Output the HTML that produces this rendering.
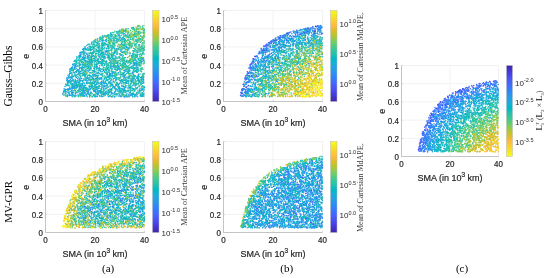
<!DOCTYPE html>
<html><head><meta charset="utf-8"><title>Figure</title>
<style>html,body{margin:0;padding:0;background:#fff;width:550px;height:278px;overflow:hidden}svg{display:block}</style>
</head><body><svg width="550" height="278" viewBox="0 0 550 278"><defs><linearGradient id="gN" x1="0" y1="0" x2="0" y2="1"><stop offset="0.0000" stop-color="#f9fb15"/><stop offset="0.0000" stop-color="#f9fb15"/><stop offset="0.0159" stop-color="#f7f51b"/><stop offset="0.0317" stop-color="#f6ef20"/><stop offset="0.0476" stop-color="#f5e924"/><stop offset="0.0635" stop-color="#f5e327"/><stop offset="0.0794" stop-color="#f7dc2a"/><stop offset="0.0952" stop-color="#fad62d"/><stop offset="0.1111" stop-color="#fccf30"/><stop offset="0.1270" stop-color="#fec934"/><stop offset="0.1429" stop-color="#fec338"/><stop offset="0.1587" stop-color="#febe3c"/><stop offset="0.1746" stop-color="#f8ba3d"/><stop offset="0.1905" stop-color="#f0ba36"/><stop offset="0.2063" stop-color="#e6bb2d"/><stop offset="0.2222" stop-color="#dcbd29"/><stop offset="0.2381" stop-color="#d1bf27"/><stop offset="0.2540" stop-color="#c5c22a"/><stop offset="0.2698" stop-color="#b9c431"/><stop offset="0.2857" stop-color="#abc739"/><stop offset="0.3016" stop-color="#9dc943"/><stop offset="0.3175" stop-color="#8fcb4e"/><stop offset="0.3333" stop-color="#81cc59"/><stop offset="0.3492" stop-color="#72cd64"/><stop offset="0.3651" stop-color="#64cd6f"/><stop offset="0.3810" stop-color="#57cc7a"/><stop offset="0.3968" stop-color="#4acb84"/><stop offset="0.4127" stop-color="#3fca8e"/><stop offset="0.4286" stop-color="#37c897"/><stop offset="0.4444" stop-color="#31c69f"/><stop offset="0.4603" stop-color="#2cc4a6"/><stop offset="0.4762" stop-color="#24c1ae"/><stop offset="0.4921" stop-color="#19bfb5"/><stop offset="0.5079" stop-color="#0bbdbc"/><stop offset="0.5238" stop-color="#02bac3"/><stop offset="0.5397" stop-color="#01b8ca"/><stop offset="0.5556" stop-color="#08b5d0"/><stop offset="0.5714" stop-color="#12b1d6"/><stop offset="0.5873" stop-color="#18addb"/><stop offset="0.6032" stop-color="#1ca9df"/><stop offset="0.6190" stop-color="#20a5e3"/><stop offset="0.6349" stop-color="#23a0e5"/><stop offset="0.6508" stop-color="#259be8"/><stop offset="0.6667" stop-color="#2797eb"/><stop offset="0.6825" stop-color="#2b91ef"/><stop offset="0.6984" stop-color="#2d8cf3"/><stop offset="0.7143" stop-color="#2e87f7"/><stop offset="0.7302" stop-color="#2f81fa"/><stop offset="0.7460" stop-color="#327cfc"/><stop offset="0.7619" stop-color="#3875fe"/><stop offset="0.7778" stop-color="#3e6fff"/><stop offset="0.7937" stop-color="#4269fe"/><stop offset="0.8095" stop-color="#4563fd"/><stop offset="0.8254" stop-color="#465efb"/><stop offset="0.8413" stop-color="#4758f8"/><stop offset="0.8571" stop-color="#4852f4"/><stop offset="0.8730" stop-color="#484df0"/><stop offset="0.8889" stop-color="#4747eb"/><stop offset="0.9048" stop-color="#4741e5"/><stop offset="0.9206" stop-color="#463cde"/><stop offset="0.9365" stop-color="#4537d5"/><stop offset="0.9524" stop-color="#4332cb"/><stop offset="0.9683" stop-color="#422ec0"/><stop offset="0.9841" stop-color="#402ab4"/><stop offset="1.0000" stop-color="#3e26a8"/></linearGradient><linearGradient id="gR" x1="0" y1="0" x2="0" y2="1"><stop offset="0.0000" stop-color="#3e26a8"/><stop offset="0.0159" stop-color="#402ab4"/><stop offset="0.0317" stop-color="#422ec0"/><stop offset="0.0476" stop-color="#4332cb"/><stop offset="0.0635" stop-color="#4537d5"/><stop offset="0.0794" stop-color="#463cde"/><stop offset="0.0952" stop-color="#4741e5"/><stop offset="0.1111" stop-color="#4747eb"/><stop offset="0.1270" stop-color="#484df0"/><stop offset="0.1429" stop-color="#4852f4"/><stop offset="0.1587" stop-color="#4758f8"/><stop offset="0.1746" stop-color="#465efb"/><stop offset="0.1905" stop-color="#4563fd"/><stop offset="0.2063" stop-color="#4269fe"/><stop offset="0.2222" stop-color="#3e6fff"/><stop offset="0.2381" stop-color="#3875fe"/><stop offset="0.2540" stop-color="#327cfc"/><stop offset="0.2698" stop-color="#2f81fa"/><stop offset="0.2857" stop-color="#2e87f7"/><stop offset="0.3016" stop-color="#2d8cf3"/><stop offset="0.3175" stop-color="#2b91ef"/><stop offset="0.3333" stop-color="#2797eb"/><stop offset="0.3492" stop-color="#259be8"/><stop offset="0.3651" stop-color="#23a0e5"/><stop offset="0.3810" stop-color="#20a5e3"/><stop offset="0.3968" stop-color="#1ca9df"/><stop offset="0.4127" stop-color="#18addb"/><stop offset="0.4286" stop-color="#12b1d6"/><stop offset="0.4444" stop-color="#08b5d0"/><stop offset="0.4603" stop-color="#01b8ca"/><stop offset="0.4762" stop-color="#02bac3"/><stop offset="0.4921" stop-color="#0bbdbc"/><stop offset="0.5079" stop-color="#19bfb5"/><stop offset="0.5238" stop-color="#24c1ae"/><stop offset="0.5397" stop-color="#2cc4a6"/><stop offset="0.5556" stop-color="#31c69f"/><stop offset="0.5714" stop-color="#37c897"/><stop offset="0.5873" stop-color="#3fca8e"/><stop offset="0.6032" stop-color="#4acb84"/><stop offset="0.6190" stop-color="#57cc7a"/><stop offset="0.6349" stop-color="#64cd6f"/><stop offset="0.6508" stop-color="#72cd64"/><stop offset="0.6667" stop-color="#81cc59"/><stop offset="0.6825" stop-color="#8fcb4e"/><stop offset="0.6984" stop-color="#9dc943"/><stop offset="0.7143" stop-color="#abc739"/><stop offset="0.7302" stop-color="#b9c431"/><stop offset="0.7460" stop-color="#c5c22a"/><stop offset="0.7619" stop-color="#d1bf27"/><stop offset="0.7778" stop-color="#dcbd29"/><stop offset="0.7937" stop-color="#e6bb2d"/><stop offset="0.8095" stop-color="#f0ba36"/><stop offset="0.8254" stop-color="#f8ba3d"/><stop offset="0.8413" stop-color="#febe3c"/><stop offset="0.8571" stop-color="#fec338"/><stop offset="0.8730" stop-color="#fec934"/><stop offset="0.8889" stop-color="#fccf30"/><stop offset="0.9048" stop-color="#fad62d"/><stop offset="0.9206" stop-color="#f7dc2a"/><stop offset="0.9365" stop-color="#f5e327"/><stop offset="0.9524" stop-color="#f5e924"/><stop offset="0.9683" stop-color="#f6ef20"/><stop offset="0.9841" stop-color="#f7f51b"/><stop offset="1.0000" stop-color="#f9fb15"/><stop offset="1.0000" stop-color="#f9fb15"/></linearGradient></defs><path d="M95.00 10.50V101.50M45.50 83.30H144.50M45.50 65.10H144.50M45.50 46.90H144.50M45.50 28.70H144.50M45.50 10.50H144.50M144.50 10.50V101.50" stroke="#f2f2f2" stroke-width="1" fill="none"/><path d="M45.50 10.50V101.50H144.50" stroke="#c4c4c4" stroke-width="1" fill="none"/><path d="M45.50 101.50h1M45.50 83.30h1M45.50 65.10h1M45.50 46.90h1M45.50 28.70h1M45.50 10.50h1M45.50 101.50v-1M95.00 101.50v-1M144.50 101.50v-1" stroke="#c4c4c4" stroke-width="1" fill="none"/><path d="M273.00 10.50V101.50M223.50 83.30H322.50M223.50 65.10H322.50M223.50 46.90H322.50M223.50 28.70H322.50M223.50 10.50H322.50M322.50 10.50V101.50" stroke="#f2f2f2" stroke-width="1" fill="none"/><path d="M223.50 10.50V101.50H322.50" stroke="#c4c4c4" stroke-width="1" fill="none"/><path d="M223.50 101.50h1M223.50 83.30h1M223.50 65.10h1M223.50 46.90h1M223.50 28.70h1M223.50 10.50h1M223.50 101.50v-1M273.00 101.50v-1M322.50 101.50v-1" stroke="#c4c4c4" stroke-width="1" fill="none"/><path d="M95.00 141.50V232.50M45.50 214.30H144.50M45.50 196.10H144.50M45.50 177.90H144.50M45.50 159.70H144.50M45.50 141.50H144.50M144.50 141.50V232.50" stroke="#f2f2f2" stroke-width="1" fill="none"/><path d="M45.50 141.50V232.50H144.50" stroke="#c4c4c4" stroke-width="1" fill="none"/><path d="M45.50 232.50h1M45.50 214.30h1M45.50 196.10h1M45.50 177.90h1M45.50 159.70h1M45.50 141.50h1M45.50 232.50v-1M95.00 232.50v-1M144.50 232.50v-1" stroke="#c4c4c4" stroke-width="1" fill="none"/><path d="M273.00 141.50V232.50M223.50 214.30H322.50M223.50 196.10H322.50M223.50 177.90H322.50M223.50 159.70H322.50M223.50 141.50H322.50M322.50 141.50V232.50" stroke="#f2f2f2" stroke-width="1" fill="none"/><path d="M223.50 141.50V232.50H322.50" stroke="#c4c4c4" stroke-width="1" fill="none"/><path d="M223.50 232.50h1M223.50 214.30h1M223.50 196.10h1M223.50 177.90h1M223.50 159.70h1M223.50 141.50h1M223.50 232.50v-1M273.00 232.50v-1M322.50 232.50v-1" stroke="#c4c4c4" stroke-width="1" fill="none"/><path d="M450.00 65.50V156.50M401.50 138.30H498.50M401.50 120.10H498.50M401.50 101.90H498.50M401.50 83.70H498.50M401.50 65.50H498.50M498.50 65.50V156.50" stroke="#f2f2f2" stroke-width="1" fill="none"/><path d="M401.50 65.50V156.50H498.50" stroke="#c4c4c4" stroke-width="1" fill="none"/><path d="M401.50 156.50h1M401.50 138.30h1M401.50 120.10h1M401.50 101.90h1M401.50 83.70h1M401.50 65.50h1M401.50 156.50v-1M450.00 156.50v-1M498.50 156.50v-1" stroke="#c4c4c4" stroke-width="1" fill="none"/><g fill="none" stroke-width="1.60" stroke-linecap="round"><path stroke="#4758f8" d="M95.3 81.3h0"/><path stroke="#465efb" d="M97.6 75.5h0"/><path stroke="#4269fe" d="M87.9 90.7h0"/><path stroke="#3e6fff" d="M85.0 90.7h0M87.9 78.0h0"/><path stroke="#3875fe" d="M114.6 92.6h0M78.7 69.7h0"/><path stroke="#327cfc" d="M87.1 83.3h0M75.7 92.9h0M92.9 89.2h0M81.9 93.4h0M131.1 94.5h0M115.9 80.2h0M95.3 91.4h0M107.1 74.9h0M79.8 88.3h0"/><path stroke="#2f81fa" d="M140.3 95.7h0M139.8 64.7h0M79.9 86.6h0M114.6 96.9h0M81.9 59.1h0M76.1 84.0h0M94.9 75.7h0M114.3 86.9h0M88.1 92.2h0M65.7 91.9h0M132.6 72.9h0M118.0 93.8h0"/><path stroke="#2e87f7" d="M133.0 93.6h0M76.5 71.5h0M93.5 88.7h0M101.4 63.3h0M63.5 92.7h0M93.4 78.9h0M113.2 81.1h0M124.5 76.0h0M143.6 80.0h0M71.2 78.3h0M65.5 89.6h0M67.7 95.8h0M102.3 59.7h0M86.5 82.0h0"/><path stroke="#2d8cf3" d="M69.3 92.0h0M111.0 94.2h0M71.6 70.5h0M102.1 46.9h0M102.2 82.5h0M78.0 82.0h0M97.3 91.9h0M92.3 60.1h0M101.9 48.8h0M112.8 85.3h0M121.7 95.0h0M100.7 82.7h0M66.7 80.2h0M69.5 77.5h0M81.2 90.3h0M84.4 64.9h0M79.1 79.4h0M134.2 63.7h0M122.3 59.9h0M124.7 87.0h0M136.5 65.6h0M106.8 44.6h0M102.5 92.0h0M120.8 82.8h0"/><path stroke="#2b91ef" d="M117.1 94.7h0M98.4 70.7h0M101.2 92.3h0M104.6 86.7h0M134.4 94.5h0M119.4 53.9h0M86.6 89.0h0M143.7 82.4h0M121.6 59.5h0M67.2 89.5h0M124.5 76.9h0M96.2 75.3h0M107.1 73.5h0M88.7 79.7h0M102.0 52.6h0M85.3 49.3h0M114.4 66.0h0M100.3 92.7h0M133.6 83.7h0M90.8 80.6h0M83.6 95.2h0M132.1 73.8h0M121.9 39.1h0M112.2 75.4h0M136.7 92.6h0M82.2 84.8h0M83.9 55.1h0M136.7 88.7h0M108.0 47.0h0M84.4 48.3h0M75.6 80.8h0M85.9 94.2h0M128.1 69.2h0M92.1 83.5h0"/><path stroke="#2797eb" d="M119.6 83.2h0M80.4 67.8h0M122.0 49.7h0M117.0 41.4h0M123.3 80.7h0M91.3 79.5h0M86.1 60.7h0M68.9 77.0h0M75.6 82.8h0M99.3 91.0h0M137.1 61.4h0M89.8 86.8h0M71.5 70.2h0M101.8 87.7h0M67.1 95.3h0M78.8 89.7h0M103.7 94.3h0M80.4 54.2h0M133.3 89.4h0M80.8 95.6h0M94.8 85.0h0M133.6 68.6h0M75.6 67.0h0M138.0 69.4h0M108.0 93.8h0M90.4 79.4h0M85.0 75.2h0M89.2 79.1h0M122.9 88.3h0M140.3 94.2h0M81.1 88.8h0M84.9 60.7h0M75.5 84.9h0M99.1 73.5h0M139.6 80.5h0M101.8 62.6h0M80.5 78.0h0M101.7 81.4h0M99.9 78.2h0M81.4 52.4h0M98.1 78.5h0M80.0 54.7h0M75.4 65.3h0M71.1 91.2h0M130.6 85.1h0"/><path stroke="#259be8" d="M84.1 92.3h0M99.9 49.8h0M97.8 80.2h0M87.9 56.6h0M105.4 43.4h0M74.7 95.3h0M91.6 60.6h0M114.0 72.5h0M107.2 57.8h0M134.0 83.4h0M138.4 74.4h0M89.8 76.1h0M141.0 94.6h0M69.3 82.0h0M95.2 74.6h0M104.5 83.5h0M106.3 41.5h0M120.8 51.3h0M74.3 88.3h0M137.4 92.3h0M125.1 92.6h0M136.0 47.8h0M139.6 82.0h0M71.9 93.8h0M137.0 88.3h0M89.7 53.4h0M88.5 91.1h0M91.6 87.3h0M72.2 80.9h0M107.4 77.3h0M83.7 86.1h0M102.5 45.3h0M77.3 70.8h0M125.4 77.9h0M121.8 46.2h0M79.1 84.5h0M136.5 96.0h0M79.3 72.4h0M125.9 82.4h0M123.1 86.1h0M96.8 53.3h0M89.4 62.5h0M91.8 64.6h0M87.1 78.8h0M112.0 84.4h0M105.0 92.6h0M115.0 73.5h0M88.4 59.2h0M86.8 45.5h0M128.9 71.9h0M86.2 69.7h0M106.6 61.0h0"/><path stroke="#23a0e5" d="M135.1 83.0h0M77.0 87.2h0M107.1 74.4h0M74.6 72.5h0M130.2 53.5h0M102.6 86.0h0M116.5 82.6h0M108.2 93.6h0M102.6 45.3h0M72.4 70.6h0M79.5 83.3h0M107.6 84.8h0M116.1 78.2h0M98.1 94.6h0M96.7 66.6h0M129.6 35.7h0M110.8 81.1h0M102.8 96.5h0M80.3 80.0h0M76.8 84.7h0M78.7 82.6h0M94.5 41.6h0M119.3 60.6h0M95.1 86.0h0M133.8 70.9h0M115.9 93.9h0M118.1 85.6h0M87.6 57.5h0M83.5 62.4h0M111.1 73.8h0M121.6 55.3h0M91.4 64.3h0M84.1 68.0h0M78.9 56.0h0M79.7 85.9h0M108.9 72.1h0M109.5 43.4h0M66.3 91.8h0M98.6 46.6h0M69.0 82.8h0M116.6 51.8h0M93.8 74.1h0M108.2 55.0h0M126.2 61.3h0M72.5 66.9h0M97.7 68.3h0M141.1 88.7h0M82.6 57.6h0M132.6 79.6h0M91.5 49.9h0M68.6 89.5h0"/><path stroke="#20a5e3" d="M111.4 92.1h0M91.4 68.0h0M68.8 81.1h0M117.3 69.2h0M141.1 84.0h0M75.6 93.2h0M119.6 89.0h0M136.5 84.3h0M142.4 83.2h0M71.3 81.6h0M108.9 70.3h0M91.2 93.0h0M81.3 62.3h0M110.8 61.7h0M101.3 63.0h0M115.3 37.1h0M101.3 88.8h0M119.9 88.1h0M136.3 64.3h0M92.3 85.9h0M142.5 79.0h0M81.3 73.2h0M121.2 91.3h0M104.9 83.2h0M107.1 50.7h0M125.2 79.6h0M72.3 77.1h0M102.3 75.3h0M117.5 68.7h0M136.1 63.2h0M101.4 40.1h0M104.2 85.2h0M95.6 85.3h0M71.2 72.7h0M119.3 91.9h0M115.2 56.0h0M125.0 71.3h0M142.0 46.3h0M79.1 90.8h0M102.6 40.7h0M120.3 55.2h0M115.8 65.8h0M93.5 81.3h0M125.9 87.1h0M73.2 88.1h0M120.6 92.7h0M129.6 86.7h0M127.0 96.9h0M89.8 89.9h0M117.5 58.4h0M67.2 82.1h0M78.7 85.2h0M110.7 60.7h0M75.1 88.0h0M67.7 83.9h0M70.9 88.5h0M115.9 66.9h0M97.4 96.2h0M89.8 95.1h0"/><path stroke="#1ca9df" d="M100.4 39.0h0M136.5 62.4h0M90.7 79.5h0M125.1 96.6h0M79.7 67.7h0M97.3 47.3h0M101.6 43.8h0M103.2 87.3h0M79.5 78.5h0M120.6 68.7h0M120.5 40.6h0M73.1 76.8h0M93.5 51.9h0M136.0 31.5h0M98.4 75.7h0M79.5 56.3h0M113.4 67.0h0M74.6 63.8h0M72.7 86.5h0M116.3 89.5h0M93.4 83.2h0M81.1 84.9h0M115.0 40.9h0M79.6 66.1h0M114.8 66.9h0M127.3 77.7h0M89.9 49.7h0M128.0 90.4h0M72.5 88.4h0M126.9 77.2h0M69.8 95.5h0M103.7 94.3h0M111.4 79.7h0M90.8 72.7h0M82.7 83.6h0M78.5 95.3h0M131.4 66.3h0M128.7 32.5h0M121.6 52.1h0M102.0 47.4h0M90.7 82.0h0M130.1 70.7h0M67.6 89.9h0M90.1 89.4h0M137.7 87.3h0M95.5 81.4h0M88.3 89.2h0M81.5 67.9h0M85.9 77.6h0M106.8 83.7h0M78.5 74.0h0M112.1 96.7h0M106.5 63.5h0M108.6 69.7h0M76.1 82.5h0M123.4 62.2h0M122.5 89.1h0M99.8 86.4h0M89.5 86.9h0M138.8 45.0h0M123.0 60.3h0M82.6 74.9h0M118.7 87.4h0M109.3 74.4h0M136.5 63.2h0M144.2 50.1h0M110.9 80.2h0M94.7 60.6h0M99.8 47.5h0M122.9 89.9h0M79.8 52.8h0M85.3 48.6h0M85.6 80.1h0M105.5 82.4h0M108.2 76.3h0M72.7 94.5h0M94.2 87.7h0M117.8 89.7h0M140.0 90.9h0M73.2 65.0h0M115.7 60.5h0M116.8 40.5h0M80.9 64.3h0"/><path stroke="#18addb" d="M102.9 57.4h0M90.1 68.4h0M131.2 61.2h0M72.1 95.5h0M75.8 82.0h0M92.7 75.1h0M128.8 90.5h0M99.7 90.9h0M104.6 43.8h0M116.1 63.2h0M141.9 76.4h0M85.8 88.6h0M111.4 51.0h0M124.3 80.2h0M108.6 49.0h0M90.8 47.8h0M115.3 61.2h0M111.0 75.4h0M106.5 61.6h0M108.8 52.7h0M118.3 67.0h0M111.7 79.1h0M126.9 71.3h0M134.8 94.9h0M94.1 81.0h0M112.0 57.9h0M107.0 91.4h0M114.3 75.9h0M94.2 46.4h0M122.6 37.7h0M137.6 26.1h0M134.0 83.1h0M80.0 86.2h0M103.2 80.8h0M106.2 68.6h0M81.2 60.5h0M76.1 60.0h0M76.0 64.2h0M124.2 90.3h0M115.4 67.2h0M106.0 92.5h0M131.2 47.6h0M111.2 84.7h0M134.6 90.9h0M108.2 45.1h0M126.5 73.6h0M80.0 55.5h0M125.4 52.5h0M140.9 94.4h0M89.4 60.4h0M135.4 54.7h0M91.4 59.9h0M134.8 65.2h0M89.3 70.1h0M89.7 64.3h0M74.2 68.0h0M127.7 66.9h0M101.2 78.4h0M120.5 91.5h0M82.4 52.4h0M134.5 90.2h0M106.4 70.8h0M106.0 54.7h0M116.7 38.4h0M68.1 75.2h0M102.0 63.8h0M76.3 68.8h0M91.6 83.3h0M116.6 74.5h0M123.8 72.8h0M131.2 46.2h0M95.0 41.5h0M87.3 56.8h0M84.2 93.5h0M95.2 88.6h0M79.3 64.4h0M74.8 96.4h0M79.1 63.8h0M140.5 95.7h0M64.2 88.7h0M103.2 58.1h0M120.0 72.0h0M81.0 80.5h0M72.9 83.7h0M111.0 45.7h0M85.0 63.7h0M108.8 57.7h0M129.7 55.8h0M132.0 55.5h0M100.2 58.8h0M135.3 64.0h0M72.9 85.6h0M94.3 68.3h0"/><path stroke="#12b1d6" d="M138.9 81.3h0M101.9 73.4h0M123.9 74.8h0M125.4 75.4h0M118.7 84.6h0M66.8 78.3h0M121.6 45.1h0M138.0 79.4h0M123.7 67.6h0M99.4 56.6h0M123.3 73.5h0M75.7 83.9h0M123.0 59.7h0M79.5 75.1h0M108.3 34.7h0M131.2 82.1h0M125.1 87.8h0M140.8 28.1h0M86.8 49.1h0M111.7 88.7h0M83.2 72.6h0M73.9 90.2h0M116.0 96.0h0M125.1 83.1h0M132.9 88.8h0M137.7 54.7h0M141.5 80.1h0M122.1 59.9h0M80.8 76.6h0M104.4 56.1h0M126.4 46.4h0M109.5 76.1h0M138.0 80.2h0M108.9 58.5h0M89.0 80.8h0M115.9 79.9h0M100.0 57.3h0M82.0 94.8h0M71.8 68.3h0M94.3 66.6h0M111.9 59.9h0M115.2 77.4h0M137.9 67.7h0M132.6 93.3h0M133.4 68.0h0M114.8 87.8h0M137.4 80.4h0M94.4 68.4h0M78.7 95.9h0M129.7 42.1h0M113.4 62.3h0M103.1 94.6h0M67.6 80.5h0M140.4 42.2h0M87.2 66.3h0M87.1 96.6h0M106.4 78.8h0M82.5 85.6h0M82.4 91.1h0M89.3 64.0h0M114.7 51.5h0M97.2 73.2h0M88.1 63.8h0M132.5 55.4h0M72.9 91.7h0M100.8 71.6h0M105.5 91.6h0M110.0 65.6h0M105.9 88.1h0M116.7 82.6h0M101.8 83.9h0M98.1 59.9h0M73.8 80.6h0M77.4 87.1h0M124.6 72.7h0M123.1 79.6h0M96.3 76.0h0M129.5 67.6h0M123.7 94.8h0M67.6 89.0h0M75.1 85.0h0M77.8 69.8h0M117.6 53.0h0"/><path stroke="#08b5d0" d="M112.5 85.0h0M101.8 69.2h0M134.9 36.2h0M107.8 46.4h0M123.4 39.2h0M83.6 49.1h0M65.0 86.5h0M82.5 70.6h0M96.1 84.5h0M89.6 94.8h0M129.3 85.7h0M116.9 79.2h0M73.5 92.7h0M134.0 51.2h0M104.4 71.6h0M72.2 75.0h0M113.8 78.5h0M85.5 70.8h0M134.4 63.6h0M142.1 96.5h0M79.0 57.9h0M137.2 71.7h0M96.9 51.1h0M121.1 88.5h0M100.4 54.0h0M140.5 38.9h0M89.5 75.2h0M110.6 45.9h0M102.3 64.7h0M81.7 93.8h0M84.2 57.5h0M71.2 68.4h0M141.1 82.1h0M107.3 73.0h0M135.4 80.9h0M106.2 67.7h0M128.3 61.6h0M103.7 92.0h0M112.9 45.4h0M117.8 78.0h0M142.2 89.8h0M71.7 85.0h0M129.5 46.0h0M84.6 73.6h0M117.8 65.8h0M106.8 38.0h0M75.5 85.2h0M141.1 62.6h0M100.9 78.8h0M77.0 60.8h0M106.2 36.6h0M73.2 80.0h0M140.1 49.9h0M71.8 95.2h0M118.5 31.5h0M98.4 48.1h0M109.3 77.2h0M76.4 85.8h0M114.5 48.1h0M128.5 61.8h0M85.2 55.9h0M80.1 60.9h0M108.4 46.7h0M76.2 86.3h0M88.1 56.0h0M82.1 52.2h0M110.6 38.8h0M103.9 48.9h0M122.3 74.1h0M114.0 64.9h0M102.9 63.0h0M69.8 73.6h0M104.3 56.8h0M85.5 78.0h0M84.1 86.0h0M105.2 53.0h0M83.3 87.9h0M102.9 91.5h0M75.2 66.1h0M121.4 43.5h0M143.7 94.4h0M98.3 88.5h0M128.1 73.5h0M96.1 73.8h0M82.9 59.6h0M113.2 66.4h0M99.2 90.5h0M108.6 46.1h0M135.6 70.9h0M142.8 51.1h0M114.4 94.1h0M95.0 59.9h0M114.6 92.2h0"/><path stroke="#01b8ca" d="M69.7 89.3h0M116.9 54.5h0M101.4 86.1h0M76.0 86.9h0M124.6 87.6h0M101.6 89.1h0M88.2 93.4h0M82.2 61.8h0M134.8 29.8h0M82.2 63.1h0M94.4 70.5h0M113.1 66.0h0M134.6 83.8h0M95.0 46.1h0M110.9 66.2h0M115.0 62.6h0M66.6 84.8h0M113.9 60.6h0M100.6 90.5h0M122.8 64.6h0M88.1 89.3h0M135.4 76.1h0M93.4 76.7h0M109.6 92.5h0M84.5 85.9h0M65.9 95.8h0M133.0 53.7h0M120.8 61.8h0M79.1 86.3h0M88.8 66.6h0M124.1 70.3h0M95.0 64.3h0M96.6 50.2h0M113.9 32.7h0M122.4 44.9h0M81.4 85.9h0M97.3 78.2h0M115.7 88.6h0M108.1 76.4h0M141.2 90.4h0M83.3 90.4h0M114.0 42.8h0M90.3 75.5h0M141.9 45.9h0M67.7 83.1h0M98.2 59.7h0M130.6 39.1h0M89.1 46.3h0M103.9 63.5h0M134.9 68.4h0M82.4 84.2h0M78.2 60.3h0M83.8 58.2h0M143.5 63.4h0M98.4 72.7h0M134.4 77.0h0M95.5 78.8h0M110.3 74.4h0M133.9 58.0h0M93.8 71.6h0M91.1 59.5h0M103.4 54.2h0M115.1 38.6h0M106.5 48.4h0M111.0 66.8h0M91.0 59.7h0M116.9 63.0h0M85.6 71.3h0M134.2 84.2h0M109.5 96.1h0M141.2 49.4h0M77.6 90.8h0M111.8 57.1h0M126.8 61.4h0M87.0 78.0h0M70.4 77.2h0M91.7 85.4h0M142.4 92.9h0M111.1 76.6h0M81.5 87.7h0M134.4 90.7h0M115.8 51.9h0M138.7 64.9h0M96.3 65.2h0M121.2 96.4h0M128.5 37.5h0M132.9 78.6h0M123.7 62.5h0M117.7 65.3h0M78.8 77.0h0M74.8 82.9h0M105.4 82.2h0M131.7 58.8h0M108.6 90.6h0M123.6 31.1h0M129.9 75.1h0M114.5 76.2h0M77.6 74.2h0M111.7 90.4h0M78.9 91.5h0"/><path stroke="#02bac3" d="M89.0 94.8h0M64.4 91.1h0M90.7 86.4h0M97.2 40.1h0M121.7 85.3h0M134.6 67.9h0M88.1 44.3h0M115.9 57.9h0M119.2 36.2h0M128.2 77.2h0M79.6 81.0h0M93.8 55.8h0M87.1 66.7h0M132.8 61.8h0M82.8 52.7h0M144.0 54.1h0M75.4 90.7h0M139.1 76.2h0M138.6 93.0h0M124.6 33.8h0M92.1 86.5h0M126.5 61.1h0M129.4 68.5h0M98.9 68.4h0M91.9 60.9h0M72.6 87.0h0M100.8 84.3h0M107.0 71.2h0M123.7 37.1h0M97.7 42.7h0M137.3 69.3h0M141.1 61.4h0M89.6 69.9h0M75.1 60.4h0M88.9 57.5h0M123.4 52.2h0M95.9 90.0h0M75.2 79.2h0M89.7 94.8h0M97.1 68.6h0M130.6 92.2h0M76.8 58.7h0M119.9 95.3h0M130.5 87.5h0M111.4 92.8h0M89.3 86.8h0M91.9 93.8h0M112.6 58.8h0M143.9 86.8h0M83.4 51.2h0M103.4 67.1h0M136.3 70.3h0M129.0 45.0h0M90.3 83.2h0M133.3 34.9h0M123.5 30.3h0M111.1 57.0h0M126.0 44.5h0M129.8 64.6h0M71.5 77.1h0M84.5 75.6h0M110.6 33.7h0M142.5 94.8h0M137.0 56.1h0M112.7 73.1h0M88.6 50.3h0M133.7 62.5h0M87.0 58.6h0M94.3 58.5h0M93.9 50.4h0M70.4 71.8h0M102.0 65.6h0M104.4 72.2h0M100.4 37.3h0M93.6 79.8h0M95.9 71.8h0M128.7 61.6h0M88.4 67.9h0M106.4 36.1h0M73.6 92.6h0M142.5 95.2h0M133.2 29.4h0M126.2 91.4h0M142.8 53.7h0M94.0 88.3h0M122.4 81.8h0M96.5 78.5h0M133.0 77.6h0M137.0 76.7h0M134.6 35.1h0M121.8 74.8h0M72.0 92.8h0M139.3 38.3h0M110.1 35.1h0M120.6 76.0h0M100.9 90.7h0M104.9 45.0h0M108.0 51.2h0"/><path stroke="#0bbdbc" d="M117.8 86.7h0M83.4 51.5h0M84.8 76.5h0M89.4 88.0h0M105.9 85.8h0M116.4 31.7h0M87.3 75.8h0M131.7 81.3h0M102.3 40.4h0M90.2 57.9h0M97.2 88.2h0M74.1 88.3h0M98.0 47.6h0M113.2 75.6h0M143.8 60.0h0M83.4 59.7h0M140.5 62.2h0M112.6 58.0h0M93.5 81.5h0M111.6 36.6h0M124.9 67.3h0M112.1 61.5h0M109.7 76.2h0M90.3 50.8h0M82.2 75.6h0M137.7 54.4h0M74.7 85.6h0M71.9 73.2h0M114.8 45.7h0M103.8 93.5h0M139.2 82.3h0M115.8 90.9h0M117.0 75.0h0M127.0 80.2h0M88.9 82.5h0M88.5 65.7h0M120.2 71.2h0M70.1 69.0h0M96.5 49.4h0M95.5 96.0h0M120.2 33.0h0M141.2 48.0h0M81.6 68.7h0M88.1 75.4h0M115.3 75.9h0M134.5 58.7h0M82.0 95.7h0M104.6 57.5h0M74.5 88.5h0M73.4 72.4h0M72.8 64.3h0M101.5 53.5h0M114.6 60.1h0M79.4 61.1h0M134.6 34.1h0M114.5 58.4h0M116.8 70.0h0M138.3 62.4h0M98.6 63.6h0M103.6 57.1h0M89.5 55.4h0M90.4 49.7h0M124.3 51.9h0M132.0 81.6h0M143.9 73.7h0M104.0 46.1h0M87.5 92.1h0M110.3 68.3h0M116.0 56.8h0M139.2 39.2h0M93.1 60.2h0M103.6 70.0h0M96.7 80.1h0M102.3 49.4h0M88.6 68.4h0M139.8 32.9h0M109.3 38.9h0M130.4 91.1h0M83.2 96.2h0M125.8 64.5h0M114.8 88.8h0M103.6 94.2h0M128.3 81.4h0M135.3 88.8h0M132.1 27.7h0M139.8 51.7h0M112.1 61.6h0M133.2 35.7h0M109.1 72.1h0M127.3 91.1h0M114.7 69.3h0M83.3 91.7h0M92.2 85.2h0M98.5 93.6h0M73.4 70.4h0M132.4 66.7h0M138.1 39.0h0M117.2 66.8h0M85.1 80.3h0"/><path stroke="#19bfb5" d="M122.6 63.9h0M87.2 61.9h0M82.7 67.9h0M120.6 91.3h0M124.5 63.8h0M90.2 56.3h0M92.8 61.5h0M104.2 42.8h0M124.4 63.9h0M119.4 35.6h0M120.8 72.9h0M137.7 48.2h0M112.8 63.6h0M144.2 31.0h0M136.1 71.6h0M111.1 84.4h0M127.3 72.0h0M132.1 45.9h0M120.7 47.4h0M93.8 43.8h0M92.9 56.5h0M82.5 91.9h0M76.5 62.1h0M99.4 51.4h0M107.6 68.3h0M102.8 61.8h0M128.6 60.8h0M72.7 84.8h0M121.4 35.2h0M143.3 36.6h0M143.0 43.2h0M125.3 74.9h0M104.3 90.1h0M143.4 58.3h0M137.6 68.0h0M139.1 66.0h0M122.5 68.1h0M125.3 63.5h0M65.4 93.6h0M104.1 67.7h0M101.8 84.5h0M116.0 58.5h0M94.7 44.5h0M139.5 38.6h0M140.9 58.0h0M132.4 76.8h0M135.0 58.2h0M69.8 87.5h0M74.1 61.4h0M130.8 81.1h0M113.1 95.2h0M104.9 93.7h0M118.7 31.5h0M108.4 47.0h0M127.8 32.0h0M125.2 95.4h0M112.8 56.5h0M125.1 39.6h0M108.9 83.6h0M81.1 52.3h0M99.9 48.6h0M134.6 45.0h0M86.7 91.8h0M124.2 67.6h0M85.8 49.3h0M140.0 58.9h0M122.1 92.2h0M140.7 95.9h0M122.9 58.4h0M68.9 76.0h0M92.3 82.3h0M78.5 71.4h0M123.8 44.0h0M123.9 62.9h0M135.7 59.8h0M103.3 69.8h0M123.4 52.7h0M133.2 69.0h0M120.5 45.0h0M120.3 65.5h0M130.0 48.0h0M65.8 84.2h0M130.5 60.3h0M96.8 82.9h0M116.8 74.6h0M107.7 53.9h0M83.9 82.5h0M139.0 63.0h0M124.5 63.7h0M100.6 91.4h0M138.0 84.2h0M88.1 53.0h0M110.3 89.6h0M104.1 79.5h0M137.0 56.0h0M143.5 76.0h0"/><path stroke="#24c1ae" d="M111.7 48.3h0M103.0 92.9h0M111.6 45.4h0M85.8 90.5h0M93.5 71.1h0M127.8 39.3h0M124.0 78.1h0M122.4 61.6h0M92.0 88.2h0M76.6 61.2h0M138.6 58.8h0M108.6 40.4h0M100.0 51.5h0M100.8 54.1h0M107.2 79.7h0M86.1 66.0h0M143.0 81.7h0M89.9 48.2h0M130.4 61.5h0M103.9 42.8h0M122.9 58.8h0M109.0 83.1h0M121.4 80.1h0M125.5 92.1h0M122.2 48.5h0M116.9 35.6h0M69.9 86.0h0M77.7 65.6h0M85.2 88.1h0M130.9 76.0h0M119.7 63.6h0M130.4 62.6h0M132.9 71.3h0M134.5 48.8h0M140.9 32.8h0M85.3 74.5h0M115.0 94.5h0M135.0 49.3h0M134.5 54.5h0M114.2 64.7h0M109.4 89.7h0M113.1 93.8h0M84.5 71.9h0M128.1 67.0h0M123.1 74.5h0M81.5 93.4h0M136.1 35.5h0M138.3 93.0h0M87.0 80.3h0M72.2 87.0h0M105.2 53.2h0M116.3 85.3h0M118.2 69.0h0M127.0 83.5h0M137.5 78.5h0M111.7 62.2h0M139.3 45.1h0M126.7 60.2h0M107.4 36.3h0M90.0 59.3h0M130.0 73.9h0M123.3 55.3h0M119.1 58.0h0M81.6 54.1h0M108.9 70.3h0M103.9 69.5h0M126.1 49.0h0M125.4 86.0h0M103.3 89.2h0M94.0 56.8h0M107.9 80.7h0M106.2 78.2h0M143.4 82.9h0M133.8 63.6h0M133.5 74.9h0M135.3 32.0h0M82.4 73.5h0M94.0 90.9h0M136.3 30.1h0M75.3 83.2h0M80.3 59.9h0M140.0 93.1h0M123.2 63.4h0M126.3 61.7h0M134.1 29.7h0"/><path stroke="#2cc4a6" d="M83.1 89.6h0M113.0 86.5h0M143.4 35.9h0M118.4 93.4h0M99.4 50.6h0M140.3 50.7h0M74.1 81.2h0M144.2 41.7h0M108.8 92.9h0M86.0 68.0h0M71.9 74.9h0M107.1 52.8h0M138.6 81.7h0M129.6 67.4h0M114.8 72.0h0M112.8 71.6h0M91.0 52.8h0M100.5 55.4h0M95.6 55.2h0M96.9 61.1h0M96.8 60.4h0M85.9 50.0h0M85.3 77.0h0M127.1 44.7h0M108.2 57.5h0M112.3 42.7h0M88.6 78.3h0M137.2 31.5h0M127.6 36.4h0M111.8 70.8h0M134.9 90.4h0M139.4 49.5h0M96.2 42.8h0M93.9 75.8h0M129.0 67.9h0M103.0 51.3h0M97.2 84.1h0M141.4 39.7h0M109.7 41.0h0M95.5 53.7h0M93.7 58.4h0M143.4 32.4h0M124.5 62.7h0M142.2 57.8h0M92.4 84.1h0M142.9 27.6h0M109.6 37.1h0M138.4 28.5h0M122.1 31.9h0M117.3 62.6h0M128.8 62.7h0M82.6 61.9h0M130.8 88.5h0M139.0 26.8h0M139.2 92.1h0M116.4 85.1h0M128.8 81.9h0M140.3 61.2h0M92.4 96.9h0M81.3 84.4h0M76.4 72.4h0M63.6 95.0h0M126.3 61.5h0M90.4 82.6h0M137.2 28.5h0M96.8 45.5h0M138.7 78.8h0M129.1 86.3h0M128.9 69.3h0M94.7 94.9h0M141.7 57.5h0M120.8 63.6h0M136.4 43.3h0M118.8 35.5h0M94.2 49.0h0M113.2 37.0h0M109.0 57.1h0M122.9 47.8h0M141.0 71.3h0M91.2 57.6h0M111.5 68.3h0M109.4 72.9h0M127.6 63.0h0M120.7 81.7h0"/><path stroke="#31c69f" d="M117.5 46.1h0M129.3 61.9h0M120.1 63.9h0M102.9 39.2h0M73.9 85.3h0M99.8 46.2h0M102.3 64.8h0M136.8 54.4h0M123.6 86.6h0M141.2 40.8h0M123.7 45.3h0M125.8 78.3h0M103.0 73.7h0M97.4 50.8h0M127.3 61.1h0M83.2 54.8h0M107.9 93.6h0M101.6 60.9h0M78.3 85.7h0M139.6 63.3h0M92.0 93.7h0M131.9 28.4h0M99.4 45.4h0M102.0 50.6h0M117.5 34.0h0M108.3 35.9h0M137.7 96.7h0M113.9 40.8h0M140.7 39.0h0M137.6 69.4h0M122.9 92.1h0M121.8 39.9h0M106.5 67.0h0M111.9 93.0h0M110.4 78.3h0M102.5 91.9h0M76.0 62.7h0M94.6 69.3h0M139.1 51.6h0M99.7 56.8h0M94.9 52.2h0M126.7 41.3h0M103.7 44.0h0M83.5 64.6h0M126.7 40.9h0M110.4 95.7h0M118.5 48.3h0M113.0 34.5h0M115.4 69.5h0M127.1 67.4h0M129.0 73.8h0M99.1 92.3h0M125.3 49.0h0M135.6 36.2h0M94.1 86.4h0M88.2 44.5h0M102.3 59.7h0M123.8 59.3h0M118.6 72.7h0M91.6 44.1h0M137.4 55.8h0M131.1 67.5h0M127.4 77.4h0M96.6 69.0h0M115.0 81.2h0M98.1 82.1h0M101.3 95.5h0M137.0 66.9h0M124.3 47.8h0M113.6 40.0h0M112.9 54.3h0M117.9 41.0h0M119.2 41.1h0M123.4 33.3h0M104.8 58.0h0M78.2 96.8h0M140.0 57.0h0M124.6 30.9h0M124.1 35.7h0M111.0 59.8h0M131.8 28.2h0M103.7 59.7h0"/><path stroke="#37c897" d="M138.7 65.0h0M95.8 54.7h0M85.4 92.8h0M125.0 66.2h0M74.2 83.8h0M111.8 50.1h0M133.2 78.8h0M102.4 73.6h0M144.0 73.7h0M125.3 46.6h0M122.9 95.6h0M98.9 50.0h0M116.0 50.2h0M98.4 92.5h0M139.7 58.6h0M141.1 83.7h0M81.0 95.7h0M79.1 74.9h0M83.5 80.5h0M85.6 88.9h0M119.0 49.2h0M110.1 41.3h0M102.6 48.0h0M141.6 59.9h0M99.0 48.3h0M128.1 47.6h0M86.0 73.2h0M115.5 86.6h0M101.9 37.0h0M117.8 91.3h0M95.5 79.4h0M126.8 61.6h0M114.8 44.0h0M105.3 44.3h0M113.5 67.7h0M111.3 69.9h0M141.2 48.9h0M95.4 60.9h0M113.0 73.4h0M105.1 77.5h0M128.8 40.2h0M138.5 33.7h0M144.5 36.3h0M141.9 44.0h0M108.2 34.9h0M81.5 90.0h0M140.4 68.2h0M93.7 42.5h0M90.6 79.6h0M74.6 90.4h0M128.5 48.6h0M106.4 68.6h0M121.5 29.4h0M118.6 79.4h0M126.6 65.8h0M93.1 86.6h0M122.4 58.8h0M105.4 62.8h0M112.4 56.4h0M77.8 95.0h0M136.1 85.0h0M139.2 48.7h0M95.0 48.4h0M106.0 73.2h0M143.4 60.1h0M127.9 40.5h0M79.5 67.6h0"/><path stroke="#3fca8e" d="M134.2 78.2h0M113.1 43.3h0M98.1 70.7h0M75.5 76.6h0M107.7 48.4h0M123.5 89.2h0M121.0 59.8h0M111.5 55.2h0M134.9 75.9h0M136.8 29.6h0M102.4 61.6h0M141.0 53.6h0M87.3 54.0h0M88.8 59.6h0M130.6 62.3h0M79.1 66.4h0M141.4 95.2h0M144.3 43.2h0M101.5 51.9h0M138.6 40.0h0M124.9 52.5h0M111.8 52.8h0M140.1 60.4h0M144.5 32.9h0M135.1 54.4h0M104.7 93.9h0M136.5 50.3h0M133.5 48.2h0M118.9 44.9h0M117.1 53.1h0M116.9 42.4h0M140.3 85.0h0M134.6 30.3h0M140.0 54.7h0M68.5 90.5h0M138.2 46.3h0M136.3 28.0h0M130.6 30.6h0M118.6 87.0h0M87.1 68.7h0M124.3 52.8h0"/><path stroke="#4acb84" d="M144.0 48.8h0M96.9 73.3h0M119.2 88.5h0M136.5 33.8h0M127.7 48.7h0M133.9 85.5h0M110.2 85.2h0M128.9 36.5h0M131.4 90.6h0M133.1 40.4h0M133.4 60.7h0M109.7 39.5h0M135.9 51.9h0M90.5 56.6h0M130.7 80.6h0M131.0 33.8h0M80.0 73.5h0M143.6 60.6h0M109.3 81.9h0M140.4 58.0h0M122.9 56.2h0M113.4 44.1h0M142.4 67.7h0M103.6 37.6h0M139.6 60.6h0M115.0 35.3h0M141.3 68.3h0M85.3 46.8h0M101.3 45.4h0M80.3 75.2h0M107.2 36.3h0M121.2 81.0h0M120.6 77.6h0M122.6 29.3h0M80.8 61.3h0M131.8 47.1h0M92.1 58.2h0M132.7 61.5h0M122.6 41.3h0M106.9 79.5h0M125.0 45.2h0M136.8 37.2h0"/><path stroke="#57cc7a" d="M118.5 40.7h0M133.2 27.6h0M114.8 31.2h0M117.7 69.5h0M142.7 40.0h0M129.1 44.7h0M142.5 43.3h0M132.1 90.3h0M124.5 42.7h0M122.1 52.3h0M120.7 64.8h0M124.8 95.6h0M133.8 37.3h0M105.9 72.7h0M119.1 37.7h0M114.4 82.6h0M84.6 71.1h0M73.7 81.8h0M126.1 40.9h0M126.0 29.7h0M133.1 29.2h0M137.5 50.4h0M120.6 31.2h0M82.3 93.0h0M111.3 40.1h0M141.9 87.7h0M125.6 51.7h0M112.9 61.0h0M109.3 53.7h0"/><path stroke="#64cd6f" d="M139.0 86.2h0M136.1 46.3h0M114.5 60.9h0M118.4 62.5h0M141.4 50.3h0M95.1 80.0h0M129.4 37.1h0M123.0 68.8h0M130.2 35.1h0M137.3 34.2h0M126.2 37.1h0M122.7 31.1h0M144.0 47.4h0M130.6 45.9h0M138.4 62.7h0M136.7 41.5h0M104.6 78.2h0M143.2 77.5h0M138.7 31.5h0M92.9 62.6h0M82.7 89.0h0M100.9 92.9h0M110.5 84.0h0"/><path stroke="#72cd64" d="M142.3 76.8h0M140.1 65.2h0M122.2 47.3h0M96.7 77.2h0M140.9 47.7h0M138.7 25.9h0M125.2 79.0h0M81.5 52.3h0M74.7 89.4h0M126.4 66.9h0M114.1 36.3h0M143.9 36.1h0M118.3 44.3h0M71.0 83.3h0M132.6 39.3h0M139.8 70.6h0M144.2 29.0h0M84.1 71.0h0M134.5 35.4h0M140.3 26.7h0M136.7 27.8h0M127.0 51.1h0M143.6 48.7h0"/><path stroke="#81cc59" d="M126.1 35.6h0M128.9 90.5h0M139.3 31.8h0M132.4 31.6h0M110.7 41.0h0M130.7 75.9h0M110.0 65.8h0M65.4 95.7h0M129.9 34.3h0M131.9 43.0h0M133.0 39.4h0M143.9 29.8h0M128.0 60.8h0M131.2 32.8h0M95.7 50.4h0M98.4 61.8h0M96.4 56.6h0"/><path stroke="#8fcb4e" d="M111.4 41.0h0M136.7 55.9h0M128.8 74.2h0M116.8 42.9h0M106.7 51.7h0M122.6 80.0h0M117.4 82.2h0M132.2 36.4h0M121.2 41.8h0M143.9 25.5h0M124.5 30.2h0M82.0 94.3h0M80.7 96.8h0M137.3 29.5h0"/><path stroke="#9dc943" d="M140.9 29.4h0M143.1 52.9h0M138.7 34.9h0M142.0 88.0h0M94.7 40.0h0M137.3 35.6h0M109.4 42.5h0M134.3 31.8h0"/><path stroke="#abc739" d="M136.8 35.3h0M127.7 32.9h0M128.2 31.4h0M120.2 53.8h0M109.4 56.1h0M129.9 43.3h0"/><path stroke="#b9c431" d="M126.2 29.3h0M127.7 60.4h0M143.5 63.8h0M125.6 42.3h0"/><path stroke="#c5c22a" d="M82.0 88.9h0"/><path stroke="#d1bf27" d="M135.3 32.0h0"/><path stroke="#e6bb2d" d="M141.9 29.6h0"/><path stroke="#f8ba3d" d="M138.9 29.9h0"/><path stroke="#fccf30" d="M139.8 28.7h0"/><path stroke="#4269fe" d="M98.0 93.4h0M90.1 93.2h0"/><path stroke="#3e6fff" d="M91.4 58.1h0M75.0 74.7h0M94.8 82.6h0M89.5 94.8h0M103.1 94.7h0"/><path stroke="#3875fe" d="M134.7 64.7h0M69.7 73.5h0M92.7 78.4h0"/><path stroke="#327cfc" d="M123.0 86.2h0M133.4 82.5h0M79.6 68.8h0M126.5 82.1h0M71.7 67.9h0M102.1 55.3h0M71.3 93.3h0"/><path stroke="#2f81fa" d="M142.5 85.9h0M126.3 83.1h0M83.8 49.1h0M118.3 68.9h0M109.1 50.7h0M130.9 95.6h0M91.9 56.4h0M67.4 79.6h0"/><path stroke="#2e87f7" d="M72.2 88.3h0M74.6 67.1h0M128.7 94.8h0M96.2 86.7h0M68.9 88.9h0M106.6 88.3h0M117.3 70.2h0M108.6 87.0h0M130.3 79.0h0M113.0 47.2h0M80.2 94.8h0M73.9 72.5h0M111.0 62.7h0M114.2 52.5h0M69.0 93.4h0M74.2 87.6h0"/><path stroke="#2d8cf3" d="M79.7 58.1h0M95.3 90.8h0M87.5 93.8h0M132.0 56.6h0M98.1 72.7h0M90.6 92.3h0M125.4 66.4h0M82.3 80.8h0M64.3 90.0h0M71.7 76.6h0M124.3 96.9h0M110.9 85.7h0M88.8 62.9h0M70.3 79.6h0M78.0 92.3h0M75.8 71.7h0M71.1 91.5h0M118.9 34.4h0M84.5 90.8h0M95.6 87.5h0M128.4 91.0h0M99.2 79.0h0M101.2 58.0h0M81.8 68.9h0M88.3 92.1h0M110.2 91.0h0M118.3 66.6h0M133.6 27.8h0M74.7 68.7h0"/><path stroke="#2b91ef" d="M101.3 63.9h0M97.1 87.1h0M118.3 96.0h0M75.5 94.0h0M92.7 49.3h0M67.1 77.8h0M94.4 88.9h0M86.6 94.6h0M100.3 61.7h0M72.3 83.6h0M142.1 61.2h0M98.9 83.7h0M104.6 64.2h0M108.6 96.7h0M70.2 88.9h0M99.0 56.7h0M84.2 53.3h0M86.2 77.9h0M72.2 92.9h0M111.5 92.6h0M143.3 79.8h0M102.7 35.9h0M135.0 64.6h0M79.6 87.0h0M135.1 89.0h0M90.9 62.2h0M113.9 55.5h0M123.9 47.9h0M110.1 74.6h0M77.5 78.8h0M92.5 77.7h0"/><path stroke="#2797eb" d="M124.7 90.8h0M136.0 84.7h0M124.1 38.8h0M123.2 94.2h0M87.3 62.1h0M90.6 61.9h0M96.5 66.6h0M136.8 52.0h0M71.7 90.4h0M83.5 74.8h0M94.3 90.5h0M136.7 93.9h0M92.7 53.6h0M69.3 74.9h0M73.3 76.0h0M135.1 85.9h0M99.7 65.8h0M109.4 60.1h0M103.3 69.5h0M96.1 64.5h0M80.5 52.5h0M69.3 95.3h0M92.4 52.7h0M132.2 88.2h0M85.1 66.8h0M104.7 93.5h0M109.3 79.0h0M91.4 60.3h0M72.3 84.5h0M78.9 73.1h0M127.0 95.7h0M98.8 50.3h0"/><path stroke="#259be8" d="M83.3 56.9h0M67.7 89.7h0M120.4 80.6h0M142.6 59.1h0M97.3 43.6h0M139.8 89.1h0M86.2 53.8h0M93.6 95.1h0M80.3 87.0h0M106.1 51.8h0M68.7 81.1h0M83.0 91.4h0M99.8 70.8h0M84.2 92.2h0M120.0 80.7h0M124.1 70.6h0M122.9 76.5h0M72.1 90.1h0M144.0 87.1h0M141.4 90.3h0M88.0 55.1h0M129.6 76.3h0M135.0 64.3h0M105.0 51.0h0M97.3 66.2h0M129.1 77.9h0M79.0 82.5h0M80.5 73.6h0M144.2 87.5h0M80.0 93.4h0M81.7 78.6h0M86.9 80.7h0M129.3 95.3h0M62.7 94.1h0M129.6 60.6h0M141.8 58.0h0M118.0 49.1h0M88.8 61.8h0M131.8 55.7h0M103.4 70.2h0M87.9 56.8h0M108.0 67.6h0M116.0 84.2h0"/><path stroke="#23a0e5" d="M96.9 83.0h0M101.4 91.8h0M83.4 74.1h0M135.2 79.5h0M121.0 39.1h0M103.7 88.8h0M116.0 89.1h0M120.9 59.7h0M96.3 89.4h0M123.1 75.6h0M77.1 82.4h0M87.1 82.1h0M84.7 52.7h0M101.2 74.9h0M139.4 81.0h0M119.0 74.4h0M86.8 82.8h0M125.6 34.9h0M130.2 53.5h0M83.7 57.6h0M132.8 60.0h0M111.6 34.4h0M115.2 68.1h0M133.3 74.6h0M83.3 94.2h0M74.3 65.6h0M89.6 83.7h0M86.0 90.4h0M141.1 96.1h0M92.3 78.9h0M83.4 89.6h0M137.2 94.6h0M94.4 82.1h0M63.5 91.2h0M72.0 87.1h0M104.1 54.5h0M117.9 49.8h0M75.4 85.6h0M143.6 91.1h0M110.1 82.3h0M81.1 56.1h0M134.5 96.6h0M91.9 55.7h0M84.9 93.2h0M111.6 55.5h0M92.3 77.5h0M133.9 81.0h0M77.4 85.3h0M112.7 93.5h0M79.1 70.9h0M141.8 69.1h0M85.3 74.9h0M109.0 89.7h0M140.9 82.1h0M103.6 52.9h0M135.6 67.5h0M67.4 96.6h0M85.6 87.5h0M125.8 54.3h0M74.8 95.8h0M80.1 55.6h0M100.1 77.9h0M104.9 83.4h0M109.3 57.4h0M93.2 70.5h0M112.4 76.9h0M113.5 86.9h0M111.2 92.6h0M66.9 89.6h0M80.8 71.5h0M126.6 82.5h0M91.5 86.6h0M120.0 68.8h0M85.7 52.2h0M136.4 40.8h0M102.5 53.8h0"/><path stroke="#20a5e3" d="M75.5 76.0h0M96.2 93.1h0M95.0 81.6h0M101.5 84.1h0M78.0 86.7h0M72.8 64.5h0M72.5 68.3h0M82.9 87.2h0M125.4 35.7h0M90.5 48.6h0M87.8 47.9h0M136.4 78.1h0M95.3 92.0h0M68.8 78.0h0M74.3 86.3h0M82.5 80.6h0M103.7 40.7h0M109.4 75.6h0M135.4 94.3h0M91.0 53.1h0M138.5 81.0h0M68.2 81.7h0M100.8 92.3h0M126.3 96.0h0M102.2 71.5h0M102.5 56.3h0M104.5 78.5h0M89.3 83.3h0M81.2 87.1h0M122.1 67.7h0M110.6 83.1h0M129.4 87.5h0M143.4 57.8h0M113.9 53.4h0M80.5 64.9h0M83.6 89.5h0M124.0 48.4h0M73.0 79.7h0M116.2 94.4h0M104.2 65.5h0M103.6 82.1h0M90.1 49.6h0M106.6 80.0h0M90.1 61.8h0M123.4 82.6h0M105.0 86.4h0M84.4 67.0h0M87.9 70.4h0M112.4 72.4h0M143.3 78.7h0M111.9 83.1h0M133.4 65.8h0M112.3 73.9h0M79.7 80.9h0M87.8 68.2h0M68.4 76.6h0M114.9 63.6h0M68.5 85.7h0M111.7 66.8h0M137.4 52.0h0M103.4 83.8h0M142.3 89.4h0M132.6 56.5h0M95.7 42.0h0M133.9 78.9h0M71.0 76.9h0M85.8 66.2h0M119.5 80.2h0M105.7 36.6h0M143.8 93.3h0M96.9 67.9h0M70.9 70.0h0M114.5 87.8h0M123.2 91.1h0M97.7 41.9h0M80.6 52.7h0"/><path stroke="#1ca9df" d="M127.8 34.3h0M134.9 96.7h0M76.0 95.8h0M80.3 80.9h0M131.5 81.1h0M115.0 59.0h0M98.0 44.9h0M100.0 41.5h0M95.2 61.2h0M128.2 96.5h0M86.4 95.5h0M97.3 42.2h0M141.6 77.2h0M110.7 64.0h0M72.0 86.6h0M99.9 79.2h0M116.0 51.2h0M125.7 80.8h0M115.9 84.8h0M110.5 66.9h0M112.0 66.4h0M94.6 72.1h0M99.1 88.2h0M81.1 95.1h0M93.6 47.1h0M119.8 88.3h0M135.6 57.5h0M90.8 64.8h0M87.0 54.7h0M104.6 94.0h0M125.5 31.5h0M84.7 87.6h0M80.3 85.1h0M128.3 81.6h0M115.3 51.9h0M106.2 50.2h0M93.6 95.5h0M129.3 47.6h0M114.5 48.9h0M119.6 44.5h0M120.7 37.5h0M96.4 84.4h0M92.4 87.1h0M98.3 75.2h0M125.0 40.4h0M105.2 95.1h0M96.6 64.4h0M75.8 75.4h0M125.9 46.2h0M94.1 74.5h0M141.5 62.4h0M76.3 64.5h0M84.4 59.8h0M75.0 69.2h0M128.1 28.7h0M135.6 63.1h0M137.9 68.2h0M128.3 88.0h0M134.0 43.7h0M116.2 49.2h0M94.4 70.6h0M133.1 81.1h0M72.2 78.8h0M121.8 65.5h0M105.2 40.4h0M79.5 63.5h0M106.3 50.9h0M126.8 69.9h0M82.9 96.0h0M71.3 91.5h0M130.3 67.6h0M106.8 85.4h0M123.9 78.0h0M99.4 67.7h0M98.9 61.1h0M113.8 60.6h0M110.8 89.2h0M118.2 72.5h0M117.2 48.6h0M138.6 50.1h0"/><path stroke="#18addb" d="M97.4 61.1h0M86.0 71.2h0M125.9 92.0h0M70.4 69.0h0M100.2 70.3h0M84.2 52.1h0M105.0 58.4h0M96.5 96.4h0M124.1 38.7h0M131.3 94.4h0M79.5 65.5h0M69.4 94.6h0M109.6 89.2h0M107.9 45.2h0M102.7 40.4h0M119.3 39.0h0M93.6 44.0h0M135.5 67.6h0M138.0 76.5h0M115.9 85.8h0M129.4 71.0h0M90.0 46.5h0M95.9 67.1h0M119.8 78.4h0M134.3 57.0h0M124.4 45.8h0M110.0 73.8h0M83.7 88.5h0M126.0 32.0h0M116.6 77.5h0M84.1 63.6h0M105.3 88.9h0M112.6 84.9h0M90.4 63.0h0M127.0 93.8h0M110.1 91.7h0M113.1 58.9h0M82.7 49.4h0M126.5 94.6h0M131.9 80.4h0M118.3 67.2h0M131.5 94.0h0M75.9 84.4h0M72.4 87.9h0M125.1 66.8h0M101.9 79.1h0M94.6 71.4h0M97.3 89.1h0M83.9 50.2h0M130.3 90.7h0M98.5 54.4h0M97.1 60.2h0M91.5 73.1h0M120.0 96.4h0M139.4 90.0h0M111.3 48.1h0M114.4 96.3h0M89.6 44.3h0M143.4 48.6h0M92.8 52.2h0M104.5 35.5h0M126.7 30.7h0M127.7 49.9h0M133.6 94.0h0M97.1 58.7h0M81.9 69.7h0M120.8 96.4h0M120.7 49.9h0M99.0 69.1h0M96.5 87.8h0M129.0 80.6h0M120.3 90.6h0M99.8 63.3h0M136.8 67.2h0M102.2 42.1h0M72.9 84.9h0M96.6 63.1h0M113.4 63.7h0M99.1 61.7h0M105.5 70.3h0"/><path stroke="#12b1d6" d="M113.9 43.7h0M92.4 61.9h0M126.6 66.0h0M141.6 76.9h0M133.5 51.2h0M111.6 55.0h0M134.4 62.8h0M142.9 76.0h0M80.2 94.8h0M90.6 53.3h0M98.0 90.6h0M97.4 77.3h0M140.5 77.5h0M92.4 79.6h0M67.8 82.3h0M93.2 83.0h0M114.1 40.2h0M139.1 91.2h0M95.7 39.5h0M99.2 90.9h0M134.5 60.6h0M106.1 62.4h0M84.4 95.2h0M95.1 58.9h0M129.3 96.8h0M141.4 71.6h0M73.7 64.2h0M137.2 72.3h0M100.7 68.8h0M131.7 80.1h0M79.8 93.5h0M133.4 54.2h0M122.4 65.1h0M110.6 85.8h0M114.3 78.3h0M75.0 65.6h0M95.4 94.5h0M108.6 76.8h0M90.7 46.4h0M133.9 94.2h0M106.2 39.4h0M85.6 58.0h0M80.2 71.6h0M101.7 53.4h0M102.5 53.0h0M135.4 40.1h0M126.2 61.9h0M117.8 63.9h0M111.9 96.8h0M114.6 53.5h0M93.1 48.7h0M76.0 87.6h0M133.5 72.8h0M115.6 72.3h0M87.1 83.8h0M95.8 91.6h0M127.9 88.0h0M94.0 91.5h0M142.7 96.1h0M98.0 44.5h0M116.9 54.0h0M124.4 89.2h0M92.7 52.7h0M84.1 79.0h0M74.1 96.7h0M128.3 78.8h0M108.4 38.3h0M88.9 59.3h0M122.2 93.6h0M98.9 46.8h0M84.8 60.1h0M127.9 36.9h0M110.7 66.4h0M98.3 62.6h0M144.2 89.3h0M111.5 50.0h0M75.8 66.0h0M109.3 91.8h0M132.0 56.7h0M113.7 46.8h0M112.3 69.1h0M87.4 76.7h0M88.2 71.6h0M96.4 93.6h0M119.4 57.3h0M113.2 38.8h0M115.8 75.0h0M103.6 82.4h0M76.9 66.6h0M126.1 85.8h0M119.8 69.9h0M84.5 83.8h0M111.7 40.2h0M87.0 65.1h0"/><path stroke="#08b5d0" d="M79.4 86.8h0M93.3 55.3h0M126.4 79.7h0M106.1 83.8h0M76.1 88.7h0M139.8 56.2h0M106.3 83.6h0M100.0 61.9h0M117.2 62.9h0M110.6 86.6h0M108.8 77.3h0M133.0 88.6h0M92.1 66.3h0M89.6 96.9h0M119.0 31.7h0M101.7 53.4h0M115.2 91.2h0M103.4 44.5h0M113.2 43.6h0M82.6 67.3h0M72.0 70.1h0M102.1 60.4h0M96.0 45.7h0M93.6 90.8h0M127.2 47.2h0M125.2 30.2h0M118.8 84.0h0M101.1 93.3h0M135.1 95.5h0M141.6 55.6h0M117.0 39.2h0M98.9 51.8h0M108.2 65.6h0M138.6 49.1h0M76.9 75.0h0M108.2 40.6h0M94.4 83.1h0M108.2 94.6h0M128.4 83.7h0M130.8 87.0h0M94.0 94.7h0M98.3 53.1h0M89.8 60.4h0M81.4 93.1h0M91.0 69.9h0M107.8 92.9h0M70.6 82.0h0M138.2 76.2h0M109.9 73.6h0M110.7 37.0h0M92.2 42.1h0M124.2 90.9h0M108.1 56.5h0M109.6 76.0h0M92.0 60.6h0M79.3 88.6h0M102.1 52.6h0M131.1 83.7h0M93.5 53.0h0M140.0 65.6h0M103.8 60.3h0M99.5 38.0h0M138.0 70.4h0M124.3 51.4h0M65.8 84.7h0M137.5 57.0h0M123.4 90.4h0M132.9 55.5h0M117.9 31.5h0M102.4 39.3h0M90.6 68.3h0M90.8 77.0h0M131.9 94.0h0M101.8 56.4h0M89.5 66.8h0M94.9 61.9h0M138.7 79.9h0M69.5 89.4h0M117.7 84.0h0M124.6 40.1h0M112.2 55.8h0M139.1 62.6h0M74.4 82.6h0M75.9 60.8h0M132.6 68.2h0M138.3 59.4h0M108.5 37.3h0M70.6 73.3h0M111.3 96.6h0M97.1 64.5h0M75.5 81.4h0M98.1 91.0h0M68.4 81.4h0M91.8 53.6h0M102.5 44.3h0M90.1 53.2h0M73.7 69.3h0M129.7 45.5h0M102.9 44.3h0M66.7 85.6h0"/><path stroke="#01b8ca" d="M78.0 85.7h0M76.9 56.9h0M123.7 65.3h0M101.8 52.9h0M103.6 61.0h0M76.7 70.7h0M144.4 87.3h0M126.3 47.6h0M123.8 45.4h0M91.1 92.3h0M142.9 89.5h0M137.9 52.5h0M100.2 37.9h0M132.4 96.1h0M122.4 52.6h0M97.4 94.7h0M137.3 63.9h0M109.2 43.2h0M116.0 79.1h0M94.9 79.2h0M128.8 48.9h0M123.2 92.8h0M124.6 41.4h0M107.6 69.1h0M70.3 95.4h0M114.1 63.1h0M136.6 57.5h0M116.1 49.3h0M69.4 80.9h0M137.4 77.2h0M140.0 74.1h0M133.7 68.3h0M84.4 58.6h0M94.7 56.7h0M97.5 51.2h0M85.0 66.1h0M107.6 87.2h0M109.1 58.8h0M73.5 85.3h0M135.2 36.7h0M108.0 55.4h0M138.2 78.3h0M126.0 69.3h0M122.9 33.1h0M133.0 94.4h0M75.4 90.7h0M104.8 47.9h0M90.7 88.6h0M129.9 35.0h0M123.3 47.2h0M111.7 89.1h0M75.0 61.5h0M104.8 77.8h0M143.8 73.5h0M105.1 56.8h0M120.7 54.2h0M123.2 34.2h0M76.4 77.6h0M83.7 74.9h0M133.1 53.3h0M99.5 40.0h0M129.8 87.2h0M108.7 79.3h0M141.3 78.2h0M136.3 69.4h0M140.3 82.3h0M97.8 77.8h0M122.1 80.1h0M78.3 84.8h0M79.1 62.9h0M135.7 57.2h0M129.2 92.7h0M109.7 62.3h0M92.7 72.5h0M111.5 89.3h0M103.8 81.2h0M132.2 94.9h0M125.6 71.0h0M88.3 68.3h0M110.3 75.2h0M109.7 89.5h0M72.7 85.2h0M86.5 49.5h0M95.6 57.3h0M137.1 65.3h0M76.9 62.7h0M119.7 57.6h0M82.5 73.4h0M143.6 50.5h0M118.5 39.5h0M98.9 43.2h0M91.5 43.0h0M111.7 54.9h0M94.0 40.9h0M113.4 54.4h0M119.6 94.1h0M110.9 32.9h0M109.0 67.7h0M124.4 58.0h0M91.8 83.4h0M133.1 65.8h0M73.3 86.6h0M119.3 87.4h0M133.4 89.1h0M99.7 55.0h0M135.1 33.9h0M80.6 56.9h0M93.1 47.5h0M98.8 83.1h0M80.9 83.3h0M142.8 81.7h0M106.4 54.7h0M101.7 77.8h0M95.3 76.8h0M79.0 56.2h0M89.2 85.9h0M141.9 80.5h0"/><path stroke="#02bac3" d="M94.3 64.0h0M117.8 48.5h0M135.8 87.9h0M93.9 47.5h0M141.7 79.3h0M139.2 25.9h0M75.9 85.2h0M133.0 50.7h0M106.3 40.0h0M102.8 61.6h0M112.8 87.9h0M108.8 82.1h0M130.8 63.4h0M89.2 75.1h0M143.0 88.6h0M90.7 50.2h0M71.0 84.3h0M117.0 36.7h0M85.5 85.4h0M121.1 49.0h0M76.8 84.1h0M113.3 82.0h0M78.6 59.5h0M94.1 96.1h0M109.0 62.9h0M96.9 45.1h0M109.2 56.3h0M103.0 45.1h0M100.4 74.4h0M101.5 78.3h0M131.4 68.2h0M105.4 77.1h0M132.3 80.5h0M143.9 96.0h0M69.8 70.1h0M116.1 68.0h0M67.7 95.1h0M95.9 87.2h0M83.8 67.4h0M116.5 73.8h0M141.3 63.4h0M118.0 65.4h0M131.9 82.2h0M82.6 81.8h0M91.4 76.4h0M86.6 89.0h0M100.8 50.4h0M118.2 90.9h0M138.6 78.0h0M76.7 92.2h0M83.9 54.3h0M120.1 90.1h0M128.7 76.3h0M91.6 63.1h0M141.1 60.2h0M139.9 91.2h0M71.1 80.5h0M67.9 92.1h0M115.4 35.8h0M101.4 81.8h0M102.5 37.4h0M142.9 96.0h0M133.3 60.6h0M111.2 90.3h0M118.3 88.2h0M125.2 42.7h0M119.6 47.7h0M107.7 68.8h0M65.2 90.7h0M111.3 54.4h0M133.0 78.2h0M142.5 48.5h0M100.1 39.7h0M135.7 44.8h0M142.9 52.6h0M117.5 61.1h0M143.7 60.8h0M113.9 60.2h0M130.0 93.2h0M128.0 71.3h0M87.4 64.5h0M85.3 64.5h0M82.5 59.3h0M121.8 59.0h0M69.9 71.8h0M108.9 82.7h0M85.0 57.7h0M108.6 76.5h0M87.8 61.1h0M142.5 93.8h0M143.6 77.1h0M117.1 84.4h0M82.6 64.6h0M122.2 57.0h0M86.9 73.0h0M95.0 96.6h0M128.6 72.7h0M119.5 89.1h0M94.4 84.1h0M90.3 66.9h0M106.8 44.2h0M119.2 86.5h0M124.3 88.7h0M121.7 80.7h0M85.6 61.6h0M84.9 47.1h0M131.9 45.0h0M84.8 96.2h0M119.9 90.5h0M134.6 75.5h0"/><path stroke="#0bbdbc" d="M82.4 93.4h0M76.8 81.0h0M114.4 52.9h0M82.6 94.1h0M133.8 89.2h0M78.9 96.1h0M106.4 93.9h0M100.9 53.2h0M129.9 61.7h0M138.9 40.4h0M97.1 81.9h0M130.2 37.6h0M93.9 68.1h0M109.3 42.4h0M102.5 47.0h0M109.8 53.6h0M136.6 55.6h0M124.1 82.5h0M108.2 50.8h0M135.8 50.1h0M109.4 70.2h0M124.6 60.4h0M122.9 60.5h0M123.0 31.2h0M109.7 96.0h0M139.8 54.3h0M111.3 40.2h0M119.9 35.9h0M102.7 61.1h0M74.8 74.0h0M105.7 81.1h0M106.1 77.1h0M68.4 82.0h0M73.3 95.3h0M128.8 61.7h0M113.0 58.1h0M71.7 93.8h0M141.0 51.2h0M101.4 63.7h0M125.5 49.8h0M85.6 64.7h0M138.3 75.7h0M106.0 69.4h0M106.3 77.4h0M68.8 85.1h0M91.9 61.6h0M90.1 48.5h0M127.8 80.8h0M122.5 73.0h0M141.4 47.0h0M143.0 69.3h0M111.2 71.8h0M91.5 47.4h0M99.0 69.7h0M116.7 33.0h0M68.3 92.7h0M125.1 80.7h0M92.4 53.0h0M134.7 71.6h0M121.4 46.1h0M115.7 90.3h0M122.2 66.7h0M102.3 43.1h0M137.0 39.2h0M95.6 89.9h0M126.2 83.3h0M103.3 85.9h0M104.7 64.3h0M131.8 75.6h0M81.2 71.1h0M77.6 80.7h0M99.2 52.6h0M93.0 53.1h0M121.7 43.3h0M125.5 57.8h0M107.0 85.9h0M107.7 51.6h0M126.4 35.7h0M141.8 40.2h0M99.6 68.9h0M136.8 72.1h0M128.4 70.5h0M102.2 63.2h0M105.5 93.5h0M76.8 71.3h0M106.3 79.9h0M97.2 42.5h0M122.4 42.5h0M106.7 66.3h0M80.8 89.2h0M92.9 74.9h0M138.5 83.6h0M121.3 45.2h0M84.7 60.7h0M111.0 64.1h0M138.4 32.4h0M74.9 75.7h0M110.4 58.3h0M119.0 68.2h0M131.8 86.8h0M125.4 90.4h0M92.9 44.9h0M135.4 55.6h0M119.3 46.9h0M70.7 83.1h0M76.9 85.2h0"/><path stroke="#19bfb5" d="M77.5 69.6h0M132.5 85.2h0M107.6 35.8h0M85.3 55.9h0M133.6 70.4h0M139.8 46.7h0M89.3 79.2h0M99.8 96.2h0M132.3 90.3h0M83.1 65.5h0M78.7 90.0h0M67.3 80.5h0M130.6 73.5h0M133.8 76.9h0M112.2 35.8h0M91.9 96.1h0M133.2 64.1h0M135.8 95.2h0M117.1 83.1h0M90.9 62.4h0M92.8 46.3h0M67.4 85.1h0M140.7 35.6h0M142.6 74.8h0M137.9 83.5h0M131.1 43.7h0M132.9 96.9h0M127.8 50.5h0M135.8 62.6h0M112.0 54.0h0M102.7 48.8h0M110.7 35.3h0M89.6 72.8h0M80.9 86.1h0M136.0 83.2h0M79.7 89.6h0M113.4 71.9h0M135.8 82.3h0M109.0 48.4h0M126.7 81.9h0M85.0 49.1h0M87.3 88.3h0M64.5 91.9h0M94.2 68.5h0M142.2 93.7h0M119.5 30.2h0M81.9 61.2h0M117.9 69.0h0M79.0 81.1h0M97.3 86.9h0M122.1 80.4h0M98.0 50.5h0M124.6 44.3h0M113.1 44.1h0M95.9 53.5h0M82.6 92.9h0M83.8 69.9h0M80.8 94.3h0M112.6 47.1h0M72.3 96.8h0M107.6 65.4h0M132.0 80.9h0M139.4 86.8h0M136.8 88.2h0M84.0 89.1h0M95.2 85.9h0M143.0 38.6h0M141.1 84.2h0M125.5 54.2h0M96.3 53.6h0M95.4 96.7h0M122.0 54.8h0M106.7 79.9h0M87.4 50.1h0M81.2 90.0h0M133.6 83.5h0M88.1 93.0h0M122.2 38.8h0M82.3 88.7h0M111.3 59.9h0M100.1 96.3h0M108.0 44.5h0M137.8 41.9h0M98.1 55.5h0M133.7 77.0h0M109.3 70.5h0M103.9 96.1h0M113.5 41.0h0M109.1 46.0h0M128.6 78.0h0M87.4 89.9h0M108.3 93.4h0M131.9 57.9h0M132.7 38.2h0M83.5 52.9h0M136.9 69.3h0M103.1 55.7h0M121.6 79.6h0M96.0 57.1h0M82.2 66.3h0M124.0 66.6h0M122.5 93.8h0"/><path stroke="#24c1ae" d="M121.8 86.2h0M65.9 93.8h0M104.7 65.1h0M115.8 42.5h0M71.7 91.6h0M111.3 66.0h0M114.9 38.1h0M142.5 85.8h0M85.8 62.5h0M88.6 49.1h0M135.8 81.2h0M135.8 44.2h0M107.1 90.1h0M91.2 63.2h0M113.9 64.8h0M125.3 69.6h0M143.0 93.6h0M91.7 43.1h0M125.1 31.4h0M124.0 67.4h0M112.0 47.5h0M128.7 43.7h0M101.5 96.6h0M98.5 58.7h0M105.3 95.3h0M136.0 40.4h0M87.7 54.6h0M117.3 32.3h0M120.0 58.2h0M99.6 95.5h0M138.2 71.3h0M128.3 67.7h0M134.3 33.0h0M121.9 32.6h0M80.4 91.5h0M87.5 77.8h0M139.0 60.2h0M89.0 68.7h0M119.6 68.9h0M130.5 89.7h0M64.3 91.2h0M112.2 38.3h0M114.9 65.3h0M122.3 74.4h0M132.9 79.1h0M79.3 73.9h0M94.9 66.7h0M94.4 51.7h0M105.3 61.5h0M101.4 94.8h0M120.7 74.4h0M110.1 47.3h0M97.4 76.1h0M114.3 75.5h0M110.0 43.8h0M102.2 93.9h0M113.7 63.8h0M117.5 39.1h0M143.1 77.9h0M132.7 57.7h0M97.3 44.7h0M83.9 71.0h0M129.8 88.7h0M112.8 48.6h0M142.6 74.1h0M118.3 57.0h0M140.9 65.9h0M100.9 89.4h0M129.9 41.6h0M86.2 79.6h0M64.9 94.7h0M133.4 50.7h0M97.1 79.5h0M80.4 76.9h0M103.0 56.8h0M108.5 91.5h0M135.0 59.3h0M89.3 63.2h0M98.6 86.3h0M94.8 65.8h0M83.9 79.1h0M124.3 60.7h0"/><path stroke="#2cc4a6" d="M89.4 77.8h0M133.1 68.1h0M102.0 74.2h0M92.3 55.1h0M92.7 75.7h0M100.7 59.2h0M141.0 59.0h0M96.0 51.5h0M114.4 40.6h0M108.3 64.4h0M144.0 37.2h0M92.2 72.4h0M99.5 83.2h0M121.6 90.2h0M140.6 54.3h0M131.4 78.4h0M118.7 60.7h0M121.1 30.6h0M115.5 89.1h0M96.3 69.7h0M136.8 56.6h0M71.3 76.5h0M135.0 50.0h0M113.4 64.3h0M136.1 84.1h0M140.5 82.8h0M81.2 89.1h0M134.1 82.7h0M139.7 31.4h0M133.8 50.9h0M97.0 73.1h0M101.0 38.4h0M102.4 56.7h0M100.9 63.2h0M125.6 31.6h0M73.6 72.4h0M106.1 69.0h0M82.5 69.4h0M126.9 52.0h0M99.0 85.5h0M108.3 64.2h0M136.0 60.4h0M75.6 84.1h0M127.8 53.0h0M123.8 41.1h0M122.1 93.1h0M112.3 48.4h0M118.9 67.7h0M76.0 64.1h0M134.9 46.0h0M131.7 63.2h0M132.1 59.7h0M119.6 37.4h0M75.1 96.3h0M98.3 41.3h0M78.9 83.9h0M119.6 66.9h0M88.9 83.2h0M139.7 44.6h0M138.7 28.8h0M115.6 72.8h0M97.3 82.5h0M119.2 31.7h0M130.5 83.6h0M127.7 72.5h0M91.2 84.9h0M99.2 85.8h0M126.4 95.3h0M130.7 59.7h0M86.5 74.2h0M103.4 90.3h0M73.4 85.5h0M97.4 42.1h0M100.9 50.3h0M111.1 63.9h0M82.6 64.9h0M104.7 72.5h0M139.8 61.0h0M106.4 66.1h0M144.4 62.1h0M98.3 47.7h0M106.0 72.4h0M129.5 85.7h0M89.5 64.2h0M142.5 26.1h0"/><path stroke="#31c69f" d="M99.3 45.4h0M103.9 61.8h0M92.9 89.2h0M129.5 43.0h0M142.6 52.9h0M123.3 96.2h0M121.4 32.9h0M111.3 79.0h0M112.4 46.7h0M110.2 86.4h0M122.5 68.6h0M86.4 87.5h0M139.1 63.8h0M116.7 66.0h0M124.8 75.1h0M98.8 87.4h0M105.1 69.3h0M133.7 51.7h0M104.2 75.6h0M105.1 36.4h0M131.6 37.0h0M133.2 92.0h0M115.5 50.2h0M75.4 64.0h0M141.0 62.0h0M101.6 44.1h0M126.6 54.0h0M137.3 68.6h0M143.4 30.8h0M102.8 76.4h0M141.1 69.7h0M125.2 39.3h0M102.1 48.8h0M119.6 56.7h0M121.9 40.7h0M144.4 29.5h0M122.1 65.0h0M103.7 61.8h0M92.3 70.8h0M137.7 33.3h0M90.4 53.2h0M121.7 44.5h0M89.2 59.0h0M97.9 80.1h0M143.2 45.0h0M124.1 60.2h0M124.9 61.7h0M85.9 72.8h0M130.1 61.2h0M142.2 47.9h0M113.5 40.0h0M125.9 28.7h0M135.5 60.6h0M102.0 38.2h0M108.6 66.1h0M132.0 27.9h0M77.2 76.5h0M122.0 83.4h0M87.0 63.4h0M68.0 78.4h0M142.3 29.4h0M91.7 65.2h0M97.5 38.6h0M114.7 43.8h0M115.0 75.6h0M134.2 69.3h0M124.8 64.4h0M92.9 60.8h0M107.4 63.7h0M125.3 67.0h0M116.6 94.1h0M106.6 64.4h0M107.3 72.6h0M104.3 77.5h0M142.0 54.2h0M135.5 67.6h0M127.6 57.5h0M91.8 63.4h0M121.6 51.4h0M125.2 84.8h0M86.0 89.9h0"/><path stroke="#37c897" d="M126.0 68.5h0M134.3 28.9h0M118.7 77.7h0M93.6 52.4h0M86.8 90.5h0M114.2 58.7h0M109.1 35.2h0M82.7 62.5h0M142.0 37.8h0M130.5 53.5h0M129.2 96.1h0M115.8 76.0h0M142.4 37.6h0M129.7 56.0h0M144.3 47.1h0M114.0 37.2h0M113.9 39.4h0M130.0 78.1h0M124.0 58.8h0M110.6 50.3h0M132.5 43.9h0M125.2 96.8h0M110.0 77.8h0M121.3 69.7h0M127.9 42.9h0M110.3 54.7h0M90.2 95.9h0M140.4 79.7h0M135.9 45.4h0M130.8 90.6h0M141.5 50.0h0M130.6 42.3h0M77.2 57.7h0M118.5 33.1h0M108.1 69.2h0M129.8 42.9h0M123.5 36.7h0M143.3 33.2h0M130.4 86.3h0M115.0 36.9h0M91.5 54.6h0M74.1 69.5h0M114.6 66.3h0M140.2 36.0h0M74.8 61.3h0M121.7 89.3h0M129.9 59.1h0M129.4 69.2h0M133.8 38.3h0M133.0 67.3h0M75.5 96.5h0M99.5 43.7h0M116.9 73.9h0M118.5 32.1h0M96.1 46.0h0M77.1 63.2h0M89.2 62.0h0M137.2 72.4h0M112.7 32.5h0M124.5 42.2h0M117.4 67.2h0M77.2 92.7h0M114.7 45.6h0M141.6 39.7h0M116.9 39.0h0M123.1 32.5h0"/><path stroke="#3fca8e" d="M112.9 96.4h0M137.7 40.6h0M141.7 93.0h0M102.1 54.4h0M136.3 36.4h0M84.8 63.5h0M126.2 30.2h0M94.6 46.2h0M104.9 82.5h0M141.8 36.8h0M135.5 39.8h0M103.2 37.0h0M142.9 42.5h0M84.6 65.3h0M104.7 61.1h0M142.7 36.9h0M119.9 33.2h0M134.5 56.9h0M114.8 74.3h0M115.6 59.9h0M133.1 56.4h0M134.6 41.8h0M78.9 85.9h0M116.6 51.3h0M107.5 87.4h0M127.6 68.6h0M72.2 69.9h0M92.6 79.5h0M111.0 39.4h0M133.9 53.1h0M99.8 83.6h0M127.0 69.8h0M105.2 77.3h0M89.9 47.5h0M137.4 42.5h0M121.6 94.5h0M128.8 84.7h0M120.2 54.3h0M144.0 30.7h0M142.9 74.9h0M89.2 68.8h0M108.2 42.8h0M111.4 49.6h0M128.1 85.8h0M97.3 63.7h0M128.5 65.7h0M109.3 55.7h0M81.5 59.7h0M140.1 47.2h0"/><path stroke="#4acb84" d="M139.4 85.6h0M140.2 65.3h0M142.9 28.6h0M85.5 77.6h0M111.7 45.8h0M76.0 91.9h0M108.8 58.9h0M78.9 90.9h0M113.9 63.2h0M109.1 63.1h0M143.8 73.9h0M86.2 90.5h0M142.6 40.3h0M139.2 34.2h0M141.6 63.9h0M129.0 44.9h0M135.4 64.5h0M128.0 33.8h0M124.0 91.9h0M85.6 69.7h0M117.5 93.9h0M142.7 50.1h0M120.9 77.0h0M125.0 67.3h0M92.7 59.6h0M115.3 34.5h0M114.8 50.4h0M124.0 36.4h0M135.8 80.8h0M108.9 38.5h0M138.8 49.4h0M120.7 47.7h0M134.7 58.6h0M123.0 57.6h0M88.4 63.7h0M123.5 47.6h0M98.1 44.7h0M128.9 39.2h0M134.8 43.6h0M96.4 62.7h0M116.8 61.4h0M85.5 67.1h0M124.0 44.2h0M102.9 68.5h0M128.1 61.3h0M115.8 71.1h0M108.7 44.7h0M114.1 60.3h0M137.9 90.3h0M125.7 67.0h0M112.7 54.8h0M131.8 39.5h0M133.7 55.5h0M130.6 44.6h0M113.1 52.2h0M141.5 86.9h0M115.7 77.0h0"/><path stroke="#57cc7a" d="M102.9 39.2h0M134.4 82.6h0M140.3 69.9h0M106.7 88.0h0M120.8 72.5h0M82.5 73.8h0M113.2 79.6h0M105.6 45.1h0M95.8 40.2h0M128.1 35.8h0M92.5 65.0h0M137.6 57.9h0M135.4 41.3h0M133.2 59.8h0M136.0 81.7h0M144.2 45.9h0M120.0 77.3h0M138.8 47.9h0M144.3 46.8h0M117.9 41.6h0M108.7 52.0h0M142.5 39.1h0M126.6 37.5h0M142.5 29.4h0M79.5 62.8h0M138.1 28.8h0M139.2 41.2h0M136.8 93.1h0M131.2 58.5h0M117.5 51.0h0M102.4 76.3h0M90.2 93.8h0M110.1 44.1h0"/><path stroke="#64cd6f" d="M84.7 63.3h0M125.7 43.8h0M66.1 96.2h0M122.2 66.5h0M113.9 62.4h0M117.3 74.6h0M122.4 45.8h0M143.5 90.4h0M135.6 35.3h0M87.0 73.3h0M141.3 93.9h0M138.7 36.8h0M123.1 29.4h0M141.4 45.9h0M132.8 59.3h0M107.9 95.6h0M141.9 32.4h0M108.6 41.4h0M141.2 41.3h0M90.0 65.4h0"/><path stroke="#72cd64" d="M75.3 74.3h0M131.5 73.3h0M111.9 41.4h0M123.0 48.7h0M99.8 37.3h0M132.1 34.1h0M94.9 88.6h0M123.3 41.0h0M93.4 49.3h0M105.1 35.9h0M129.8 47.7h0M117.6 49.0h0M144.1 63.5h0M123.4 83.9h0M128.8 31.3h0M136.1 47.7h0M90.6 65.6h0M142.0 40.3h0M144.0 40.6h0M139.4 33.5h0M136.7 34.9h0M140.2 33.2h0M130.1 61.4h0"/><path stroke="#81cc59" d="M133.5 39.4h0M111.2 61.8h0M90.5 84.2h0M110.6 42.8h0M137.1 32.2h0M142.3 36.8h0M128.9 56.8h0M110.0 90.5h0M93.3 43.2h0M129.1 41.0h0M144.1 34.4h0M122.3 69.5h0M95.1 94.3h0M135.3 88.7h0M138.2 26.2h0"/><path stroke="#8fcb4e" d="M141.7 40.6h0M139.6 42.0h0M125.7 43.4h0M130.5 36.9h0M142.5 57.2h0M131.9 34.9h0M124.8 53.2h0M130.9 43.6h0M130.9 36.3h0M122.1 59.8h0M138.3 38.2h0M140.9 81.3h0"/><path stroke="#9dc943" d="M139.7 31.8h0M142.7 29.0h0M97.6 41.3h0M93.7 81.7h0M85.5 52.9h0M111.4 60.5h0M119.2 44.8h0M86.8 72.9h0M122.4 29.7h0M130.9 58.5h0M126.3 49.9h0"/><path stroke="#abc739" d="M91.9 73.1h0M136.0 27.3h0M144.4 34.8h0M126.6 31.4h0M139.4 40.0h0"/><path stroke="#b9c431" d="M122.5 31.4h0M129.5 52.4h0M131.5 33.0h0M139.6 26.0h0"/><path stroke="#c5c22a" d="M119.4 49.7h0M106.3 37.8h0"/><path stroke="#d1bf27" d="M99.3 39.8h0M143.3 38.5h0M121.0 45.9h0M141.5 50.7h0"/><path stroke="#dcbd29" d="M135.7 51.2h0"/><path stroke="#fec338" d="M133.2 42.4h0"/></g><g fill="none" stroke-width="1.60" stroke-linecap="round"><path stroke="#3e26a8" d="M286.4 34.1h0M242.0 89.4h0M243.9 84.2h0M246.2 87.6h0M283.8 35.7h0M291.4 38.2h0M280.4 35.8h0"/><path stroke="#402ab4" d="M300.7 34.3h0"/><path stroke="#4332cb" d="M265.9 45.3h0M314.8 30.8h0M269.9 43.2h0M242.9 96.3h0M279.7 50.9h0M275.5 57.3h0"/><path stroke="#4537d5" d="M288.1 42.1h0M275.8 38.1h0M240.6 95.2h0M245.1 78.2h0M320.2 25.7h0M270.1 46.8h0"/><path stroke="#463cde" d="M253.1 66.5h0M309.4 32.6h0M254.9 56.4h0M253.0 63.3h0"/><path stroke="#4741e5" d="M252.9 62.3h0M250.9 68.8h0M248.6 75.9h0M263.6 49.4h0M275.0 42.5h0"/><path stroke="#4747eb" d="M257.3 69.9h0M298.2 40.3h0M289.6 32.6h0M314.0 31.8h0M280.9 44.0h0M266.4 47.9h0M253.4 58.7h0"/><path stroke="#484df0" d="M284.3 45.2h0M249.5 76.7h0M258.5 63.3h0M317.9 25.7h0M271.2 43.6h0M293.9 31.4h0M288.2 34.4h0M247.7 90.8h0M275.9 48.5h0M245.3 91.7h0"/><path stroke="#4852f4" d="M268.8 45.1h0M245.7 93.2h0M264.0 58.9h0M269.1 57.9h0M277.7 44.6h0M304.8 37.8h0M253.3 58.9h0M241.6 93.6h0M267.4 59.8h0M284.5 35.8h0M280.6 37.4h0M253.7 75.0h0M242.2 93.5h0"/><path stroke="#4758f8" d="M301.2 33.7h0M279.3 44.0h0M245.2 79.9h0M284.7 37.8h0M269.0 57.2h0M288.6 38.0h0M312.5 28.0h0M299.5 30.5h0"/><path stroke="#465efb" d="M271.2 41.1h0M267.9 48.2h0M265.1 94.7h0M299.9 41.7h0M273.6 40.6h0M293.6 41.6h0M241.9 95.9h0M254.3 59.6h0M294.0 36.5h0M269.2 66.8h0M261.7 49.5h0M243.2 84.4h0M298.1 48.3h0M262.5 58.1h0M295.5 34.9h0M248.8 73.4h0M308.4 31.5h0"/><path stroke="#4563fd" d="M279.2 47.5h0M247.3 75.9h0M268.4 51.0h0M290.0 49.1h0M320.2 29.9h0M276.8 45.6h0M272.8 68.1h0M246.4 82.6h0M307.1 29.3h0M259.2 52.3h0M256.7 60.5h0"/><path stroke="#4269fe" d="M251.3 63.7h0M286.7 40.7h0M294.1 40.9h0M289.2 43.1h0M246.3 86.7h0M258.0 81.7h0M305.4 39.8h0M249.7 89.6h0M261.2 48.6h0M305.6 35.4h0M281.9 46.7h0M290.7 44.2h0M255.0 80.4h0M251.3 72.9h0"/><path stroke="#3e6fff" d="M317.9 26.0h0M263.1 55.5h0M275.5 44.0h0M246.2 91.4h0M289.7 38.9h0M301.1 44.2h0M284.0 35.6h0M269.7 42.5h0M250.2 67.1h0M245.1 78.0h0M307.0 33.4h0M269.0 76.2h0M266.2 57.6h0M293.2 51.3h0M267.7 45.8h0M266.1 50.3h0M248.5 79.9h0M290.9 32.0h0M245.4 78.4h0"/><path stroke="#3875fe" d="M255.6 69.6h0M269.2 62.4h0M290.2 48.5h0M305.0 34.5h0M259.7 67.4h0M294.0 32.7h0M305.6 29.0h0M250.5 66.8h0M319.6 31.4h0M247.2 78.0h0M253.2 75.7h0M252.9 65.0h0M287.0 40.3h0M245.7 96.1h0M290.9 39.2h0"/><path stroke="#327cfc" d="M250.2 68.9h0M320.1 27.4h0M305.0 29.2h0M286.1 53.0h0M318.7 27.2h0M258.7 67.0h0M274.4 45.7h0M266.2 70.5h0M250.6 73.0h0M312.6 30.2h0M312.5 43.6h0M250.9 92.0h0M255.0 93.7h0M312.9 26.6h0M268.2 55.4h0M296.8 31.8h0M310.0 29.6h0M252.7 95.2h0M305.8 28.4h0M258.1 73.3h0M245.5 77.2h0M247.9 73.1h0"/><path stroke="#2f81fa" d="M320.8 28.7h0M261.7 60.3h0M246.9 78.1h0M275.4 39.2h0M264.0 52.0h0M298.7 44.7h0M245.5 89.9h0M274.8 46.7h0M288.4 34.6h0M246.0 83.9h0M300.5 29.5h0M278.8 38.6h0M318.1 29.8h0M284.2 42.1h0M270.8 72.5h0M283.4 47.1h0M273.4 42.8h0M301.2 35.3h0M292.2 49.0h0M282.8 37.9h0M267.4 71.2h0M296.6 56.5h0M249.1 73.0h0M277.9 39.3h0M286.4 43.1h0M254.9 67.2h0M285.6 36.4h0M287.2 46.1h0M282.4 52.2h0M267.8 77.3h0"/><path stroke="#2e87f7" d="M260.8 69.3h0M253.5 78.0h0M250.1 72.2h0M289.5 69.4h0M261.4 77.6h0M274.6 58.8h0M259.4 51.6h0M246.1 96.8h0M299.5 42.8h0M262.5 61.9h0M264.9 62.5h0M303.4 38.5h0M256.5 66.2h0M257.8 63.1h0M302.5 49.0h0M274.6 51.8h0M318.5 26.8h0M273.2 49.4h0M298.2 57.2h0M247.9 82.4h0M252.7 94.3h0M254.7 88.5h0"/><path stroke="#2d8cf3" d="M248.2 82.1h0M284.9 34.7h0M308.0 28.3h0M281.5 69.3h0M291.2 41.8h0M256.2 90.4h0M272.7 47.1h0M250.3 76.2h0M293.1 39.4h0M266.7 49.9h0M295.0 40.5h0M295.7 54.9h0M309.6 30.4h0M290.8 40.4h0M297.5 43.6h0M303.0 33.7h0M279.7 69.9h0M298.4 38.7h0M292.2 38.4h0M255.9 65.8h0M299.1 44.2h0M260.1 68.3h0M248.4 96.3h0M308.2 42.5h0M300.1 42.7h0M281.2 41.3h0M302.5 52.3h0M283.8 47.0h0M252.3 89.4h0M278.0 36.9h0M270.1 71.9h0M290.4 45.7h0M271.6 42.4h0M315.1 39.6h0M319.6 47.7h0M249.7 80.4h0"/><path stroke="#2b91ef" d="M249.7 77.2h0M284.2 46.3h0M280.4 57.7h0M303.7 40.2h0M296.6 57.9h0M279.5 49.1h0M264.6 60.2h0M279.2 41.3h0M268.8 86.5h0M249.5 81.2h0M282.0 41.7h0M254.0 59.6h0M256.0 87.2h0M285.4 67.7h0M279.1 48.6h0M246.7 78.3h0M263.3 67.2h0M290.2 35.8h0M283.6 75.2h0M245.6 90.1h0M286.8 33.4h0M276.9 51.6h0M293.8 43.8h0M293.2 41.6h0M276.6 89.5h0M273.7 46.4h0M279.6 40.0h0M294.0 38.0h0M287.8 46.2h0M257.5 95.7h0M268.9 55.0h0M322.0 27.1h0M262.8 83.1h0M304.2 29.3h0M246.5 96.4h0M310.0 31.6h0M249.9 80.9h0M305.7 29.4h0M299.0 46.9h0M265.4 54.2h0M269.0 67.9h0M269.8 54.0h0"/><path stroke="#2797eb" d="M254.1 73.7h0M287.1 60.1h0M255.8 74.9h0M288.6 38.2h0M264.7 50.5h0M258.6 71.8h0M273.2 66.5h0M247.6 77.7h0M279.3 62.3h0M301.7 36.4h0M296.8 36.6h0M293.8 31.8h0M283.7 71.6h0M276.8 55.1h0M311.4 35.2h0M252.9 70.3h0M248.0 95.0h0M276.1 64.6h0M265.5 66.2h0M295.6 36.7h0M283.5 51.3h0M241.1 95.9h0M277.3 64.4h0M273.6 49.5h0M273.0 47.0h0M312.0 36.5h0M278.7 59.3h0M288.4 53.8h0M310.8 45.4h0M310.2 37.7h0M308.3 34.3h0M320.1 37.0h0M312.4 30.2h0M284.9 62.1h0"/><path stroke="#259be8" d="M305.3 36.1h0M286.6 55.6h0M286.1 64.0h0M300.6 69.5h0M298.1 43.1h0M264.6 46.8h0M281.1 55.0h0M314.6 42.7h0M273.0 52.5h0M298.7 53.3h0M247.3 75.1h0M284.4 59.8h0M255.6 61.0h0M294.3 59.2h0M265.5 93.6h0M254.0 90.0h0M272.5 70.9h0M290.2 54.6h0M259.7 89.4h0M284.7 52.2h0M244.0 89.4h0M276.8 40.5h0M272.3 63.8h0"/><path stroke="#23a0e5" d="M305.4 30.9h0M312.6 31.0h0M255.7 72.6h0M309.0 33.0h0M283.3 46.3h0M287.0 42.5h0M321.6 43.9h0M304.0 54.3h0M289.1 43.0h0M274.0 63.0h0M252.4 75.4h0M268.1 60.1h0M261.2 81.4h0M259.8 53.6h0M300.3 41.7h0M249.5 77.7h0M262.3 90.4h0M254.4 77.6h0M249.6 71.2h0M292.9 35.7h0M313.5 39.6h0M295.0 43.8h0M317.7 37.0h0M314.1 37.6h0M315.2 35.1h0M256.3 60.0h0M307.0 42.5h0M265.3 61.4h0M264.7 84.7h0M269.1 46.7h0M287.1 51.8h0M247.7 91.7h0M295.1 33.4h0M260.3 81.2h0M288.3 41.4h0M284.3 52.2h0M294.3 56.2h0M268.4 44.7h0M251.5 75.3h0"/><path stroke="#20a5e3" d="M296.2 45.6h0M313.4 35.9h0M297.8 44.9h0M298.7 61.5h0M278.4 50.2h0M263.8 67.7h0M318.0 29.9h0M280.3 45.3h0M252.2 67.7h0M275.2 45.6h0M260.4 65.4h0M318.6 27.3h0M313.3 36.7h0M295.0 81.1h0M299.1 36.6h0M308.8 33.2h0M302.7 40.1h0M263.3 78.4h0M273.9 60.3h0M262.9 66.1h0M304.4 47.7h0M296.6 48.1h0M259.9 74.4h0M286.9 45.2h0M313.9 38.3h0M311.6 38.5h0M266.9 85.3h0M265.7 86.1h0"/><path stroke="#1ca9df" d="M273.8 60.6h0M284.8 63.5h0M247.8 90.9h0M269.4 70.1h0M306.4 65.3h0M244.6 95.4h0M319.8 32.8h0M316.7 26.6h0M288.7 46.2h0M295.9 36.3h0M307.7 30.9h0M292.9 63.1h0M308.7 47.3h0M303.6 32.8h0M302.4 29.8h0M321.5 38.0h0M251.1 96.3h0M305.1 40.8h0M253.1 67.3h0M272.6 55.2h0M320.0 28.8h0M254.1 88.1h0M272.6 45.4h0M275.7 80.0h0M251.3 68.8h0M288.2 69.1h0M317.8 29.3h0M247.1 74.9h0M280.0 53.0h0M244.3 89.1h0M280.8 53.0h0M250.2 86.2h0M258.3 89.5h0M285.5 38.5h0M260.0 79.4h0M299.1 39.2h0M252.0 77.0h0M261.1 51.1h0M265.6 89.5h0M306.7 70.0h0M261.2 65.0h0M255.5 72.2h0M297.5 36.6h0M277.1 56.5h0M299.4 39.0h0"/><path stroke="#18addb" d="M256.9 55.9h0M256.5 70.0h0M311.3 39.3h0M280.0 63.2h0M288.4 45.6h0M280.2 69.2h0M263.0 66.3h0M255.7 92.7h0M275.4 49.7h0M318.0 34.1h0M310.6 61.8h0M256.0 87.2h0M261.6 51.6h0M246.1 93.3h0M316.2 35.9h0M306.3 31.7h0M295.2 31.7h0M309.3 28.8h0M283.9 36.6h0M322.0 39.8h0M321.2 49.1h0M263.5 63.0h0M255.2 85.5h0M296.1 44.4h0M274.6 53.9h0M267.6 77.3h0M245.6 95.6h0M313.1 31.5h0M252.6 67.0h0M259.2 62.2h0M267.8 63.7h0M261.6 58.0h0M251.4 88.9h0M294.8 75.9h0M262.4 79.2h0M258.4 75.0h0M260.6 79.6h0M259.2 61.5h0M309.5 28.5h0M284.1 51.1h0M266.2 49.5h0M298.7 70.5h0M278.8 63.0h0M268.0 51.1h0M318.0 42.7h0M296.3 58.4h0M271.5 50.0h0"/><path stroke="#12b1d6" d="M248.8 82.0h0M320.3 28.6h0M287.2 46.3h0M273.4 52.3h0M291.0 63.0h0M251.8 68.8h0M255.5 88.7h0M262.9 85.2h0M316.7 39.0h0M277.9 58.4h0M308.8 41.7h0M268.8 49.0h0M278.5 56.9h0M309.5 41.1h0M259.7 85.2h0M265.9 67.7h0M257.7 89.8h0M265.1 71.2h0M255.5 69.4h0M256.9 67.3h0M296.8 47.1h0M276.6 81.3h0M270.7 78.8h0M270.6 62.5h0M264.3 58.5h0M248.9 79.4h0M315.2 44.2h0M319.1 44.7h0M248.5 89.0h0M276.0 84.6h0M279.7 46.8h0M304.9 58.6h0M283.2 64.8h0M284.4 47.7h0M318.3 41.7h0M278.1 73.0h0M297.6 54.1h0M258.9 65.9h0M276.5 45.4h0M268.9 44.7h0M298.9 49.0h0M312.9 44.3h0M258.6 59.7h0M269.9 44.0h0M308.9 33.4h0M303.0 40.6h0M299.2 39.8h0M289.2 62.2h0M275.4 74.8h0M243.3 96.0h0"/><path stroke="#08b5d0" d="M288.8 51.1h0M311.1 55.9h0M304.8 37.9h0M244.3 81.9h0M274.5 86.9h0M261.8 94.3h0M302.2 61.1h0M287.4 36.0h0M278.3 55.6h0M274.9 68.2h0M308.3 40.0h0M260.7 83.8h0M309.8 51.6h0M291.0 39.5h0M256.0 80.2h0M277.4 92.5h0M311.6 56.1h0M296.6 52.1h0M275.8 48.7h0M269.6 64.4h0M314.0 32.8h0M258.6 94.5h0M301.8 29.9h0M288.6 49.2h0M292.6 55.1h0M299.9 48.1h0M300.1 30.8h0M257.9 81.2h0M277.5 56.7h0M264.0 93.1h0M302.6 42.2h0M281.4 47.3h0M246.0 95.1h0M264.7 88.1h0M258.6 64.5h0M275.5 87.1h0M287.9 40.3h0M269.6 61.2h0M255.4 84.4h0M321.6 43.3h0M267.2 55.8h0"/><path stroke="#01b8ca" d="M291.8 61.3h0M310.0 59.8h0M281.4 44.8h0M278.8 91.1h0M300.0 37.5h0M292.0 52.6h0M251.0 89.0h0M262.1 86.0h0M306.0 32.5h0M274.3 61.0h0M265.3 80.4h0M298.1 63.5h0M297.8 32.0h0M260.4 61.7h0M284.7 58.9h0M288.8 55.1h0M269.7 60.8h0M281.8 65.8h0M253.2 82.9h0M265.9 72.7h0M258.0 79.3h0M317.8 46.3h0M304.1 31.8h0M276.1 64.1h0M296.4 61.1h0M313.3 53.5h0M304.0 53.7h0M266.3 93.7h0M319.4 45.0h0M304.9 33.6h0M285.9 52.7h0M293.3 40.1h0M264.8 84.7h0M271.2 95.7h0M322.2 45.6h0M308.7 56.8h0M273.7 49.8h0M301.8 44.7h0M282.4 76.7h0M256.1 94.2h0M299.4 36.4h0"/><path stroke="#02bac3" d="M269.4 86.6h0M294.6 64.2h0M298.2 66.9h0M301.0 38.5h0M279.9 60.0h0M259.4 62.2h0M249.6 81.7h0M298.7 40.5h0M278.2 47.3h0M295.5 62.2h0M303.6 69.9h0M282.2 59.1h0M295.2 31.5h0M316.2 56.3h0M261.7 94.2h0M289.1 57.7h0M281.7 39.9h0M253.2 60.3h0M252.7 86.3h0M269.5 51.6h0M257.1 96.4h0M312.0 43.7h0M308.9 42.7h0M280.9 41.7h0M260.9 66.6h0M313.6 41.0h0M286.2 58.1h0M252.2 75.8h0M266.2 83.9h0M320.3 67.8h0M290.3 61.2h0M304.8 49.1h0M276.0 79.0h0M249.3 96.1h0M288.2 40.5h0M305.4 44.1h0M320.8 45.8h0M282.8 51.5h0M304.8 42.9h0M269.1 87.8h0M289.2 73.0h0M287.4 64.8h0"/><path stroke="#0bbdbc" d="M255.6 80.0h0M292.9 69.1h0M291.2 59.8h0M299.8 50.7h0M295.7 46.7h0M268.7 79.7h0M297.5 57.9h0M312.2 43.2h0M290.0 65.6h0M304.5 44.2h0M273.1 76.6h0M267.0 57.0h0M269.2 67.7h0M269.1 67.7h0M304.4 73.9h0M268.0 58.7h0M263.7 87.3h0M264.1 73.1h0M308.8 57.8h0M280.6 67.4h0M283.9 44.1h0M281.3 52.2h0M282.9 62.9h0M314.7 59.3h0M272.1 87.4h0M261.3 73.0h0M308.3 53.0h0M292.9 45.9h0M268.4 73.2h0M277.2 52.0h0M257.2 56.3h0M267.9 77.0h0M260.7 78.5h0M277.2 64.9h0M287.1 69.4h0M312.2 51.2h0M270.5 85.7h0M315.0 33.5h0M270.2 56.5h0M280.2 77.9h0M315.3 44.7h0M320.9 40.9h0M290.4 74.6h0M267.9 73.7h0"/><path stroke="#19bfb5" d="M283.6 79.9h0M293.3 52.7h0M287.4 61.7h0M296.3 62.3h0M263.0 85.9h0M275.3 48.2h0M281.4 94.5h0M296.2 51.8h0M278.5 54.5h0M310.1 40.8h0M269.6 72.6h0M298.4 56.7h0M307.2 60.6h0M251.7 90.0h0M281.2 70.1h0M319.2 47.6h0M294.9 41.4h0M285.3 47.6h0M314.6 42.0h0M256.9 88.6h0M273.9 95.3h0M258.3 89.9h0M285.2 69.4h0M277.6 79.3h0M272.4 72.0h0M317.9 31.5h0M261.4 83.6h0M281.1 51.1h0M257.6 79.6h0M298.7 59.4h0M277.0 67.7h0M276.8 60.1h0M320.6 43.4h0M285.3 73.6h0M293.1 44.2h0"/><path stroke="#24c1ae" d="M282.4 92.8h0M264.5 69.2h0M273.2 71.3h0M247.6 88.9h0M279.7 72.5h0M283.8 83.7h0M310.6 44.0h0M293.9 79.3h0M303.0 84.1h0M250.4 79.8h0M307.9 53.7h0M312.4 53.5h0M276.8 74.5h0M256.0 69.9h0M288.1 82.7h0M278.1 73.1h0M299.3 55.1h0M250.6 91.8h0M269.5 84.3h0M312.8 40.8h0M300.3 56.9h0M267.2 83.7h0M262.1 80.5h0M283.7 47.2h0M272.8 60.8h0M313.4 46.3h0M316.1 37.2h0M260.6 86.3h0M274.1 90.1h0M305.3 43.4h0M260.6 84.1h0M290.2 46.4h0M281.4 79.1h0M269.3 72.8h0M298.9 49.4h0M283.6 50.3h0M256.3 89.7h0M316.4 41.1h0M319.9 42.0h0M314.1 33.0h0M297.3 44.9h0M288.0 73.5h0"/><path stroke="#2cc4a6" d="M284.8 44.6h0M316.8 62.2h0M285.9 82.5h0M313.1 34.5h0M278.4 58.0h0M297.0 51.9h0M259.4 90.3h0M277.4 51.8h0M322.1 43.1h0M289.7 66.0h0M297.6 43.9h0M265.9 82.0h0M311.5 56.5h0M251.2 82.6h0M302.2 44.2h0M306.2 86.0h0M317.8 46.2h0M291.2 60.0h0M322.5 56.6h0M306.8 50.8h0M290.4 53.1h0M275.7 77.3h0M255.1 77.1h0M262.6 85.8h0M316.8 40.7h0M309.4 65.2h0M259.7 79.5h0M319.3 51.4h0M287.1 80.3h0M278.5 63.3h0M266.5 66.7h0M261.9 53.5h0M290.9 71.1h0M279.6 57.8h0"/><path stroke="#31c69f" d="M315.1 58.0h0M272.7 75.4h0M316.9 57.1h0M296.0 40.1h0M320.1 51.7h0M307.7 47.1h0M269.9 88.0h0M271.6 96.5h0M301.9 72.5h0M262.2 82.1h0M253.9 91.8h0M266.7 80.8h0M282.4 71.2h0M304.6 60.2h0M313.5 47.9h0M293.9 52.6h0M305.5 58.2h0M259.5 92.9h0M263.9 91.4h0M282.6 49.5h0M302.0 48.3h0M269.7 96.7h0M263.1 95.4h0M321.3 39.8h0M310.4 70.9h0M281.2 48.6h0M287.6 46.3h0M287.8 65.9h0M296.7 72.3h0M264.5 88.7h0M278.3 62.8h0M262.6 61.0h0M303.7 53.0h0M295.8 64.9h0"/><path stroke="#37c897" d="M299.7 59.0h0M255.0 96.2h0M298.6 60.8h0M288.8 69.4h0M319.0 49.5h0M260.3 71.7h0M296.8 72.1h0M286.2 39.5h0M264.6 86.9h0M286.2 64.9h0M276.1 80.8h0M270.7 84.3h0M286.5 63.4h0M305.5 56.9h0M281.1 85.3h0M314.4 40.4h0M297.1 62.7h0M281.3 84.0h0M304.8 56.0h0M271.7 66.6h0M309.1 59.4h0M322.5 69.4h0M302.5 37.9h0M282.7 37.7h0M319.5 44.2h0M260.2 83.9h0M275.7 90.0h0M264.8 89.1h0M298.5 38.2h0M315.1 42.2h0M289.9 57.0h0M269.3 78.4h0"/><path stroke="#3fca8e" d="M275.4 79.0h0M303.0 59.5h0M269.0 91.1h0M278.9 67.4h0M306.1 55.0h0M284.1 62.3h0M262.5 82.1h0M275.9 67.9h0M273.2 54.6h0M269.0 75.4h0M286.7 87.3h0M272.1 57.8h0M307.1 56.2h0M307.1 51.0h0M302.1 47.8h0M265.8 75.4h0M268.3 80.3h0M276.2 70.4h0M294.1 93.5h0M266.9 70.8h0M284.4 76.7h0M275.7 62.3h0M302.5 84.2h0M309.7 53.8h0M247.0 95.6h0M293.3 72.2h0M272.7 93.6h0M290.1 71.2h0M289.5 79.8h0M309.3 45.3h0M299.6 71.1h0M317.2 49.8h0M320.0 30.7h0M268.7 85.9h0M305.5 74.2h0M256.9 88.7h0M283.8 85.2h0M294.9 57.3h0M300.1 73.2h0M313.8 38.7h0M313.6 64.6h0M311.6 70.6h0M291.2 82.0h0M259.5 70.7h0M271.7 87.6h0M278.8 63.1h0M293.5 58.8h0M282.7 57.6h0M307.2 73.3h0M321.7 64.7h0"/><path stroke="#4acb84" d="M283.9 64.4h0M265.5 78.3h0M287.5 69.2h0M265.4 82.7h0M309.4 59.0h0M283.1 43.2h0M261.7 89.2h0M294.8 65.9h0M298.6 45.1h0M284.3 50.9h0M283.0 81.3h0M274.1 90.9h0M282.2 84.1h0M312.3 52.8h0M295.1 49.6h0M270.7 89.2h0M302.4 60.0h0M271.0 87.9h0M303.2 47.8h0M303.8 59.5h0M301.1 67.7h0M259.0 88.4h0M316.1 37.1h0M319.3 39.2h0M314.9 42.4h0M275.1 84.8h0M271.5 93.4h0M247.1 82.6h0M284.2 56.6h0M312.9 39.3h0M317.1 53.5h0M282.1 65.3h0M303.4 74.0h0M288.4 80.7h0M263.1 68.7h0M312.5 38.2h0M287.1 94.0h0M295.7 55.5h0M292.1 69.3h0M303.2 89.7h0M306.4 58.8h0"/><path stroke="#57cc7a" d="M273.2 69.6h0M261.6 77.8h0M286.5 67.1h0M268.0 74.3h0M282.6 78.7h0M261.3 73.8h0M276.2 59.7h0M251.0 96.6h0M279.9 61.6h0M276.3 59.3h0M253.4 81.9h0M298.0 82.1h0M263.7 80.9h0M315.2 42.6h0M316.0 58.1h0M290.3 84.4h0M298.7 56.4h0M263.7 75.4h0M249.9 95.3h0M285.0 68.7h0M302.0 63.8h0M302.5 82.7h0M317.5 64.0h0M278.7 76.3h0M274.1 69.9h0M306.3 94.6h0M320.6 61.4h0M272.5 93.2h0M281.7 63.0h0M319.7 51.4h0M293.3 68.1h0M284.5 86.5h0M291.0 54.2h0M286.6 82.7h0M269.2 72.2h0M317.2 70.4h0M274.4 84.6h0M316.1 40.8h0M284.9 62.7h0"/><path stroke="#64cd6f" d="M306.0 62.4h0M305.8 60.5h0M319.2 59.8h0M287.6 70.9h0M305.0 79.2h0M317.6 74.1h0M300.2 61.9h0M271.7 92.8h0M306.9 47.9h0M283.8 74.4h0M287.6 67.9h0M274.7 89.7h0M274.6 77.8h0M290.3 72.0h0M290.7 79.2h0M296.2 60.8h0M266.4 58.3h0M301.4 60.9h0M312.2 50.5h0M301.1 51.7h0M271.8 95.0h0M277.9 60.4h0M279.3 87.7h0M315.9 50.0h0M278.2 75.1h0M279.1 65.7h0M320.9 75.3h0M293.2 41.4h0M312.8 86.1h0M287.6 77.9h0M283.5 87.7h0M275.5 82.2h0M288.3 74.1h0M290.7 71.0h0"/><path stroke="#72cd64" d="M305.2 72.6h0M272.7 89.9h0M278.3 73.7h0M315.4 45.6h0M305.2 50.1h0M294.5 91.4h0M319.5 54.4h0M308.8 61.4h0M285.8 84.8h0M293.0 69.4h0M315.1 56.0h0M305.7 53.9h0M268.2 93.6h0M284.2 59.5h0M289.4 86.6h0M296.2 76.2h0M296.9 51.3h0M284.9 80.7h0M301.8 69.0h0M298.1 54.9h0M298.1 55.3h0M276.2 71.9h0M295.6 65.6h0M288.4 59.3h0M275.5 85.6h0M284.2 86.2h0M306.0 53.4h0M311.7 50.2h0M311.7 56.5h0M307.8 43.6h0M270.6 71.1h0M313.2 56.4h0M281.8 77.7h0M281.6 81.9h0M284.0 75.5h0M295.7 91.9h0M314.1 63.4h0M318.4 51.5h0M289.8 60.0h0M304.5 57.1h0M301.1 73.0h0M293.3 93.6h0M307.8 63.0h0"/><path stroke="#81cc59" d="M307.8 70.1h0M286.2 93.6h0M282.4 79.8h0M303.2 55.5h0M283.7 75.5h0M282.2 76.3h0M257.5 73.3h0M262.2 77.4h0M294.3 62.4h0M264.3 90.9h0M318.8 40.0h0M273.9 77.9h0M299.2 72.5h0M322.1 53.7h0M283.9 86.6h0M320.9 64.8h0M258.1 81.9h0M304.8 59.5h0M284.2 94.2h0M270.0 86.2h0M253.5 92.4h0M258.2 84.5h0M294.4 80.9h0M293.7 71.8h0M320.7 48.3h0M284.5 80.9h0M287.4 68.2h0M312.2 81.4h0M304.3 79.3h0M293.8 75.7h0M267.9 95.8h0M317.3 73.7h0M280.3 78.7h0M283.3 96.6h0M276.0 84.4h0M266.1 86.9h0M289.0 92.3h0M301.4 70.1h0M283.8 86.9h0M295.5 89.2h0M252.3 91.9h0M294.1 88.6h0M320.1 70.7h0"/><path stroke="#8fcb4e" d="M270.2 46.4h0M288.4 85.7h0M283.0 79.6h0M310.7 43.4h0M302.3 92.3h0M293.8 71.2h0M314.5 78.8h0M289.3 68.6h0M300.7 63.3h0M271.2 76.4h0M280.4 63.3h0M285.3 88.1h0M265.6 82.6h0M287.1 78.1h0M301.6 77.6h0M272.4 83.7h0M321.2 48.4h0M309.7 89.9h0M299.6 72.8h0M308.2 84.0h0M275.8 58.6h0M288.7 73.8h0M303.2 93.2h0M282.0 93.1h0M310.9 70.2h0M315.2 58.1h0M287.0 82.7h0M302.0 75.0h0M293.2 70.2h0M288.5 91.6h0M290.7 83.4h0M298.9 94.9h0M313.0 81.6h0M320.8 66.6h0M295.3 91.7h0M313.6 57.0h0M286.0 89.8h0M300.8 49.9h0"/><path stroke="#9dc943" d="M291.1 62.9h0M281.4 80.5h0M321.7 70.0h0M270.7 62.3h0M282.0 79.0h0M305.6 48.7h0M301.3 91.2h0M313.2 73.4h0M261.3 90.3h0M317.7 59.1h0M262.5 84.4h0M300.6 76.5h0M301.5 61.2h0M293.6 52.8h0M282.4 75.1h0M275.6 86.9h0M291.7 86.0h0M271.0 77.2h0M307.1 62.1h0M311.1 68.8h0M285.8 58.7h0M300.4 80.0h0M285.6 96.6h0M301.9 83.7h0M295.3 78.4h0M302.4 53.3h0M296.8 85.8h0M299.7 68.5h0M281.6 80.1h0M304.6 35.2h0M289.0 83.9h0M283.1 96.1h0M315.7 52.3h0"/><path stroke="#abc739" d="M315.6 35.8h0M317.7 42.8h0M319.6 56.4h0M282.2 82.1h0M321.2 61.3h0M298.9 70.0h0M304.5 85.9h0M292.1 79.2h0M307.8 63.0h0M277.0 86.6h0M301.1 48.2h0M318.7 59.5h0M289.1 88.8h0M296.8 74.5h0M280.0 94.9h0M291.6 64.5h0M286.8 84.0h0M309.1 74.1h0M315.4 75.2h0M285.4 81.4h0M308.2 87.6h0M322.1 52.2h0M283.3 73.9h0M313.4 62.9h0M295.4 90.3h0M287.4 91.4h0M315.8 68.8h0"/><path stroke="#b9c431" d="M320.7 59.8h0M279.0 64.0h0M284.4 93.8h0M312.3 66.6h0M313.6 93.3h0M314.8 40.9h0M307.8 78.5h0M304.0 63.5h0M283.9 64.6h0M293.9 64.3h0M296.3 88.7h0M291.3 96.4h0M289.5 68.9h0M292.2 78.1h0M287.0 61.3h0M283.8 91.2h0M313.2 91.6h0M302.3 89.2h0M258.9 81.6h0M305.5 55.2h0M311.1 87.4h0M280.7 70.6h0M279.8 80.6h0M293.3 86.9h0M309.1 87.5h0M275.7 86.2h0M295.1 57.2h0M299.2 68.9h0M274.3 94.4h0"/><path stroke="#c5c22a" d="M316.7 82.8h0M292.0 80.1h0M322.2 53.4h0M285.9 71.1h0M315.1 57.5h0M286.6 78.9h0M304.0 84.6h0M313.8 64.2h0M290.5 96.5h0M317.6 55.6h0M312.9 43.4h0M293.7 61.4h0M289.4 80.0h0M315.1 69.1h0M321.4 79.5h0M313.9 66.6h0M299.9 86.5h0M289.7 70.1h0M276.1 78.4h0M282.2 82.6h0M322.0 64.6h0M295.5 85.2h0M314.4 42.8h0"/><path stroke="#d1bf27" d="M279.7 84.0h0M312.8 81.1h0M282.5 72.2h0M310.7 85.9h0M272.6 90.9h0M303.8 91.2h0M289.9 74.7h0M306.8 42.0h0M310.6 62.9h0M289.9 66.1h0M317.2 92.4h0M308.0 87.5h0M262.9 80.2h0M286.2 87.8h0M320.3 66.5h0M308.0 89.7h0M275.3 95.7h0M275.4 90.9h0M298.1 92.7h0M294.8 79.7h0M303.6 59.5h0M306.2 64.3h0M318.8 65.3h0M282.2 77.6h0M303.8 61.3h0M295.4 75.6h0M322.5 69.9h0M305.2 86.4h0M311.1 54.4h0M295.0 78.3h0M298.1 88.8h0M311.5 84.6h0M321.5 52.7h0"/><path stroke="#dcbd29" d="M300.9 80.6h0M315.5 93.4h0M316.8 65.2h0M306.4 50.3h0M272.6 95.3h0M300.7 84.1h0M296.4 93.9h0M300.9 82.8h0M288.4 79.4h0M320.3 75.0h0M318.5 73.1h0M308.2 76.0h0M305.6 95.6h0M294.6 84.1h0M316.5 79.2h0M285.9 85.6h0M307.6 60.9h0M319.3 67.9h0M297.5 92.2h0M299.3 85.1h0M316.1 64.7h0M314.1 79.9h0M303.6 66.6h0"/><path stroke="#e6bb2d" d="M288.8 78.8h0M302.9 84.7h0M311.8 66.5h0M280.0 80.1h0M317.2 87.1h0M321.6 75.1h0M316.1 78.5h0M280.0 85.4h0M308.9 59.3h0M287.6 94.0h0M309.4 87.3h0M307.9 63.1h0M305.7 96.6h0M302.0 84.1h0M297.2 69.2h0M280.2 84.4h0M304.2 68.7h0M284.3 84.3h0M322.5 60.3h0M272.9 88.6h0M279.1 96.2h0M282.7 89.3h0M316.8 76.3h0M322.0 73.1h0M313.9 82.8h0M274.1 76.2h0M278.5 92.3h0M301.5 63.7h0M318.7 85.1h0M290.3 89.4h0M292.6 82.1h0M316.3 77.8h0M308.6 73.2h0"/><path stroke="#f0ba36" d="M309.0 94.1h0M300.2 80.2h0M298.8 93.2h0M315.8 89.5h0M293.5 81.4h0M273.6 84.7h0M302.3 92.0h0M322.0 93.6h0M299.2 57.2h0M299.3 87.3h0M297.9 52.7h0M276.7 80.2h0M305.1 92.6h0M311.3 51.5h0M311.9 63.4h0M309.2 94.0h0M308.0 67.2h0M308.0 79.3h0M304.7 83.1h0M289.1 96.5h0M302.9 80.2h0M298.9 85.4h0M304.9 82.8h0M295.4 94.0h0M289.5 85.9h0M285.5 89.2h0M321.9 54.7h0M264.4 94.6h0M310.6 61.5h0M296.3 89.9h0M318.3 51.7h0M316.9 96.1h0M310.8 61.9h0M317.0 94.3h0M317.0 80.6h0M320.8 65.2h0"/><path stroke="#f8ba3d" d="M304.0 78.7h0M304.1 62.9h0M321.3 95.3h0M318.4 82.7h0M305.5 92.0h0M302.3 65.2h0M293.6 79.6h0M287.6 89.7h0M289.4 75.3h0M307.1 87.5h0M315.3 78.3h0M318.4 94.3h0M314.7 93.4h0M320.1 86.8h0M315.5 62.8h0M294.0 74.0h0M307.0 86.9h0M296.7 80.6h0M309.4 61.3h0M316.1 59.4h0M305.7 96.5h0M302.6 90.8h0M290.9 74.8h0M290.4 84.3h0M307.2 93.2h0"/><path stroke="#febe3c" d="M304.2 96.7h0M312.2 56.6h0M294.4 82.3h0M305.7 84.2h0M317.6 66.1h0M313.4 85.3h0M321.5 67.9h0M301.3 94.2h0M280.9 95.3h0M292.3 84.9h0M292.8 78.3h0M297.4 66.7h0M287.7 85.9h0M322.4 74.7h0M317.8 52.6h0M306.7 80.0h0M313.9 92.7h0M302.2 84.0h0M320.3 88.3h0M296.8 69.4h0"/><path stroke="#fec338" d="M300.2 86.6h0M321.7 62.9h0M316.6 74.6h0M312.6 72.6h0M309.4 76.5h0M304.0 78.6h0M304.9 92.1h0M298.1 85.4h0M296.6 90.4h0M295.3 83.7h0M313.5 64.7h0M306.5 59.5h0M312.0 64.1h0M317.4 95.0h0M302.4 71.9h0M311.9 84.2h0"/><path stroke="#fec934" d="M291.4 95.1h0M308.4 84.1h0M320.5 84.7h0M307.3 73.5h0M304.8 86.4h0M294.7 87.5h0M294.7 89.3h0M298.5 92.7h0M319.5 61.8h0M321.6 70.1h0M314.4 72.3h0M294.7 93.1h0M317.1 88.2h0M319.9 80.6h0M309.8 60.0h0M315.6 91.5h0M317.4 91.4h0M317.2 73.8h0M317.8 91.7h0"/><path stroke="#fccf30" d="M312.0 73.0h0M296.6 82.6h0M311.2 81.4h0M302.0 81.4h0M303.3 96.1h0M312.2 87.4h0M314.4 80.6h0M314.3 81.6h0M320.5 67.3h0M297.5 92.5h0M321.5 85.2h0M302.5 91.4h0M301.6 90.9h0M267.0 86.8h0M280.2 89.3h0"/><path stroke="#fad62d" d="M297.1 82.0h0M291.5 96.4h0M316.8 85.8h0M308.2 96.2h0M281.4 78.1h0M315.9 63.6h0M307.4 88.2h0M289.4 94.3h0M307.9 92.6h0M313.2 70.7h0M317.6 80.9h0M312.4 93.4h0M285.2 94.9h0M309.5 82.5h0M319.9 81.9h0"/><path stroke="#f7dc2a" d="M320.4 80.1h0M302.4 96.7h0M309.8 77.6h0M300.3 90.9h0M305.6 90.6h0M291.0 89.7h0M303.7 92.8h0M302.9 92.0h0M283.7 77.1h0M321.7 86.3h0M305.2 94.0h0"/><path stroke="#f5e327" d="M277.1 92.9h0M281.8 89.6h0M307.1 70.2h0M316.2 95.5h0M309.7 68.9h0M307.2 79.2h0M312.9 87.9h0"/><path stroke="#f5e924" d="M309.4 93.8h0M303.0 65.9h0M309.0 92.9h0M302.6 96.7h0M309.4 91.3h0M312.6 95.0h0"/><path stroke="#f6ef20" d="M319.4 93.4h0M298.7 91.5h0M300.9 85.2h0M311.0 83.9h0M282.9 96.3h0M316.7 89.7h0M311.7 79.6h0M315.1 84.0h0"/><path stroke="#f7f51b" d="M322.0 72.5h0M311.9 95.5h0M319.9 78.1h0M306.9 91.0h0M316.1 70.3h0M320.7 68.8h0M320.4 96.2h0M293.0 87.4h0M307.7 96.3h0M311.3 72.5h0M314.1 84.7h0M322.2 94.6h0M282.7 96.6h0M321.6 82.1h0M311.0 79.5h0"/><path stroke="#f9fb15" d="M319.1 87.3h0M299.3 92.1h0M316.4 87.3h0M318.1 89.8h0M311.2 76.4h0M298.1 88.7h0M320.2 95.6h0M297.8 96.0h0M321.6 96.3h0M305.6 95.9h0M304.0 73.3h0M316.8 81.6h0M319.4 83.2h0M315.4 89.1h0M316.3 79.8h0M303.2 95.3h0M320.9 86.4h0M305.3 92.7h0M313.7 82.3h0M318.3 91.7h0M309.4 91.1h0M304.6 94.2h0M313.9 88.0h0M315.8 95.7h0M302.9 95.6h0M319.4 95.4h0M321.6 94.0h0M322.4 69.1h0"/><path stroke="#3e26a8" d="M253.0 61.6h0M287.4 33.3h0"/><path stroke="#402ab4" d="M262.9 50.8h0"/><path stroke="#422ec0" d="M315.6 26.4h0"/><path stroke="#4332cb" d="M252.0 76.3h0M315.2 31.2h0M255.9 56.6h0M275.6 40.1h0M314.6 33.4h0M264.6 50.1h0"/><path stroke="#4537d5" d="M252.0 79.8h0M250.3 64.7h0"/><path stroke="#463cde" d="M274.2 40.4h0M304.5 32.7h0"/><path stroke="#4741e5" d="M245.9 75.9h0M248.4 85.6h0"/><path stroke="#4747eb" d="M256.1 76.7h0M241.5 93.0h0M296.8 32.6h0M242.2 90.2h0M250.0 68.1h0M273.1 39.9h0M278.5 47.5h0M262.9 69.6h0M309.4 30.6h0"/><path stroke="#484df0" d="M279.8 38.3h0M268.4 57.2h0M249.0 89.8h0M245.9 92.8h0M266.5 50.0h0M265.5 68.9h0M276.4 40.6h0"/><path stroke="#4852f4" d="M279.4 37.3h0M246.3 82.6h0M256.8 75.7h0M307.8 28.4h0M270.6 41.8h0M248.3 73.4h0M296.8 30.2h0M283.3 35.3h0M266.7 45.9h0M271.4 53.4h0"/><path stroke="#4758f8" d="M262.4 56.1h0M270.3 46.1h0M251.3 70.8h0M307.6 31.3h0M286.5 39.4h0M267.3 50.2h0M251.2 64.1h0M246.4 79.4h0M283.4 44.6h0M243.8 88.6h0M267.4 56.5h0M241.1 92.8h0M293.5 31.7h0M313.6 34.1h0M293.3 31.4h0M247.4 71.7h0M257.7 70.7h0M294.0 36.6h0M242.4 90.5h0M262.2 52.4h0M283.6 42.1h0M266.6 44.4h0"/><path stroke="#465efb" d="M275.5 58.8h0M283.5 36.9h0M303.2 31.8h0M316.7 26.7h0M306.3 32.2h0M269.7 54.7h0M264.0 46.1h0M321.5 27.2h0M269.0 42.8h0M285.4 35.1h0M253.2 68.4h0M255.7 69.0h0"/><path stroke="#4563fd" d="M273.7 43.6h0M264.0 46.0h0M307.5 38.8h0M263.1 50.6h0M253.9 70.0h0M260.6 80.5h0M261.7 64.9h0M282.4 36.7h0M244.6 85.9h0M256.1 67.1h0M263.4 50.1h0M263.5 52.8h0M241.1 92.4h0M247.3 73.8h0M310.8 29.2h0"/><path stroke="#4269fe" d="M268.4 42.8h0M303.3 32.6h0M280.8 47.5h0M253.6 59.9h0M268.2 65.0h0M258.5 74.3h0M269.9 50.0h0M285.5 60.9h0M280.0 39.8h0M273.0 41.3h0M255.6 64.2h0M243.7 86.3h0M303.9 29.0h0M297.6 32.4h0M303.8 33.0h0M265.1 52.6h0M322.5 33.5h0"/><path stroke="#3e6fff" d="M313.5 28.3h0M280.5 39.3h0M278.4 37.2h0M265.1 58.2h0M262.9 52.6h0M263.7 61.2h0M289.6 39.7h0M315.0 29.8h0M263.5 53.3h0M251.6 63.0h0M318.2 29.1h0M261.4 52.6h0M317.3 29.0h0M248.9 68.0h0M242.5 88.8h0M255.6 64.4h0"/><path stroke="#3875fe" d="M259.1 53.5h0M289.3 32.6h0M288.2 33.1h0M306.1 29.9h0M266.4 60.5h0M275.1 41.5h0M286.9 40.6h0M321.0 32.2h0M262.8 58.3h0M264.7 57.7h0M256.9 56.3h0M271.1 62.0h0M247.6 81.7h0M275.1 56.9h0M282.1 35.8h0M285.3 46.0h0M263.7 59.5h0"/><path stroke="#327cfc" d="M280.3 35.9h0M261.5 49.5h0M310.1 29.1h0M251.3 79.3h0M248.0 93.6h0M308.7 63.8h0M268.0 72.7h0M288.5 49.2h0M263.2 51.6h0M279.0 43.4h0M287.3 35.8h0M247.5 93.5h0M252.8 72.9h0M299.6 34.3h0M249.3 91.1h0M288.4 58.5h0M247.5 92.5h0M243.1 94.0h0M263.3 61.3h0M279.5 71.1h0M285.5 45.4h0M250.2 90.0h0M260.1 53.1h0M321.0 31.0h0M319.8 29.4h0M293.2 44.7h0M256.4 66.2h0M285.4 35.7h0"/><path stroke="#2f81fa" d="M251.8 75.8h0M277.4 68.1h0M305.2 29.4h0M255.3 59.0h0M290.2 35.6h0M270.5 57.1h0M248.1 79.1h0M291.6 36.8h0M277.9 58.4h0M255.2 66.1h0M298.9 32.8h0M249.9 81.8h0M281.0 37.6h0M259.9 52.6h0M249.0 88.4h0M251.4 67.9h0M268.2 93.7h0M249.3 75.5h0M252.7 69.0h0M248.5 81.7h0M265.3 48.9h0M263.5 48.4h0M265.4 46.2h0M266.2 57.0h0M250.7 73.2h0M243.4 89.8h0M317.9 28.2h0M247.0 89.3h0M258.4 53.7h0M295.9 45.4h0M258.4 60.3h0"/><path stroke="#2e87f7" d="M244.4 92.6h0M267.1 48.2h0M270.9 47.6h0M244.0 88.8h0M255.4 64.4h0M309.9 29.9h0M246.0 93.9h0M279.2 49.9h0M250.1 65.4h0M321.7 33.2h0M304.2 52.9h0M273.3 42.1h0M257.7 61.9h0M308.0 27.7h0M320.2 26.4h0M268.7 56.1h0M280.6 65.7h0M254.7 76.4h0M303.2 35.3h0M284.8 40.5h0M267.4 59.1h0M273.0 62.0h0M257.0 66.7h0M273.6 46.1h0M271.4 66.6h0M311.2 42.9h0"/><path stroke="#2d8cf3" d="M282.5 44.6h0M265.8 52.1h0M291.9 33.8h0M305.0 43.0h0M269.1 82.4h0M301.5 33.1h0M321.2 34.2h0M318.4 30.5h0M279.5 42.8h0M252.8 84.7h0M278.9 42.9h0M315.2 28.7h0M273.0 59.8h0M275.7 39.7h0M304.8 30.7h0M311.2 27.9h0M244.1 94.8h0M261.4 49.9h0M317.8 36.3h0M304.8 39.8h0M306.1 45.6h0M281.6 46.8h0M281.3 50.5h0M296.9 50.8h0M311.4 32.6h0M267.9 71.1h0M252.8 76.0h0M271.8 40.7h0M248.0 92.9h0M248.3 91.8h0M276.9 50.5h0"/><path stroke="#2b91ef" d="M309.5 31.1h0M245.9 82.9h0M301.7 42.5h0M284.2 47.6h0M262.9 76.5h0M296.7 42.8h0M269.0 70.2h0M272.5 45.2h0M283.2 35.9h0M308.9 41.6h0M300.3 33.1h0M313.9 37.7h0M250.6 73.7h0M254.7 75.8h0M302.2 44.5h0M254.5 95.6h0M265.9 74.6h0M246.1 84.1h0M320.9 25.5h0M264.8 65.1h0M260.4 84.5h0M294.9 40.6h0M276.2 81.1h0M284.3 40.8h0M278.6 41.8h0M259.0 79.3h0M276.3 50.0h0M273.3 40.3h0M255.5 63.9h0M288.7 49.8h0"/><path stroke="#2797eb" d="M278.6 83.9h0M315.4 33.5h0M260.8 80.2h0M291.7 53.5h0M254.4 70.4h0M250.3 72.9h0M284.1 37.3h0M282.2 41.0h0M247.8 72.9h0M244.1 84.7h0M293.7 41.7h0M320.9 28.6h0M254.0 93.6h0M304.8 37.5h0M289.4 46.0h0M263.5 61.2h0M319.5 27.4h0M281.1 47.8h0M251.8 68.8h0M263.3 65.0h0M265.0 70.5h0M254.3 89.4h0M257.5 68.7h0M262.0 74.2h0M272.3 59.0h0M267.8 50.7h0M263.0 53.9h0M265.3 78.0h0M317.9 36.3h0M320.4 27.9h0M298.9 36.1h0M310.6 40.9h0M298.0 34.7h0M289.4 74.1h0M312.9 35.1h0M274.4 50.9h0M273.1 65.5h0"/><path stroke="#259be8" d="M297.5 61.6h0M258.2 76.3h0M274.9 74.3h0M258.6 80.9h0M270.8 59.8h0M293.0 44.3h0M312.1 43.9h0M255.2 79.2h0M262.8 88.0h0M307.6 37.0h0M319.9 40.3h0M268.3 82.5h0M270.5 57.2h0M272.2 57.4h0M302.9 33.5h0M313.5 31.1h0M265.4 63.7h0M274.3 42.6h0M315.5 33.0h0M293.4 45.4h0M290.2 39.5h0M268.6 57.2h0M317.4 32.0h0M297.0 31.7h0M261.4 61.1h0M252.4 61.3h0M268.0 61.7h0M292.2 41.2h0M298.1 42.4h0M255.6 82.9h0M273.3 47.1h0M265.1 56.3h0M284.1 55.5h0M273.9 46.2h0M276.2 39.8h0M272.4 49.6h0M317.0 33.5h0M306.6 30.4h0M310.8 28.3h0"/><path stroke="#23a0e5" d="M268.9 61.2h0M304.5 30.3h0M272.9 54.7h0M251.8 86.8h0M264.3 66.6h0M263.2 52.8h0M247.7 91.8h0M303.6 33.6h0M254.9 84.4h0M260.0 78.2h0M308.9 29.9h0M284.1 38.5h0M276.5 61.9h0M278.9 51.8h0M287.1 45.8h0M289.7 36.7h0M308.8 43.5h0M295.9 36.2h0M297.5 35.2h0M272.7 40.7h0M258.3 57.9h0M307.1 43.4h0M278.2 57.1h0M258.6 89.1h0M242.1 92.1h0M282.8 40.6h0M271.0 58.9h0M297.4 33.7h0M293.8 62.3h0M309.0 31.2h0M284.5 63.8h0"/><path stroke="#20a5e3" d="M254.3 79.5h0M264.5 49.3h0M320.3 44.7h0M265.7 51.5h0M320.9 45.2h0M278.3 62.6h0M251.9 96.4h0M287.1 37.9h0M296.0 32.7h0M315.2 35.8h0M268.8 85.9h0M255.0 68.8h0M252.6 77.3h0M261.2 60.8h0M299.6 42.8h0M273.9 51.2h0M247.6 90.4h0M303.2 32.0h0M317.0 49.4h0M285.5 53.4h0M268.2 44.4h0M288.7 41.8h0M319.9 41.9h0M276.4 48.4h0M266.9 52.3h0M309.8 29.1h0M262.5 62.3h0M313.9 34.9h0M320.0 40.2h0M277.2 51.8h0M253.8 68.3h0M262.5 90.1h0M252.8 68.0h0M267.7 57.3h0M255.1 70.6h0M275.8 55.0h0M277.6 81.3h0M288.6 69.3h0M274.3 47.7h0M260.4 91.1h0"/><path stroke="#1ca9df" d="M279.3 65.0h0M265.1 76.0h0M284.2 50.7h0M319.6 40.0h0M262.1 58.7h0M296.0 54.7h0M314.0 36.9h0M265.3 96.6h0M276.0 42.3h0M261.9 62.6h0M298.4 40.1h0M311.3 44.1h0M314.4 50.6h0M317.3 37.0h0M265.6 86.5h0M271.7 56.1h0M282.1 67.4h0M260.9 89.1h0M282.4 44.8h0M278.1 53.3h0M276.0 55.1h0M265.1 56.6h0M273.7 45.5h0M282.4 49.5h0M301.4 32.0h0M313.1 49.7h0M243.3 96.1h0M313.5 44.6h0M285.5 60.9h0M261.2 69.9h0M252.5 90.5h0M270.0 75.5h0M295.7 55.9h0M313.9 28.4h0M262.9 72.3h0M262.2 80.2h0"/><path stroke="#18addb" d="M276.7 45.0h0M293.2 68.4h0M321.2 41.4h0M280.6 40.1h0M273.1 79.9h0M295.5 36.7h0M257.2 58.0h0M312.6 47.9h0M277.8 57.4h0M265.7 80.6h0M268.2 78.8h0M308.3 40.4h0M286.4 49.1h0M264.7 64.8h0M320.3 56.5h0M298.4 46.3h0M274.4 49.7h0M291.8 60.0h0M297.3 43.7h0M307.3 32.9h0M268.9 77.8h0M264.1 73.0h0M296.8 64.0h0M320.1 43.4h0M250.7 85.9h0M266.3 67.1h0M269.0 62.4h0M257.0 82.1h0M278.2 79.3h0M286.2 61.3h0M291.9 50.3h0M277.0 49.4h0M288.0 37.6h0M279.3 47.2h0M261.4 83.6h0M260.4 63.3h0M316.5 41.5h0M259.5 95.1h0M254.9 64.5h0M277.5 50.3h0M313.5 34.9h0M316.4 43.3h0M254.5 62.1h0M262.2 88.7h0M265.0 51.0h0M264.5 76.7h0M252.3 66.1h0M319.9 38.4h0M305.1 59.0h0M307.6 33.0h0M293.7 72.9h0M252.2 68.5h0M296.6 41.9h0"/><path stroke="#12b1d6" d="M273.9 88.0h0M284.2 46.4h0M272.2 59.4h0M308.2 38.9h0M260.6 59.6h0M286.6 59.3h0M248.6 93.6h0M267.7 44.5h0M296.2 57.1h0M290.7 50.8h0M272.2 50.1h0M316.4 43.0h0M299.1 58.2h0M301.5 48.8h0M300.4 37.4h0M315.4 38.6h0M246.6 95.8h0M289.0 56.5h0M265.3 49.2h0M311.6 32.9h0M304.3 35.3h0M268.3 57.6h0M279.6 41.4h0M322.4 54.3h0M251.6 92.4h0M315.3 57.3h0M282.0 62.4h0M263.0 70.9h0M273.0 62.3h0M283.2 46.3h0M263.0 84.6h0M264.8 57.4h0M306.0 44.2h0M297.2 57.7h0M272.4 86.8h0M271.2 56.6h0M276.4 43.6h0M294.8 83.2h0M256.9 80.4h0M293.4 62.7h0M308.7 41.6h0M292.2 58.9h0"/><path stroke="#08b5d0" d="M290.4 65.8h0M284.4 40.0h0M287.9 49.0h0M289.4 39.9h0M272.5 77.3h0M246.8 94.2h0M260.4 65.0h0M264.2 88.0h0M320.6 46.6h0M290.4 38.8h0M289.5 58.8h0M282.6 58.4h0M266.3 76.6h0M272.4 58.8h0M273.0 82.4h0M277.8 53.5h0M270.0 77.6h0M302.5 35.6h0M272.9 73.1h0M280.5 44.3h0M298.5 62.7h0M280.1 75.2h0M259.7 67.7h0M279.2 65.3h0M283.1 46.7h0M300.1 44.1h0M301.8 35.0h0M296.8 62.7h0M296.1 45.5h0M258.5 96.5h0M263.4 75.7h0M248.3 78.5h0M282.3 74.4h0M308.7 35.0h0M253.1 73.7h0M281.5 41.5h0M305.6 66.2h0"/><path stroke="#01b8ca" d="M262.5 90.4h0M281.3 80.7h0M272.7 70.6h0M313.8 46.2h0M285.5 50.5h0M275.0 46.5h0M290.5 71.5h0M271.2 73.7h0M278.8 83.5h0M297.8 79.8h0M297.9 30.9h0M298.1 48.4h0M297.5 51.5h0M292.2 41.9h0M267.2 71.4h0M257.1 65.4h0M262.2 80.0h0M246.2 96.2h0M273.5 58.9h0M312.1 40.7h0M283.2 55.2h0M289.8 55.7h0M282.5 80.7h0M273.6 70.6h0M264.9 76.6h0M284.7 84.6h0M256.4 88.0h0M261.9 52.4h0M263.4 88.1h0M269.4 81.4h0M292.5 63.7h0M248.4 90.0h0M304.8 65.5h0M272.0 87.5h0M279.2 70.8h0M278.7 48.3h0M300.6 40.8h0M247.3 92.3h0M283.9 57.3h0M277.9 73.6h0M263.3 52.0h0M292.7 40.1h0M266.6 75.3h0M282.6 63.5h0M267.0 82.5h0M247.3 78.1h0M256.5 87.2h0M307.5 37.7h0M296.5 39.1h0"/><path stroke="#02bac3" d="M287.1 65.3h0M266.2 61.9h0M275.8 52.5h0M283.6 70.9h0M275.2 38.8h0M260.3 74.3h0M266.3 84.9h0M297.2 53.1h0M264.9 65.3h0M263.9 78.4h0M251.1 96.6h0M309.2 29.8h0M265.9 80.6h0M279.0 46.3h0M265.2 72.5h0M260.5 69.8h0M290.4 56.3h0M267.7 67.4h0M292.5 49.5h0M299.6 73.2h0M268.8 89.6h0M285.5 37.0h0M298.5 38.0h0M265.1 73.7h0M314.7 37.1h0M293.2 49.0h0M283.6 52.4h0M257.6 76.8h0M254.9 86.6h0M278.3 68.9h0M296.2 37.0h0M265.9 71.8h0M254.6 94.9h0M271.9 70.4h0M301.7 38.7h0M319.6 50.5h0M304.5 47.5h0M297.3 64.1h0M305.9 45.6h0M253.9 83.3h0"/><path stroke="#0bbdbc" d="M300.4 58.4h0M311.7 38.3h0M272.7 66.3h0M301.7 43.6h0M274.9 79.8h0M312.1 48.3h0M322.0 48.0h0M249.4 91.4h0M274.6 85.6h0M264.9 80.8h0M314.8 64.1h0M244.9 84.7h0M267.8 79.7h0M262.6 96.6h0M318.5 51.2h0M312.4 46.1h0M251.2 96.7h0M296.7 54.1h0M301.6 35.8h0M299.0 78.6h0M268.3 64.9h0M299.1 58.9h0M257.7 92.8h0M289.9 64.9h0M265.4 65.8h0M285.9 58.8h0M273.2 60.5h0M279.3 60.0h0M274.9 64.6h0M317.7 40.7h0M265.2 64.4h0M279.4 51.7h0M271.4 64.3h0M303.0 42.3h0M250.1 90.3h0M261.7 82.1h0M272.1 79.7h0M274.2 75.7h0M260.3 69.1h0M265.8 81.2h0"/><path stroke="#19bfb5" d="M255.6 96.5h0M263.1 54.9h0M255.0 94.2h0M283.3 78.8h0M301.6 46.5h0M263.1 69.0h0M308.0 49.7h0M310.0 59.5h0M284.1 66.3h0M259.1 89.1h0M269.2 92.9h0M275.5 60.2h0M276.1 61.1h0M308.5 39.2h0M273.2 64.8h0M281.2 84.0h0M312.6 46.2h0M277.4 51.7h0M249.4 94.9h0M286.6 84.4h0M281.4 44.7h0M261.6 64.3h0M297.0 56.1h0M292.7 43.8h0M301.9 72.1h0M309.9 46.6h0M274.3 46.3h0M273.1 76.4h0M259.1 79.3h0M266.9 87.7h0M258.9 84.4h0M270.4 88.6h0M269.1 63.6h0M282.4 42.8h0M309.1 45.5h0M262.4 55.1h0M270.7 62.8h0M299.0 91.7h0M302.3 64.5h0M285.7 70.5h0"/><path stroke="#24c1ae" d="M277.6 92.3h0M255.9 74.6h0M265.6 83.9h0M267.8 87.0h0M301.8 50.5h0M291.1 93.0h0M310.0 59.2h0M297.8 75.9h0M288.3 64.3h0M301.7 46.4h0M316.1 49.5h0M302.9 63.1h0M282.9 58.5h0M319.9 46.9h0M274.7 57.2h0M280.4 51.2h0M296.9 50.2h0M312.8 52.9h0M250.9 73.5h0M321.0 44.2h0M269.9 71.0h0M292.1 82.3h0M318.1 43.8h0M286.3 55.3h0M290.7 88.8h0M281.1 71.1h0M282.9 52.5h0M258.6 70.4h0M264.3 70.3h0M288.1 46.3h0M312.9 44.7h0M307.2 51.2h0M257.9 84.7h0M253.5 83.4h0M258.5 96.8h0M310.6 53.3h0M291.5 49.3h0M303.7 42.5h0M258.4 80.4h0M294.9 57.7h0M315.4 67.5h0M302.5 45.9h0M292.1 53.0h0M258.5 91.4h0M258.8 69.2h0M291.9 62.2h0M268.0 67.1h0M283.0 90.0h0M270.9 86.8h0M310.0 50.0h0M317.8 39.9h0M302.4 42.9h0M276.7 42.9h0M288.1 75.0h0M309.6 43.0h0M266.5 77.9h0"/><path stroke="#2cc4a6" d="M271.9 80.4h0M299.4 49.7h0M296.9 45.4h0M305.6 50.8h0M291.6 60.4h0M268.7 84.2h0M318.1 47.7h0M317.9 44.1h0M248.6 76.5h0M301.0 51.6h0M301.5 54.7h0M264.3 94.9h0M280.9 68.3h0M299.9 62.9h0M281.1 67.4h0M277.7 52.3h0M305.5 33.2h0M280.1 53.0h0M284.9 76.7h0M304.7 58.1h0M270.5 85.4h0M287.0 59.8h0M278.6 75.8h0M286.4 64.1h0M316.0 44.8h0M275.8 76.3h0M286.7 52.1h0M318.4 82.4h0M275.4 87.6h0M274.5 70.2h0M319.6 68.3h0M277.2 79.9h0M290.2 67.1h0M322.0 43.5h0M271.6 78.9h0M308.1 50.8h0M299.7 64.8h0M260.7 70.0h0M259.1 74.4h0M269.8 90.3h0M281.7 69.2h0M276.8 88.7h0M290.6 63.5h0M291.0 75.5h0"/><path stroke="#31c69f" d="M308.2 67.7h0M261.5 78.0h0M317.9 53.7h0M309.2 49.8h0M322.4 37.9h0M282.6 73.8h0M286.6 78.3h0M289.1 43.2h0M256.6 69.5h0M284.7 69.7h0M257.6 89.6h0M296.2 58.4h0M253.1 96.0h0M309.8 55.6h0M290.9 75.2h0M260.5 80.8h0M319.4 73.7h0M306.1 73.2h0M262.8 92.5h0M281.9 73.7h0M319.8 43.6h0M285.6 50.6h0M258.0 87.7h0M280.2 73.3h0M305.1 61.7h0M319.9 31.6h0M256.3 93.0h0M304.6 30.2h0M271.8 87.9h0M282.0 51.7h0M278.2 82.5h0M273.5 90.1h0M306.2 47.5h0M313.8 48.3h0M282.2 92.2h0M305.2 45.8h0M297.5 42.2h0M298.0 48.8h0M280.6 70.1h0M303.2 46.4h0"/><path stroke="#37c897" d="M321.2 40.2h0M279.6 70.3h0M287.0 66.0h0M292.3 66.6h0M272.4 94.6h0M272.5 88.9h0M303.0 71.9h0M262.4 91.7h0M286.0 63.9h0M291.8 84.8h0M260.8 93.1h0M274.3 70.7h0M298.3 44.4h0M316.2 46.3h0M306.1 68.1h0M289.3 47.8h0M263.8 78.1h0M278.9 59.9h0M284.8 64.7h0M307.0 52.1h0M256.9 94.6h0M306.3 73.6h0M281.4 62.9h0M277.5 87.4h0M262.0 85.6h0M251.2 94.8h0M296.3 86.0h0M320.4 37.3h0M295.3 62.6h0M315.3 69.5h0M285.4 90.0h0M292.5 60.9h0M275.7 64.5h0"/><path stroke="#3fca8e" d="M318.7 55.5h0M282.9 95.2h0M292.0 59.5h0M265.1 92.2h0M285.3 74.9h0M257.0 79.6h0M295.5 95.9h0M266.6 82.4h0M309.6 74.9h0M322.5 67.0h0M317.2 64.6h0M293.0 48.4h0M292.6 66.4h0M284.0 47.0h0M309.0 65.7h0M263.6 88.5h0M253.8 94.4h0M260.9 78.4h0M306.9 65.0h0M321.2 51.6h0M316.9 68.7h0M305.2 83.0h0M298.2 87.2h0M269.5 96.6h0M284.1 64.7h0M272.0 95.9h0M286.2 35.0h0M316.2 56.7h0M300.6 90.4h0M305.2 58.6h0M284.4 75.7h0M256.7 72.5h0M302.2 67.2h0M293.6 68.5h0M302.5 74.4h0M268.7 87.3h0M269.0 63.8h0M264.3 84.7h0M293.8 31.4h0M288.1 65.5h0"/><path stroke="#4acb84" d="M288.9 65.9h0M268.3 73.7h0M282.7 75.0h0M276.5 84.5h0M289.5 80.6h0M272.5 45.5h0M290.1 57.3h0M264.2 91.3h0M287.3 46.4h0M258.5 67.5h0M272.6 73.3h0M288.9 77.1h0M299.0 67.5h0M317.1 59.3h0M297.1 55.9h0M306.2 55.9h0M304.3 76.4h0M300.7 63.2h0M318.4 62.3h0M289.1 61.6h0M303.4 61.4h0M317.4 60.0h0M274.0 83.8h0M275.9 77.9h0M265.3 95.2h0M312.2 71.5h0M276.8 70.3h0M316.3 61.1h0M284.4 84.9h0M278.6 89.4h0M316.8 49.4h0M319.6 49.2h0M267.3 59.2h0M301.3 71.6h0M274.3 57.9h0M300.3 77.0h0M284.0 75.5h0"/><path stroke="#57cc7a" d="M270.0 57.2h0M272.8 88.0h0M312.0 46.2h0M277.0 84.3h0M271.1 81.1h0M309.4 40.0h0M321.5 39.7h0M282.7 58.1h0M271.6 72.9h0M300.6 86.6h0M320.0 75.5h0M309.0 45.1h0M257.6 95.6h0M298.6 77.5h0M295.3 60.9h0M256.9 96.3h0M289.6 57.8h0M303.5 62.7h0M275.6 71.8h0M309.8 86.5h0M269.9 86.5h0M318.8 54.6h0M271.7 85.7h0M283.9 68.3h0M287.1 74.6h0M295.8 56.1h0M284.3 59.0h0M317.1 45.1h0M286.6 58.8h0M296.7 68.3h0M311.2 79.0h0M281.3 92.8h0M299.4 68.7h0M275.4 75.4h0M283.8 92.6h0M287.9 61.6h0M247.4 86.5h0M286.8 76.7h0M296.2 73.6h0M287.2 66.4h0M281.1 54.8h0M257.9 91.4h0M266.0 83.1h0"/><path stroke="#64cd6f" d="M295.4 95.5h0M292.9 61.5h0M297.6 82.7h0M294.7 61.8h0M298.0 47.4h0M317.4 80.1h0M291.5 62.0h0M278.8 94.7h0M316.6 53.6h0M266.4 88.9h0M257.3 95.4h0M309.1 82.0h0M285.2 71.2h0M281.4 89.9h0M318.2 75.5h0M254.2 75.2h0M294.2 52.8h0M274.5 86.2h0M304.2 51.0h0M294.1 81.2h0M281.7 69.0h0M305.0 47.9h0M303.2 59.2h0M278.5 86.6h0M253.9 91.4h0M316.7 48.3h0M287.1 56.7h0M271.9 62.3h0M279.8 95.4h0M311.8 84.4h0M315.3 59.1h0M294.7 72.5h0M278.0 80.3h0M311.8 70.6h0M291.1 61.1h0M310.6 52.7h0M284.8 93.9h0M259.2 74.9h0M301.6 36.2h0"/><path stroke="#72cd64" d="M289.1 49.1h0M290.4 88.2h0M295.3 59.2h0M319.4 58.7h0M282.6 95.3h0M320.7 68.2h0M264.6 80.8h0M295.1 83.1h0M304.6 60.6h0M278.4 94.5h0M304.7 56.3h0M273.5 78.5h0M277.8 96.4h0M305.7 61.4h0M287.9 57.7h0M308.1 71.4h0M320.6 47.4h0M299.1 80.6h0M310.3 63.4h0M303.4 69.9h0M305.9 53.4h0M299.9 59.7h0M302.6 88.8h0M289.9 81.6h0M293.4 55.6h0M320.3 44.2h0M262.0 79.8h0M263.2 73.8h0M306.2 56.3h0M320.4 46.5h0M275.8 78.5h0M295.2 84.3h0"/><path stroke="#81cc59" d="M264.5 72.1h0M246.1 94.5h0M317.2 50.9h0M310.2 52.5h0M307.9 82.8h0M268.2 87.7h0M304.5 84.5h0M295.2 68.5h0M299.7 53.4h0M315.4 45.5h0M305.1 60.4h0M310.2 51.9h0M297.9 96.5h0M278.7 87.9h0M308.4 59.1h0M318.5 76.3h0M299.5 53.0h0M321.3 67.5h0M271.9 63.0h0M267.2 77.5h0M313.5 42.3h0M291.0 77.2h0M321.0 65.6h0M285.4 94.7h0M285.7 56.6h0M315.7 81.0h0M309.9 66.2h0M304.3 36.9h0M294.8 88.0h0M280.7 74.0h0M301.3 67.2h0"/><path stroke="#8fcb4e" d="M319.0 90.1h0M318.1 50.3h0M309.4 67.0h0M292.5 86.9h0M260.7 86.4h0M254.5 76.3h0M297.6 72.9h0M295.4 86.9h0M319.5 34.4h0M316.0 74.0h0M280.4 78.6h0M291.4 75.9h0M297.5 91.7h0M284.9 92.0h0M316.1 48.3h0M313.0 73.7h0M279.4 66.9h0M309.4 48.0h0M296.6 90.8h0M293.5 85.8h0M309.5 59.6h0M287.6 72.4h0M319.7 64.4h0M272.3 62.2h0M310.4 51.0h0M295.5 76.6h0M273.0 90.3h0M281.7 54.8h0M287.3 88.7h0M316.1 54.6h0M291.0 89.4h0M295.5 54.7h0M296.0 80.4h0"/><path stroke="#9dc943" d="M311.9 73.0h0M274.2 79.9h0M309.8 96.9h0M299.9 59.6h0M298.5 84.7h0M272.8 73.1h0M271.5 83.7h0M288.4 86.5h0M294.8 65.6h0M298.1 56.8h0M294.8 81.8h0M282.1 94.7h0M308.7 69.6h0M291.6 82.6h0M314.1 64.5h0M320.8 54.3h0M281.7 80.9h0M271.5 76.1h0M288.1 50.1h0M288.7 90.9h0M277.2 73.4h0M271.1 92.4h0M305.5 67.2h0M297.9 83.2h0M272.2 96.5h0M300.8 79.7h0M311.3 74.7h0M286.0 78.6h0M265.1 82.2h0M317.0 47.4h0M308.8 57.3h0M303.0 37.6h0M316.4 62.7h0"/><path stroke="#abc739" d="M306.7 73.0h0M312.7 80.2h0M296.1 85.6h0M286.1 73.5h0M272.5 94.4h0M297.1 95.0h0M305.6 83.9h0M303.7 68.2h0M259.9 91.2h0M307.0 89.1h0M315.0 84.6h0M319.1 52.4h0M314.1 79.6h0M298.1 84.1h0M319.3 79.0h0M316.2 78.1h0M319.3 57.7h0M291.4 95.0h0M308.7 77.7h0M293.4 63.5h0M314.2 57.9h0M300.7 66.1h0M274.6 88.8h0M315.6 48.9h0M280.6 92.6h0M316.4 68.1h0M275.0 86.0h0M301.1 56.2h0M292.6 65.7h0M313.0 73.2h0M321.9 62.7h0M280.3 82.9h0M307.9 78.2h0M278.3 75.0h0"/><path stroke="#b9c431" d="M308.6 75.7h0M296.3 57.9h0M286.8 59.9h0M282.5 80.6h0M317.2 48.7h0M278.1 92.4h0M296.9 94.1h0M316.3 69.3h0M316.2 67.0h0M301.0 76.4h0M289.3 77.8h0M282.5 81.4h0M305.2 63.7h0M264.2 96.2h0M310.0 83.4h0M309.9 80.6h0M321.4 46.4h0M297.6 66.2h0M292.5 96.3h0M308.3 76.1h0M277.5 91.4h0M269.8 81.4h0M300.2 81.5h0M321.6 49.5h0M300.4 64.0h0M283.1 77.4h0M309.4 73.7h0M261.7 96.5h0M296.3 94.2h0M287.8 77.8h0M274.4 72.0h0M275.3 80.3h0M285.5 79.2h0M294.9 69.0h0M297.8 88.4h0M288.0 75.9h0M285.8 82.8h0M321.9 69.2h0"/><path stroke="#c5c22a" d="M278.9 93.3h0M289.3 87.7h0M302.0 88.3h0M285.1 90.2h0M271.2 77.8h0M310.4 48.4h0M304.1 89.2h0M291.5 74.1h0M295.2 77.6h0M280.4 96.2h0M294.7 60.4h0M320.6 57.7h0M315.2 40.6h0M289.7 90.3h0M300.8 87.1h0M284.6 88.0h0M282.7 78.4h0M308.1 94.4h0M308.0 73.0h0M278.2 60.4h0M303.2 88.1h0M298.8 74.1h0M294.9 84.8h0M301.3 83.2h0M321.2 56.7h0M259.9 88.4h0M266.0 85.4h0M314.7 67.7h0M303.4 68.4h0M300.3 65.1h0M300.7 92.8h0M303.4 69.1h0M283.9 85.2h0M297.0 55.3h0"/><path stroke="#d1bf27" d="M315.8 77.2h0M307.0 85.8h0M311.9 60.8h0M315.5 82.0h0M281.5 88.7h0M309.4 65.6h0M300.3 74.1h0M310.9 92.3h0M283.9 93.6h0M303.8 68.6h0M321.2 46.3h0M283.1 96.2h0M306.5 81.7h0M320.4 91.8h0M313.5 81.9h0M316.5 65.3h0M308.7 68.1h0M302.3 67.1h0M286.8 76.7h0M320.0 83.1h0M314.9 76.9h0M318.7 82.5h0M312.5 65.0h0M309.5 63.3h0M289.8 77.6h0M310.6 71.7h0M315.6 70.5h0"/><path stroke="#dcbd29" d="M276.6 88.8h0M321.6 73.8h0M289.6 86.3h0M282.5 96.2h0M304.1 54.3h0M296.8 62.0h0M302.1 84.1h0M307.0 88.1h0M302.3 89.3h0M275.9 88.9h0M289.0 83.0h0M300.7 93.4h0M318.8 62.4h0M298.9 84.1h0M299.8 95.3h0M309.8 77.8h0M292.4 65.3h0M301.3 83.3h0M314.9 58.5h0M305.5 92.1h0M301.0 72.7h0M281.1 79.2h0M307.0 68.8h0M319.3 58.2h0M303.9 52.6h0M295.5 81.1h0M258.9 86.9h0M317.6 57.8h0M297.6 92.8h0"/><path stroke="#e6bb2d" d="M279.1 77.6h0M317.3 64.3h0M307.8 88.2h0M306.2 89.6h0M293.8 75.3h0M294.5 74.6h0M313.2 75.8h0M291.7 87.7h0M311.7 95.2h0M311.8 83.1h0M312.8 81.0h0M296.9 89.4h0M311.4 64.7h0M294.8 82.6h0M309.4 51.6h0M271.0 94.8h0M301.9 77.3h0M298.2 89.9h0M301.6 83.6h0M277.0 66.7h0M287.4 89.5h0M320.3 69.1h0M294.4 81.1h0M314.8 48.4h0"/><path stroke="#f0ba36" d="M309.7 64.2h0M270.2 95.3h0M285.9 92.2h0M290.9 86.1h0M321.4 82.8h0M303.9 91.8h0M320.5 83.0h0M308.6 75.2h0M317.0 76.7h0M298.9 74.5h0M304.3 91.5h0M313.7 75.2h0M303.5 71.8h0M282.4 88.5h0M287.9 75.2h0M309.7 91.0h0M319.8 68.4h0M289.7 78.8h0M321.6 73.0h0"/><path stroke="#f8ba3d" d="M285.4 87.7h0M305.6 65.8h0M320.9 67.9h0M263.3 92.6h0M308.1 61.7h0M311.5 90.3h0M315.2 80.3h0M310.5 77.0h0M307.4 73.8h0M320.3 47.1h0M288.6 82.2h0M300.1 96.4h0M310.3 89.0h0M319.3 80.1h0M296.6 68.6h0M303.0 86.8h0M292.4 89.7h0M317.5 66.3h0M284.9 81.0h0"/><path stroke="#febe3c" d="M288.6 91.0h0M296.1 70.6h0M321.5 64.1h0M312.5 88.8h0M301.9 93.7h0M303.1 73.5h0M314.1 95.2h0M266.3 80.8h0M288.4 80.3h0M297.7 81.3h0"/><path stroke="#fec338" d="M318.5 57.6h0M281.5 79.0h0M299.0 85.9h0M295.2 91.5h0M299.6 96.0h0M294.3 94.1h0M300.5 91.9h0M279.4 78.2h0M290.0 96.6h0M301.0 71.5h0M309.5 95.1h0M322.4 83.8h0M295.9 66.3h0M311.9 76.7h0"/><path stroke="#fec934" d="M315.2 79.7h0M310.3 78.8h0M308.7 81.1h0M312.5 92.9h0M310.9 79.2h0M297.0 89.0h0M301.6 93.5h0M312.3 82.3h0M293.1 81.1h0M303.3 88.2h0M305.9 73.7h0M297.9 89.1h0M320.5 93.4h0M306.9 77.7h0M306.0 83.2h0M280.5 90.7h0M305.4 78.6h0M320.9 67.2h0M287.4 95.3h0M307.0 84.1h0M311.5 74.9h0M322.4 94.6h0"/><path stroke="#fccf30" d="M306.1 79.3h0M310.4 96.3h0M311.7 66.6h0M322.0 81.7h0M312.9 66.8h0M304.3 84.3h0M287.4 96.5h0M315.2 85.4h0M289.2 69.6h0M311.7 95.7h0M306.5 86.2h0M307.0 68.2h0M315.1 90.1h0M312.7 70.8h0M278.4 82.8h0M283.9 81.4h0M301.7 76.4h0M309.8 79.0h0"/><path stroke="#fad62d" d="M278.0 93.9h0M302.7 80.5h0M298.3 96.3h0M320.5 74.8h0M307.9 84.1h0M294.2 86.2h0M283.4 90.5h0M314.6 83.4h0M304.5 91.4h0M308.7 90.9h0M303.6 71.7h0M301.6 93.2h0M313.9 60.6h0M311.6 91.5h0M308.5 87.9h0M302.2 91.5h0M275.5 77.8h0M315.8 61.0h0M309.3 83.8h0M321.5 90.4h0"/><path stroke="#f7dc2a" d="M322.5 83.8h0M312.4 96.4h0M316.5 85.0h0M284.6 77.2h0M321.2 65.8h0M301.1 78.3h0M307.9 69.5h0M313.7 79.3h0M314.2 87.0h0M322.3 87.9h0"/><path stroke="#f5e327" d="M311.8 89.8h0M298.0 88.5h0M311.0 75.6h0M320.4 88.3h0M299.3 80.5h0M314.0 83.4h0M298.0 94.1h0M320.4 59.1h0M309.5 95.8h0M287.2 82.9h0M290.1 88.0h0M309.2 82.8h0M319.8 67.0h0"/><path stroke="#f5e924" d="M305.1 69.6h0M318.6 70.9h0M315.6 96.6h0M305.3 80.5h0M302.3 86.4h0M301.7 78.2h0M317.5 72.2h0M284.7 88.3h0M312.7 66.2h0M320.6 80.4h0M321.7 80.7h0M317.6 76.2h0M313.1 71.9h0"/><path stroke="#f6ef20" d="M317.4 74.6h0M307.8 58.0h0M310.8 88.7h0M311.0 85.5h0M317.5 80.7h0M314.8 83.7h0M306.8 95.7h0M316.8 64.8h0M302.3 94.0h0M319.2 90.1h0M306.5 88.1h0"/><path stroke="#f7f51b" d="M318.7 89.2h0M313.4 85.9h0M293.9 80.1h0M315.2 82.5h0M319.6 93.3h0M319.6 76.7h0M304.5 93.9h0M321.6 78.4h0"/><path stroke="#f9fb15" d="M312.8 83.2h0M296.7 93.1h0M300.1 93.6h0M321.4 71.1h0M320.2 87.2h0M317.7 85.2h0M319.0 83.9h0M308.4 95.6h0M319.7 91.2h0M317.1 94.8h0M313.4 89.9h0M316.9 94.3h0M322.3 72.6h0M304.7 64.8h0M305.7 96.9h0M296.9 82.1h0M308.6 77.8h0M320.5 68.6h0M308.9 86.0h0M293.9 94.6h0M320.2 81.2h0M320.6 82.8h0M301.7 96.2h0M315.4 87.0h0M318.9 88.7h0M310.2 79.5h0M310.4 85.6h0M321.9 81.6h0M311.1 96.0h0M315.3 93.4h0M321.7 88.3h0M318.1 95.2h0M316.4 80.0h0M318.9 74.2h0M312.2 90.2h0M320.6 93.1h0M304.7 96.9h0M316.6 83.5h0M317.6 72.1h0"/></g><g fill="none" stroke-width="1.60" stroke-linecap="round"><path stroke="#3e26a8" d="M135.4 205.7h0"/><path stroke="#4747eb" d="M121.1 215.6h0"/><path stroke="#4852f4" d="M124.8 185.8h0"/><path stroke="#4758f8" d="M143.0 206.2h0M104.6 204.2h0M137.1 212.5h0M124.3 199.7h0"/><path stroke="#465efb" d="M128.3 210.6h0"/><path stroke="#4563fd" d="M136.9 207.8h0M140.5 178.3h0M135.2 198.3h0M137.0 186.9h0M144.3 219.4h0M107.8 202.1h0"/><path stroke="#4269fe" d="M124.5 187.6h0M120.5 199.3h0M98.8 204.6h0M138.5 201.8h0M133.5 195.1h0M108.6 191.9h0M122.3 219.1h0M126.8 203.6h0M89.3 207.0h0"/><path stroke="#3e6fff" d="M125.8 204.5h0M128.8 206.0h0M122.1 214.0h0M135.8 174.6h0M123.9 175.2h0M134.1 215.3h0"/><path stroke="#3875fe" d="M88.6 206.5h0M129.4 211.6h0M90.3 210.9h0M108.8 217.9h0M111.6 185.6h0M126.8 169.9h0M132.8 218.3h0M121.7 178.8h0M130.1 219.8h0M127.2 198.2h0M94.9 212.4h0M141.2 203.2h0M140.6 179.9h0"/><path stroke="#327cfc" d="M141.1 217.3h0M133.2 195.2h0M118.0 205.3h0M136.8 170.8h0M102.4 208.9h0M132.3 189.2h0M132.6 202.1h0M133.2 201.2h0M140.5 182.0h0M122.0 179.7h0M108.4 199.5h0"/><path stroke="#2f81fa" d="M100.0 209.0h0M115.1 225.8h0M111.1 212.8h0M140.8 202.4h0M124.4 196.3h0M86.0 203.2h0M120.6 195.5h0M115.3 217.1h0M126.2 218.1h0M107.4 211.7h0M143.2 202.9h0M119.9 181.2h0M115.9 209.1h0M142.3 166.0h0M120.0 195.9h0M123.0 181.6h0"/><path stroke="#2e87f7" d="M136.9 216.9h0M107.2 216.9h0M142.7 199.1h0M141.7 171.8h0M143.0 191.0h0M95.3 223.8h0M90.3 209.6h0M113.6 201.8h0M136.2 162.8h0M132.1 174.2h0M106.0 181.6h0M90.9 207.5h0M126.1 172.9h0M109.6 203.3h0M106.0 220.0h0M104.9 197.1h0M141.0 191.6h0M103.3 204.2h0M136.3 188.1h0M118.3 210.4h0M110.6 196.1h0M122.8 190.0h0M130.2 179.5h0"/><path stroke="#2d8cf3" d="M140.2 186.3h0M128.7 212.1h0M114.9 180.3h0M109.4 194.2h0M134.6 218.7h0M135.0 177.6h0M142.9 179.7h0M92.0 197.0h0M91.8 202.8h0M144.3 166.0h0M106.8 181.2h0M101.7 201.9h0M110.2 201.4h0M123.5 184.2h0M115.7 203.8h0M124.8 196.2h0M96.4 203.7h0M94.7 199.3h0M94.5 211.9h0M102.4 198.0h0M140.9 204.9h0M97.6 197.7h0M130.0 177.8h0M131.3 208.2h0M114.7 215.9h0M116.0 191.9h0"/><path stroke="#2b91ef" d="M87.1 198.7h0M94.4 188.1h0M117.6 190.3h0M99.7 182.9h0M92.1 217.9h0M134.0 219.6h0M125.0 173.2h0M107.3 215.8h0M109.2 210.4h0M143.3 179.9h0M92.1 207.1h0M122.8 198.4h0M130.1 176.0h0M125.0 182.5h0M104.5 203.0h0M135.6 182.5h0M98.7 205.6h0M122.2 199.3h0M117.8 183.0h0M100.9 218.5h0M141.2 216.3h0M87.2 206.8h0M130.2 208.6h0M106.0 203.6h0M103.9 204.7h0"/><path stroke="#2797eb" d="M107.2 217.6h0M87.3 207.9h0M139.6 212.3h0M97.8 223.7h0M115.1 201.9h0M144.1 212.6h0M129.7 194.9h0M113.9 197.0h0M132.4 208.5h0M117.6 207.3h0M107.6 183.5h0M85.0 220.9h0M143.3 168.5h0M142.7 197.3h0M106.3 197.2h0M101.0 183.5h0M126.4 176.3h0M138.2 220.5h0"/><path stroke="#259be8" d="M136.1 200.8h0M79.2 208.5h0M117.8 183.9h0M83.7 210.7h0M110.7 193.9h0M143.0 185.3h0M103.1 178.5h0M121.6 212.1h0M116.4 191.0h0M136.2 203.0h0M140.3 191.8h0M139.9 208.7h0M131.3 186.7h0M98.9 215.0h0M110.4 194.3h0M92.9 212.8h0M80.6 203.7h0M125.1 212.8h0M143.3 191.5h0M102.5 204.6h0M126.7 181.4h0M133.1 173.6h0M103.9 212.5h0M109.0 179.1h0"/><path stroke="#23a0e5" d="M144.3 218.1h0M144.4 213.6h0M143.6 220.5h0M77.4 200.6h0M138.7 203.4h0M78.8 212.4h0M120.5 175.3h0M138.4 179.2h0M106.8 184.0h0M116.5 184.0h0M123.6 202.1h0M110.8 193.4h0M132.0 208.8h0M103.8 203.4h0M107.9 199.3h0M78.8 203.8h0M133.4 173.4h0M85.5 211.8h0M142.6 211.4h0M125.4 219.2h0M91.5 211.8h0M85.3 206.8h0M84.0 203.1h0M133.5 210.1h0M114.4 211.8h0M88.3 211.3h0M106.0 209.8h0M94.8 195.7h0M91.9 211.9h0M93.1 187.6h0M93.8 205.6h0M94.9 206.5h0M142.6 187.5h0M105.7 215.1h0M138.9 195.0h0M96.9 216.6h0M96.3 204.5h0M114.3 225.8h0M135.6 208.4h0M133.0 214.7h0"/><path stroke="#20a5e3" d="M110.8 210.5h0M99.0 221.8h0M132.1 187.0h0M128.9 207.9h0M125.6 196.1h0M104.3 214.3h0M100.5 200.8h0M128.8 209.3h0M114.7 212.8h0M94.8 222.2h0M108.6 185.8h0M99.2 181.4h0M138.5 207.7h0M91.8 202.8h0M139.8 194.7h0M106.7 190.9h0M104.2 210.5h0M138.7 171.4h0M86.6 212.5h0M125.2 208.4h0M114.1 184.2h0M141.9 175.7h0M97.3 195.6h0M84.6 211.1h0M126.2 175.1h0M120.4 176.3h0M131.3 196.2h0M132.8 224.6h0M128.0 199.4h0M116.8 184.9h0M143.7 161.6h0M136.7 190.2h0M108.5 207.4h0M83.6 218.4h0M142.6 201.8h0M104.3 205.1h0M139.4 176.4h0"/><path stroke="#1ca9df" d="M77.4 217.1h0M119.9 208.3h0M95.6 189.4h0M118.9 203.6h0M124.6 199.9h0M125.5 222.9h0M95.2 208.6h0M92.2 198.2h0M110.9 213.8h0M93.8 214.8h0M136.0 193.0h0M137.5 197.0h0M142.7 201.6h0M119.8 204.8h0M89.5 215.3h0M113.6 179.4h0M124.6 183.5h0M101.3 210.1h0M139.5 193.8h0M126.9 213.2h0M137.5 201.6h0M114.9 211.7h0M110.7 212.8h0M122.9 188.8h0M133.4 202.1h0M141.8 190.6h0M140.4 182.4h0M93.9 195.3h0M126.7 171.0h0M85.8 218.3h0M92.1 185.6h0M136.4 206.7h0M124.2 187.8h0M110.5 216.6h0M85.0 210.8h0M134.7 198.0h0M124.8 180.7h0M87.9 221.7h0M139.3 211.8h0M119.7 198.4h0M124.7 218.6h0M117.9 190.0h0M133.1 221.0h0M94.8 212.4h0M116.0 191.9h0M135.7 214.1h0M140.5 170.7h0M122.5 203.4h0M114.3 193.4h0M139.9 178.2h0M116.8 197.6h0M107.6 180.0h0M134.1 214.4h0M115.2 187.4h0"/><path stroke="#18addb" d="M137.6 179.6h0M117.7 208.6h0M110.4 215.2h0M100.2 212.7h0M115.1 211.5h0M141.0 168.8h0M133.8 173.9h0M135.6 216.4h0M119.6 179.7h0M137.2 225.6h0M118.8 198.6h0M136.1 185.9h0M137.0 174.5h0M129.9 181.8h0M140.2 210.0h0M134.1 179.5h0M140.1 189.9h0M100.5 210.6h0M100.7 196.4h0M68.8 213.7h0M133.3 200.0h0M107.0 184.2h0M133.9 204.6h0M100.0 206.4h0M119.6 197.8h0M129.1 221.3h0M131.2 210.6h0M122.3 216.8h0M113.6 206.0h0M101.9 220.2h0M126.6 175.0h0M98.2 206.8h0M100.8 220.2h0M98.3 195.0h0M113.3 224.2h0M85.6 203.5h0M75.1 207.9h0M132.5 200.1h0M141.7 215.9h0M85.6 186.5h0M97.5 216.5h0M144.1 172.4h0M138.4 193.7h0M133.2 170.4h0M134.0 212.8h0M136.9 203.4h0M136.5 172.2h0M116.3 191.9h0M94.2 213.8h0"/><path stroke="#12b1d6" d="M123.4 219.5h0M142.7 211.4h0M96.7 189.5h0M117.0 192.4h0M142.3 222.7h0M105.8 183.4h0M120.9 198.2h0M137.7 217.2h0M102.6 205.3h0M102.7 218.8h0M120.9 223.1h0M89.1 202.1h0M97.3 207.6h0M121.5 195.8h0M140.5 202.2h0M92.6 183.7h0M80.9 208.6h0M129.0 208.0h0M114.1 205.1h0M142.0 215.5h0M104.8 177.4h0M120.4 200.5h0M115.3 202.6h0M76.0 221.6h0M116.2 217.0h0M131.1 215.0h0M108.1 208.3h0M127.3 221.8h0M88.0 196.4h0M143.9 191.5h0M138.3 181.5h0M128.1 190.1h0M99.2 218.1h0M134.8 209.2h0M140.0 225.6h0M133.5 175.2h0M94.3 207.0h0M114.4 196.3h0M110.7 198.0h0M104.2 213.6h0M87.0 200.4h0M105.7 222.4h0M132.5 183.4h0M122.7 213.3h0M139.6 216.4h0M136.5 176.4h0"/><path stroke="#08b5d0" d="M109.9 219.6h0M123.5 218.0h0M101.3 202.4h0M96.6 215.8h0M138.7 173.7h0M140.0 208.0h0M138.9 211.1h0M140.5 218.7h0M130.2 201.4h0M140.0 216.0h0M129.6 201.3h0M135.0 189.1h0M100.4 185.1h0M118.5 186.1h0M110.8 217.1h0M120.2 171.6h0M129.8 166.1h0M90.3 205.0h0M129.0 183.5h0M140.7 168.2h0M138.0 188.7h0M110.7 227.6h0M144.1 166.4h0M139.1 199.4h0M132.4 190.5h0M84.8 206.0h0M117.2 194.0h0M127.0 179.4h0M124.1 175.6h0M99.5 217.6h0M138.5 204.9h0M138.3 203.6h0M115.6 199.4h0M127.6 219.6h0M103.3 176.6h0M93.7 197.6h0M106.0 222.9h0M82.3 225.0h0M131.0 202.4h0M130.4 192.7h0M89.9 225.2h0M119.2 166.6h0M107.6 184.7h0M101.4 202.4h0M117.3 172.6h0M120.0 173.7h0M123.4 220.0h0M140.0 174.2h0M98.1 220.1h0M142.5 178.0h0M95.7 220.1h0M110.7 185.6h0M102.1 206.9h0M83.2 207.6h0M84.1 199.6h0M108.5 209.8h0M141.9 208.3h0"/><path stroke="#01b8ca" d="M83.6 217.7h0M115.3 179.3h0M138.5 181.3h0M116.2 214.8h0M106.9 190.7h0M121.4 200.2h0M97.5 218.7h0M78.2 216.9h0M109.6 191.6h0M119.7 213.8h0M139.8 224.3h0M129.0 187.1h0M141.9 166.0h0M134.0 173.0h0M83.2 222.1h0M121.4 177.2h0M86.8 208.2h0M109.1 195.2h0M93.2 217.5h0M114.4 219.2h0M116.6 218.6h0M109.6 183.1h0M125.0 202.3h0M141.2 187.4h0M112.8 216.5h0M126.5 192.4h0M117.6 171.8h0M120.6 209.8h0M142.2 203.6h0M115.8 178.0h0M107.0 214.0h0M141.2 202.5h0M116.7 200.2h0M120.8 173.2h0M138.9 220.9h0M139.5 209.3h0M97.2 205.8h0M137.8 181.3h0M111.9 201.6h0M98.2 189.4h0M100.2 199.2h0M128.6 220.2h0M85.2 216.7h0M99.1 188.5h0M114.0 177.2h0M112.4 212.1h0M124.5 184.7h0M85.9 216.9h0M85.6 220.5h0"/><path stroke="#02bac3" d="M85.1 203.3h0M107.2 181.5h0M138.9 182.0h0M75.8 224.3h0M112.2 195.5h0M84.0 217.4h0M139.5 169.4h0M118.4 198.6h0M111.7 180.9h0M128.2 223.2h0M125.0 217.8h0M117.8 192.1h0M136.7 212.6h0M108.1 207.0h0M77.1 206.2h0M118.9 224.4h0M144.4 208.1h0M123.4 223.9h0M136.2 194.6h0M99.9 205.1h0M139.2 224.6h0M115.6 199.6h0M83.5 198.7h0M130.9 194.1h0M136.9 167.6h0M126.3 201.5h0M129.9 184.6h0M120.6 201.9h0M128.8 172.5h0M109.7 172.6h0M143.0 207.6h0M123.3 198.1h0M135.0 182.3h0M126.1 185.3h0M98.8 197.6h0M85.3 191.3h0M125.4 180.0h0M99.4 223.2h0M118.4 195.6h0M141.6 219.8h0M97.2 185.7h0M125.3 213.7h0M86.5 198.6h0M128.6 209.9h0M113.5 210.9h0M119.5 171.9h0M136.3 177.5h0M118.4 207.8h0M104.8 184.9h0M112.9 174.9h0M94.9 222.6h0M105.3 212.6h0M133.2 178.7h0M101.9 212.0h0M132.9 205.5h0M104.2 186.6h0"/><path stroke="#0bbdbc" d="M126.8 211.0h0M141.6 188.2h0M113.0 172.6h0M141.2 187.2h0M109.4 201.5h0M126.2 206.9h0M121.1 221.6h0M81.6 208.5h0M141.0 194.1h0M130.8 175.5h0M112.2 186.5h0M105.9 187.5h0M102.2 218.5h0M125.1 217.9h0M105.0 205.2h0M89.1 222.6h0M104.9 214.4h0M131.8 219.4h0M138.6 192.7h0M84.5 209.8h0M133.4 211.0h0M136.1 193.6h0M84.7 213.9h0M141.9 167.3h0M91.1 191.1h0M114.6 180.9h0M109.6 212.7h0M112.7 217.5h0M94.7 189.6h0M121.6 204.2h0M100.5 223.4h0M110.5 213.6h0M111.2 221.6h0M122.9 181.2h0M113.2 207.6h0M135.9 206.6h0M96.9 202.4h0M131.4 178.6h0M109.9 188.6h0M126.1 215.0h0M133.5 176.8h0M112.5 203.7h0M108.1 183.7h0M127.0 209.8h0M78.1 209.1h0M135.8 214.2h0M121.2 167.3h0M124.2 203.0h0M108.8 186.6h0M114.1 219.3h0M128.6 206.3h0M94.6 180.4h0M138.4 172.2h0M88.5 194.1h0M119.6 208.8h0M134.2 224.3h0M79.8 219.1h0M119.3 181.8h0M97.3 196.6h0"/><path stroke="#19bfb5" d="M124.0 207.7h0M136.9 216.2h0M137.7 172.2h0M127.6 211.5h0M143.2 184.6h0M131.5 165.5h0M116.9 195.3h0M126.9 182.9h0M141.8 217.5h0M127.0 216.6h0M136.6 213.7h0M96.3 183.1h0M104.8 178.9h0M84.6 186.3h0M106.2 185.0h0M136.6 207.5h0M137.7 182.4h0M107.4 167.6h0M97.0 195.1h0M137.2 178.3h0M93.3 208.3h0M80.0 210.4h0M120.8 220.6h0M80.5 214.8h0M142.6 219.2h0M110.5 213.0h0M103.2 190.6h0M81.4 218.2h0M87.5 205.7h0M73.5 219.7h0M91.4 213.2h0M124.0 203.4h0M85.1 204.2h0M97.7 183.7h0M141.0 168.1h0M132.9 163.8h0M132.4 212.9h0M75.6 223.6h0M81.2 195.6h0M93.4 196.2h0M140.4 165.2h0M116.9 209.4h0M143.2 179.4h0M74.5 219.0h0M129.7 208.0h0M108.0 195.0h0M75.6 199.5h0M79.4 214.5h0M143.0 211.1h0M124.4 192.2h0M137.6 171.6h0M98.7 204.3h0M104.0 168.8h0M124.3 185.3h0M137.3 191.4h0M111.9 187.7h0M89.9 191.1h0M102.2 202.0h0M74.9 209.9h0"/><path stroke="#24c1ae" d="M67.5 225.7h0M129.4 162.8h0M110.0 176.8h0M121.5 213.7h0M102.9 183.2h0M76.4 220.3h0M109.9 169.3h0M109.0 180.5h0M104.8 219.9h0M107.8 199.2h0M84.9 214.8h0M142.1 195.3h0M113.6 217.8h0M73.2 217.9h0M100.3 225.0h0M107.5 177.8h0M95.7 225.7h0M119.5 224.6h0M123.9 205.2h0M94.9 183.2h0M124.1 219.2h0M104.6 203.0h0M95.3 222.2h0M142.1 210.1h0M109.7 215.3h0M105.8 211.8h0M125.3 195.7h0M82.3 205.9h0M110.6 204.4h0M101.5 174.9h0M138.5 168.0h0M90.8 202.6h0M97.9 194.3h0M102.2 187.8h0M112.9 197.1h0M104.3 222.6h0M118.8 168.7h0M138.7 199.4h0M112.5 212.3h0M119.0 192.1h0M137.7 210.5h0M96.9 216.8h0M85.4 202.3h0M130.2 206.6h0M118.5 204.9h0M114.1 192.4h0M141.8 181.1h0M141.4 227.4h0M126.1 180.8h0M139.3 174.9h0M109.7 207.2h0M135.4 219.7h0M86.3 202.6h0M122.5 186.0h0M118.6 191.4h0M99.3 194.8h0M111.9 201.9h0M133.4 168.6h0M129.9 225.9h0M96.1 212.1h0M112.3 194.5h0M140.2 218.1h0M129.3 184.8h0M82.9 212.2h0M130.7 174.1h0M101.8 221.3h0"/><path stroke="#2cc4a6" d="M140.2 218.1h0M96.9 186.5h0M95.0 208.8h0M115.3 203.9h0M109.0 208.1h0M103.2 207.8h0M117.4 197.8h0M111.4 177.9h0M96.4 206.4h0M119.5 220.3h0M106.1 184.8h0M85.8 227.4h0M124.8 189.9h0M110.9 222.8h0M115.9 218.7h0M137.8 179.0h0M85.1 187.4h0M74.9 221.8h0M135.0 180.5h0M117.3 189.3h0M100.0 195.9h0M79.8 222.9h0M79.1 214.2h0M128.3 212.1h0M102.0 183.6h0M113.0 221.5h0M83.1 203.8h0M118.0 171.5h0M75.1 206.7h0M132.8 195.3h0M74.8 213.9h0M101.7 178.4h0M97.1 188.0h0M115.0 204.4h0M108.1 181.6h0M127.3 227.2h0M129.8 182.8h0M139.8 223.3h0M99.7 194.3h0M142.4 226.0h0M111.3 184.1h0M127.2 200.7h0M127.0 182.0h0M119.7 223.4h0M106.4 216.6h0M85.7 217.9h0M90.9 201.9h0M81.0 203.1h0M116.1 218.7h0M105.9 213.5h0M97.1 176.3h0M126.4 181.4h0M75.2 222.2h0M87.5 213.8h0M103.8 219.7h0M86.5 188.8h0M99.9 207.8h0M117.7 168.2h0M96.9 216.2h0M142.4 179.3h0M93.9 207.4h0M92.7 185.3h0M114.2 186.2h0M95.2 196.5h0M95.2 182.8h0M142.2 220.2h0M122.7 195.3h0M110.6 191.8h0M104.9 185.1h0M131.8 178.7h0M73.9 210.0h0M93.0 208.2h0M116.5 166.8h0M138.5 214.8h0M140.6 219.4h0M142.4 170.1h0M121.3 163.9h0M108.0 220.6h0"/><path stroke="#31c69f" d="M103.5 196.8h0M136.8 197.5h0M129.6 163.9h0M101.3 218.0h0M101.3 223.9h0M119.7 171.0h0M94.8 214.4h0M141.2 221.1h0M143.8 178.4h0M128.0 182.1h0M82.1 221.5h0M136.9 181.3h0M114.2 176.6h0M130.7 172.2h0M135.3 212.4h0M115.2 223.8h0M74.0 215.5h0M135.5 166.8h0M111.9 202.3h0M119.7 211.0h0M142.2 183.3h0M104.7 202.4h0M133.6 171.7h0M103.6 213.1h0M98.7 213.2h0M102.7 219.6h0M121.1 183.1h0M126.9 183.7h0M143.6 160.3h0M89.6 179.2h0M127.5 180.7h0M98.2 226.1h0M91.6 214.9h0M97.7 195.3h0M78.7 209.9h0M141.4 181.0h0M87.0 222.2h0M95.6 204.3h0M96.5 218.6h0M93.7 224.2h0M131.4 207.4h0M127.6 168.5h0M76.8 199.4h0M95.0 182.9h0M104.7 221.4h0M130.2 177.2h0M110.1 180.0h0M116.4 197.6h0M137.0 207.0h0M95.6 183.9h0M123.4 205.3h0M121.0 188.0h0M127.9 219.1h0M137.3 169.0h0M94.6 181.8h0M128.6 211.3h0M103.9 182.8h0M89.6 220.3h0M102.8 196.2h0M94.9 196.0h0"/><path stroke="#37c897" d="M130.4 211.2h0M81.9 224.5h0M78.6 221.9h0M141.0 186.8h0M101.4 210.9h0M102.9 202.6h0M137.9 170.9h0M89.9 222.4h0M98.3 185.3h0M87.4 186.3h0M120.5 221.4h0M98.2 216.2h0M137.5 224.4h0M139.4 208.2h0M91.6 204.5h0M77.5 205.7h0M130.4 177.2h0M96.4 207.3h0M104.1 175.2h0M68.6 221.4h0M137.9 178.9h0M131.5 176.9h0M117.3 221.3h0M143.7 163.9h0M119.6 172.2h0M106.0 195.9h0M130.1 203.7h0M68.4 221.5h0M79.1 197.2h0M95.9 195.0h0M138.5 165.7h0M110.4 215.0h0M120.7 223.0h0M90.6 202.6h0M121.8 223.7h0M112.5 191.8h0M118.5 190.1h0M105.8 227.6h0M129.1 197.3h0M118.0 191.8h0M120.2 176.4h0M122.9 216.2h0M143.8 209.2h0M119.3 175.7h0M113.5 196.6h0M93.9 213.9h0M137.9 173.5h0M125.7 176.0h0M94.8 204.5h0M111.7 182.6h0M112.9 183.4h0M107.3 220.5h0M86.6 223.7h0M137.4 186.2h0"/><path stroke="#3fca8e" d="M79.1 208.2h0M120.2 175.4h0M122.6 170.7h0M95.7 227.4h0M124.4 226.5h0M126.1 189.6h0M81.5 192.6h0M99.5 225.8h0M82.1 201.8h0M120.3 169.4h0M69.5 209.2h0M144.2 201.3h0M122.4 161.6h0M138.0 159.2h0M141.6 190.3h0M102.8 191.0h0M142.2 159.7h0M128.2 175.1h0M111.5 211.4h0M117.5 170.5h0M116.0 213.4h0M103.9 211.8h0M141.7 193.4h0M111.6 186.3h0M125.3 190.5h0M120.7 190.8h0M101.2 173.3h0M127.9 219.0h0M76.7 204.7h0M133.8 176.3h0M104.4 227.3h0M123.3 172.1h0M101.2 181.8h0M109.3 185.9h0M101.5 221.0h0M123.8 209.7h0M116.1 180.9h0M124.1 226.0h0M122.3 222.9h0M141.8 166.5h0M137.5 181.4h0M69.4 212.7h0M100.8 190.4h0M112.0 223.2h0M117.2 173.2h0M137.7 202.4h0M94.2 189.6h0M123.1 190.7h0M136.4 225.3h0M137.8 220.4h0M102.0 200.9h0M126.4 224.0h0M77.9 206.9h0M142.3 207.3h0M81.1 205.4h0M113.4 191.7h0M102.8 218.1h0M134.5 213.5h0M131.2 225.8h0M94.2 174.9h0M118.9 171.3h0M113.7 184.7h0M84.2 227.4h0M131.3 210.9h0"/><path stroke="#4acb84" d="M127.3 166.2h0M120.3 164.2h0M114.3 170.3h0M117.9 223.3h0M110.7 182.6h0M83.3 189.7h0M72.9 217.0h0M87.9 207.6h0M95.9 223.8h0M139.0 160.5h0M122.0 218.7h0M107.0 194.0h0M83.8 204.8h0M139.0 209.6h0M78.0 215.9h0M71.8 215.7h0M91.1 189.9h0M114.2 181.6h0M140.2 166.9h0M90.9 226.1h0M79.0 193.8h0M92.2 187.8h0M88.9 208.1h0M144.1 171.7h0M72.2 226.4h0M84.1 204.9h0M88.9 194.5h0M141.1 179.6h0M87.9 194.3h0M130.0 167.3h0M108.4 222.6h0M103.2 204.4h0M85.6 203.6h0M110.6 169.1h0M143.4 200.2h0M97.8 213.8h0M78.5 200.1h0M75.6 223.0h0M116.6 199.9h0M142.3 217.1h0M90.5 204.2h0M93.4 187.2h0M128.6 226.8h0M81.4 212.1h0M119.8 192.6h0M111.5 213.8h0M131.8 172.7h0M138.0 167.9h0M102.0 205.5h0M104.9 174.1h0M87.9 182.6h0M135.0 180.8h0M118.9 206.5h0"/><path stroke="#57cc7a" d="M82.1 193.1h0M121.1 221.2h0M103.6 176.7h0M110.7 224.9h0M83.6 224.5h0M107.9 214.4h0M129.7 199.8h0M92.6 186.5h0M68.5 223.1h0M87.1 212.6h0M140.5 207.9h0M82.0 194.4h0M104.4 178.0h0M144.1 221.5h0M119.5 193.6h0M103.1 186.6h0M130.4 165.4h0M90.9 220.7h0M102.5 192.1h0M132.8 222.0h0M123.7 190.0h0M99.0 181.9h0M113.3 178.1h0M126.0 211.7h0M128.1 164.1h0M113.6 175.0h0M115.6 215.1h0M138.5 208.4h0M133.4 225.7h0M91.8 191.9h0M126.4 172.6h0M117.5 177.5h0M135.0 222.0h0M141.9 159.1h0M125.7 199.0h0M141.5 202.1h0M125.2 186.2h0M142.7 194.0h0M134.6 219.4h0M121.0 220.2h0M69.0 215.8h0M110.6 176.3h0M71.0 220.2h0M94.5 189.6h0M89.0 199.9h0M87.1 203.1h0M76.6 201.4h0M111.0 169.0h0M139.5 226.7h0M92.8 186.2h0M97.1 182.1h0M99.8 174.3h0"/><path stroke="#64cd6f" d="M114.7 164.3h0M106.3 183.2h0M79.2 206.8h0M126.3 196.5h0M136.5 225.2h0M106.4 193.3h0M84.2 210.0h0M76.8 200.4h0M76.9 215.1h0M140.6 179.8h0M78.6 197.4h0M82.9 188.5h0M103.5 226.2h0M110.2 186.7h0M125.6 170.8h0M103.2 210.4h0M102.7 182.5h0M99.3 196.5h0M128.9 165.9h0M98.2 194.6h0M122.8 200.1h0M110.6 213.5h0M121.7 166.3h0M131.4 183.6h0M117.3 182.1h0M140.3 215.7h0M126.5 187.4h0M95.4 223.8h0M71.3 222.4h0M101.0 191.5h0M89.1 192.1h0M86.5 214.3h0M77.5 217.4h0M84.9 222.1h0M128.3 220.9h0M85.8 208.3h0M141.6 226.2h0M98.7 190.7h0M95.4 188.1h0M87.6 206.3h0M124.2 178.9h0M130.1 166.3h0M120.5 223.4h0M87.4 189.4h0M118.8 175.2h0"/><path stroke="#72cd64" d="M92.4 181.3h0M129.5 206.2h0M106.7 182.1h0M97.3 206.6h0M109.0 168.3h0M113.8 170.2h0M131.9 189.7h0M83.8 219.5h0M72.2 221.7h0M71.4 209.0h0M137.3 164.7h0M88.6 210.4h0M91.2 220.3h0M108.5 224.3h0M102.4 217.2h0M128.3 192.7h0M116.5 180.0h0M85.4 210.9h0M142.1 224.9h0M71.9 224.3h0M141.3 160.3h0M122.0 227.2h0M109.2 221.3h0M132.4 221.3h0M126.3 167.6h0M119.1 227.3h0M142.7 224.1h0M76.0 210.8h0M87.5 191.0h0M86.8 222.2h0M106.5 170.4h0M94.3 177.3h0M137.7 182.4h0M92.1 205.5h0M114.3 179.5h0M107.7 196.2h0M86.7 201.7h0M103.7 169.9h0M97.9 222.4h0M116.0 199.0h0M99.7 190.1h0M133.7 212.5h0M88.9 191.5h0M129.8 206.2h0M75.3 221.2h0"/><path stroke="#81cc59" d="M143.0 157.8h0M118.7 174.2h0M104.0 204.4h0M143.0 197.9h0M80.0 225.3h0M109.9 223.2h0M138.8 226.5h0M132.9 162.0h0M85.6 223.3h0M115.7 224.3h0M79.4 214.0h0M138.4 164.1h0M90.2 212.1h0M85.3 217.8h0M86.7 211.0h0M77.8 194.4h0M138.0 158.6h0M123.9 165.5h0M90.8 183.4h0M133.9 225.1h0M88.2 225.8h0M94.4 178.5h0M105.0 191.0h0M74.4 214.4h0M116.2 169.3h0M104.9 170.7h0M122.8 164.3h0M104.0 201.7h0M120.9 215.8h0M124.4 217.3h0M83.7 184.2h0M124.8 170.3h0M103.2 187.8h0M121.6 167.1h0M143.0 206.1h0M119.3 164.0h0M90.8 188.4h0M89.9 181.4h0"/><path stroke="#8fcb4e" d="M111.6 166.9h0M137.6 170.5h0M121.0 168.7h0M139.1 194.3h0M127.4 173.6h0M140.4 174.6h0M88.5 213.9h0M144.3 225.4h0M105.4 176.8h0M143.2 209.2h0M119.3 201.4h0M105.3 218.8h0M89.2 194.4h0M125.0 199.5h0M92.4 196.2h0M137.1 164.7h0M140.9 167.3h0M89.5 185.1h0M110.9 165.2h0M130.2 218.6h0M118.8 202.6h0M109.2 178.0h0M116.6 217.4h0M70.3 227.8h0M100.3 178.3h0M87.6 203.3h0M82.2 203.6h0M114.9 173.0h0M127.4 167.5h0M82.8 220.0h0M103.3 174.9h0M82.1 192.1h0M89.3 189.6h0M135.5 160.4h0M122.0 216.1h0"/><path stroke="#9dc943" d="M112.2 172.4h0M75.7 201.3h0M112.5 166.3h0M95.6 172.4h0M102.2 174.9h0M141.6 224.3h0M71.1 218.7h0M113.7 173.9h0M131.6 213.3h0M134.6 171.7h0M114.7 166.1h0M83.2 202.2h0M83.5 190.2h0M108.1 181.2h0M70.8 223.8h0M108.4 224.8h0M95.8 174.2h0M109.8 170.2h0M71.5 216.7h0M109.2 169.2h0M68.0 217.9h0M115.1 223.1h0M73.1 214.9h0M107.9 202.1h0M114.6 189.6h0M142.1 165.4h0M115.1 184.3h0M129.3 223.4h0M99.3 175.0h0M78.5 202.9h0M135.1 227.5h0M110.2 166.3h0M140.4 159.1h0M76.7 226.2h0M97.3 175.7h0"/><path stroke="#abc739" d="M130.6 159.9h0M73.2 202.3h0M79.4 227.3h0M84.7 213.5h0M102.2 168.7h0M83.6 202.2h0M84.5 187.5h0M67.4 208.3h0M86.9 195.2h0M103.5 225.9h0M127.3 167.3h0M91.5 193.1h0M87.4 188.3h0M139.6 171.7h0M111.5 169.2h0M128.5 162.3h0M123.2 227.8h0M82.5 227.1h0M83.1 206.0h0M138.3 221.2h0M84.1 186.3h0M80.4 190.0h0M96.4 174.4h0M91.5 183.3h0M140.4 227.1h0M135.9 189.0h0M138.4 217.3h0M89.4 183.0h0M88.5 180.3h0M116.6 167.7h0M100.5 183.0h0M99.9 212.4h0M133.9 196.7h0M137.3 158.7h0M87.4 224.7h0M77.5 199.8h0M70.1 201.0h0"/><path stroke="#b9c431" d="M102.6 180.1h0M72.4 218.7h0M139.9 223.0h0M138.6 159.2h0M97.8 180.3h0M125.3 226.6h0M124.7 192.8h0M105.9 216.1h0M75.9 214.1h0M101.3 179.2h0M69.0 226.1h0M138.6 160.9h0M137.8 160.6h0M77.5 193.3h0M111.4 165.0h0M143.7 225.7h0M87.1 223.1h0M85.3 218.2h0M75.4 217.3h0M131.9 165.2h0M78.8 220.1h0M102.4 172.1h0M77.8 200.2h0M90.9 187.2h0M130.6 164.5h0M90.6 204.6h0M125.2 169.1h0M117.3 169.5h0M90.4 179.0h0M67.3 224.2h0"/><path stroke="#c5c22a" d="M124.1 164.0h0M141.6 226.4h0M93.2 175.7h0M121.1 175.8h0M82.6 199.0h0M66.4 224.4h0M73.2 203.2h0M122.3 179.9h0M90.8 189.2h0M70.4 226.0h0M106.8 194.7h0M128.1 226.4h0M72.5 210.3h0M83.6 222.0h0M124.1 223.0h0M87.0 182.6h0M74.7 211.1h0M70.8 207.9h0M127.1 165.1h0M66.2 213.6h0M116.9 225.9h0"/><path stroke="#d1bf27" d="M133.6 164.0h0M138.0 227.1h0M105.0 172.1h0M131.0 174.4h0M129.6 225.8h0M98.4 191.7h0M85.5 215.8h0M135.6 227.7h0M81.3 183.3h0M88.9 181.1h0M89.4 227.3h0M126.4 159.9h0M76.0 190.4h0M80.7 187.6h0M85.9 182.2h0M112.7 170.0h0M68.9 207.6h0M82.1 186.8h0M85.0 182.1h0M88.3 175.4h0M105.7 168.2h0"/><path stroke="#dcbd29" d="M136.3 194.9h0M139.4 162.6h0M80.1 185.1h0M77.3 210.4h0M71.1 225.1h0M122.6 164.9h0M65.3 217.6h0M90.6 181.8h0M85.0 186.0h0M66.6 210.0h0M91.5 174.4h0M78.6 187.9h0M139.0 187.2h0M104.7 170.7h0M78.8 227.2h0M113.3 227.8h0M138.8 221.8h0M143.6 214.7h0M68.5 219.7h0M120.5 211.3h0M73.9 210.6h0M112.0 170.8h0M67.7 221.4h0"/><path stroke="#e6bb2d" d="M127.3 159.6h0M109.3 216.0h0M114.3 172.6h0M121.1 174.4h0M113.8 166.8h0M74.8 191.1h0M140.7 202.5h0M79.5 198.6h0M122.0 162.9h0M93.9 187.9h0M106.8 224.4h0M71.3 221.1h0M100.2 186.4h0M76.1 213.9h0M76.1 220.9h0M121.7 163.6h0"/><path stroke="#f0ba36" d="M74.0 198.6h0M71.2 208.9h0M131.1 227.5h0M118.6 227.3h0M136.1 158.9h0M104.2 208.2h0M91.1 182.6h0M80.3 190.3h0M68.5 216.8h0M115.4 169.2h0M90.6 182.9h0M67.4 213.2h0M95.1 177.2h0M80.8 205.2h0M138.0 221.5h0M74.8 224.8h0M108.5 169.7h0M70.9 215.5h0M79.2 214.8h0"/><path stroke="#f8ba3d" d="M113.6 221.7h0M73.0 204.9h0M94.8 227.4h0M84.2 227.4h0M76.6 199.7h0M94.6 191.3h0M103.6 225.0h0M103.0 172.8h0M74.1 214.3h0M69.0 210.7h0M83.2 182.3h0M70.7 224.0h0M122.7 206.8h0M115.8 164.9h0"/><path stroke="#febe3c" d="M93.3 183.9h0M103.1 224.7h0M122.8 163.1h0M121.4 165.6h0M110.5 165.1h0M67.0 218.9h0M71.8 222.7h0M85.4 178.3h0M99.4 169.7h0M108.1 176.9h0M83.4 184.4h0M84.9 195.9h0M134.6 227.1h0M76.4 193.2h0M108.1 167.5h0M122.0 164.2h0M83.0 180.9h0M139.7 164.1h0M139.4 158.3h0M77.6 186.5h0M84.4 187.9h0"/><path stroke="#fec338" d="M142.8 168.9h0M76.1 192.4h0M133.6 159.1h0M85.5 196.1h0M81.2 182.7h0M96.2 177.8h0M131.5 162.4h0M119.3 225.1h0M94.0 172.7h0M73.9 201.0h0M64.6 217.8h0M87.2 194.0h0M84.7 189.0h0M99.9 168.7h0M74.2 205.7h0"/><path stroke="#fec934" d="M126.7 162.7h0M79.1 196.2h0M109.9 163.9h0M127.6 163.5h0M115.2 162.7h0M72.3 196.7h0M69.9 212.2h0M79.7 184.7h0M73.8 195.2h0M69.6 213.1h0M143.8 158.0h0M74.8 220.6h0M100.2 170.7h0M113.9 163.8h0"/><path stroke="#fccf30" d="M69.9 206.3h0M124.0 225.9h0M108.8 165.7h0M89.6 175.7h0M89.8 183.3h0M75.4 193.8h0M79.6 187.1h0M111.5 164.2h0M68.5 206.0h0M136.3 158.8h0"/><path stroke="#fad62d" d="M94.6 172.0h0M89.1 176.1h0M85.5 182.2h0M100.9 170.9h0M132.5 159.5h0M68.2 213.1h0M113.5 163.6h0M68.1 206.2h0M72.1 199.0h0"/><path stroke="#f7dc2a" d="M93.1 172.4h0M99.3 170.8h0M144.3 159.6h0M86.6 179.2h0M80.5 187.5h0M118.9 161.2h0M109.7 167.4h0M67.0 209.6h0"/><path stroke="#f5e327" d="M65.1 215.9h0M79.5 191.7h0M92.2 172.2h0M103.3 168.0h0M71.3 224.2h0M71.6 223.6h0M79.3 186.9h0M114.1 169.7h0"/><path stroke="#f5e924" d="M103.4 166.4h0M66.3 218.7h0M102.2 170.6h0M75.5 192.6h0M113.1 164.2h0M67.9 218.6h0M65.1 223.1h0M135.0 158.5h0M68.2 227.4h0"/><path stroke="#f6ef20" d="M80.7 190.6h0M80.6 189.9h0M74.6 198.0h0M72.1 196.1h0M83.6 181.1h0M92.9 174.5h0M105.8 165.6h0M105.8 165.7h0"/><path stroke="#f7f51b" d="M97.7 173.5h0M79.0 184.5h0"/><path stroke="#f9fb15" d="M76.5 196.7h0M142.1 156.9h0M72.2 196.5h0M69.7 206.9h0M65.0 225.8h0M68.1 226.0h0M66.9 212.0h0M123.7 160.5h0M93.2 172.4h0M80.3 185.8h0M72.2 199.6h0M79.6 187.6h0M93.8 227.8h0M63.7 221.3h0M65.7 227.0h0M63.4 226.3h0M67.2 219.7h0M74.5 191.9h0M126.4 159.9h0M68.5 209.5h0M102.3 167.2h0M69.1 205.1h0M72.0 197.8h0M75.8 195.9h0M62.5 226.2h0M121.2 166.0h0M103.4 171.8h0M64.1 221.0h0M80.6 185.8h0M102.2 171.6h0"/><path stroke="#3e26a8" d="M127.7 189.3h0"/><path stroke="#4537d5" d="M114.5 199.4h0M137.3 185.2h0"/><path stroke="#4741e5" d="M109.3 204.4h0"/><path stroke="#484df0" d="M115.7 210.4h0M101.8 218.7h0"/><path stroke="#4852f4" d="M136.0 182.8h0M93.2 204.3h0"/><path stroke="#4758f8" d="M118.0 218.0h0M115.8 224.9h0"/><path stroke="#465efb" d="M120.2 201.1h0M125.1 204.5h0M121.8 180.8h0M133.1 216.0h0M94.1 216.0h0M140.4 178.8h0"/><path stroke="#4563fd" d="M120.6 201.0h0M128.9 186.9h0M141.2 214.4h0M98.1 204.6h0M135.6 195.5h0M139.3 218.9h0M112.3 206.9h0M101.4 193.3h0M121.3 191.7h0"/><path stroke="#4269fe" d="M93.3 201.0h0M89.2 200.6h0M135.7 223.9h0M92.2 209.6h0M108.7 190.9h0M142.8 187.6h0M134.6 180.1h0"/><path stroke="#3e6fff" d="M97.8 222.0h0M120.4 190.5h0M130.6 215.3h0M110.8 184.6h0M126.0 183.9h0M136.2 202.8h0M129.2 196.2h0M86.2 208.2h0M135.5 195.8h0"/><path stroke="#3875fe" d="M137.8 182.9h0M122.8 190.9h0M110.8 216.8h0M107.6 202.3h0M99.6 215.9h0M134.4 197.4h0M117.3 176.2h0M99.4 183.4h0M142.1 208.4h0M130.7 188.5h0M96.0 204.1h0M90.6 221.6h0"/><path stroke="#327cfc" d="M122.1 200.9h0M128.6 211.8h0M126.7 190.1h0M135.3 176.7h0M124.3 189.5h0M130.2 196.4h0M90.4 221.7h0M140.6 211.9h0M134.0 209.7h0M105.5 206.2h0M97.2 197.4h0M114.8 186.8h0M133.0 175.3h0M111.0 193.9h0M84.1 219.7h0M97.4 194.7h0M133.1 189.8h0M85.0 207.8h0M136.2 176.7h0M101.5 215.7h0M115.2 218.5h0M107.3 201.3h0M129.1 205.4h0"/><path stroke="#2f81fa" d="M140.3 197.4h0M142.2 198.2h0M84.6 206.5h0M129.1 217.9h0M98.3 205.6h0M131.4 176.3h0M134.3 177.8h0M128.4 207.9h0M100.1 176.6h0M137.9 189.7h0M112.4 203.1h0M122.3 211.9h0M112.9 205.7h0M139.0 180.1h0M123.8 176.2h0M142.2 209.8h0M87.3 208.7h0"/><path stroke="#2e87f7" d="M127.6 180.4h0M131.2 216.0h0M100.5 211.2h0M116.8 204.9h0M132.4 220.2h0M131.1 213.2h0M116.5 192.4h0M84.9 217.5h0M140.3 173.9h0M78.3 212.7h0M144.1 190.7h0M82.3 215.0h0M118.0 192.5h0M102.2 194.7h0M132.1 205.5h0M122.6 184.6h0M118.0 198.3h0M121.0 216.9h0M118.0 191.7h0M140.4 195.1h0M92.3 202.6h0M140.3 193.3h0M129.6 200.2h0M101.9 212.6h0M122.4 198.8h0"/><path stroke="#2d8cf3" d="M127.0 219.6h0M121.6 190.6h0M144.3 171.4h0M97.9 212.0h0M140.2 173.5h0M139.9 177.7h0M114.3 197.5h0M126.4 184.6h0M93.7 195.1h0M96.6 211.7h0M117.6 192.6h0M137.0 180.3h0M121.3 217.9h0M106.4 218.9h0M112.1 213.6h0M133.1 187.5h0M143.0 202.8h0M133.1 189.9h0M85.7 217.8h0M116.6 210.8h0M133.5 177.7h0"/><path stroke="#2b91ef" d="M139.8 186.6h0M110.4 192.1h0M88.9 185.6h0M108.5 196.9h0M131.0 220.7h0M117.0 210.5h0M126.9 200.0h0M116.5 179.2h0M111.1 195.8h0M124.1 223.9h0M104.5 190.7h0M131.5 195.1h0M81.8 222.9h0M125.7 219.4h0M94.9 211.7h0M117.2 196.1h0M83.7 223.3h0M108.3 198.4h0M142.7 226.2h0M144.4 220.2h0M125.5 191.0h0M107.8 189.5h0M85.3 215.9h0M131.3 199.8h0M126.1 210.2h0M123.4 187.3h0"/><path stroke="#2797eb" d="M100.7 214.8h0M140.3 208.2h0M86.2 222.1h0M131.1 182.9h0M89.6 212.5h0M89.3 196.6h0M136.1 174.1h0M133.2 205.6h0M99.2 203.6h0M98.0 207.6h0M118.3 214.7h0M107.5 185.3h0M115.0 213.5h0M113.3 191.2h0M121.6 201.3h0M116.0 211.4h0M103.5 217.8h0M135.1 168.9h0M123.9 172.7h0M123.3 221.2h0M140.1 173.4h0M142.1 209.7h0M134.0 183.4h0M135.8 216.3h0M107.7 196.5h0M100.2 193.4h0M123.7 176.7h0M98.0 211.4h0M132.6 196.1h0M125.7 209.0h0M126.0 193.2h0M116.5 188.3h0M100.1 184.5h0"/><path stroke="#259be8" d="M129.2 204.0h0M89.4 210.6h0M119.2 210.5h0M137.7 223.6h0M138.6 201.1h0M101.6 204.2h0M79.9 213.0h0M109.8 216.0h0M104.6 192.5h0M92.5 199.4h0M133.3 186.8h0M138.1 201.1h0M141.1 216.0h0M116.2 200.7h0M113.9 198.6h0M92.4 207.6h0M118.1 180.8h0M104.1 216.1h0M137.6 219.8h0M132.0 184.0h0M143.3 177.9h0M106.0 209.6h0M137.8 168.6h0M132.1 208.4h0M143.7 184.8h0M120.2 186.9h0M128.0 220.2h0M117.1 204.1h0M105.7 191.8h0M139.5 186.3h0M90.9 208.3h0M144.1 206.6h0M88.2 209.1h0"/><path stroke="#23a0e5" d="M104.6 207.2h0M111.1 212.9h0M134.9 215.2h0M118.3 188.0h0M126.1 204.2h0M121.9 202.5h0M108.2 208.9h0M104.6 181.9h0M110.5 209.2h0M114.0 208.7h0M124.7 173.5h0M136.8 197.0h0M138.8 201.0h0M71.1 209.0h0M130.2 203.2h0M115.6 191.2h0M133.6 175.6h0M85.5 208.0h0M134.0 198.7h0M105.0 189.2h0M87.8 211.0h0M115.2 178.6h0M73.3 215.8h0M118.5 211.1h0M131.8 213.9h0M109.3 196.1h0M98.2 200.5h0M104.8 198.7h0M97.2 201.6h0M88.9 214.7h0M102.3 192.4h0M134.8 219.5h0M113.0 220.9h0"/><path stroke="#20a5e3" d="M106.7 202.2h0M139.7 185.7h0M122.3 216.2h0M138.0 172.3h0M143.5 181.6h0M129.3 222.3h0M117.1 185.0h0M82.1 217.9h0M105.1 195.3h0M116.1 195.3h0M118.2 219.7h0M104.5 178.9h0M96.2 206.8h0M101.0 199.9h0M125.4 212.0h0M116.1 188.4h0M113.4 177.1h0M123.5 210.6h0M115.5 222.3h0M88.4 227.1h0M115.7 200.5h0M143.8 214.7h0M106.9 200.8h0M135.3 201.1h0M119.9 193.9h0M96.2 218.3h0M118.9 216.2h0M127.7 221.2h0M90.7 216.5h0M86.7 191.8h0M135.0 169.6h0M78.8 217.7h0M137.0 185.5h0M95.5 224.0h0M125.2 199.2h0M130.8 210.3h0M144.4 185.1h0M97.8 211.5h0M130.9 196.1h0M89.5 216.2h0"/><path stroke="#1ca9df" d="M102.7 185.9h0M114.9 198.7h0M110.5 206.6h0M93.7 214.2h0M112.4 219.8h0M141.6 208.0h0M111.1 182.1h0M131.3 179.6h0M119.3 190.3h0M79.3 200.7h0M142.6 180.3h0M85.6 222.4h0M120.9 180.3h0M132.3 204.6h0M105.6 224.0h0M141.2 216.0h0M138.6 177.5h0M135.7 174.6h0M143.6 200.5h0M115.2 195.2h0M136.3 185.9h0M141.8 203.0h0M141.3 173.8h0M126.4 184.3h0M141.6 208.7h0M140.6 201.9h0M143.8 207.8h0M77.5 212.9h0M113.3 206.7h0M106.6 191.2h0M129.3 181.9h0M142.2 204.5h0M137.3 196.3h0M125.8 185.4h0M82.0 201.3h0M110.8 176.7h0M126.1 195.0h0M144.2 187.0h0"/><path stroke="#18addb" d="M113.0 184.1h0M72.9 206.1h0M130.2 192.1h0M140.0 215.1h0M109.7 181.1h0M110.3 173.2h0M129.0 190.0h0M97.4 193.3h0M133.3 211.7h0M125.5 190.1h0M134.5 176.9h0M82.3 211.4h0M95.5 217.9h0M142.7 215.3h0M139.9 206.9h0M143.5 217.7h0M118.2 204.2h0M118.9 197.0h0M127.1 212.1h0M143.5 195.9h0M123.1 171.8h0M116.7 184.6h0M129.6 206.3h0M109.8 213.3h0M128.3 194.1h0M94.8 199.6h0M120.5 170.8h0M102.0 210.4h0M125.6 171.2h0M81.9 211.5h0M103.3 205.1h0M139.1 197.2h0M99.3 201.6h0M136.9 202.7h0M94.9 193.0h0M94.0 199.7h0M139.1 196.9h0M131.0 215.0h0M128.4 174.6h0M106.6 186.7h0M142.7 191.3h0M141.0 222.9h0M93.2 204.2h0M112.5 220.0h0M110.9 220.5h0M94.7 221.5h0M101.2 193.1h0M141.5 167.3h0M143.8 185.4h0M139.9 166.3h0M118.0 202.1h0M133.4 216.3h0M142.6 199.0h0M107.6 209.1h0M116.3 204.6h0M140.3 194.6h0M117.3 199.7h0M107.5 196.9h0M126.4 218.4h0"/><path stroke="#12b1d6" d="M135.4 223.7h0M133.1 182.8h0M127.2 175.2h0M101.5 220.7h0M84.8 197.1h0M140.3 207.5h0M116.3 186.0h0M102.9 185.5h0M87.2 215.9h0M105.4 212.2h0M139.8 200.4h0M92.0 219.7h0M141.8 187.3h0M128.2 208.5h0M113.6 197.8h0M91.3 218.3h0M86.0 216.3h0M115.7 190.4h0M79.5 218.1h0M128.2 218.1h0M108.3 194.0h0M137.7 196.1h0M123.2 221.1h0M98.7 214.2h0M98.0 221.3h0M117.5 186.9h0M136.9 168.0h0M93.1 212.6h0M120.6 217.9h0M121.0 209.5h0M84.7 190.4h0M126.1 171.7h0M111.2 195.6h0M100.4 194.5h0M96.1 191.4h0M82.1 216.4h0M124.0 209.7h0M102.7 191.6h0M116.5 187.5h0M131.6 207.3h0M82.4 214.0h0M143.2 185.2h0M102.2 199.7h0M135.7 189.4h0M126.0 210.2h0M118.6 213.7h0M140.6 172.6h0M86.3 193.6h0"/><path stroke="#08b5d0" d="M144.0 204.9h0M114.7 176.0h0M114.0 200.8h0M133.2 173.5h0M127.8 213.1h0M144.4 218.1h0M116.0 182.4h0M138.4 206.5h0M84.5 213.2h0M119.0 198.3h0M131.9 210.5h0M143.7 188.1h0M131.6 206.2h0M134.6 181.3h0M102.8 208.4h0M108.9 198.6h0M115.0 209.2h0M95.5 180.6h0M118.1 171.4h0M125.0 182.2h0M140.5 185.8h0M89.8 195.9h0M138.8 165.5h0M125.7 193.0h0M93.2 204.5h0M103.4 206.8h0M97.2 218.7h0M118.1 206.7h0M129.5 214.1h0M144.0 203.2h0M73.5 202.7h0M90.8 203.0h0M74.6 218.7h0M144.1 171.3h0M135.3 172.7h0M127.4 200.6h0M130.9 206.0h0M124.9 217.3h0M143.6 192.0h0M98.8 186.7h0M133.0 173.0h0M125.3 198.8h0M107.0 204.1h0M128.0 211.8h0M102.0 216.1h0M118.1 176.6h0M125.5 198.4h0M106.6 206.5h0M84.8 209.1h0M116.5 207.6h0M137.3 198.3h0M128.8 172.9h0M135.6 191.9h0M139.0 211.5h0M136.4 212.7h0M98.0 214.6h0M143.2 192.2h0"/><path stroke="#01b8ca" d="M89.0 208.5h0M111.9 178.2h0M92.5 226.6h0M89.9 189.8h0M135.9 205.6h0M124.6 214.4h0M104.8 195.7h0M100.3 220.8h0M128.2 210.7h0M113.9 207.2h0M121.7 193.7h0M98.7 223.6h0M106.6 209.6h0M85.1 212.9h0M120.5 180.2h0M87.2 187.9h0M143.9 176.7h0M115.1 171.3h0M130.8 167.1h0M132.2 176.2h0M135.8 222.3h0M91.2 218.0h0M131.4 173.3h0M79.8 224.8h0M113.2 169.8h0M94.4 201.7h0M129.5 167.4h0M125.3 185.9h0M127.4 194.7h0M125.9 222.5h0M84.5 226.1h0M95.9 201.5h0M96.6 216.5h0M142.7 165.3h0M134.7 178.0h0M116.7 213.1h0M115.2 223.3h0M123.8 186.3h0M120.9 204.9h0M143.8 180.1h0M74.7 219.9h0M100.7 196.4h0M108.5 177.7h0M142.9 208.4h0M124.8 189.1h0M117.1 205.4h0M141.6 198.5h0M140.9 197.8h0M110.4 192.9h0M96.6 200.1h0M127.6 187.4h0M102.0 194.7h0M97.8 211.0h0M98.2 208.8h0M122.8 177.9h0M77.6 213.1h0M100.5 218.1h0M95.2 221.9h0M103.3 200.5h0M105.2 199.9h0M132.7 223.9h0M126.0 221.3h0M120.4 211.2h0M103.6 200.1h0M99.8 209.8h0M143.4 224.7h0M129.9 185.4h0M115.3 211.7h0M105.6 176.9h0"/><path stroke="#02bac3" d="M136.8 207.8h0M100.0 227.0h0M101.9 223.8h0M123.1 167.0h0M96.5 215.8h0M112.1 176.9h0M139.3 199.7h0M139.1 195.9h0M129.4 169.5h0M134.5 216.5h0M125.6 192.5h0M111.6 190.4h0M102.4 218.9h0M81.4 202.6h0M118.9 221.3h0M114.3 199.0h0M87.1 207.8h0M113.4 177.7h0M123.5 217.9h0M118.9 179.7h0M94.2 221.8h0M132.5 211.5h0M135.7 169.6h0M131.4 190.1h0M111.7 210.7h0M114.5 192.8h0M109.9 183.5h0M93.6 201.6h0M112.1 202.3h0M132.0 220.1h0M101.0 222.9h0M126.7 217.7h0M80.7 218.0h0M91.5 213.4h0M107.0 183.5h0M144.3 168.0h0M99.5 224.6h0M80.9 206.6h0M128.8 207.6h0M135.3 219.8h0M140.1 186.5h0M94.9 219.2h0M132.2 217.3h0M128.7 217.1h0M123.4 191.1h0M128.4 224.3h0M102.1 191.7h0M140.1 204.9h0M136.7 197.7h0M123.2 191.0h0M143.5 192.5h0M82.8 211.6h0M83.2 210.5h0"/><path stroke="#0bbdbc" d="M116.8 182.7h0M133.1 193.0h0M94.5 199.9h0M124.3 211.9h0M131.1 206.2h0M101.7 201.7h0M133.6 178.9h0M131.0 211.8h0M115.0 218.4h0M124.6 166.1h0M126.9 165.8h0M130.9 184.6h0M127.3 176.3h0M89.9 224.2h0M112.8 171.7h0M134.3 213.6h0M143.7 160.9h0M70.0 224.3h0M116.3 192.3h0M110.0 185.8h0M136.6 204.0h0M94.9 177.9h0M117.5 190.9h0M140.5 169.3h0M136.2 212.3h0M102.2 227.7h0M142.8 161.1h0M85.6 218.8h0M129.5 219.4h0M142.8 213.4h0M83.6 219.9h0M113.9 210.7h0M100.6 202.2h0M140.9 198.0h0M118.4 173.7h0M94.5 192.4h0M132.1 188.2h0M129.2 179.7h0M104.6 185.6h0M94.2 216.3h0M130.3 214.4h0M116.1 227.0h0M107.1 190.7h0M141.7 215.8h0M107.1 222.9h0M119.4 191.2h0M99.2 188.6h0M125.5 190.2h0M123.9 178.4h0M132.6 201.7h0M88.0 210.4h0M122.8 215.4h0M83.5 184.8h0M107.8 192.2h0M143.9 221.2h0M107.4 205.8h0"/><path stroke="#19bfb5" d="M110.4 193.7h0M112.7 219.2h0M111.3 225.9h0M121.9 189.8h0M129.8 171.5h0M104.1 222.5h0M126.6 192.0h0M86.2 195.4h0M109.1 179.2h0M107.9 182.2h0M132.7 206.5h0M127.2 186.0h0M126.2 169.6h0M126.1 204.6h0M95.2 216.0h0M125.4 173.9h0M132.5 168.6h0M141.4 179.5h0M98.2 185.9h0M97.0 201.1h0M128.9 182.1h0M144.4 177.8h0M120.1 193.4h0M139.1 197.9h0M130.4 223.4h0M117.7 175.1h0M132.9 178.3h0M83.5 215.7h0M135.6 222.9h0M77.2 212.8h0M100.0 195.6h0M122.5 221.8h0M108.9 210.0h0M136.3 210.8h0M81.9 211.1h0M113.6 218.1h0M97.4 187.6h0M106.4 193.1h0M108.0 201.6h0M103.6 214.0h0M127.5 172.2h0M74.4 208.5h0M138.3 171.3h0M130.6 211.4h0M134.9 222.7h0M130.2 216.6h0M112.2 193.7h0M96.0 221.5h0M136.3 165.8h0M82.3 207.0h0M99.2 213.6h0M90.2 201.1h0M92.5 188.8h0M135.4 178.5h0M143.5 188.9h0M139.5 197.1h0M95.4 177.3h0M125.7 204.9h0M106.8 182.1h0M91.6 184.6h0"/><path stroke="#24c1ae" d="M120.6 201.7h0M143.6 221.8h0M131.6 172.7h0M118.5 190.7h0M120.8 212.4h0M116.2 183.3h0M106.5 195.5h0M89.0 207.9h0M116.5 220.7h0M117.8 187.0h0M98.5 203.8h0M85.8 216.7h0M121.2 168.8h0M134.6 162.6h0M80.1 206.7h0M117.5 221.9h0M126.3 189.6h0M131.4 201.3h0M124.9 216.7h0M122.3 172.4h0M132.5 223.8h0M97.9 216.0h0M132.3 172.6h0M133.0 219.7h0M100.6 181.9h0M83.2 206.3h0M89.5 191.2h0M130.8 192.3h0M136.8 216.8h0M124.4 174.2h0M78.6 220.5h0M128.6 195.1h0M80.6 214.2h0M139.3 163.0h0M138.5 171.3h0M115.0 179.8h0M102.5 193.8h0M103.5 223.4h0M90.3 197.4h0M138.3 165.4h0M72.9 225.0h0M92.1 184.3h0M109.2 180.6h0M114.3 215.8h0M138.8 188.5h0M88.3 187.8h0M127.6 196.8h0M102.8 206.3h0M126.6 179.3h0M103.9 202.2h0M100.4 187.7h0M125.3 212.5h0M97.2 184.3h0M136.0 164.6h0M135.2 219.4h0"/><path stroke="#2cc4a6" d="M100.8 202.9h0M105.7 190.4h0M81.0 213.6h0M80.6 209.3h0M131.5 176.6h0M139.6 193.6h0M94.7 188.8h0M77.2 212.9h0M122.8 210.6h0M142.8 180.3h0M79.5 196.1h0M80.2 198.6h0M103.6 222.0h0M76.1 221.6h0M100.8 180.8h0M81.8 199.4h0M134.9 176.8h0M127.5 176.9h0M96.2 211.0h0M98.4 193.1h0M95.8 182.3h0M120.1 185.5h0M132.2 216.9h0M139.2 217.3h0M92.7 220.8h0M119.5 193.0h0M82.4 210.5h0M88.0 199.8h0M88.6 219.2h0M91.8 186.0h0M115.6 225.0h0M91.6 217.5h0M128.9 220.1h0M76.3 224.5h0M136.1 178.1h0M104.6 190.7h0M74.8 218.9h0M86.8 212.2h0M97.3 183.4h0M101.9 180.3h0M84.8 197.2h0M113.2 176.1h0M136.3 211.5h0M140.6 221.6h0M116.1 180.1h0M73.4 225.1h0M113.2 204.2h0M115.2 173.0h0M126.1 173.9h0M118.0 193.4h0"/><path stroke="#31c69f" d="M96.9 188.2h0M85.5 199.2h0M137.6 202.2h0M137.9 170.1h0M131.8 194.6h0M99.3 181.3h0M122.2 174.4h0M99.5 177.1h0M95.1 195.5h0M113.6 191.2h0M103.1 225.0h0M107.2 174.9h0M92.8 181.4h0M142.9 218.4h0M117.8 214.9h0M105.3 222.9h0M79.0 189.7h0M124.5 204.5h0M136.6 166.9h0M144.1 191.9h0M96.7 211.5h0M119.4 185.8h0M103.0 170.9h0M123.6 207.4h0M82.6 227.1h0M112.1 220.1h0M130.7 182.8h0M116.8 167.2h0M136.5 227.6h0M134.1 222.2h0M123.3 172.1h0M135.5 176.9h0M91.5 191.2h0M104.4 193.5h0M95.4 198.6h0M81.5 210.1h0M95.1 205.1h0M98.9 220.5h0M132.4 178.0h0M77.7 203.0h0M126.3 197.6h0M95.8 208.8h0M123.6 178.6h0M135.7 178.0h0M126.8 188.8h0M121.6 182.7h0M112.2 221.1h0M130.2 164.4h0M100.6 184.8h0M109.8 194.5h0M127.1 185.7h0M81.3 201.6h0M142.9 174.2h0"/><path stroke="#37c897" d="M88.7 193.3h0M124.2 195.3h0M130.9 178.3h0M141.3 205.7h0M130.3 169.4h0M103.3 219.2h0M99.8 177.2h0M83.8 213.5h0M86.3 197.8h0M119.7 182.6h0M104.4 178.1h0M94.5 221.8h0M101.1 225.9h0M125.8 212.1h0M134.1 212.5h0M135.3 173.8h0M121.0 216.9h0M143.0 168.6h0M80.9 207.0h0M73.4 209.3h0M125.9 183.2h0M131.7 198.1h0M108.4 215.8h0M120.2 184.9h0M111.1 197.7h0M106.9 219.7h0M117.3 168.8h0M88.1 201.7h0M95.0 227.1h0M129.5 181.0h0M137.8 190.1h0M138.2 178.1h0M112.1 171.2h0M96.0 191.3h0M79.9 212.3h0M107.9 224.5h0M126.9 219.6h0M136.4 172.4h0M114.7 199.1h0M106.8 198.2h0M81.7 198.4h0M118.3 180.4h0M137.9 172.9h0M120.8 219.7h0M114.2 187.1h0M89.1 203.7h0M128.0 218.2h0M133.5 162.6h0M80.3 221.2h0"/><path stroke="#3fca8e" d="M116.4 177.8h0M87.8 219.9h0M131.3 198.5h0M104.9 212.9h0M98.6 196.6h0M132.5 174.5h0M144.4 216.2h0M118.7 167.1h0M114.0 218.7h0M143.1 176.9h0M112.6 215.8h0M110.8 192.0h0M77.4 207.5h0M120.4 171.9h0M120.1 207.8h0M70.7 217.7h0M142.8 161.4h0M108.4 208.3h0M72.1 223.4h0M113.7 204.0h0M121.0 192.2h0M104.6 188.6h0M98.8 191.2h0M131.7 183.6h0M130.6 208.6h0M112.9 190.1h0M126.5 198.8h0M125.8 170.7h0M113.4 205.0h0M112.2 209.3h0M118.2 175.0h0M101.7 193.4h0M80.2 213.8h0M105.0 189.9h0M144.1 220.4h0M131.7 196.1h0M86.5 185.3h0M81.4 221.0h0M112.4 198.9h0M138.8 209.9h0M101.8 217.6h0M116.9 175.4h0M106.9 212.7h0M137.9 172.3h0M112.4 225.8h0M102.9 199.2h0M141.5 184.3h0M106.9 177.0h0M126.4 194.9h0M116.1 180.8h0M69.7 210.5h0M106.9 210.4h0M98.1 183.3h0"/><path stroke="#4acb84" d="M106.4 171.8h0M143.5 159.7h0M122.1 183.8h0M99.0 189.3h0M95.8 184.9h0M119.8 204.8h0M142.6 184.2h0M73.5 214.8h0M88.1 206.5h0M94.3 178.1h0M107.6 191.7h0M116.8 212.9h0M82.9 203.0h0M74.0 215.5h0M132.5 211.3h0M73.5 202.0h0M80.8 221.5h0M134.6 176.3h0M137.2 226.2h0M126.7 170.4h0M131.5 226.5h0M103.2 222.1h0M129.5 162.7h0M134.5 175.0h0M98.0 183.0h0M139.9 223.2h0M114.1 220.3h0M83.2 221.9h0M130.4 162.0h0M84.8 218.6h0M133.1 175.0h0M120.6 173.1h0M100.2 179.6h0M122.2 172.2h0M121.8 225.0h0M85.3 201.4h0M95.1 220.8h0M101.6 215.9h0M103.8 204.2h0M135.5 158.9h0M118.5 200.1h0M78.7 185.0h0M124.4 211.0h0M110.5 186.5h0M143.2 161.3h0M96.1 185.2h0M137.1 180.1h0M111.2 200.9h0M123.1 212.4h0M78.9 221.6h0M116.6 177.5h0M112.3 175.8h0M125.1 178.8h0M127.9 225.1h0M139.2 180.9h0M107.5 175.7h0M93.5 212.7h0"/><path stroke="#57cc7a" d="M75.4 220.4h0M111.1 218.7h0M70.7 199.9h0M122.9 222.4h0M118.6 200.7h0M99.1 172.8h0M110.6 170.7h0M92.7 199.0h0M84.4 224.1h0M142.6 172.5h0M71.9 222.0h0M121.7 177.1h0M120.4 171.7h0M136.0 172.2h0M142.8 205.7h0M67.4 216.8h0M72.2 206.6h0M129.8 198.2h0M86.0 208.1h0M132.7 226.2h0M128.8 210.5h0M117.3 226.5h0M137.0 206.2h0M130.6 166.8h0M91.0 223.3h0M122.5 180.5h0M116.5 227.9h0M143.8 159.5h0M116.7 197.8h0M115.3 183.8h0M141.4 193.1h0M88.0 207.2h0M81.2 221.0h0M117.0 175.6h0M129.0 176.0h0M143.2 174.3h0M95.0 183.1h0M80.2 196.7h0M119.1 213.4h0M97.6 183.5h0M126.0 173.4h0M77.6 208.6h0M134.4 208.6h0"/><path stroke="#64cd6f" d="M128.8 186.9h0M124.2 179.2h0M94.3 203.7h0M93.2 219.2h0M119.3 166.2h0M111.9 218.0h0M111.5 226.8h0M87.2 191.9h0M79.1 224.4h0M121.4 226.4h0M142.5 184.8h0M93.6 226.6h0M91.8 189.3h0M137.7 169.2h0M108.4 181.3h0M102.9 187.1h0M89.3 178.2h0M88.7 186.6h0M74.5 216.6h0M81.0 205.3h0M113.4 167.7h0M70.3 203.6h0M142.2 206.3h0M131.5 222.8h0M143.5 196.4h0M86.9 225.8h0M122.3 168.2h0M84.7 182.7h0M122.4 165.6h0M139.8 176.6h0M105.8 203.7h0"/><path stroke="#72cd64" d="M90.8 188.6h0M92.0 191.5h0M75.5 207.6h0M112.1 216.2h0M114.9 171.0h0M117.3 226.2h0M130.6 178.0h0M92.2 220.2h0M68.0 219.9h0M142.0 219.0h0M106.1 224.9h0M92.4 196.2h0M140.6 226.3h0M96.0 182.3h0M82.3 212.3h0M92.7 192.0h0M135.0 160.1h0M142.9 191.3h0M116.0 211.2h0M96.6 203.4h0M90.2 192.4h0M102.5 203.9h0M91.0 202.1h0M93.4 226.5h0M129.8 166.4h0M144.3 177.6h0M88.4 201.3h0M114.2 182.3h0M69.1 226.1h0M125.8 221.2h0M107.1 205.4h0M87.1 216.9h0M92.6 222.8h0M100.4 185.3h0M115.0 221.1h0M142.7 175.7h0M128.9 197.6h0M90.6 226.7h0M111.3 173.5h0M132.4 180.8h0M90.7 197.0h0M97.9 174.4h0M67.7 211.0h0M85.9 224.2h0M100.9 172.5h0"/><path stroke="#81cc59" d="M118.6 204.1h0M102.5 171.7h0M126.5 197.3h0M69.5 207.0h0M135.9 211.8h0M108.3 179.3h0M84.8 211.7h0M87.0 182.1h0M109.4 226.4h0M121.1 172.8h0M76.7 204.8h0M141.9 161.7h0M79.5 202.4h0M102.3 223.2h0M80.0 197.0h0M80.9 216.5h0M123.5 195.1h0M82.7 204.3h0M137.5 170.0h0M92.9 226.0h0M84.3 203.9h0M99.7 203.1h0M77.4 212.5h0M135.9 183.2h0M104.8 188.6h0M70.3 204.1h0M72.4 224.9h0M95.9 217.1h0M140.4 196.3h0M91.8 200.9h0M70.9 204.2h0M68.1 225.2h0M91.8 201.1h0M89.0 223.4h0M78.0 202.1h0M134.6 224.6h0M124.2 176.6h0M139.6 227.7h0M115.6 216.8h0M132.9 220.8h0M121.4 164.5h0M124.8 165.1h0M78.9 195.2h0M122.4 163.4h0M75.0 197.6h0M140.6 158.5h0M126.4 222.0h0"/><path stroke="#8fcb4e" d="M101.6 194.1h0M73.8 212.3h0M90.9 227.7h0M129.8 221.6h0M96.2 201.5h0M126.9 221.2h0M98.5 191.0h0M128.6 181.8h0M97.9 185.8h0M96.4 189.0h0M84.3 189.7h0M112.8 176.9h0M114.5 209.3h0M94.0 180.1h0M127.5 188.0h0M97.1 193.8h0M70.6 212.6h0M76.9 212.8h0M136.2 197.2h0M81.5 214.8h0M86.1 221.9h0M83.3 207.8h0M97.6 172.2h0M110.3 181.5h0M120.5 165.4h0M78.6 223.1h0M131.4 183.0h0M72.2 227.8h0M100.2 176.3h0M119.8 184.3h0M139.3 168.5h0M105.4 171.2h0M76.0 199.4h0M79.4 191.9h0M87.1 221.0h0M72.3 221.3h0M98.4 182.4h0"/><path stroke="#9dc943" d="M98.0 173.4h0M102.2 216.6h0M106.2 218.3h0M94.3 223.8h0M86.7 218.3h0M121.4 203.0h0M113.0 220.4h0M107.3 218.9h0M75.6 213.5h0M141.8 191.1h0M113.1 227.1h0M77.0 215.6h0M94.8 186.5h0M71.0 218.5h0M92.0 223.4h0M92.0 180.5h0M104.2 222.7h0M107.3 168.5h0M80.7 224.5h0M141.6 158.7h0M76.1 218.5h0M84.9 222.0h0M91.3 190.7h0M92.8 184.9h0M100.2 181.2h0M116.8 224.5h0M130.9 226.5h0M101.5 189.3h0M103.3 182.9h0M125.7 164.4h0M99.8 226.2h0M100.1 223.1h0M74.1 198.4h0M83.1 200.7h0M102.3 198.6h0M89.4 220.4h0M109.2 200.7h0"/><path stroke="#abc739" d="M82.5 190.7h0M82.0 210.7h0M113.8 227.1h0M131.0 209.0h0M102.7 167.9h0M92.4 181.4h0M88.3 193.7h0M83.1 227.8h0M76.9 215.3h0M84.5 178.9h0M80.0 196.5h0M71.7 207.1h0M142.9 167.9h0M118.9 186.5h0M68.8 205.0h0M67.4 221.5h0M102.9 175.0h0M132.5 226.7h0M88.4 220.2h0M101.8 224.3h0M133.6 168.6h0M70.0 206.4h0M83.2 212.5h0M110.3 173.7h0M71.7 215.3h0M114.0 176.4h0M72.6 218.6h0M130.9 165.5h0M144.4 225.5h0M109.2 223.9h0M137.8 195.0h0M85.0 199.4h0M78.6 191.0h0M75.5 214.7h0M101.2 226.2h0"/><path stroke="#b9c431" d="M117.7 209.5h0M83.4 198.7h0M85.6 183.1h0M81.5 205.0h0M100.6 172.0h0M71.5 210.8h0M86.0 183.2h0M142.9 193.2h0M90.3 175.0h0M79.8 188.4h0M134.4 188.7h0M74.5 201.9h0M100.6 189.4h0M113.7 198.5h0M99.7 226.1h0M74.7 200.7h0M88.9 216.7h0M112.1 166.5h0M102.8 166.6h0M67.8 210.6h0M108.5 227.6h0M100.7 227.9h0M120.1 165.9h0M68.7 220.8h0M103.5 169.5h0"/><path stroke="#c5c22a" d="M100.7 190.2h0M121.0 169.6h0M76.8 226.1h0M143.8 181.7h0M91.0 187.1h0M134.2 157.9h0M101.3 182.4h0M124.8 163.9h0M91.6 193.6h0M69.1 221.0h0M74.4 203.8h0M74.2 211.0h0M106.0 169.5h0M136.5 159.1h0M143.7 158.0h0M84.9 225.5h0M124.2 164.1h0M88.8 223.9h0M75.2 197.6h0M75.1 227.9h0M138.1 195.1h0M107.7 170.3h0"/><path stroke="#d1bf27" d="M132.4 163.2h0M113.5 170.8h0M89.9 194.1h0M76.2 197.8h0M98.4 185.8h0M144.3 159.2h0M140.2 221.5h0M70.9 220.8h0M130.0 162.7h0M72.1 210.0h0M128.2 220.8h0M71.2 217.5h0M93.2 186.6h0M94.6 178.2h0M112.9 214.1h0M75.3 192.2h0M137.8 164.2h0M74.1 197.5h0M117.8 168.1h0M68.1 219.8h0M103.5 174.4h0M141.0 226.6h0M73.9 199.0h0M75.8 225.1h0M126.8 222.7h0M91.1 175.2h0M93.5 187.2h0M100.3 180.5h0M141.7 168.0h0M121.3 178.2h0"/><path stroke="#dcbd29" d="M131.8 160.8h0M81.2 216.8h0M137.6 159.9h0M68.0 213.1h0M97.6 220.5h0M108.7 166.8h0M65.6 223.7h0M108.0 168.0h0M123.0 164.0h0M82.4 198.4h0M107.9 205.9h0M93.7 180.0h0M115.1 225.5h0M85.7 190.6h0M87.8 180.5h0M111.2 164.4h0M123.5 211.9h0M73.1 209.5h0M112.4 225.2h0M94.8 174.0h0M107.7 199.5h0M112.5 227.8h0M119.5 167.2h0M102.2 222.5h0M72.6 199.4h0M78.8 226.8h0"/><path stroke="#e6bb2d" d="M137.3 223.5h0M133.1 188.0h0M81.2 201.3h0M105.4 169.4h0M113.5 227.3h0M94.7 172.1h0M70.3 225.5h0M68.9 219.8h0M87.9 176.9h0M95.1 183.8h0M92.2 227.6h0M73.8 194.6h0M75.1 198.4h0M77.7 224.2h0M107.1 225.9h0M98.0 181.8h0M74.7 206.3h0M67.0 227.2h0"/><path stroke="#f0ba36" d="M139.6 161.2h0M79.5 191.8h0M89.1 199.2h0M124.4 226.2h0M67.6 225.5h0M126.9 161.0h0M91.9 225.8h0M68.8 223.6h0M64.7 219.7h0M113.1 189.1h0M73.8 222.7h0M82.8 227.6h0M101.6 215.6h0M77.9 187.0h0M73.6 201.7h0M85.0 187.5h0M81.4 197.6h0M121.7 168.3h0M101.3 174.0h0"/><path stroke="#f8ba3d" d="M128.1 159.5h0M83.6 181.8h0M123.3 160.4h0M65.2 216.0h0M127.1 204.6h0M136.2 158.9h0M88.3 218.0h0M64.3 218.7h0M98.9 172.1h0M98.7 192.8h0M137.2 206.0h0M92.8 180.0h0M88.3 175.1h0M87.5 186.1h0M78.9 225.5h0M132.4 161.9h0M85.8 179.9h0M91.7 173.6h0M87.7 227.5h0"/><path stroke="#febe3c" d="M90.6 203.8h0M86.6 181.5h0M79.9 193.6h0M63.9 221.0h0M93.9 174.4h0M105.4 166.9h0M70.6 206.0h0M74.7 199.9h0M93.8 172.7h0M80.0 191.1h0M117.7 227.7h0M88.7 187.6h0M132.5 226.9h0M103.4 223.5h0M114.6 162.6h0M83.5 193.3h0M135.2 160.0h0M139.6 227.0h0"/><path stroke="#fec338" d="M81.1 186.4h0M83.7 184.3h0M143.5 227.0h0M94.3 178.8h0M140.7 162.2h0M143.9 225.5h0M118.4 161.7h0M113.4 172.5h0M73.7 202.1h0M65.6 218.9h0M70.8 202.9h0M141.3 160.1h0M124.7 162.2h0"/><path stroke="#fec934" d="M136.9 157.2h0M73.2 197.5h0M87.1 191.4h0M65.3 217.5h0M87.4 180.4h0M85.7 183.9h0M88.6 177.9h0M81.7 186.0h0M132.2 167.2h0M77.9 202.2h0"/><path stroke="#fccf30" d="M71.5 204.0h0M77.5 186.6h0M74.4 208.0h0M136.0 227.9h0M76.9 191.5h0M116.1 162.7h0M115.7 163.1h0M136.3 158.4h0M67.0 208.5h0M76.6 211.7h0M109.1 168.5h0"/><path stroke="#fad62d" d="M67.7 207.6h0M65.9 226.2h0M66.2 211.1h0M76.1 192.3h0M79.9 185.9h0M80.3 183.1h0M73.3 204.0h0M68.3 209.7h0M71.4 204.3h0"/><path stroke="#f7dc2a" d="M67.1 210.5h0M108.3 165.3h0M123.9 227.4h0M65.5 215.4h0M124.3 160.2h0M132.5 161.1h0M137.9 157.5h0M69.9 205.3h0M86.0 182.6h0M137.2 160.7h0M116.9 164.4h0"/><path stroke="#f5e327" d="M65.3 216.0h0M65.1 216.6h0M94.9 172.0h0M71.1 207.4h0M117.4 162.9h0M86.1 187.9h0M126.4 161.0h0M139.9 156.9h0"/><path stroke="#f5e924" d="M88.7 177.1h0M82.0 183.8h0M118.4 163.1h0M132.2 159.7h0M91.6 178.8h0M138.4 157.4h0M67.1 225.8h0M141.3 226.0h0"/><path stroke="#f6ef20" d="M72.7 194.3h0M88.5 179.4h0M67.4 218.1h0"/><path stroke="#f7f51b" d="M82.6 226.6h0M112.1 170.3h0M104.9 170.8h0M92.7 227.5h0M65.8 215.7h0M100.9 227.8h0"/><path stroke="#f9fb15" d="M129.7 162.3h0M139.4 157.1h0M63.8 227.4h0M69.1 225.9h0M69.7 204.7h0M78.7 184.8h0M68.0 223.3h0M115.4 227.6h0M90.9 173.9h0M64.9 226.4h0M127.9 159.7h0M64.6 219.8h0M98.2 171.0h0M63.6 225.2h0M106.2 167.1h0M68.2 219.9h0M88.0 178.2h0M63.5 226.4h0M108.8 165.1h0M75.3 190.2h0M65.0 216.3h0M69.5 202.3h0M75.3 195.5h0M118.0 162.1h0M80.7 197.3h0M100.2 168.8h0M74.9 201.2h0"/></g><g fill="none" stroke-width="1.60" stroke-linecap="round"><path stroke="#463cde" d="M311.2 170.6h0M320.2 218.4h0M272.0 195.0h0M312.0 201.9h0"/><path stroke="#4741e5" d="M273.6 186.3h0M291.5 211.3h0M320.0 215.7h0"/><path stroke="#4747eb" d="M285.6 209.9h0M313.8 178.0h0M279.6 226.6h0M319.4 186.6h0M294.9 200.0h0"/><path stroke="#484df0" d="M301.0 177.4h0"/><path stroke="#4852f4" d="M259.9 216.9h0M268.2 201.1h0"/><path stroke="#4758f8" d="M290.0 219.0h0M288.1 197.1h0M300.3 186.2h0M249.0 213.4h0M296.9 168.8h0M315.1 191.0h0M322.2 217.8h0M300.8 214.3h0"/><path stroke="#465efb" d="M320.2 188.3h0M266.9 220.2h0M307.6 211.3h0M305.4 205.0h0M272.5 202.8h0M288.8 213.5h0M288.5 215.5h0M314.5 208.9h0M270.8 203.9h0M281.9 215.9h0M278.5 175.1h0M298.5 202.1h0M259.7 221.5h0M286.4 221.0h0"/><path stroke="#4563fd" d="M308.9 216.9h0M319.1 220.3h0M246.3 222.7h0M293.0 212.0h0M270.0 214.7h0M308.0 208.0h0M312.9 204.8h0M316.8 217.4h0M289.2 200.8h0M262.7 209.4h0M287.8 197.8h0M295.3 195.4h0M297.7 189.3h0M320.5 165.6h0M310.7 201.1h0M314.5 219.5h0M306.6 223.4h0M298.1 224.0h0M320.7 214.1h0M274.4 174.6h0M296.7 216.2h0M316.8 190.4h0M278.0 182.0h0M312.9 202.1h0M319.4 225.4h0M317.4 172.8h0"/><path stroke="#4269fe" d="M299.1 211.9h0M260.9 224.2h0M262.9 219.1h0M283.8 184.8h0M308.2 182.6h0M269.6 202.0h0M293.1 172.4h0M281.3 175.6h0M282.1 181.0h0M317.4 162.4h0M264.7 185.8h0M288.7 174.3h0M301.5 166.7h0M301.5 195.8h0M286.0 210.5h0M266.7 212.1h0M286.8 206.2h0M315.9 191.2h0M299.0 175.9h0M279.7 198.1h0M262.3 201.7h0M255.3 202.5h0M305.2 187.0h0"/><path stroke="#3e6fff" d="M289.1 175.1h0M312.1 168.9h0M282.6 219.0h0M312.0 224.3h0M283.9 198.2h0M298.9 188.6h0M319.2 168.7h0M269.0 216.8h0M264.6 226.0h0M282.6 225.7h0M307.3 218.2h0M272.0 204.8h0M291.4 188.1h0M280.3 179.2h0M285.2 181.5h0M263.5 203.6h0M313.5 189.8h0M269.7 216.9h0M310.9 225.9h0M286.3 217.7h0M318.8 188.6h0M317.5 170.5h0M286.0 192.8h0M299.3 178.3h0M288.9 207.1h0M306.8 203.4h0M257.0 207.8h0"/><path stroke="#3875fe" d="M313.9 170.7h0M270.6 184.9h0M313.7 177.8h0M272.5 200.6h0M289.0 187.9h0M306.8 221.1h0M300.6 165.0h0M315.7 180.1h0M318.1 174.3h0M253.5 217.1h0M291.6 214.7h0M268.6 226.4h0M266.8 194.2h0M307.8 185.6h0M284.5 185.2h0M309.3 182.1h0M253.7 224.1h0M286.3 191.7h0M317.7 184.4h0M266.9 188.2h0M282.0 207.5h0M267.3 220.8h0M285.9 196.2h0M314.5 189.3h0M315.2 163.6h0M319.9 225.0h0M263.2 193.0h0M276.4 197.6h0M300.1 175.0h0M318.0 212.0h0M294.3 198.0h0M317.2 198.0h0M312.3 193.1h0M302.6 209.8h0M285.1 213.1h0M321.7 223.9h0M260.2 198.6h0M282.5 184.7h0M288.0 218.8h0M268.7 180.0h0M309.1 194.3h0"/><path stroke="#327cfc" d="M312.1 172.0h0M302.3 191.7h0M299.4 199.9h0M295.3 226.3h0M254.3 200.5h0M321.4 203.1h0M303.7 191.9h0M262.8 215.9h0M294.1 219.5h0M281.0 222.4h0M299.9 186.6h0M299.2 200.5h0M261.6 205.6h0M252.0 205.4h0M292.1 198.8h0M288.9 185.1h0M313.5 188.0h0M250.4 212.7h0M284.5 191.0h0M302.9 219.4h0M289.8 218.7h0M315.8 169.9h0M286.7 197.9h0M279.9 210.4h0M281.6 221.5h0M257.4 226.7h0M288.1 170.9h0M265.3 227.9h0M293.8 208.9h0M258.4 191.8h0M277.0 199.1h0M294.8 223.1h0M312.5 195.3h0M319.5 184.6h0M314.3 177.7h0M306.0 221.7h0M294.7 189.0h0M288.5 178.2h0M314.5 226.4h0M293.8 218.7h0M305.3 222.5h0M278.4 192.4h0M277.2 194.6h0M289.5 188.7h0M318.9 211.1h0"/><path stroke="#2f81fa" d="M300.3 204.0h0M260.9 195.2h0M316.1 209.5h0M269.0 225.9h0M319.7 219.8h0M311.9 171.3h0M293.1 211.1h0M278.6 179.7h0M282.5 224.9h0M274.1 226.5h0M301.1 227.0h0M289.0 185.4h0M283.5 214.7h0M317.9 178.3h0M306.3 204.9h0M320.2 194.6h0M321.0 161.6h0M310.3 184.8h0M271.2 177.3h0M280.0 198.4h0M288.0 188.3h0M290.9 201.8h0M309.3 205.2h0M296.1 227.1h0M272.1 225.4h0M318.6 210.8h0M322.4 188.5h0M279.4 198.8h0M301.9 217.5h0M285.5 170.2h0M313.4 194.1h0M259.0 192.9h0M287.7 196.8h0M288.7 178.6h0M307.0 218.8h0M308.3 175.9h0M295.7 224.6h0M276.2 222.1h0M269.0 200.0h0M281.1 192.8h0M265.3 195.4h0M300.8 198.8h0M301.8 220.5h0M318.1 222.9h0M283.0 191.1h0M273.2 207.8h0M285.0 227.7h0M290.2 188.2h0M258.7 221.0h0M292.0 193.8h0M253.3 221.4h0M286.9 226.3h0M268.5 193.2h0M282.2 223.4h0M268.0 180.6h0M294.8 187.4h0M266.8 218.5h0M309.1 169.4h0M293.4 198.3h0M314.7 197.5h0M253.4 225.5h0M271.0 199.8h0M291.8 211.2h0M320.2 168.9h0M270.3 212.3h0M317.1 172.7h0M302.2 195.8h0M266.9 222.5h0M253.1 218.1h0"/><path stroke="#2e87f7" d="M289.0 173.5h0M284.1 183.4h0M306.5 201.1h0M306.2 222.1h0M309.0 215.1h0M270.5 176.2h0M290.9 182.5h0M272.9 207.1h0M284.7 204.9h0M297.7 219.4h0M296.1 195.8h0M293.8 197.9h0M312.6 203.9h0M276.4 222.4h0M245.8 219.9h0M286.7 204.3h0M267.6 199.7h0M322.0 189.1h0M317.6 200.5h0M309.4 208.6h0M265.2 191.1h0M274.1 204.9h0M273.1 226.4h0M282.0 213.9h0M265.5 215.6h0M322.3 198.7h0M248.6 224.1h0M293.6 211.5h0M285.2 167.8h0M287.6 194.7h0M300.4 187.6h0M316.2 191.0h0M304.9 227.1h0M264.1 217.9h0M260.8 192.2h0M283.2 179.5h0M290.3 184.7h0M265.7 187.2h0M267.9 194.2h0M291.2 178.8h0M311.5 160.0h0M260.1 211.4h0M271.4 214.7h0M314.8 178.9h0M322.3 167.6h0M303.3 216.9h0M302.7 181.4h0M315.4 185.5h0M259.3 196.4h0M258.8 201.2h0M316.5 192.7h0M280.7 196.1h0M258.4 201.5h0M256.8 206.8h0M305.3 168.3h0M316.0 179.5h0M284.6 211.3h0M287.4 213.1h0M295.3 193.0h0M279.6 206.4h0M287.8 186.7h0M278.3 184.2h0M300.1 213.9h0M317.2 173.2h0M248.7 223.8h0M254.3 207.9h0M256.1 200.5h0"/><path stroke="#2d8cf3" d="M305.8 223.4h0M311.8 227.9h0M318.9 217.7h0M278.0 173.8h0M322.2 177.2h0M255.4 227.3h0M259.4 207.4h0M316.8 168.5h0M287.9 169.6h0M259.2 227.9h0M321.2 162.7h0M294.1 173.3h0M311.9 183.8h0M319.1 205.9h0M286.4 208.5h0M270.6 198.5h0M289.7 218.4h0M286.1 208.8h0M306.6 227.9h0M309.1 206.1h0M297.0 202.2h0M302.6 201.9h0M300.0 206.3h0M285.6 177.8h0M292.0 168.4h0M288.8 227.4h0M262.6 215.0h0M313.0 195.7h0M287.5 177.0h0M279.7 207.6h0M271.6 217.5h0M292.7 190.8h0M316.6 208.3h0M319.3 181.2h0M284.6 221.8h0M281.9 178.7h0M261.2 212.6h0M313.4 169.5h0M283.2 197.4h0M288.5 172.9h0M278.0 213.4h0M321.9 225.6h0M268.7 181.6h0M301.5 190.6h0M278.6 173.6h0M276.3 179.4h0M319.7 174.3h0M268.2 223.4h0M260.7 197.9h0M260.6 210.9h0M321.8 188.5h0M249.2 206.1h0M249.1 214.9h0M279.0 187.2h0M321.6 222.9h0M299.1 223.2h0M269.5 210.2h0M278.1 193.1h0M309.2 186.9h0M284.8 172.3h0M276.4 205.3h0M284.7 178.3h0M244.4 216.5h0M265.6 189.6h0M304.2 222.8h0M284.8 195.8h0M304.5 183.6h0M292.4 192.9h0M284.0 209.8h0M315.0 226.6h0M313.7 176.6h0M271.7 191.3h0M298.5 203.3h0M261.8 204.4h0M322.0 164.8h0M296.8 225.2h0M278.6 196.4h0M321.0 216.7h0"/><path stroke="#2b91ef" d="M298.0 211.9h0M284.3 199.3h0M284.5 179.2h0M272.1 187.2h0M281.2 186.8h0M297.6 186.2h0M315.1 202.6h0M298.2 227.9h0M292.4 190.2h0M275.7 223.9h0M308.8 185.6h0M255.8 207.6h0M279.1 190.5h0M322.3 221.4h0M304.5 171.5h0M258.8 222.0h0M321.1 177.4h0M288.3 172.3h0M287.7 193.1h0M317.5 166.1h0M247.7 221.6h0M288.2 225.1h0M309.2 207.8h0M296.6 175.1h0M288.0 218.3h0M309.5 173.6h0M268.3 210.7h0M299.0 209.1h0M269.4 201.1h0M308.5 186.9h0M273.8 190.5h0M307.2 215.3h0M288.2 175.4h0M263.1 194.9h0M320.1 180.2h0M280.3 172.0h0M287.3 168.0h0M266.3 207.4h0M308.2 186.0h0M305.8 170.3h0M293.8 211.5h0M259.5 218.6h0M291.7 182.1h0M315.9 227.4h0M296.7 164.8h0M321.0 208.0h0M309.9 227.7h0M279.4 176.4h0M262.2 219.2h0M311.7 163.7h0M315.7 209.8h0M271.8 226.3h0M244.2 226.1h0M305.4 217.7h0M295.7 173.6h0M302.8 175.3h0M292.9 185.1h0M318.9 219.9h0M304.6 172.7h0M291.2 175.8h0M249.1 218.4h0M321.3 180.2h0M264.9 225.3h0M308.4 201.0h0M294.9 223.8h0M309.7 203.4h0M296.7 197.2h0M314.5 218.7h0M281.5 203.0h0M264.9 181.6h0M310.2 179.4h0M294.7 206.9h0M245.8 227.0h0M282.4 197.8h0M287.8 182.3h0M294.6 202.4h0M283.2 221.3h0M318.8 185.9h0M265.0 185.0h0M268.4 180.6h0M273.1 196.8h0M321.6 164.5h0M299.3 164.8h0M291.1 188.2h0M322.4 218.1h0M306.1 179.2h0M260.2 212.2h0M307.0 226.8h0M266.5 190.1h0M311.5 177.1h0M290.6 191.9h0M314.4 202.4h0M308.9 198.0h0M270.8 181.3h0M253.1 219.0h0M261.8 222.2h0M301.9 172.6h0"/><path stroke="#2797eb" d="M298.6 173.6h0M302.1 200.1h0M318.2 166.4h0M296.8 198.7h0M279.9 201.1h0M272.5 202.3h0M263.4 213.5h0M244.5 226.5h0M301.6 226.3h0M319.1 163.1h0M289.9 171.6h0M289.3 202.8h0M303.6 185.5h0M274.8 219.8h0M297.0 165.1h0M320.2 219.2h0M278.4 220.3h0M291.5 171.8h0M281.4 182.4h0M302.5 217.9h0M273.4 195.1h0M274.7 179.7h0M300.2 185.4h0M281.2 226.6h0M282.3 218.7h0M288.3 200.3h0M305.0 163.0h0M307.6 197.3h0M281.5 220.5h0M307.9 183.7h0M300.3 176.4h0M261.5 213.7h0M285.4 226.8h0M263.2 214.1h0M296.2 216.0h0M256.9 201.5h0M308.9 191.1h0M258.3 199.9h0M297.0 188.5h0M259.4 225.2h0M269.9 211.9h0M290.9 189.2h0M321.3 166.6h0M302.2 208.8h0M303.8 221.2h0M298.4 222.1h0M292.7 199.5h0M286.3 168.1h0M265.7 224.8h0M305.3 161.0h0M318.5 212.0h0M298.0 176.3h0M301.9 205.3h0M289.9 191.3h0M258.6 209.2h0M262.7 195.3h0M250.0 212.0h0M302.5 203.6h0M314.2 162.8h0M303.3 224.5h0M318.5 206.9h0M276.7 198.1h0M292.0 219.8h0M320.2 167.9h0M285.0 188.0h0M284.8 179.7h0M321.9 188.8h0M272.9 224.9h0M318.5 201.8h0M294.1 189.1h0M318.2 223.8h0"/><path stroke="#259be8" d="M255.9 210.2h0M280.1 184.6h0M264.2 193.0h0M265.6 193.6h0M262.0 225.5h0M295.4 178.8h0M264.7 194.7h0M258.5 218.2h0M306.9 201.9h0M296.4 167.6h0M264.3 186.3h0M301.3 181.5h0M272.7 193.6h0M310.4 200.0h0M293.9 181.8h0M281.6 194.2h0M283.0 194.9h0M317.8 225.8h0M287.4 174.3h0M314.9 202.5h0M258.1 210.6h0M281.9 181.8h0M271.0 214.5h0M262.1 223.1h0M312.0 165.2h0M274.3 215.8h0M264.5 181.3h0M278.7 171.2h0M312.9 164.8h0M285.6 197.9h0M258.1 211.1h0M263.9 224.2h0M317.5 221.2h0M264.0 198.9h0M277.5 190.9h0M250.3 218.7h0M312.5 162.7h0M281.1 196.5h0M295.0 217.7h0M269.0 209.4h0M314.8 205.3h0M316.5 168.7h0M259.6 212.1h0M263.6 216.5h0M283.1 190.6h0M291.7 226.6h0M303.5 214.1h0M286.6 220.9h0M270.8 201.6h0M252.6 224.4h0M288.5 176.4h0M283.8 185.4h0M288.9 223.6h0M256.7 218.8h0M300.4 211.0h0M268.9 204.1h0M319.8 185.4h0M291.4 227.1h0M315.9 197.1h0M310.9 198.7h0M284.1 212.5h0M308.1 210.4h0M285.7 179.4h0M316.2 209.6h0M311.7 200.4h0M254.8 222.2h0M305.0 211.5h0M271.9 192.0h0M321.1 170.0h0M261.9 211.8h0M258.6 225.3h0M273.5 177.3h0M309.2 173.7h0M297.6 227.6h0M316.6 204.3h0M315.9 168.5h0M316.0 215.9h0M314.9 220.4h0M266.3 220.5h0M296.9 226.4h0M290.1 215.0h0M304.4 204.6h0M303.3 202.6h0M294.4 227.9h0M294.4 226.9h0M300.1 205.8h0M295.4 215.0h0M271.8 220.9h0M288.8 179.5h0M306.2 209.2h0M319.1 193.3h0M274.0 212.4h0M313.0 171.2h0M283.7 207.9h0M287.5 206.8h0M310.5 161.7h0M305.6 208.2h0M288.3 186.1h0M293.0 202.2h0M287.6 183.9h0M310.7 205.0h0M312.4 171.7h0M322.0 225.4h0M268.3 196.9h0M300.0 222.5h0M264.9 216.4h0M321.8 164.6h0"/><path stroke="#23a0e5" d="M249.7 211.7h0M307.0 219.4h0M321.8 216.2h0M288.9 173.2h0M311.1 181.7h0M272.4 205.3h0M315.1 187.4h0M274.7 205.2h0M284.5 221.9h0M275.6 176.6h0M308.2 225.2h0M311.9 181.4h0M276.6 175.8h0M252.9 218.7h0M286.4 212.7h0M308.5 208.0h0M274.5 223.0h0M311.2 160.2h0M290.4 178.3h0M259.9 202.0h0M307.4 207.6h0M311.1 191.9h0M317.7 174.8h0M285.3 182.9h0M254.0 202.5h0M269.9 217.1h0M306.4 172.8h0M260.5 226.3h0M289.0 200.1h0M314.0 169.4h0M270.0 205.5h0M305.4 214.5h0M305.9 163.5h0M251.0 200.5h0M308.6 181.3h0M308.8 193.0h0M278.1 176.5h0M260.5 202.7h0M302.2 205.8h0M282.6 221.6h0M300.5 201.4h0M283.2 227.9h0M254.9 196.2h0M298.5 193.7h0M321.2 225.6h0M278.5 192.3h0M303.2 192.6h0M318.1 211.7h0M293.1 195.2h0M293.1 221.8h0M282.7 170.1h0M281.0 188.8h0M313.8 227.7h0M300.6 188.6h0M305.7 180.1h0M321.9 181.3h0M282.5 213.6h0M312.0 164.2h0M253.8 218.1h0M295.4 215.8h0M320.0 223.6h0M293.7 222.7h0M252.8 211.2h0M265.6 219.6h0M297.5 193.4h0M315.3 214.3h0M270.4 183.2h0M264.3 223.3h0M310.0 191.4h0M315.2 223.8h0M319.0 175.9h0M266.5 213.7h0M245.8 219.8h0M256.7 213.3h0M316.3 212.6h0M285.8 203.4h0M317.1 167.2h0M306.4 176.9h0M318.9 209.2h0M269.4 201.9h0M298.2 170.6h0M259.5 200.3h0M315.1 219.3h0M284.2 180.8h0M275.3 196.7h0M259.9 215.2h0M254.8 200.5h0M312.0 216.0h0M267.7 210.6h0M319.8 196.8h0M284.8 201.1h0M280.6 172.2h0M300.5 179.7h0M312.0 185.0h0M299.0 198.2h0M290.5 216.8h0M314.5 204.2h0M304.8 216.1h0M295.7 219.3h0M271.1 206.7h0M300.8 203.8h0M272.3 194.5h0M243.3 226.1h0M290.1 196.1h0M313.2 226.4h0M308.2 164.0h0"/><path stroke="#20a5e3" d="M317.6 178.8h0M317.1 185.1h0M292.9 189.4h0M293.6 214.5h0M264.0 191.8h0M310.8 163.2h0M279.0 197.0h0M311.4 222.4h0M306.8 201.4h0M276.0 224.0h0M315.7 186.0h0M277.9 185.6h0M319.4 191.3h0M313.9 210.9h0M305.4 191.5h0M296.3 189.4h0M320.2 172.3h0M292.5 204.5h0M295.0 187.9h0M288.6 221.1h0M267.2 185.8h0M288.6 187.1h0M272.4 206.4h0M266.5 223.7h0M287.4 204.4h0M295.5 200.6h0M307.5 219.8h0M310.0 190.9h0M284.1 174.3h0M294.0 208.1h0M253.5 211.3h0M263.5 197.4h0M313.2 224.2h0M312.7 183.9h0M303.3 165.2h0M262.8 224.3h0M311.7 194.1h0M272.8 206.3h0M316.8 160.9h0M279.7 216.8h0M318.3 172.9h0M280.2 223.5h0M319.5 176.2h0M316.8 214.0h0M319.6 199.5h0M307.3 195.5h0M290.6 194.9h0M321.6 163.8h0M286.1 181.0h0M282.3 183.8h0M281.6 192.3h0M301.0 190.0h0M312.6 213.8h0M298.3 177.4h0M287.4 189.0h0M272.8 182.1h0M315.5 186.7h0M293.0 189.4h0M263.4 215.7h0M312.6 164.4h0M304.5 196.6h0M281.0 201.6h0M305.6 185.6h0M264.7 193.4h0M273.6 175.6h0M313.8 225.3h0M315.6 190.5h0M306.9 223.1h0M308.9 182.8h0M309.7 219.2h0M319.4 205.1h0M264.0 182.6h0M250.0 216.9h0M305.5 167.1h0M268.3 204.6h0M263.5 210.9h0M301.7 184.1h0M287.9 174.5h0M266.2 205.2h0M251.6 204.5h0M281.5 172.9h0M302.9 177.9h0M277.0 187.2h0M311.4 173.8h0M280.1 174.8h0M309.6 161.2h0M286.9 199.5h0M301.8 184.6h0M266.9 211.9h0M280.3 187.7h0M321.2 197.7h0M270.3 212.1h0M321.2 193.6h0M321.4 194.6h0M280.3 185.4h0M297.2 221.4h0"/><path stroke="#1ca9df" d="M317.0 217.7h0M287.7 217.5h0M302.2 164.4h0M257.4 208.9h0M274.9 176.4h0M283.1 222.1h0M284.3 195.8h0M262.7 184.1h0M293.0 214.5h0M255.7 209.5h0M256.9 215.0h0M310.1 196.8h0M300.1 221.3h0M321.7 199.5h0M295.3 179.5h0M301.9 164.3h0M262.3 213.4h0M301.1 169.4h0M311.2 217.4h0M265.5 184.1h0M247.9 216.8h0M303.0 223.0h0M281.7 221.5h0M290.4 175.0h0M270.6 196.8h0M265.5 189.0h0M292.3 178.8h0M297.6 187.1h0M267.6 205.0h0M302.6 190.1h0M261.3 205.8h0M305.8 219.0h0M309.5 173.8h0M282.4 218.7h0M279.1 179.5h0M309.9 165.9h0M280.5 223.7h0M280.7 169.9h0M314.2 166.4h0M275.0 219.7h0M255.2 201.4h0M265.4 209.9h0M271.3 225.5h0M258.1 196.2h0M276.5 200.5h0M320.2 183.9h0M280.9 185.2h0M288.2 190.3h0M292.2 201.3h0M308.8 216.7h0M284.4 183.4h0M321.5 170.9h0M297.9 185.3h0M317.5 194.1h0M321.9 208.1h0M269.2 180.8h0M252.0 226.4h0M302.2 210.9h0M286.3 226.6h0M272.1 205.1h0M312.6 196.2h0M293.2 180.5h0M310.3 219.8h0M258.8 207.3h0M289.9 225.9h0M321.6 181.5h0M273.6 222.2h0M293.4 201.4h0M315.8 161.4h0M261.3 192.7h0M281.1 184.5h0M285.6 172.2h0M317.5 225.1h0M247.6 212.8h0M322.2 186.6h0M296.0 173.9h0M266.7 184.4h0M308.1 213.1h0M277.2 207.7h0M312.4 224.5h0M275.3 211.0h0M284.0 179.9h0M291.8 171.0h0M280.0 192.7h0M310.2 184.7h0M284.3 206.7h0M299.5 206.0h0M286.4 198.9h0M282.5 209.5h0"/><path stroke="#18addb" d="M312.3 214.5h0M257.7 202.8h0M272.7 175.9h0M268.1 222.9h0M280.7 175.4h0M311.4 223.5h0M290.0 168.7h0M260.1 224.9h0M294.9 177.4h0M266.4 222.8h0M300.9 182.7h0M299.2 179.0h0M294.7 171.1h0M321.3 161.3h0M280.7 225.5h0M312.4 210.5h0M302.1 174.0h0M261.8 193.8h0M319.9 176.2h0M299.2 174.4h0M271.5 187.3h0M277.5 224.9h0M272.3 210.3h0M247.2 212.6h0M277.4 212.7h0M304.2 165.0h0M302.9 217.0h0M283.4 226.1h0M310.5 184.5h0M279.7 213.3h0M271.8 215.7h0M317.6 197.3h0M300.9 215.3h0M316.7 218.0h0M308.1 183.6h0M318.2 199.6h0M312.3 196.0h0M262.1 204.7h0M318.8 162.1h0M319.3 197.5h0M312.1 219.3h0M261.4 218.9h0M293.9 171.9h0M255.3 222.2h0M306.5 188.5h0M298.3 221.3h0M304.0 163.7h0M308.0 164.9h0M296.2 200.2h0M316.7 176.3h0M268.3 201.9h0M282.1 226.3h0M308.8 184.0h0M271.9 180.2h0M319.7 215.0h0M290.9 184.7h0M266.8 212.8h0M303.6 205.4h0M285.8 172.3h0M316.0 166.5h0M322.0 158.9h0M277.2 226.9h0M315.0 180.0h0M292.9 205.2h0M314.7 205.2h0M276.7 204.4h0M289.7 213.9h0M269.8 221.0h0M298.4 177.4h0M260.7 202.9h0M313.1 173.3h0M306.5 178.9h0M293.4 207.3h0M307.9 210.9h0M302.5 166.3h0M281.1 179.1h0M288.9 173.2h0M269.8 213.9h0M251.0 227.6h0M320.8 179.4h0M242.6 227.6h0M293.7 213.2h0M293.0 188.7h0M299.6 226.6h0M256.0 206.8h0M322.5 200.5h0M304.9 205.2h0M287.0 210.5h0M278.1 183.3h0M306.8 162.4h0M317.5 164.6h0M244.3 224.3h0M302.9 181.0h0M261.2 192.8h0M305.1 169.8h0M305.9 178.3h0M302.2 196.8h0"/><path stroke="#12b1d6" d="M287.9 182.9h0M255.0 215.4h0M278.5 174.7h0M249.9 211.0h0M290.1 174.6h0M322.4 159.8h0M261.1 224.5h0M272.7 180.0h0M303.5 163.6h0M315.9 222.0h0M279.7 178.7h0M298.6 165.8h0M293.9 168.9h0M276.9 187.8h0M267.9 189.9h0M297.4 184.6h0M268.1 212.2h0M253.0 222.1h0M271.1 217.3h0M262.4 186.7h0M301.6 219.8h0M306.1 169.0h0M289.2 210.7h0M301.4 204.5h0M319.1 223.5h0M306.7 219.7h0M300.3 182.4h0M316.8 168.2h0M305.2 179.2h0M309.1 190.7h0M266.9 191.2h0M298.7 187.4h0M309.0 189.7h0M246.6 216.2h0M249.1 215.5h0M301.7 198.1h0M257.2 189.8h0M281.6 220.1h0M269.0 197.5h0M251.2 198.4h0M310.8 222.8h0M255.8 216.5h0M267.0 221.8h0M314.5 176.4h0M281.7 183.6h0M254.3 202.2h0M296.1 171.7h0M313.3 172.1h0M272.1 172.7h0M274.9 190.1h0M310.9 158.8h0M275.9 184.8h0M312.2 226.2h0M270.8 193.3h0M294.9 197.4h0M283.2 180.1h0M322.4 162.3h0M296.3 175.4h0M251.4 196.1h0M256.2 214.2h0M320.9 168.6h0M265.8 194.1h0M308.7 167.8h0M303.8 215.1h0M266.2 223.2h0M276.5 225.5h0M274.1 203.3h0M262.8 227.6h0M273.4 181.6h0M321.5 182.3h0M264.4 182.6h0M277.3 184.6h0M267.1 184.6h0M288.9 174.7h0M315.9 204.0h0M265.6 180.6h0M247.8 212.9h0M289.9 220.0h0M280.6 188.2h0M248.0 217.0h0M274.6 184.4h0M243.6 227.3h0"/><path stroke="#08b5d0" d="M309.1 227.1h0M314.8 218.0h0M300.0 205.2h0M288.8 187.5h0M296.2 168.6h0M266.4 219.2h0M316.3 198.6h0M302.0 221.9h0M248.7 219.1h0M275.2 222.7h0M319.1 217.4h0M269.7 178.8h0M297.6 201.3h0M283.0 205.3h0M254.5 209.0h0M295.9 163.7h0M284.4 220.5h0M285.4 195.0h0M305.3 218.8h0M262.5 193.4h0M292.9 219.9h0M317.7 181.2h0M298.0 218.9h0M281.2 186.0h0M297.7 163.7h0M266.1 208.6h0M284.0 218.2h0M258.7 200.5h0M276.8 174.5h0M307.3 180.4h0M305.2 203.8h0M252.1 221.1h0M258.9 215.9h0M266.1 212.0h0M259.8 225.2h0M315.1 215.2h0M290.6 220.3h0M307.6 176.4h0M311.3 184.9h0M297.8 174.9h0M278.2 212.1h0M303.2 178.4h0M263.6 195.6h0M278.2 205.6h0M289.6 193.9h0M317.0 181.4h0M247.8 216.5h0M271.1 177.6h0M313.7 199.8h0M316.9 202.3h0M322.2 180.9h0M253.6 205.3h0M302.3 192.3h0M251.5 196.7h0M290.7 200.8h0M314.5 207.6h0M283.5 203.3h0M253.8 204.7h0M314.3 199.8h0M271.2 227.2h0M318.5 167.6h0M246.3 210.3h0M242.9 227.0h0M270.1 204.2h0M261.6 195.4h0M282.4 184.0h0M277.7 217.6h0M291.1 191.5h0M312.9 226.8h0M308.8 175.3h0M284.8 211.6h0"/><path stroke="#01b8ca" d="M294.3 184.9h0M321.4 159.8h0M310.5 184.2h0M309.2 208.7h0M289.0 225.3h0M313.9 171.5h0M313.9 226.4h0M298.5 191.1h0M255.4 201.8h0M291.9 184.5h0M272.7 177.2h0M251.5 207.1h0M288.8 181.9h0M291.7 196.3h0M288.0 211.5h0M317.7 194.0h0M320.4 209.8h0M291.4 177.4h0M271.8 217.5h0M312.4 160.3h0M294.9 187.3h0M276.8 183.9h0M315.7 158.3h0M249.9 202.0h0M300.9 167.9h0M252.2 196.2h0M304.1 183.1h0M315.6 214.1h0M282.8 201.0h0M258.5 215.1h0M273.8 177.6h0M306.7 206.6h0M306.7 221.1h0M297.4 177.9h0M251.7 211.0h0M291.8 227.4h0M316.2 200.1h0M250.6 209.3h0M288.2 193.4h0M286.6 169.3h0M259.6 224.9h0M276.7 187.5h0M249.3 203.2h0M261.9 192.4h0M247.8 209.5h0M295.0 201.1h0M317.7 189.6h0M297.2 208.2h0M305.1 226.2h0M284.2 184.3h0M308.9 218.5h0M285.8 204.1h0M274.5 177.1h0M310.6 174.9h0M258.4 214.4h0M278.1 215.1h0M275.4 182.5h0M302.3 178.5h0M296.6 194.0h0M252.3 195.2h0M316.7 206.6h0M313.8 216.9h0M245.5 226.1h0M307.0 212.1h0M250.5 224.7h0M264.2 192.7h0M310.0 168.5h0M287.5 166.5h0M278.1 216.6h0M287.5 188.0h0M317.0 205.7h0M306.2 202.6h0M303.0 191.7h0M291.9 184.7h0M257.4 211.1h0M257.4 222.9h0M319.1 190.1h0M300.2 216.6h0M318.7 173.7h0M320.2 173.4h0M305.5 181.8h0M249.0 213.5h0M289.2 213.1h0"/><path stroke="#02bac3" d="M254.5 213.0h0M243.3 223.2h0M299.2 194.5h0M280.5 205.3h0M269.6 201.8h0M304.4 211.0h0M320.8 172.3h0M292.8 163.0h0M304.6 217.9h0M302.7 195.0h0M294.3 209.3h0M318.7 177.3h0M315.2 209.7h0M272.6 222.7h0M292.2 190.5h0M296.3 200.6h0M264.4 180.9h0M322.2 156.7h0M300.0 216.7h0M295.3 174.9h0M273.9 184.8h0M291.3 217.0h0M277.7 225.3h0M293.5 217.7h0M321.0 172.0h0M296.4 201.7h0M284.5 225.9h0M314.0 197.1h0M249.2 205.4h0M264.1 195.3h0M256.6 219.5h0M268.9 203.7h0M298.2 172.9h0M274.2 210.2h0M274.0 190.9h0M313.3 221.6h0M277.9 222.0h0M259.1 221.4h0M321.1 198.4h0M311.3 223.6h0M251.4 201.6h0M265.4 192.3h0M280.5 210.3h0M279.3 193.4h0M295.1 209.6h0M272.3 174.8h0M284.7 187.0h0M249.0 215.6h0M280.0 205.6h0M287.6 178.9h0M306.2 163.2h0M305.0 203.8h0M296.3 201.9h0M257.2 226.1h0M271.9 191.7h0M305.0 224.6h0M315.7 226.7h0"/><path stroke="#0bbdbc" d="M251.7 213.9h0M254.5 193.6h0M254.2 219.0h0M250.8 227.6h0M312.6 164.3h0M254.6 226.1h0M289.8 194.4h0M303.4 190.0h0M261.9 181.8h0M281.7 170.2h0M241.6 225.7h0M282.4 195.6h0M250.1 208.3h0M292.7 192.6h0M280.3 172.2h0M288.3 201.5h0M296.9 168.1h0M290.3 164.7h0M268.5 214.6h0M312.1 180.3h0M293.6 165.8h0M282.1 189.0h0M287.6 204.5h0M264.6 182.1h0M311.6 173.9h0M246.5 215.1h0M298.1 210.4h0M298.7 192.4h0M263.8 192.6h0M313.2 184.6h0M296.6 191.4h0M259.2 221.8h0M310.8 211.7h0M274.7 198.6h0M321.7 203.0h0M295.1 216.3h0M265.2 182.5h0M302.7 171.5h0M321.1 165.7h0M290.3 214.9h0M257.7 214.3h0M284.0 167.7h0M288.9 208.8h0M242.8 223.0h0M278.5 191.9h0M291.7 178.3h0M270.2 179.5h0M322.3 226.7h0M318.3 187.3h0"/><path stroke="#19bfb5" d="M312.4 209.2h0M291.8 211.5h0M255.7 202.7h0M274.5 182.5h0M273.0 193.9h0M255.9 190.0h0M262.0 211.7h0M293.1 227.5h0M297.7 177.5h0M294.8 185.1h0M275.1 215.2h0M303.0 164.1h0M242.6 226.9h0M293.9 221.9h0M299.2 227.2h0M303.0 175.1h0M316.5 162.1h0M313.4 182.8h0M310.6 188.7h0M262.5 181.7h0M293.3 184.7h0M274.3 179.6h0M322.4 188.6h0M249.5 201.0h0M321.4 180.1h0M291.6 210.9h0M266.9 175.2h0M253.6 196.9h0M241.9 226.4h0M283.8 175.9h0M249.6 205.2h0M289.8 199.6h0M243.5 222.8h0M245.2 212.2h0M243.5 219.6h0M309.5 183.6h0M321.2 197.1h0M252.8 220.9h0M320.6 170.9h0M283.0 167.7h0M292.6 187.6h0M308.3 206.7h0M294.6 183.6h0M291.5 179.5h0M243.5 224.6h0M318.2 213.3h0M311.9 161.7h0M309.5 163.3h0M312.8 212.5h0"/><path stroke="#24c1ae" d="M256.9 194.0h0M275.2 174.0h0M318.0 167.8h0M260.4 198.5h0M305.4 162.3h0M250.6 214.6h0M303.3 190.9h0M308.3 216.9h0M265.6 178.6h0M266.0 214.1h0M259.4 194.5h0M255.2 194.3h0M303.0 164.4h0M320.7 202.3h0M322.1 164.3h0M282.4 168.0h0M250.0 205.8h0M268.2 187.4h0M281.1 168.4h0M298.5 187.7h0M292.7 200.2h0M257.3 197.3h0M248.1 202.4h0M273.9 225.8h0M293.6 164.9h0M254.6 202.3h0M296.6 222.9h0M320.2 176.0h0M270.1 178.6h0M288.3 202.9h0M318.7 170.5h0M314.9 192.7h0M282.1 219.9h0M285.2 195.4h0M267.4 204.2h0"/><path stroke="#2cc4a6" d="M294.2 164.0h0M299.8 191.4h0M296.0 186.1h0M277.0 181.9h0M259.4 194.7h0M308.7 177.7h0M256.9 191.0h0M297.2 175.3h0M263.3 182.0h0M264.9 209.7h0M318.8 190.5h0M250.1 226.6h0M254.7 227.3h0M312.2 206.6h0M276.7 181.6h0M295.5 180.2h0M265.3 219.0h0M297.0 162.2h0M303.1 165.0h0M295.1 166.8h0M251.9 196.0h0M287.9 212.2h0M298.6 162.2h0M289.3 163.4h0M256.6 187.8h0M307.4 208.7h0M253.8 198.8h0"/><path stroke="#31c69f" d="M256.6 190.0h0M265.7 200.6h0M299.1 172.2h0M285.0 172.3h0M273.3 216.2h0M244.7 224.4h0M249.0 198.5h0M276.5 215.4h0M262.2 201.1h0M262.4 199.1h0M258.7 186.5h0M284.1 177.5h0M283.9 169.4h0M309.8 223.7h0M314.2 211.6h0M293.7 183.1h0"/><path stroke="#37c897" d="M302.3 198.2h0M257.5 223.3h0M268.7 182.4h0M283.8 186.2h0M247.4 213.6h0M261.6 180.5h0M244.9 217.5h0M278.7 202.5h0M286.6 169.3h0M281.1 210.3h0M280.9 221.5h0M248.3 210.9h0M247.6 227.8h0M316.3 174.1h0M301.1 161.3h0M268.8 179.8h0M319.0 221.8h0M250.4 199.0h0M298.5 189.3h0M318.9 160.2h0"/><path stroke="#3fca8e" d="M291.9 164.5h0M244.6 217.0h0M280.1 170.2h0M260.1 185.9h0M278.3 197.0h0M271.2 177.5h0M253.1 191.7h0M243.8 219.2h0M246.3 210.9h0M251.0 220.9h0M312.4 158.2h0M294.2 187.8h0M246.9 223.9h0M319.2 224.9h0M253.6 195.5h0M264.3 184.8h0M265.4 207.3h0M260.8 183.9h0M305.8 218.0h0M312.8 159.0h0M268.3 175.7h0M290.1 206.4h0M320.9 207.8h0M256.4 224.5h0"/><path stroke="#4acb84" d="M247.7 202.9h0M321.0 156.3h0M241.9 224.7h0M258.8 187.0h0M286.0 184.2h0M285.1 168.4h0M321.7 185.6h0M249.7 201.5h0M264.5 226.5h0M317.6 170.7h0M321.7 178.4h0M246.9 206.5h0M250.5 195.7h0M253.8 193.3h0"/><path stroke="#57cc7a" d="M243.2 220.4h0M288.4 165.1h0M255.8 192.2h0M275.0 172.2h0M291.5 165.1h0M286.9 212.1h0M295.4 205.2h0M290.3 163.5h0M284.0 226.3h0"/><path stroke="#64cd6f" d="M295.0 215.7h0M248.1 222.4h0M283.4 196.8h0M296.1 162.4h0M264.7 180.8h0"/><path stroke="#72cd64" d="M256.4 188.5h0M242.3 221.8h0M242.6 220.3h0M287.4 164.6h0M245.2 209.2h0M277.8 170.8h0M318.2 158.2h0M246.1 208.4h0M269.7 190.7h0M280.8 167.1h0M265.1 176.9h0"/><path stroke="#81cc59" d="M246.0 206.6h0"/><path stroke="#8fcb4e" d="M243.4 217.1h0M268.2 185.0h0M252.4 191.9h0M269.5 173.0h0M297.3 161.6h0M257.1 186.5h0M254.9 190.5h0M240.6 226.1h0M288.6 163.7h0"/><path stroke="#9dc943" d="M263.8 177.3h0M280.5 167.1h0M263.6 177.6h0"/><path stroke="#abc739" d="M259.4 183.6h0M267.8 176.1h0M268.8 174.7h0M295.9 163.6h0"/><path stroke="#b9c431" d="M294.3 162.6h0M293.9 162.6h0M306.4 158.9h0"/><path stroke="#c5c22a" d="M255.8 187.0h0M294.2 161.9h0M248.9 203.4h0M243.5 223.3h0"/><path stroke="#d1bf27" d="M289.7 163.5h0M299.5 163.7h0M248.7 199.7h0"/><path stroke="#dcbd29" d="M251.0 200.5h0M269.1 173.5h0"/><path stroke="#e6bb2d" d="M274.9 169.7h0M253.7 189.1h0"/><path stroke="#f8ba3d" d="M248.3 202.1h0"/><path stroke="#4537d5" d="M311.3 190.6h0"/><path stroke="#463cde" d="M313.2 175.8h0"/><path stroke="#4741e5" d="M269.6 205.9h0M310.6 222.1h0M282.0 195.4h0M302.1 208.0h0M317.3 182.9h0M309.4 214.7h0"/><path stroke="#4747eb" d="M320.1 191.2h0M313.3 223.9h0M256.9 208.5h0"/><path stroke="#484df0" d="M306.2 218.5h0M302.6 177.3h0M298.8 184.6h0M260.8 210.7h0M290.7 217.3h0M269.5 187.1h0M262.1 205.0h0"/><path stroke="#4852f4" d="M255.3 206.2h0M293.0 182.6h0M283.3 214.3h0M306.5 167.1h0M269.3 222.8h0M291.2 204.1h0M305.2 165.8h0M316.3 185.2h0M255.1 219.0h0"/><path stroke="#4758f8" d="M277.3 196.5h0M274.5 179.1h0M312.4 161.7h0M255.9 224.4h0M293.6 204.1h0M299.3 207.5h0M293.5 212.6h0M306.0 216.7h0M313.8 169.0h0M265.4 206.4h0M290.2 183.8h0M284.1 206.9h0M285.1 177.8h0M288.4 183.1h0M286.5 215.8h0M310.1 215.9h0M276.5 188.5h0M266.3 214.4h0M285.8 212.0h0"/><path stroke="#465efb" d="M285.6 182.4h0M298.6 200.8h0M303.1 190.0h0M279.0 192.3h0M315.9 215.7h0M297.4 218.1h0M301.0 205.5h0M274.8 196.5h0M319.2 217.0h0M316.2 198.3h0M259.2 206.6h0M301.8 168.2h0"/><path stroke="#4563fd" d="M269.9 220.5h0M306.2 193.2h0M281.2 209.4h0M293.4 208.5h0M259.6 202.7h0M259.0 196.5h0M274.1 199.6h0M289.2 201.3h0M293.1 198.8h0M305.5 169.1h0M317.3 191.7h0M250.1 222.8h0M286.8 174.7h0M270.0 225.0h0M295.8 213.2h0M315.1 191.8h0M261.9 212.7h0M315.9 201.9h0M304.8 190.3h0M319.2 219.9h0M312.2 180.8h0M248.6 213.0h0M299.7 181.2h0M295.1 181.6h0M289.9 211.4h0M307.1 198.6h0"/><path stroke="#4269fe" d="M307.8 208.6h0M322.3 167.5h0M320.4 192.2h0M297.5 223.5h0M262.9 214.4h0M320.7 180.0h0M312.4 185.0h0M294.8 171.8h0M294.8 211.4h0M261.6 209.9h0M301.0 188.3h0M322.5 165.6h0M272.1 208.5h0M300.6 185.0h0M321.8 202.6h0M279.2 183.2h0M254.7 227.0h0M287.6 180.3h0M284.0 177.2h0M296.7 214.4h0M301.3 222.7h0M308.2 168.6h0M306.7 212.3h0M269.3 194.7h0M273.1 213.0h0M256.7 210.3h0M251.8 225.7h0"/><path stroke="#3e6fff" d="M309.4 178.3h0M316.3 188.7h0M297.3 208.2h0M309.4 198.7h0M278.6 204.7h0M269.3 223.5h0M294.4 177.2h0M293.0 189.7h0M304.3 177.3h0M295.5 190.7h0M315.3 218.2h0M277.1 201.4h0M296.6 201.8h0M284.1 192.6h0M319.8 182.8h0M306.8 166.1h0M269.0 215.3h0M265.2 188.2h0M301.4 218.3h0M279.0 206.9h0M250.4 211.3h0M291.3 209.6h0M318.9 196.2h0M314.1 224.2h0M303.5 209.4h0M281.6 181.6h0M303.7 212.6h0M289.6 210.3h0M316.8 215.2h0M308.3 212.0h0M271.8 221.1h0M299.2 209.2h0M315.5 197.8h0M291.4 198.3h0"/><path stroke="#3875fe" d="M298.4 186.9h0M279.9 175.1h0M299.6 167.3h0M297.3 168.5h0M295.7 213.7h0M307.6 175.5h0M310.6 201.9h0M302.1 196.6h0M281.1 179.4h0M303.9 166.1h0M300.7 183.0h0M289.5 200.3h0M258.0 204.9h0M321.2 208.2h0M311.1 192.5h0M301.4 227.4h0M288.6 224.3h0M269.9 227.9h0M289.9 219.9h0M319.6 191.1h0M313.6 206.4h0M262.7 190.8h0M313.8 212.6h0M299.7 204.2h0M321.0 175.4h0M282.6 220.4h0M259.3 196.2h0M299.5 217.2h0M287.1 169.6h0M258.3 201.3h0M318.3 176.5h0M300.3 167.8h0M317.4 168.9h0M312.0 177.9h0M288.0 171.4h0M319.1 186.3h0M264.7 201.3h0"/><path stroke="#327cfc" d="M292.0 215.8h0M291.6 176.2h0M310.7 198.0h0M309.4 169.8h0M287.4 184.3h0M275.5 211.6h0M268.3 184.5h0M262.0 201.2h0M281.3 203.2h0M304.3 188.0h0M312.9 195.5h0M276.3 193.8h0M300.3 198.7h0M279.6 227.7h0M318.2 203.8h0M312.8 220.4h0M295.9 170.2h0M266.9 222.0h0M307.0 220.7h0M308.3 166.8h0M319.1 187.0h0M322.5 168.0h0M283.9 169.6h0M314.4 215.3h0M289.1 195.3h0M265.8 193.4h0M306.5 202.8h0M302.0 221.7h0M268.8 197.7h0M254.2 206.5h0M295.0 188.4h0M277.0 195.5h0M283.1 184.0h0M310.6 195.0h0M276.9 224.1h0M292.4 186.7h0M273.7 209.8h0M303.4 204.4h0M296.2 206.2h0M297.9 225.1h0M285.7 204.5h0M310.3 207.5h0M319.5 167.9h0M257.9 192.8h0M295.3 210.0h0M279.4 179.6h0M278.2 208.5h0"/><path stroke="#2f81fa" d="M306.3 205.1h0M299.6 206.1h0M308.5 210.3h0M288.8 177.9h0M297.8 168.6h0M257.0 211.8h0M295.7 179.6h0M266.2 201.5h0M314.5 227.9h0M295.1 205.4h0M321.8 167.5h0M275.3 204.9h0M281.1 219.2h0M288.3 172.8h0M284.1 176.6h0M295.5 196.5h0M264.7 200.0h0M273.3 206.7h0M312.9 199.1h0M272.4 201.0h0M277.2 197.5h0M301.2 204.3h0M283.1 209.0h0M278.1 174.9h0M310.6 226.3h0M314.2 191.4h0M297.4 226.4h0M303.2 195.6h0M282.0 201.1h0M303.1 211.2h0M282.8 174.9h0M261.3 225.2h0M309.8 178.9h0M273.7 210.3h0M288.7 174.4h0M281.1 180.3h0M318.7 211.1h0M305.9 190.1h0M298.1 208.2h0M301.5 180.3h0M305.6 171.0h0M306.8 190.1h0M256.1 203.6h0M315.3 194.6h0M277.6 225.6h0M300.2 191.2h0M285.6 211.2h0M263.3 206.3h0M269.0 227.2h0M244.3 220.1h0M284.7 175.3h0M316.7 185.8h0M256.8 213.6h0M298.7 196.8h0M297.9 173.3h0M310.1 184.9h0M296.2 184.4h0M265.4 208.0h0M267.9 205.3h0M303.0 199.3h0M296.4 227.1h0M267.6 221.7h0M249.5 225.3h0"/><path stroke="#2e87f7" d="M295.9 218.5h0M251.5 219.0h0M274.5 193.1h0M289.0 190.0h0M290.9 178.4h0M306.9 209.3h0M300.9 176.6h0M300.1 204.9h0M258.5 224.2h0M264.2 212.2h0M317.5 183.5h0M290.2 212.2h0M280.4 201.9h0M288.9 200.8h0M288.3 220.7h0M300.1 198.5h0M289.9 197.7h0M273.3 194.4h0M317.8 199.0h0M285.6 201.8h0M289.7 195.7h0M310.7 192.9h0M315.9 169.0h0M277.5 202.2h0M306.7 209.4h0M271.6 217.9h0M260.3 191.1h0M317.7 227.0h0M302.9 220.4h0M306.9 202.2h0M276.2 206.0h0M308.7 204.6h0M288.8 192.9h0M256.2 218.0h0M310.6 170.1h0M316.7 197.8h0M290.5 190.2h0M278.7 190.4h0M257.0 218.5h0M302.5 186.9h0M305.5 193.6h0M271.7 202.4h0M320.6 215.5h0M298.4 165.2h0M268.1 191.4h0M276.5 196.0h0M278.4 188.6h0M258.0 214.4h0M262.0 188.6h0M260.5 193.6h0M322.4 182.8h0M321.9 213.9h0M316.0 199.3h0M303.3 182.4h0M309.7 162.9h0M287.7 203.5h0M261.6 210.2h0M286.8 171.6h0M291.3 193.6h0M286.0 193.7h0M303.1 173.3h0M274.8 191.2h0M300.7 187.6h0M287.0 172.6h0M279.0 188.3h0M279.6 221.6h0M278.4 215.1h0M282.9 174.1h0M316.9 201.9h0M312.8 179.4h0M312.4 199.2h0M266.8 195.8h0M254.0 201.4h0M278.5 180.7h0M312.4 227.7h0M297.7 184.2h0M294.8 185.5h0M317.4 167.9h0M312.0 215.3h0M282.2 190.7h0M266.6 226.7h0"/><path stroke="#2d8cf3" d="M318.4 172.2h0M318.9 195.8h0M296.4 187.9h0M291.0 213.8h0M274.6 224.9h0M247.4 208.1h0M268.9 194.7h0M287.8 197.8h0M297.6 226.0h0M273.0 179.7h0M317.6 194.2h0M313.6 175.3h0M273.9 218.8h0M319.8 160.3h0M304.2 173.3h0M276.1 218.1h0M306.3 191.3h0M283.8 204.0h0M314.6 227.4h0M280.7 182.7h0M271.7 195.4h0M282.1 181.7h0M318.0 168.4h0M292.3 192.3h0M312.2 212.0h0M290.7 224.4h0M292.1 194.8h0M316.1 191.8h0M283.6 191.7h0M320.5 173.2h0M249.2 213.6h0M308.2 184.6h0M287.9 218.2h0M289.3 212.5h0M281.3 216.5h0M286.0 184.4h0M264.9 208.9h0M317.9 190.2h0M259.8 224.0h0M257.0 196.3h0M253.1 212.0h0M265.0 185.7h0M295.2 225.2h0M248.5 211.9h0M270.0 208.3h0M312.7 173.8h0M274.5 198.1h0M256.3 214.2h0M284.5 223.4h0M306.0 195.8h0M306.3 227.2h0M251.9 225.3h0M294.6 212.5h0M270.3 184.6h0M306.0 168.9h0M267.4 224.4h0M318.2 214.6h0M295.2 176.2h0M270.1 226.8h0M297.1 170.5h0M275.9 218.2h0M285.7 174.9h0M322.4 214.0h0M291.6 221.7h0M318.3 175.7h0M312.7 217.3h0M289.0 221.6h0"/><path stroke="#2b91ef" d="M304.3 201.6h0M301.2 181.2h0M260.2 204.8h0M280.7 193.1h0M317.0 207.8h0M319.2 213.7h0M278.8 219.3h0M307.6 194.8h0M254.1 216.9h0M282.3 188.4h0M303.6 167.1h0M289.2 205.3h0M258.6 188.6h0M284.6 215.8h0M319.8 165.8h0M283.3 186.9h0M301.7 218.1h0M307.0 197.6h0M311.3 199.1h0M318.2 177.9h0M321.2 177.4h0M321.4 187.0h0M317.6 223.4h0M303.4 171.1h0M320.2 216.8h0M275.2 224.7h0M291.4 193.8h0M319.8 195.7h0M263.5 212.1h0M274.8 217.8h0M273.0 224.9h0M283.9 204.4h0M312.1 183.0h0M307.7 196.1h0M276.8 209.9h0M252.4 208.1h0M312.1 186.1h0M308.0 188.2h0M312.1 192.6h0M278.6 222.1h0M306.4 186.3h0M277.0 175.7h0M321.1 207.1h0M271.9 205.8h0M273.5 199.3h0M293.4 216.2h0M309.1 183.2h0M306.2 185.9h0M301.2 227.3h0M271.4 200.2h0M316.7 190.2h0M261.2 220.6h0M284.6 192.1h0M296.1 207.8h0M303.2 175.4h0M276.2 198.5h0M320.8 226.5h0M246.8 222.1h0M302.0 197.2h0M315.8 201.1h0M262.7 223.6h0M301.8 226.2h0M283.8 205.3h0M281.3 224.3h0M306.5 182.8h0M294.0 185.8h0M317.5 216.8h0M293.9 221.4h0M294.8 195.0h0M317.3 220.3h0M248.6 225.2h0M315.1 219.9h0M321.5 176.5h0M294.6 170.6h0M284.4 188.7h0M294.2 206.8h0M297.0 197.2h0M274.7 178.6h0M308.1 218.9h0M286.9 199.3h0M273.2 202.3h0M262.0 200.7h0M309.6 169.6h0M310.0 213.9h0M285.7 184.0h0M287.7 207.8h0M278.3 204.0h0M309.8 210.0h0M249.0 213.7h0M279.5 182.1h0M289.3 177.5h0M284.5 184.4h0"/><path stroke="#2797eb" d="M262.1 194.4h0M284.1 197.1h0M273.2 179.1h0M279.3 182.3h0M262.7 221.6h0M303.3 209.9h0M321.8 211.0h0M274.5 200.5h0M303.9 207.9h0M298.2 201.7h0M309.3 199.2h0M258.9 224.6h0M265.9 196.9h0M288.5 219.4h0M292.8 227.1h0M301.5 225.2h0M285.4 210.1h0M272.5 192.9h0M291.1 214.6h0M252.5 204.8h0M290.2 227.3h0M279.2 223.8h0M288.4 198.5h0M281.2 181.6h0M306.6 173.1h0M274.5 196.0h0M274.6 225.1h0M266.1 223.0h0M312.9 192.3h0M253.3 206.8h0M273.0 218.8h0M282.4 223.1h0M272.2 193.0h0M298.6 223.3h0M273.1 220.6h0M266.0 207.4h0M257.8 227.8h0M319.7 226.4h0M272.1 222.5h0M267.8 190.0h0M297.3 193.9h0M309.6 214.9h0M289.2 191.3h0M270.5 194.1h0M301.9 187.8h0M281.7 179.3h0M264.5 212.7h0M248.8 206.3h0M308.6 190.7h0M282.3 220.9h0M316.6 196.5h0M307.5 192.1h0M300.7 206.2h0M297.9 191.0h0M304.2 224.9h0M260.5 207.9h0M305.2 198.2h0M278.6 207.3h0M299.8 188.6h0M257.1 205.7h0M256.1 203.7h0M288.4 205.7h0M305.0 182.5h0M271.4 215.8h0M295.4 190.2h0M291.0 196.2h0M312.7 206.8h0M282.8 184.4h0M300.7 177.7h0M295.0 175.3h0M256.0 200.2h0M317.9 201.4h0M258.5 201.5h0M313.2 207.8h0M275.8 217.1h0M317.5 216.1h0M279.6 207.1h0M297.7 192.3h0M278.7 197.8h0M273.2 223.5h0M316.0 218.6h0M288.1 209.1h0"/><path stroke="#259be8" d="M255.1 205.5h0M299.7 188.3h0M262.4 186.9h0M290.0 206.2h0M312.5 183.5h0M258.8 203.4h0M311.9 160.5h0M297.0 219.2h0M265.1 195.8h0M298.4 166.2h0M292.6 191.7h0M268.5 201.3h0M293.4 176.2h0M320.7 178.0h0M316.5 226.7h0M297.2 197.2h0M262.1 207.6h0M310.3 191.4h0M272.7 179.8h0M273.6 194.1h0M295.0 202.5h0M258.6 212.4h0M321.5 191.5h0M295.2 182.0h0M315.1 193.8h0M310.4 215.5h0M283.2 196.6h0M253.6 198.4h0M315.8 175.4h0M302.6 209.7h0M295.4 208.1h0M318.9 207.6h0M257.8 223.3h0M319.4 180.5h0M318.9 214.6h0M307.7 217.8h0M288.3 196.0h0M285.5 190.0h0M285.8 194.8h0M284.4 191.3h0M315.2 217.2h0M292.2 223.2h0M310.0 209.5h0M249.1 226.9h0M278.8 177.9h0M302.3 225.0h0M318.9 217.1h0M251.5 214.0h0M271.6 191.9h0M316.8 193.7h0M286.0 188.6h0M317.6 205.5h0M300.5 227.7h0M285.0 193.2h0M309.7 183.1h0M302.1 190.8h0M296.2 223.4h0M284.0 192.4h0M258.8 204.2h0M268.4 218.3h0M299.0 195.3h0M278.1 201.5h0M288.7 198.9h0M307.9 193.2h0M278.9 171.0h0M262.7 202.1h0M267.6 197.0h0M275.1 214.2h0M252.1 217.1h0M313.1 180.6h0M310.1 167.9h0M320.1 169.0h0M260.3 223.7h0M283.2 199.5h0M291.0 189.9h0M321.4 193.8h0M319.1 175.2h0M262.7 223.9h0M296.7 207.7h0M275.9 204.6h0M256.6 212.4h0M313.3 209.9h0M295.7 184.3h0M316.9 227.5h0M320.0 192.1h0M316.5 160.5h0M284.8 226.0h0M313.6 168.9h0M321.0 217.8h0M306.5 188.2h0M279.7 220.5h0M281.3 171.7h0M294.1 207.3h0M284.4 175.6h0M315.1 177.6h0M280.4 218.6h0M321.0 177.0h0"/><path stroke="#23a0e5" d="M320.2 207.7h0M305.9 219.4h0M303.4 226.7h0M275.4 189.4h0M286.9 178.1h0M268.4 219.8h0M286.1 203.5h0M302.7 225.1h0M256.8 222.6h0M281.5 190.1h0M297.8 173.8h0M282.9 180.8h0M299.3 167.0h0M316.4 204.3h0M249.8 212.9h0M305.8 198.4h0M260.5 197.1h0M299.8 180.5h0M243.3 223.5h0M293.0 204.7h0M311.0 207.0h0M301.2 226.1h0M310.3 188.1h0M294.6 169.0h0M308.5 220.9h0M283.6 220.0h0M293.1 203.3h0M249.5 205.5h0M313.3 200.7h0M291.9 197.7h0M281.5 219.7h0M293.2 180.9h0M308.7 177.4h0M311.0 220.7h0M264.0 225.8h0M297.1 210.2h0M321.5 195.1h0M306.7 206.1h0M302.7 227.5h0M290.7 184.5h0M310.3 188.3h0M262.8 213.6h0M285.5 181.9h0M277.7 197.9h0M264.9 207.1h0M285.9 212.3h0M261.2 209.3h0M283.2 217.6h0M305.8 165.5h0M260.3 220.8h0M319.4 167.2h0M252.6 223.9h0M299.8 176.9h0M316.5 219.7h0M298.5 171.9h0M292.1 225.8h0M286.8 207.2h0M306.9 224.3h0M300.2 219.0h0M287.5 170.6h0M312.0 178.2h0M310.6 170.8h0M313.9 169.5h0M274.2 198.2h0M311.1 165.0h0M281.2 205.8h0M303.4 169.3h0M280.4 226.3h0M246.3 219.8h0M299.2 174.1h0M296.1 176.3h0M302.8 208.0h0M302.3 218.4h0M308.6 212.4h0M294.8 215.8h0M304.4 202.3h0M313.3 184.2h0M288.5 184.0h0M295.9 179.7h0M279.7 213.2h0M264.5 190.0h0M254.5 211.1h0M299.9 180.4h0M295.9 212.2h0M276.5 219.5h0M301.9 184.1h0M313.4 182.1h0M308.8 168.7h0M299.9 210.1h0M318.4 187.7h0M288.2 180.6h0M315.5 223.9h0M256.2 204.2h0"/><path stroke="#20a5e3" d="M278.9 204.1h0M274.0 218.7h0M285.8 209.7h0M252.4 227.9h0M250.3 209.7h0M252.8 210.9h0M306.2 162.3h0M262.6 227.6h0M291.1 204.7h0M315.7 226.6h0M250.8 213.8h0M283.9 222.7h0M265.2 203.4h0M292.5 194.5h0M313.0 210.3h0M299.8 211.4h0M322.0 197.9h0M300.0 225.4h0M306.8 203.3h0M252.0 202.4h0M263.0 208.9h0M259.7 220.3h0M299.8 191.0h0M261.9 190.5h0M268.7 209.2h0M298.5 170.0h0M287.2 219.3h0M297.4 219.8h0M273.6 178.2h0M290.1 213.0h0M307.4 221.7h0M254.6 227.8h0M284.1 175.7h0M259.0 197.0h0M254.3 216.9h0M292.2 182.9h0M275.7 180.4h0M277.6 172.9h0M265.2 222.5h0M303.1 172.1h0M297.7 222.9h0M284.3 219.8h0M245.6 223.3h0M302.9 189.3h0M273.0 196.3h0M319.7 158.3h0M290.6 212.8h0M311.3 174.1h0M305.0 163.9h0M312.4 178.8h0M302.4 173.3h0M290.1 221.9h0M315.5 222.1h0M317.7 189.6h0M254.4 213.8h0M266.6 216.5h0M281.6 190.9h0M311.9 211.1h0M295.5 170.7h0M273.9 198.5h0M320.2 162.6h0M269.6 211.2h0M296.2 221.7h0M315.2 215.9h0M269.5 213.2h0M287.3 216.0h0M275.2 223.5h0M259.3 218.8h0M266.6 185.6h0M312.4 162.5h0M305.6 181.9h0M253.8 195.9h0M250.5 221.2h0M316.9 206.9h0M284.8 215.2h0M316.9 188.9h0M263.1 192.4h0M318.1 193.1h0M317.6 203.4h0M310.0 194.5h0M308.1 200.5h0M257.4 215.7h0"/><path stroke="#1ca9df" d="M286.5 169.0h0M257.0 188.3h0M291.0 226.6h0M278.6 202.6h0M252.3 203.0h0M263.0 214.3h0M285.5 190.6h0M261.0 224.1h0M313.6 175.5h0M321.9 183.2h0M247.7 222.9h0M320.8 227.8h0M260.2 200.7h0M305.0 212.3h0M280.1 216.6h0M288.5 188.9h0M251.5 203.3h0M282.1 210.3h0M310.2 216.0h0M269.4 205.9h0M312.8 163.6h0M258.3 207.3h0M245.0 222.7h0M309.3 201.2h0M303.2 161.7h0M257.5 222.8h0M275.5 198.3h0M296.1 164.0h0M306.5 213.5h0M305.8 179.2h0M299.1 199.0h0M274.7 215.0h0M303.4 209.8h0M316.6 225.3h0M294.1 185.6h0M274.4 222.6h0M269.1 215.4h0M286.4 185.7h0M259.9 204.1h0M274.9 186.0h0M313.1 187.9h0M263.8 196.7h0M294.2 206.4h0M308.5 171.0h0M318.7 204.6h0M293.9 167.6h0M295.5 189.9h0M254.6 211.3h0M272.7 179.3h0M307.9 215.3h0M258.5 187.0h0M301.4 176.9h0M276.0 203.6h0M259.7 225.0h0M276.1 206.3h0M310.9 207.1h0M254.9 209.7h0M283.0 191.3h0M245.1 222.5h0M315.7 219.6h0M276.0 198.1h0M259.7 190.1h0M321.6 203.0h0M313.1 182.6h0M295.9 198.2h0M305.7 180.1h0M291.2 208.8h0M263.8 217.8h0M322.5 222.2h0M303.6 196.8h0M303.5 186.6h0M278.6 190.8h0M276.1 226.1h0"/><path stroke="#18addb" d="M304.1 168.6h0M289.8 209.2h0M263.8 191.1h0M272.6 201.3h0M265.3 197.7h0M311.3 189.5h0M267.9 225.8h0M289.0 174.3h0M273.1 201.0h0M312.0 166.1h0M294.4 192.0h0M260.1 205.8h0M321.3 225.9h0M294.3 205.6h0M259.8 213.3h0M311.3 189.2h0M316.3 159.6h0M316.9 165.9h0M250.5 199.3h0M285.5 190.8h0M296.1 195.8h0M312.3 223.2h0M308.4 220.0h0M297.6 205.7h0M284.6 185.9h0M290.1 196.1h0M266.5 217.2h0M265.3 204.6h0M322.0 194.3h0M271.6 216.2h0M283.3 185.9h0M313.6 171.9h0M297.6 223.3h0M255.2 223.2h0M259.7 186.1h0M321.2 227.1h0M253.4 216.7h0M259.1 200.0h0M285.1 190.3h0M282.6 224.6h0M252.1 221.0h0M293.8 223.1h0M290.4 193.6h0M276.0 225.5h0M298.0 210.9h0M319.8 220.5h0M261.6 222.0h0M265.2 206.3h0M317.2 214.3h0M250.9 203.4h0M308.7 207.1h0M251.4 206.3h0M270.4 199.3h0M297.2 182.4h0M259.4 188.4h0M300.0 186.2h0M283.7 216.2h0M261.1 185.4h0M290.5 225.9h0M297.9 192.2h0M276.3 222.1h0M245.6 223.3h0M313.6 215.5h0M298.0 171.7h0M318.5 166.5h0M321.6 211.1h0M299.8 192.5h0M302.8 170.9h0M286.7 179.0h0M253.1 214.5h0M312.4 177.4h0M255.4 218.1h0M321.8 161.6h0M283.8 174.1h0M274.4 215.6h0M252.9 218.4h0M315.6 182.1h0M314.0 183.9h0M321.1 180.8h0M308.6 183.1h0M259.2 204.1h0M273.0 190.3h0M321.7 209.3h0M281.2 199.6h0M259.0 201.9h0M308.9 225.0h0M299.4 172.1h0M297.6 200.5h0"/><path stroke="#12b1d6" d="M264.4 222.5h0M283.6 170.6h0M290.5 207.7h0M263.9 226.0h0M290.6 203.3h0M314.8 198.9h0M295.2 226.8h0M249.1 221.3h0M250.5 210.5h0M283.5 182.4h0M262.2 189.2h0M282.2 180.7h0M260.2 189.6h0M251.5 198.5h0M293.2 190.5h0M304.5 197.4h0M300.4 205.1h0M304.4 209.0h0M293.6 195.7h0M300.5 175.9h0M287.7 166.3h0M304.4 215.8h0M272.0 203.9h0M265.3 191.7h0M280.6 179.9h0M255.0 205.9h0M266.2 209.6h0M315.4 225.6h0M286.8 192.8h0M284.8 224.3h0M310.7 220.5h0M288.5 222.6h0M300.8 216.0h0M275.0 176.4h0M270.4 181.3h0M267.4 177.4h0M293.5 197.8h0M260.9 207.8h0M267.0 201.0h0M269.7 209.0h0M274.4 189.4h0M299.7 221.9h0M302.4 171.4h0M305.3 177.4h0M294.6 216.7h0M258.3 203.7h0M293.2 196.2h0M288.2 227.0h0M298.6 197.8h0M283.3 183.9h0M288.4 188.1h0M310.2 199.5h0M313.3 190.2h0M247.8 211.6h0M255.2 212.7h0M249.5 214.7h0M301.8 184.9h0M293.7 219.0h0M313.5 195.1h0M286.7 217.6h0M307.3 173.0h0M291.5 205.2h0M304.4 189.6h0M310.2 225.1h0M291.5 187.0h0M255.3 191.9h0M278.1 181.3h0M300.7 160.5h0M262.0 206.0h0M261.1 192.6h0M299.2 175.1h0M260.7 197.5h0M271.4 175.8h0M242.0 224.8h0M247.3 221.4h0M313.9 185.8h0M290.5 170.2h0M305.9 200.9h0M300.3 163.5h0"/><path stroke="#08b5d0" d="M319.0 197.0h0M275.5 198.7h0M248.4 227.2h0M308.2 183.8h0M311.3 159.8h0M273.6 204.3h0M297.5 176.6h0M312.4 184.9h0M311.1 227.7h0M306.6 182.9h0M283.6 212.9h0M296.5 194.5h0M306.7 185.9h0M266.7 222.7h0M286.5 193.0h0M319.5 201.2h0M304.7 160.9h0M315.9 221.3h0M268.3 181.3h0M291.4 205.6h0M281.0 196.0h0M307.7 227.9h0M264.4 215.6h0M274.8 209.8h0M267.1 190.2h0M311.5 171.9h0M297.8 225.4h0M287.2 167.7h0M292.6 208.1h0M321.5 174.2h0M268.2 210.5h0M311.4 209.6h0M274.7 182.2h0M284.6 207.2h0M322.0 183.5h0M284.3 208.1h0M279.2 182.9h0M273.6 207.9h0M306.5 211.6h0M271.2 184.1h0M309.8 189.3h0M285.8 195.8h0M316.2 184.0h0M303.6 166.9h0M257.6 201.8h0M248.6 204.4h0M305.2 179.8h0M297.0 216.7h0M263.6 206.9h0M269.2 203.0h0M320.5 207.0h0M284.3 208.9h0M267.5 202.8h0M265.6 221.2h0M322.0 164.5h0M253.4 199.9h0M283.9 179.2h0M283.5 191.2h0M248.0 202.9h0M299.8 193.8h0M265.2 180.5h0M295.8 195.5h0M291.7 176.4h0M290.6 166.9h0M304.9 163.3h0M314.9 178.1h0M296.4 216.3h0M315.4 227.2h0M276.9 174.7h0M268.0 210.2h0M266.4 204.1h0M285.2 173.2h0"/><path stroke="#01b8ca" d="M264.7 217.1h0M284.2 168.1h0M264.8 186.4h0M257.5 224.9h0M301.8 206.4h0M263.4 213.0h0M279.5 208.5h0M248.1 225.0h0M287.1 181.2h0M267.7 203.3h0M305.9 199.2h0M288.5 179.1h0M313.1 171.1h0M264.5 211.0h0M278.6 194.6h0M289.8 225.0h0M289.9 176.6h0M294.0 213.4h0M320.2 214.2h0M309.9 218.4h0M263.8 187.3h0M268.1 205.8h0M308.9 196.0h0M272.7 179.5h0M276.7 200.6h0M321.3 188.3h0M248.4 207.4h0M270.7 222.3h0M318.1 164.9h0M262.6 218.2h0M317.8 221.1h0M281.7 192.2h0M317.4 192.5h0M252.6 226.1h0M272.2 178.6h0M315.4 221.2h0M314.2 190.3h0M313.8 174.7h0M278.4 223.1h0M321.4 168.0h0M312.3 194.8h0M310.0 218.8h0M287.2 225.5h0M293.1 226.1h0M301.1 166.8h0M271.3 225.5h0M253.9 200.9h0M303.3 202.5h0M275.0 188.6h0M298.6 174.3h0M266.8 214.4h0M296.2 173.7h0M304.5 161.8h0M285.4 196.3h0M314.7 165.8h0M283.9 175.3h0M307.6 163.8h0M313.5 173.3h0M282.0 195.9h0M302.5 216.7h0"/><path stroke="#02bac3" d="M289.0 219.1h0M288.0 176.4h0M310.6 225.0h0M296.3 168.1h0M281.2 184.1h0M318.9 158.8h0M249.1 212.3h0M282.1 173.7h0M247.0 213.9h0M275.9 204.1h0M303.0 163.6h0M290.6 194.6h0M318.9 159.2h0M288.6 169.4h0M319.9 169.8h0M287.5 181.9h0M297.1 165.9h0M293.3 211.2h0M248.7 214.9h0M274.3 183.9h0M271.4 175.1h0M258.8 189.3h0M284.3 184.4h0M315.8 223.9h0M320.1 204.9h0M294.7 222.5h0M305.1 198.4h0M262.7 221.6h0M282.1 197.3h0M258.4 210.5h0M263.7 181.2h0M295.5 191.9h0M304.8 167.2h0M256.6 196.1h0M299.1 175.3h0M308.1 178.6h0M254.8 198.9h0M278.3 180.4h0M249.5 203.6h0M301.4 169.9h0M321.6 183.7h0M306.4 174.9h0M302.1 162.0h0M304.7 165.2h0M280.0 211.9h0M272.6 208.1h0M306.8 217.2h0"/><path stroke="#0bbdbc" d="M311.3 227.1h0M303.3 218.3h0M259.4 188.3h0M262.0 188.3h0M311.6 193.1h0M269.3 214.1h0M259.4 188.2h0M267.0 195.0h0M309.4 159.2h0M247.0 211.6h0M317.0 191.1h0M255.0 212.3h0M255.5 190.3h0M296.6 166.2h0M307.7 188.4h0M308.2 211.8h0M294.0 194.7h0M260.1 213.9h0M286.2 168.9h0M305.5 159.7h0M320.8 167.3h0M274.2 180.8h0M319.5 169.2h0M265.5 197.7h0M303.3 163.4h0M293.3 211.3h0M309.3 186.0h0M322.3 196.9h0M261.0 211.2h0M284.6 219.8h0M247.5 220.4h0M260.4 202.6h0M313.9 223.1h0M312.2 164.4h0M270.3 197.4h0M319.7 197.5h0M260.8 199.9h0M263.7 183.3h0M312.2 182.1h0M306.7 184.7h0M301.0 182.0h0M314.3 181.1h0M314.9 157.8h0M301.4 226.2h0M243.6 220.7h0M277.6 216.6h0M289.3 183.9h0M294.5 190.3h0M282.6 221.8h0M266.4 185.0h0M312.7 171.6h0M298.5 177.7h0"/><path stroke="#19bfb5" d="M296.4 225.7h0M274.0 198.0h0M257.0 195.7h0M302.4 160.4h0M304.2 216.8h0M296.0 175.1h0M309.7 159.7h0M306.6 162.7h0M300.6 197.8h0M317.0 217.6h0M255.8 213.5h0M297.6 216.6h0M275.3 172.3h0M316.8 227.5h0M318.4 187.2h0M249.9 201.7h0M263.0 215.0h0M295.0 163.1h0M282.7 184.8h0M255.5 201.0h0M258.6 188.7h0M291.8 184.5h0M283.3 207.9h0M272.3 216.2h0M295.1 194.6h0M244.0 216.4h0M271.8 173.7h0M258.3 185.9h0M247.8 224.1h0M290.9 168.9h0M296.0 164.5h0M250.7 227.1h0M306.0 163.0h0M295.5 179.4h0M315.5 191.8h0M290.0 166.3h0M313.7 200.6h0"/><path stroke="#24c1ae" d="M244.1 222.6h0M309.5 219.4h0M305.0 183.8h0M277.9 175.2h0M261.5 209.9h0M315.4 221.8h0M289.7 167.2h0M273.9 179.0h0M262.8 217.6h0M311.3 200.9h0M318.7 202.1h0M241.4 227.3h0M290.9 198.6h0M288.6 192.2h0M307.7 189.9h0M273.3 227.2h0M303.2 172.3h0M291.8 188.9h0M279.3 196.3h0M242.2 225.9h0M316.2 190.0h0M280.1 217.4h0M318.5 206.0h0M298.6 196.8h0M251.0 226.4h0M316.1 202.7h0M255.1 204.5h0M277.3 173.7h0M253.9 192.6h0M301.6 194.4h0M282.1 206.5h0M295.7 173.9h0M286.1 203.3h0M293.6 178.7h0M286.3 218.4h0"/><path stroke="#2cc4a6" d="M245.7 211.0h0M293.5 185.1h0M253.8 197.5h0M297.8 224.1h0M282.7 174.2h0M255.5 192.6h0M268.2 222.5h0M270.7 201.5h0M251.6 195.8h0M285.5 217.6h0M286.9 182.0h0M278.8 175.5h0M285.8 224.9h0M264.1 184.5h0M302.1 187.2h0M296.4 194.5h0M322.1 179.1h0M315.4 205.1h0M291.3 177.4h0M261.2 208.2h0M307.5 159.9h0M274.9 179.4h0M261.2 181.7h0M291.8 191.3h0M262.8 181.0h0M244.5 225.2h0"/><path stroke="#31c69f" d="M294.8 216.5h0M267.4 213.5h0M317.4 205.8h0M261.2 181.6h0M320.9 159.2h0M295.4 218.9h0M316.0 158.8h0M301.9 183.1h0M260.6 191.5h0M302.2 209.9h0M270.9 185.6h0M281.4 193.1h0M254.8 199.1h0M284.3 180.0h0M253.3 195.5h0M296.7 163.1h0M256.4 227.8h0M263.0 180.6h0M275.3 188.8h0M276.3 174.3h0M258.3 189.2h0M311.9 198.4h0M319.8 170.0h0M247.7 219.9h0M302.6 201.3h0"/><path stroke="#37c897" d="M245.8 207.9h0M280.1 211.5h0M242.8 220.9h0M276.7 169.1h0M250.6 201.4h0M316.8 210.2h0M249.1 205.0h0M260.4 180.9h0M316.1 163.4h0M250.5 220.8h0M250.4 208.9h0M277.9 196.3h0M321.8 185.8h0M296.0 167.7h0M299.8 204.9h0M288.1 221.9h0M247.9 206.0h0"/><path stroke="#3fca8e" d="M255.1 200.1h0M247.1 211.2h0M246.9 207.9h0M281.3 170.4h0M241.9 225.0h0M289.0 216.1h0M322.4 197.8h0M317.0 186.0h0M286.8 210.2h0M276.2 171.1h0M272.1 184.1h0M265.3 186.6h0M307.5 220.1h0M311.2 161.8h0"/><path stroke="#4acb84" d="M260.1 185.3h0M277.4 197.5h0M247.4 210.1h0M319.5 157.1h0M248.9 199.6h0M246.4 211.3h0M274.3 170.0h0M250.7 225.8h0M289.3 165.6h0M282.7 169.4h0M257.1 188.0h0M252.3 201.1h0M316.6 157.8h0M256.3 187.1h0M317.8 169.1h0M295.5 164.0h0"/><path stroke="#57cc7a" d="M307.2 215.6h0M313.5 159.3h0M248.5 225.8h0M314.5 158.0h0M245.5 215.2h0M248.7 200.4h0M319.2 184.5h0"/><path stroke="#64cd6f" d="M253.9 191.4h0M302.5 226.3h0M262.4 180.1h0M264.7 177.7h0M245.3 211.0h0M273.9 180.7h0M317.1 174.1h0M320.2 220.2h0M273.9 170.5h0M260.5 181.1h0M300.4 161.8h0M295.9 164.6h0M268.3 174.4h0"/><path stroke="#72cd64" d="M262.3 182.9h0M281.4 227.5h0M259.0 183.6h0M297.7 161.3h0M241.8 226.9h0M313.4 157.7h0M244.1 214.9h0M246.1 210.1h0"/><path stroke="#81cc59" d="M247.8 210.9h0M314.5 159.3h0M248.1 213.1h0M312.7 159.2h0M253.2 191.3h0M243.5 221.9h0"/><path stroke="#8fcb4e" d="M305.3 159.7h0M271.4 171.6h0M252.6 199.0h0M254.4 193.5h0"/><path stroke="#9dc943" d="M245.8 211.8h0M304.7 161.3h0M242.0 223.2h0M253.6 192.6h0M306.1 160.8h0"/><path stroke="#abc739" d="M278.6 170.1h0M252.6 192.5h0M263.4 178.2h0M278.0 169.3h0"/><path stroke="#b9c431" d="M315.1 157.8h0M274.1 173.0h0M305.0 159.8h0M255.5 190.6h0"/><path stroke="#c5c22a" d="M250.6 196.2h0"/><path stroke="#d1bf27" d="M260.4 196.1h0M250.3 195.6h0"/><path stroke="#dcbd29" d="M286.5 164.8h0"/><path stroke="#e6bb2d" d="M279.3 182.1h0"/><path stroke="#f0ba36" d="M242.8 218.2h0"/><path stroke="#f8ba3d" d="M286.1 164.8h0M259.1 181.9h0M257.9 185.1h0"/><path stroke="#fec338" d="M252.2 191.6h0"/><path stroke="#fad62d" d="M244.1 213.0h0M247.9 203.1h0"/></g><g fill="none" stroke-width="1.60" stroke-linecap="round"><path stroke="#4537d5" d="M455.7 91.9h0"/><path stroke="#463cde" d="M491.2 83.7h0M431.1 113.4h0M458.8 91.4h0M438.2 104.6h0M446.0 104.3h0"/><path stroke="#4741e5" d="M429.2 122.8h0M437.9 108.6h0M425.9 125.3h0M486.4 82.3h0M423.0 133.4h0"/><path stroke="#4747eb" d="M420.1 145.3h0M430.6 121.5h0M438.6 104.7h0M452.7 96.2h0M437.9 105.0h0"/><path stroke="#484df0" d="M486.1 82.3h0M468.8 90.3h0M445.2 100.7h0M479.4 85.5h0M477.1 87.1h0M438.4 106.9h0M431.7 121.1h0M475.9 89.8h0M440.5 114.6h0"/><path stroke="#4852f4" d="M427.0 130.2h0M423.4 139.4h0M419.4 146.5h0M446.0 101.1h0M430.3 120.9h0M419.3 151.3h0M432.3 114.2h0M471.7 85.8h0M462.6 88.9h0M447.6 96.9h0M433.7 116.5h0"/><path stroke="#4758f8" d="M479.3 83.8h0M422.3 133.8h0M489.7 86.1h0M440.7 105.0h0M426.1 142.8h0M430.6 118.7h0M430.4 116.0h0M440.6 101.8h0M438.7 104.7h0M465.4 92.9h0M451.8 95.1h0M439.0 105.2h0M433.6 115.8h0M421.7 142.2h0M458.1 97.6h0M426.8 138.0h0M449.2 100.6h0M446.3 102.8h0M418.6 149.3h0"/><path stroke="#465efb" d="M418.4 150.1h0M447.8 96.3h0M420.4 142.9h0M445.3 104.6h0M477.0 85.6h0M423.1 133.8h0M421.3 139.1h0M429.1 119.1h0M424.6 127.1h0M484.4 84.3h0M438.6 112.2h0M438.4 105.5h0M418.8 148.0h0M468.2 91.1h0M466.5 89.8h0M477.1 88.5h0M423.4 144.4h0M446.9 100.1h0M442.4 105.1h0"/><path stroke="#4563fd" d="M458.2 95.1h0M444.3 100.8h0M423.3 135.1h0M483.1 91.4h0M426.8 142.7h0M482.8 83.6h0M420.4 139.9h0M430.8 117.1h0M470.3 88.7h0M428.1 120.8h0M450.1 101.1h0M436.3 108.5h0M437.8 128.8h0M495.3 85.5h0M423.2 131.6h0M440.0 116.1h0M445.2 99.2h0M426.8 125.4h0"/><path stroke="#4269fe" d="M431.1 125.7h0M423.5 146.9h0M437.0 108.0h0M438.2 109.8h0M429.8 115.2h0M442.4 107.0h0M459.2 91.0h0M456.8 92.6h0M475.7 89.5h0M424.9 138.7h0M425.6 130.4h0M422.5 147.2h0M441.6 118.4h0M438.7 111.6h0M440.3 125.2h0M443.4 109.6h0M431.9 127.6h0M456.3 97.8h0M433.2 111.2h0M440.0 107.8h0M445.0 105.4h0M435.0 107.6h0M473.7 92.4h0M440.5 107.7h0M442.1 108.7h0M446.4 106.6h0M486.7 82.4h0M430.7 123.6h0M434.4 111.5h0M427.5 129.3h0M452.5 93.2h0M463.9 89.3h0M427.3 134.2h0M446.6 105.5h0M438.0 109.5h0M473.6 88.6h0"/><path stroke="#3e6fff" d="M447.7 104.1h0M456.1 99.3h0M436.2 112.1h0M431.5 119.5h0M442.1 103.0h0M453.9 97.5h0M426.0 139.9h0M483.2 90.6h0M443.7 113.4h0M483.9 92.4h0M435.4 121.3h0M425.1 130.2h0M454.5 101.3h0M473.0 91.1h0M447.2 102.8h0M431.8 124.5h0M423.1 140.1h0M467.7 89.1h0M483.0 86.0h0M466.2 96.2h0M424.4 145.9h0M451.5 98.0h0M423.2 142.2h0M468.1 89.5h0M480.6 86.5h0M423.3 135.2h0M419.7 143.0h0M444.4 98.8h0M439.2 108.2h0M436.7 118.9h0M430.4 117.7h0M420.0 147.6h0M422.3 145.8h0M493.2 84.3h0M488.2 82.6h0M424.6 149.7h0M460.2 93.9h0M442.9 105.3h0M486.9 89.1h0M439.3 107.8h0M439.2 130.8h0M461.8 92.6h0M431.3 124.6h0M428.0 134.8h0"/><path stroke="#3875fe" d="M425.1 136.9h0M429.7 138.6h0M474.0 94.4h0M464.6 92.2h0M426.8 138.3h0M433.7 130.0h0M442.4 108.4h0M433.5 113.2h0M426.2 133.0h0M442.7 101.7h0M476.8 94.2h0M439.8 132.4h0M426.7 137.1h0M487.6 84.9h0M467.5 91.1h0M430.4 130.8h0M444.7 102.3h0M477.6 94.2h0M434.5 118.9h0M442.3 118.5h0M428.9 117.6h0M447.8 103.8h0M444.3 107.1h0M489.5 97.2h0M446.0 107.6h0M491.4 87.7h0M458.2 97.3h0M447.6 101.0h0M481.4 85.0h0M441.4 113.0h0M446.9 107.2h0M436.9 121.6h0M495.9 83.3h0"/><path stroke="#327cfc" d="M430.1 128.1h0M465.5 91.7h0M466.6 98.4h0M447.7 107.1h0M428.8 127.2h0M427.5 122.5h0M467.7 91.3h0M440.7 109.1h0M434.2 135.7h0M430.6 141.2h0M423.9 143.5h0M478.0 88.0h0M497.1 82.0h0M433.1 126.8h0M425.3 134.9h0M463.0 100.6h0M425.6 142.0h0M444.9 115.9h0M458.4 95.5h0M464.3 94.3h0M421.9 141.6h0M490.7 83.3h0M456.4 100.3h0M479.6 86.1h0M485.7 84.2h0M464.5 91.1h0M446.7 102.2h0M427.9 130.1h0M493.1 84.9h0M466.5 94.7h0M481.5 90.2h0M478.1 92.8h0M429.4 125.6h0M479.0 94.0h0M425.7 148.5h0M494.6 82.2h0M458.8 97.0h0M470.1 92.3h0M463.0 89.3h0M453.3 104.4h0M445.2 114.0h0M466.6 98.2h0M427.5 123.8h0M444.2 100.2h0M480.9 88.7h0"/><path stroke="#2f81fa" d="M490.2 82.3h0M449.8 105.4h0M423.4 144.2h0M490.7 89.2h0M492.8 85.1h0M444.2 109.3h0M444.4 100.2h0M466.2 93.0h0M468.0 97.5h0M430.3 120.6h0M428.4 131.4h0M486.2 93.0h0M444.1 111.1h0M477.0 93.4h0M434.1 142.6h0M486.3 91.9h0M485.5 85.5h0M453.3 99.0h0M428.7 148.5h0M442.0 114.1h0M446.0 103.2h0M425.5 136.1h0M449.8 103.2h0M431.0 127.6h0M437.1 118.1h0M423.9 138.1h0M420.3 146.3h0M430.4 120.8h0M434.3 114.2h0M433.7 119.7h0M469.1 97.8h0M432.8 127.5h0M463.2 89.5h0M444.2 104.3h0M495.1 93.2h0M478.3 88.4h0M435.1 126.4h0M438.8 104.9h0M464.0 92.9h0M436.6 133.4h0M436.8 144.3h0M477.9 95.7h0M462.1 91.3h0M451.2 107.7h0"/><path stroke="#2e87f7" d="M452.3 113.2h0M446.0 106.0h0M431.4 139.9h0M477.7 91.2h0M492.0 84.4h0M498.2 84.5h0M424.0 140.3h0M446.1 116.2h0M452.2 95.5h0M452.6 121.5h0M434.4 111.9h0M451.0 102.5h0M495.6 89.8h0M432.5 141.8h0M471.8 92.3h0M452.7 106.4h0M434.4 128.4h0M448.4 111.4h0M433.0 119.4h0M478.7 85.7h0M454.6 109.3h0M488.4 85.9h0M480.9 98.7h0M455.5 101.8h0M448.1 117.1h0M485.2 89.7h0M442.3 121.8h0M441.2 113.3h0M445.7 108.9h0M458.2 101.2h0M435.7 114.1h0M429.8 145.3h0M461.0 97.3h0M476.1 94.9h0M470.7 96.1h0M440.1 111.3h0M458.8 101.1h0M452.3 104.1h0M448.3 110.5h0M466.7 98.6h0M454.4 112.6h0M422.1 145.0h0M427.0 140.8h0M428.8 125.5h0M459.9 108.5h0M438.3 121.5h0M432.6 120.3h0M485.2 84.4h0M451.4 103.1h0M433.4 113.5h0M427.7 137.3h0M469.3 102.6h0M451.0 95.7h0M448.6 103.9h0M437.9 118.2h0M455.7 112.0h0"/><path stroke="#2d8cf3" d="M482.1 99.8h0M427.9 121.5h0M447.2 102.4h0M471.6 98.5h0M449.1 110.3h0M471.6 95.3h0M447.9 128.2h0M440.3 114.6h0M494.2 85.1h0M437.0 141.8h0M443.8 100.5h0M423.5 147.6h0M434.0 123.7h0M433.2 134.0h0M430.1 131.4h0M461.3 107.8h0M497.6 95.4h0M435.9 117.8h0M468.9 99.2h0M428.7 134.5h0M492.4 88.7h0M486.0 94.3h0M432.8 146.8h0M450.3 118.6h0M483.1 94.9h0M443.6 112.5h0M468.1 96.9h0M455.4 99.8h0M454.6 105.7h0M439.2 115.1h0M458.1 118.8h0M427.2 124.6h0M445.7 106.7h0M428.5 126.8h0M498.1 89.5h0M491.2 93.6h0M443.0 118.4h0M455.7 102.9h0M439.6 123.6h0M497.3 88.5h0M425.1 139.1h0M469.1 95.6h0M426.4 139.0h0M433.8 141.0h0M428.9 133.1h0M477.7 94.7h0M458.7 92.3h0M438.9 114.9h0M455.4 115.5h0M498.1 94.3h0"/><path stroke="#2b91ef" d="M454.8 107.0h0M469.3 98.6h0M452.5 101.7h0M429.9 130.9h0M427.7 135.4h0M432.3 137.1h0M478.5 86.7h0M455.0 97.9h0M473.4 109.0h0M433.1 135.2h0M425.6 148.0h0M486.6 91.2h0M438.4 116.2h0M456.6 116.9h0M441.0 115.4h0M449.2 119.9h0M433.5 114.1h0M493.4 84.0h0M457.9 102.7h0M442.2 111.3h0M435.8 124.9h0M429.0 132.8h0M477.8 88.8h0M426.8 140.6h0M444.5 124.6h0M458.6 109.5h0M443.8 113.0h0M439.4 131.0h0M440.1 126.9h0M434.8 148.3h0M451.8 110.2h0M447.4 110.0h0M462.7 104.4h0M436.5 116.8h0M439.5 106.4h0M453.3 99.4h0M436.5 151.1h0M477.1 95.3h0M425.6 144.1h0M455.4 102.0h0M473.2 102.8h0M429.1 131.5h0M467.8 95.5h0M456.5 119.7h0"/><path stroke="#2797eb" d="M436.4 125.6h0M479.4 90.3h0M444.6 125.3h0M443.8 115.8h0M430.4 141.9h0M445.0 134.3h0M443.0 115.8h0M467.2 90.4h0M455.4 102.7h0M426.9 138.3h0M431.9 126.4h0M449.4 123.3h0M430.4 131.4h0M469.3 95.0h0M433.9 131.5h0M488.4 103.6h0M451.1 128.8h0M448.6 115.4h0M475.2 95.4h0M449.3 111.1h0M420.8 148.8h0M486.3 88.6h0M486.4 96.7h0M439.6 123.8h0M451.1 116.1h0M453.8 110.5h0M448.6 111.4h0M433.4 121.4h0M438.2 121.9h0M479.8 97.2h0M452.6 113.3h0M473.7 99.1h0M428.9 146.6h0M479.9 93.6h0M423.8 141.2h0M437.9 122.1h0M453.1 109.0h0M440.4 132.5h0M465.6 104.3h0M436.6 117.3h0M432.4 130.4h0M432.4 151.8h0M452.6 108.6h0M428.3 137.0h0M426.4 145.2h0M433.5 121.5h0M481.5 96.6h0"/><path stroke="#259be8" d="M487.6 96.4h0M449.2 119.3h0M440.9 137.5h0M496.0 85.4h0M459.6 110.5h0M441.2 135.6h0M453.9 114.2h0M464.0 101.5h0M431.6 150.1h0M498.0 89.9h0M470.4 106.0h0M443.7 137.1h0M444.0 148.6h0M463.1 107.7h0M458.9 107.8h0M485.0 93.0h0M423.7 146.7h0M433.1 117.4h0M461.9 101.4h0M466.9 97.6h0M434.4 142.3h0M488.5 92.6h0M454.7 112.7h0M451.8 114.6h0M487.2 96.1h0M474.0 100.6h0M493.7 88.4h0M436.4 142.0h0M438.8 141.3h0M470.4 107.0h0M497.4 89.8h0M450.7 101.9h0M439.2 124.8h0M473.4 94.8h0M436.6 124.5h0M449.9 124.6h0M479.3 100.4h0M465.2 102.7h0M479.6 103.1h0M439.8 113.5h0M430.8 134.2h0M460.3 105.8h0M482.0 99.6h0M435.3 149.2h0M434.0 136.2h0"/><path stroke="#23a0e5" d="M454.9 122.2h0M448.0 119.3h0M446.6 111.2h0M453.3 136.5h0M432.6 147.3h0M447.7 114.8h0M461.6 99.5h0M428.9 149.4h0M481.4 98.8h0M467.4 94.0h0M430.7 149.2h0M441.4 137.3h0M440.8 121.8h0M490.0 90.9h0M430.0 143.2h0M446.0 126.3h0M438.8 140.5h0M444.0 121.9h0M455.8 100.2h0M430.0 145.3h0M436.8 119.4h0M466.3 90.0h0M462.5 97.3h0M467.5 110.5h0M429.6 147.8h0M446.7 102.2h0M477.9 101.0h0M457.0 99.4h0M442.1 121.9h0M441.8 125.0h0M475.5 99.6h0M450.2 104.7h0M462.3 106.2h0M441.7 135.9h0M475.8 91.8h0M462.1 108.7h0M493.3 94.7h0M435.3 131.4h0M476.4 97.7h0M460.3 127.5h0M436.8 132.8h0M442.4 113.4h0M450.7 116.5h0M493.7 94.4h0M475.9 98.5h0M488.6 101.4h0M472.5 97.8h0M471.8 92.7h0M431.1 137.3h0M491.1 97.7h0M428.8 146.3h0M476.2 100.4h0M494.6 92.5h0M430.2 134.2h0M469.6 102.8h0M466.9 110.3h0M450.7 115.5h0"/><path stroke="#20a5e3" d="M433.3 142.0h0M488.5 96.5h0M474.0 98.4h0M453.2 116.6h0M433.0 145.1h0M460.9 118.9h0M457.4 128.6h0M447.2 140.5h0M477.6 96.0h0M460.4 103.6h0M442.8 118.0h0M432.2 150.2h0M427.7 147.7h0M448.1 121.1h0M481.2 100.4h0M452.1 116.9h0M479.6 89.6h0M476.5 89.1h0M438.9 149.2h0M461.8 117.4h0M432.2 144.6h0M488.3 98.5h0M457.8 112.2h0M456.2 104.8h0M442.2 132.0h0M460.2 105.7h0M478.4 97.2h0M428.1 146.0h0M453.5 136.5h0M467.5 116.0h0M436.6 126.3h0M446.8 123.6h0M474.8 95.2h0M446.6 128.4h0M465.3 132.3h0M439.1 134.7h0M447.3 122.1h0M485.1 92.5h0M443.4 116.5h0M430.0 143.6h0M446.6 125.8h0M426.0 148.6h0M490.7 98.2h0M431.7 146.8h0M441.3 126.8h0M448.3 119.4h0M496.3 96.3h0M496.3 90.0h0M457.5 104.0h0M440.4 132.1h0M465.9 111.2h0M478.9 99.0h0M471.1 96.1h0M469.3 101.9h0M477.0 90.3h0M447.3 115.6h0M445.8 117.2h0M476.5 113.0h0M442.6 117.2h0"/><path stroke="#1ca9df" d="M463.0 113.0h0M442.0 139.5h0M495.1 90.0h0M451.4 108.9h0M466.3 114.0h0M476.0 105.4h0M465.1 123.0h0M451.5 127.9h0M431.9 132.6h0M438.7 144.0h0M465.1 114.3h0M440.0 129.9h0M471.7 94.6h0M457.4 105.1h0M438.5 146.1h0M431.3 136.5h0M448.3 140.7h0M462.3 117.1h0M442.4 114.4h0M441.8 141.7h0M474.7 102.4h0M434.7 150.3h0M446.6 127.6h0M433.8 143.4h0M439.5 118.5h0M447.8 135.3h0M450.7 116.1h0M424.1 150.9h0M442.9 137.4h0M467.2 106.0h0M462.3 99.1h0M427.3 141.0h0M466.2 106.6h0M458.8 111.3h0M461.3 116.0h0M444.4 127.9h0M497.4 99.3h0M467.7 115.3h0M439.8 119.4h0M484.0 90.1h0M453.4 108.1h0M462.7 98.4h0M497.5 96.1h0M436.3 139.8h0M430.0 143.4h0M473.9 103.4h0"/><path stroke="#18addb" d="M443.6 122.0h0M431.6 139.6h0M478.0 105.7h0M490.0 105.4h0M476.1 93.1h0M446.7 143.9h0M445.2 118.1h0M460.5 118.7h0M434.7 145.2h0M449.8 113.4h0M460.0 118.7h0M440.9 139.1h0M495.0 97.8h0M469.0 111.7h0M442.5 144.7h0M461.8 112.2h0M463.0 110.3h0M475.0 106.8h0M450.6 135.2h0M479.6 94.5h0M449.2 123.1h0M470.8 104.6h0M467.6 112.8h0M434.4 148.8h0M466.0 106.6h0M469.4 109.9h0M477.8 112.7h0M443.2 129.0h0M438.5 134.9h0M495.0 86.0h0M464.8 121.5h0M459.9 109.4h0M452.6 127.9h0M446.2 136.3h0M443.9 137.4h0M440.2 149.9h0M455.1 127.8h0M432.2 147.9h0M486.7 97.8h0M477.7 101.5h0M439.2 139.6h0M492.7 91.6h0M466.0 97.6h0M438.1 138.7h0M462.8 109.9h0M463.1 123.6h0M478.0 109.6h0M463.5 121.3h0M454.4 138.2h0M423.4 151.8h0M457.0 126.5h0"/><path stroke="#12b1d6" d="M483.7 104.0h0M453.1 113.5h0M488.8 100.5h0M466.4 113.7h0M495.1 88.5h0M453.1 120.3h0M446.5 118.3h0M456.0 125.0h0M456.8 116.9h0M467.6 111.5h0M452.5 123.9h0M482.5 107.4h0M434.0 144.0h0M479.6 106.6h0M452.2 126.6h0M498.1 99.9h0M440.3 149.4h0M497.7 94.9h0M488.5 103.3h0M489.1 101.4h0M473.9 118.2h0M497.5 98.9h0M445.0 121.6h0M468.8 105.0h0M450.6 133.9h0M429.3 148.2h0M463.2 102.9h0M487.7 92.2h0M442.1 140.5h0M458.9 115.4h0M473.3 120.9h0M455.3 124.8h0M437.4 150.4h0M443.4 151.8h0M455.9 106.7h0M481.9 105.1h0M440.0 147.8h0M491.0 105.9h0M462.5 101.7h0M443.8 119.1h0M451.5 134.3h0M439.8 149.5h0M493.9 95.9h0M432.6 144.9h0M482.1 98.5h0M452.7 145.9h0M442.8 142.9h0M432.8 147.4h0M465.9 125.5h0M439.0 145.4h0M483.7 109.2h0M477.8 97.8h0M491.2 103.3h0M476.7 102.5h0M428.6 140.0h0M461.2 130.5h0M465.8 116.8h0"/><path stroke="#08b5d0" d="M476.0 106.3h0M451.0 137.3h0M462.3 109.1h0M496.4 95.6h0M472.1 113.5h0M439.0 146.5h0M449.5 135.4h0M457.0 122.5h0M475.9 100.7h0M465.3 117.9h0M464.4 116.2h0M471.4 116.2h0M462.5 107.9h0M482.1 95.8h0M486.8 111.2h0M489.9 93.4h0M469.0 117.9h0M466.2 125.0h0M494.1 90.3h0M492.7 95.7h0M486.7 96.1h0M461.3 110.6h0M482.0 113.1h0M450.2 146.1h0M456.3 127.8h0M469.1 109.3h0M490.0 101.0h0M471.0 102.2h0M483.8 103.0h0M453.6 124.2h0M439.3 134.7h0M439.2 134.7h0M476.0 113.9h0M447.3 128.1h0M467.6 108.3h0M486.3 92.2h0M449.8 128.1h0M454.5 131.1h0M452.3 129.4h0M492.6 106.8h0M441.4 136.2h0M477.5 112.2h0M490.0 95.4h0M430.5 149.2h0M438.1 128.3h0M445.6 131.4h0M467.9 115.3h0"/><path stroke="#01b8ca" d="M440.9 147.5h0M441.0 134.4h0M481.9 104.5h0M441.2 137.0h0M471.3 103.6h0M484.7 107.8h0M465.5 113.6h0M484.8 100.5h0M432.8 142.1h0M471.5 96.5h0M450.3 121.6h0M470.6 112.8h0M490.4 104.1h0M443.2 130.2h0M481.7 110.3h0M446.4 132.8h0M452.8 129.7h0M473.5 114.1h0M496.9 96.4h0M478.9 100.4h0M440.9 150.4h0M443.5 126.8h0M447.3 133.4h0M486.0 101.6h0M456.8 112.4h0M440.9 149.6h0M448.3 132.8h0M451.6 134.2h0M457.7 134.6h0M453.6 134.0h0M477.4 108.5h0M462.4 126.7h0M436.3 147.1h0M439.8 145.7h0M459.1 118.0h0M490.2 107.6h0M458.3 146.7h0M457.7 117.2h0M486.2 109.3h0M442.9 132.9h0M446.8 147.1h0M469.6 101.1h0M454.0 132.4h0M493.5 101.9h0M441.0 151.8h0M464.8 119.3h0M486.7 103.7h0M481.2 108.6h0M442.6 139.4h0M452.7 134.0h0M468.8 113.4h0M497.3 107.9h0M441.3 142.6h0M436.8 136.8h0M437.6 142.3h0M489.5 104.2h0M455.5 141.6h0M456.9 135.1h0M435.8 139.0h0M461.9 136.0h0M438.2 142.3h0M474.0 110.5h0M446.1 149.4h0M498.0 97.3h0M484.0 109.5h0M498.3 94.7h0M448.8 138.6h0"/><path stroke="#02bac3" d="M492.0 94.8h0M456.0 128.5h0M451.6 132.1h0M496.0 114.9h0M487.1 100.1h0M483.1 111.6h0M435.0 134.6h0M453.8 140.2h0M467.6 111.0h0M466.4 119.1h0M468.3 120.0h0M436.2 150.4h0M454.7 131.4h0M481.2 104.2h0M437.9 145.3h0M469.8 126.8h0M478.0 114.3h0M487.6 100.6h0M497.0 97.7h0M439.0 145.0h0M474.0 105.6h0M493.1 96.4h0M447.7 145.6h0M460.8 121.9h0M485.3 111.7h0M451.8 119.6h0M481.3 112.4h0M459.6 140.2h0M471.5 128.1h0M456.3 138.0h0M484.9 110.0h0M463.4 115.5h0M463.6 121.9h0M448.9 142.1h0M488.2 104.0h0M469.3 112.4h0M447.1 131.4h0M469.3 126.5h0M454.6 132.3h0M475.0 119.3h0M475.2 112.0h0"/><path stroke="#0bbdbc" d="M453.6 147.6h0M477.5 95.4h0M451.4 143.6h0M444.3 150.4h0M485.1 107.6h0M462.1 128.2h0M472.9 128.1h0M460.6 132.5h0M464.9 114.8h0M446.8 142.0h0M456.8 138.9h0M474.8 108.4h0M472.0 116.2h0M437.8 149.1h0M475.9 114.5h0M447.9 125.1h0M489.0 117.8h0M464.6 120.6h0M462.7 117.6h0M474.2 121.3h0M441.1 132.9h0M469.7 108.9h0M440.1 144.6h0M479.8 113.4h0M484.5 110.1h0M440.8 137.2h0M496.3 107.1h0M473.2 118.9h0M438.3 147.0h0M483.3 101.0h0M493.5 105.3h0M483.1 98.8h0M485.9 106.5h0M491.5 109.5h0M451.1 124.5h0M498.2 97.8h0M484.5 109.5h0M496.3 104.2h0M491.1 102.9h0M434.6 151.2h0M444.6 145.0h0M496.0 105.5h0M457.8 132.7h0M439.6 126.6h0"/><path stroke="#19bfb5" d="M446.1 140.0h0M479.0 116.1h0M465.2 119.2h0M441.3 143.9h0M468.2 132.5h0M448.9 151.8h0M449.1 129.4h0M465.8 116.3h0M479.7 103.3h0M444.1 140.4h0M462.5 122.7h0M482.0 110.4h0M495.1 99.8h0M484.2 112.6h0M461.0 120.2h0M463.6 132.4h0M491.6 107.1h0M478.8 121.3h0M458.9 118.4h0M467.9 114.2h0M489.7 97.8h0M471.2 116.3h0M490.9 111.5h0M470.9 110.6h0M465.4 125.3h0M449.4 129.9h0M452.4 148.9h0M443.5 142.6h0M463.3 115.2h0M475.4 119.3h0M458.2 120.7h0M449.6 150.5h0M483.1 101.8h0M466.5 126.7h0M483.6 110.7h0M490.9 110.0h0M462.0 141.7h0M448.8 148.4h0M493.5 99.2h0M438.7 142.0h0M488.8 106.9h0M460.8 131.3h0M488.9 111.4h0M478.2 130.3h0M447.1 148.2h0"/><path stroke="#24c1ae" d="M472.1 124.8h0M482.0 110.1h0M491.2 109.3h0M491.3 112.5h0M461.2 135.8h0M493.6 112.5h0M466.9 137.6h0M489.0 104.6h0M456.1 149.9h0M472.6 114.6h0M485.1 113.1h0M491.2 100.5h0M481.0 113.3h0M462.8 124.0h0M448.3 147.9h0M498.1 108.8h0M471.7 126.4h0M473.0 117.9h0M433.1 135.1h0M481.7 114.6h0M473.8 124.2h0M462.3 130.5h0M475.5 112.5h0M496.7 105.4h0M427.5 151.2h0M469.9 129.4h0M463.6 116.3h0M497.8 101.5h0M468.6 110.5h0M458.4 125.7h0M474.4 111.1h0M484.3 121.2h0M495.4 119.5h0M450.9 136.6h0M476.0 120.9h0M488.0 121.4h0M449.9 141.0h0M478.9 108.9h0M449.6 142.7h0M494.3 110.4h0M447.6 149.9h0M490.6 115.2h0M487.6 108.0h0M433.2 149.3h0M459.9 117.2h0M473.2 118.5h0M456.8 139.2h0"/><path stroke="#2cc4a6" d="M458.8 151.5h0M450.2 139.9h0M447.6 131.9h0M477.4 123.7h0M489.7 105.9h0M474.1 125.0h0M462.8 138.9h0M470.8 120.6h0M493.0 111.1h0M481.2 114.3h0M453.3 132.9h0M497.2 111.2h0M486.3 114.6h0M461.5 115.7h0M489.9 95.6h0M452.5 142.2h0M474.8 121.6h0M452.8 134.6h0M473.3 133.6h0M436.7 149.3h0M455.9 138.0h0M468.8 115.4h0M449.4 140.5h0M449.9 133.6h0M453.0 125.4h0M497.1 114.5h0M474.4 131.5h0M474.8 113.0h0M483.8 112.7h0M466.1 130.0h0M483.3 123.2h0"/><path stroke="#31c69f" d="M481.8 118.3h0M454.5 145.6h0M487.1 120.9h0M457.9 137.5h0M493.0 100.3h0M469.2 127.1h0M475.8 116.5h0M464.5 130.9h0M466.8 139.6h0M485.2 109.2h0M468.1 118.3h0M496.1 111.8h0M494.2 104.3h0M477.4 126.9h0M480.7 126.1h0M460.1 131.3h0M480.1 119.2h0M452.1 145.8h0M478.0 113.1h0M474.8 126.1h0M468.9 130.9h0M464.0 133.8h0M481.5 115.3h0M467.2 136.5h0M465.6 130.2h0M460.2 131.8h0M484.1 109.2h0M496.4 107.3h0M485.6 118.4h0M453.0 148.4h0M473.1 107.7h0M472.4 124.5h0M467.6 133.5h0M464.1 132.4h0M465.0 127.8h0"/><path stroke="#37c897" d="M497.9 110.4h0M461.7 146.9h0M462.9 112.8h0M476.2 121.2h0M483.1 122.8h0M479.6 119.1h0M462.6 128.6h0M466.0 120.7h0M459.0 145.6h0M461.4 133.5h0M480.1 119.1h0M488.3 114.6h0M496.7 118.5h0M489.9 124.0h0M488.8 109.5h0M488.2 102.1h0M477.3 123.5h0M464.8 132.6h0M462.8 131.0h0M480.1 132.8h0M472.2 117.3h0M481.2 113.3h0M467.3 134.3h0M497.9 117.5h0M472.7 120.7h0M466.4 144.9h0M482.4 122.3h0M484.1 117.9h0M456.1 140.8h0M492.3 133.0h0M492.9 106.6h0M485.5 109.1h0M459.5 122.5h0M477.8 118.2h0M494.4 127.4h0M466.5 137.2h0M465.5 129.4h0M472.7 137.7h0M457.3 141.0h0M474.3 118.5h0"/><path stroke="#3fca8e" d="M468.0 129.0h0M483.7 119.5h0M455.1 147.6h0M495.4 113.5h0M444.7 150.6h0M456.9 146.8h0M458.6 147.0h0M457.2 135.7h0M479.4 132.9h0M454.9 147.5h0M473.3 132.2h0M448.4 139.4h0M478.3 135.5h0M463.6 123.2h0M447.5 133.8h0M482.5 130.5h0M465.7 147.7h0M454.7 142.5h0M448.4 141.2h0M448.5 150.7h0M471.2 146.2h0M469.7 131.7h0M467.4 133.6h0M482.5 136.5h0M458.1 145.1h0M459.6 126.3h0M494.4 117.1h0M468.3 139.0h0M453.2 146.7h0M459.9 141.6h0M479.2 125.4h0M458.9 143.4h0M465.0 132.6h0M462.3 140.4h0M456.9 144.6h0M459.1 140.6h0M469.4 115.5h0M461.2 142.6h0M455.5 133.5h0M487.2 113.3h0M490.7 121.4h0M452.0 142.1h0M475.6 114.9h0M450.4 140.0h0"/><path stroke="#4acb84" d="M472.3 128.2h0M489.1 121.7h0M489.0 125.3h0M484.5 140.2h0M484.4 117.2h0M482.7 133.2h0M479.6 130.8h0M469.2 141.1h0M487.1 132.4h0M465.3 143.2h0M487.4 119.4h0M470.0 118.6h0M483.7 121.8h0M448.3 133.6h0M461.4 144.8h0M456.0 136.2h0M488.8 115.1h0M482.0 122.8h0M488.6 114.4h0M481.0 142.7h0M459.8 137.7h0M493.4 129.4h0M475.1 123.9h0M485.5 123.7h0M485.1 116.6h0M492.1 115.0h0M472.6 128.2h0M476.1 133.4h0M487.6 115.7h0M483.7 133.8h0M459.2 151.8h0M465.1 131.7h0M485.2 133.5h0M475.6 134.9h0M452.2 146.9h0M497.8 120.1h0M473.6 136.5h0"/><path stroke="#57cc7a" d="M453.3 151.1h0M496.4 106.9h0M471.4 150.0h0M455.4 150.8h0M460.5 150.2h0M458.0 151.1h0M478.4 122.2h0M473.6 130.4h0M457.8 150.9h0M497.1 123.0h0M466.4 126.4h0M464.6 143.6h0M479.0 121.3h0M479.0 126.1h0M480.2 125.6h0M496.2 115.9h0M479.7 120.5h0M455.5 141.7h0M461.7 135.3h0M482.8 124.9h0M480.7 126.3h0M482.0 130.5h0M478.0 120.8h0M463.4 136.7h0M481.8 112.6h0M478.8 109.7h0M496.0 124.8h0M485.9 120.5h0M476.7 109.5h0M470.2 138.3h0M486.6 116.5h0M482.6 122.3h0M473.2 132.6h0M452.8 146.6h0M467.1 138.9h0M468.4 125.7h0M467.5 146.5h0"/><path stroke="#64cd6f" d="M472.5 148.9h0M494.4 123.5h0M461.7 145.2h0M477.4 131.8h0M480.9 127.7h0M486.0 126.8h0M497.2 118.2h0M491.9 134.1h0M460.9 143.1h0M471.7 122.6h0M460.4 138.1h0M476.8 130.8h0M488.7 121.0h0M481.1 132.4h0M477.5 126.6h0M497.9 114.4h0M480.8 121.7h0M482.3 139.7h0M492.3 124.8h0M469.8 145.7h0M480.8 137.3h0M490.9 127.1h0M457.6 130.5h0M483.1 132.0h0M460.3 146.5h0M483.5 126.4h0M478.1 128.5h0M496.7 120.9h0"/><path stroke="#72cd64" d="M475.6 137.8h0M474.1 139.6h0M492.6 115.3h0M493.5 119.5h0M465.9 134.2h0M457.0 148.0h0M480.0 122.5h0M454.2 149.9h0M480.5 125.6h0M491.5 126.0h0M484.8 136.8h0M486.9 111.3h0M483.4 126.5h0M497.7 125.7h0M483.3 124.3h0M483.5 134.2h0M487.4 130.4h0M490.4 139.6h0M483.1 129.2h0M475.5 119.3h0M478.7 137.7h0M459.0 151.4h0M484.0 131.6h0M462.1 145.4h0M487.0 143.3h0M481.4 120.8h0M482.4 131.7h0M498.3 110.8h0M461.9 150.2h0"/><path stroke="#81cc59" d="M483.2 128.0h0M475.7 145.9h0M482.0 125.5h0M489.2 128.1h0M469.2 144.2h0M479.4 151.6h0M458.5 141.5h0M461.9 150.9h0M480.1 134.9h0M492.6 126.0h0M494.4 129.0h0M491.5 124.3h0M460.9 143.7h0M497.1 123.5h0M494.2 117.2h0M494.3 116.8h0M470.9 141.4h0M492.9 125.0h0M472.5 139.0h0M490.9 130.5h0"/><path stroke="#8fcb4e" d="M496.0 130.8h0M466.1 139.8h0M483.2 144.3h0M476.9 132.9h0M480.2 146.8h0M477.5 137.9h0M497.7 134.5h0M468.2 142.7h0M498.2 118.2h0M491.4 137.5h0M464.8 139.6h0M482.2 149.9h0M460.5 141.7h0M476.9 130.6h0M493.0 119.4h0M482.9 136.1h0M472.1 128.6h0M473.9 129.9h0M471.4 147.0h0M462.8 144.7h0M474.4 140.6h0M493.3 120.8h0M473.6 135.5h0M471.4 145.3h0M481.0 132.2h0M469.1 147.9h0M477.2 136.0h0M487.1 129.2h0M474.7 146.0h0M489.4 139.8h0M492.7 127.8h0M476.0 144.5h0"/><path stroke="#9dc943" d="M467.7 151.4h0M486.1 127.2h0M485.4 130.9h0M473.8 141.7h0M494.9 133.2h0M477.1 151.9h0M485.3 126.3h0M470.3 151.4h0M481.2 138.6h0M485.1 137.8h0M479.9 128.8h0M461.2 151.8h0M493.6 131.2h0M473.6 147.0h0M486.8 125.3h0M486.8 130.2h0M493.5 139.7h0M473.8 148.3h0M476.7 129.9h0M475.7 126.4h0M473.2 149.4h0M449.8 151.2h0M493.7 120.6h0"/><path stroke="#abc739" d="M491.7 141.7h0M493.0 146.1h0M497.4 116.6h0M481.5 149.6h0M482.7 123.9h0M488.0 133.0h0M489.3 148.9h0M475.4 130.7h0M482.8 140.6h0M469.7 142.2h0M495.5 146.0h0M467.4 149.7h0M482.1 145.2h0M480.3 142.8h0M491.6 122.8h0M477.1 136.8h0M486.0 143.7h0M460.5 148.9h0M491.8 128.4h0"/><path stroke="#b9c431" d="M471.1 146.6h0M490.5 136.8h0M492.0 136.1h0M467.2 145.7h0M473.9 141.9h0M473.2 144.9h0M494.8 133.9h0M494.8 126.8h0M484.6 142.4h0M492.4 144.3h0M490.6 131.8h0M487.0 118.7h0M489.5 130.7h0M480.1 141.7h0M496.9 114.9h0M489.9 136.3h0M468.7 147.8h0M494.1 123.5h0M478.2 138.8h0M493.3 129.8h0M485.1 130.1h0M479.7 142.5h0M491.0 135.1h0M476.8 145.8h0M470.9 149.4h0M491.3 150.6h0M481.3 120.1h0M478.3 139.1h0M497.3 140.2h0M472.5 143.5h0M484.6 141.9h0M470.2 140.5h0M461.1 150.7h0M491.4 144.9h0M483.7 124.0h0M486.8 134.5h0M483.4 131.4h0"/><path stroke="#c5c22a" d="M490.8 129.1h0M494.5 129.2h0M497.5 116.8h0M484.8 142.3h0M468.6 145.9h0M491.1 142.5h0M489.6 133.2h0M493.4 137.6h0M468.9 142.5h0M481.4 130.1h0M490.9 144.5h0M488.1 138.7h0M495.6 138.2h0M476.1 144.8h0M468.1 151.7h0M492.8 143.4h0M464.1 138.6h0M473.7 133.0h0M481.0 134.5h0M470.1 145.8h0M467.3 144.7h0M489.8 138.9h0"/><path stroke="#d1bf27" d="M476.1 147.1h0M496.5 132.7h0M475.1 137.5h0M474.6 148.0h0M494.9 151.9h0M492.2 135.9h0M486.7 138.3h0M483.2 122.5h0M480.6 141.1h0M497.6 144.9h0M476.1 142.3h0M492.0 140.7h0M475.1 148.9h0M486.9 144.8h0M488.2 144.0h0"/><path stroke="#dcbd29" d="M496.6 137.2h0M491.4 133.4h0M498.1 132.3h0M490.7 143.1h0M496.1 147.4h0M492.4 133.4h0M490.2 146.5h0M497.6 133.1h0M481.0 149.2h0M494.5 120.1h0M486.7 149.0h0M497.7 131.3h0M487.0 150.4h0M495.7 133.4h0M490.7 135.9h0M484.6 147.4h0M485.5 148.1h0"/><path stroke="#e6bb2d" d="M488.5 141.7h0M494.7 139.5h0M479.1 146.4h0M477.7 139.6h0M490.8 135.4h0M496.0 149.9h0M486.8 145.8h0M469.1 148.3h0M474.7 150.5h0M495.1 146.7h0"/><path stroke="#f0ba36" d="M487.5 145.9h0M491.5 149.5h0M485.7 145.6h0M473.2 142.0h0M485.7 151.8h0M485.1 145.7h0M491.3 136.6h0M487.5 147.1h0M470.9 145.1h0M488.1 141.8h0M479.3 151.5h0"/><path stroke="#f8ba3d" d="M498.2 151.8h0M497.9 146.6h0M488.4 142.8h0M487.3 150.2h0M494.4 130.3h0M489.0 148.9h0M483.1 150.1h0M487.1 151.4h0M488.0 142.7h0"/><path stroke="#febe3c" d="M497.8 128.6h0M495.4 142.5h0M493.8 138.9h0M469.4 149.0h0M493.9 125.6h0M488.0 125.5h0M488.2 145.2h0M477.7 142.7h0M476.1 148.4h0"/><path stroke="#fec338" d="M493.2 151.8h0M495.5 146.9h0M490.2 148.9h0M486.9 151.1h0M492.1 151.3h0M485.6 149.5h0M492.4 144.1h0M488.2 148.8h0"/><path stroke="#fec934" d="M496.0 144.1h0M494.4 141.5h0M498.4 127.3h0M490.2 150.1h0"/><path stroke="#fccf30" d="M481.1 148.7h0M482.3 141.6h0M496.3 147.6h0M480.4 145.6h0M497.8 146.7h0"/><path stroke="#fad62d" d="M475.2 151.3h0M497.1 150.2h0M496.0 143.8h0M494.0 140.4h0M491.2 149.0h0M497.1 143.5h0"/><path stroke="#f5e327" d="M497.8 136.6h0M490.9 151.2h0M498.3 143.1h0M486.1 148.5h0"/><path stroke="#4537d5" d="M459.4 90.3h0"/><path stroke="#463cde" d="M472.5 87.0h0M426.0 128.0h0M421.0 149.7h0"/><path stroke="#4741e5" d="M458.8 91.3h0M425.9 143.1h0M431.6 114.4h0"/><path stroke="#4747eb" d="M495.9 80.8h0M494.4 81.0h0"/><path stroke="#484df0" d="M420.5 141.8h0M485.9 87.3h0M422.6 132.6h0M460.3 89.9h0M442.1 105.4h0M461.3 91.6h0M466.0 91.0h0"/><path stroke="#4852f4" d="M463.9 89.7h0M430.2 121.0h0M489.8 81.5h0M463.1 88.9h0M440.2 102.3h0M436.2 108.7h0"/><path stroke="#4758f8" d="M448.4 97.3h0M468.8 90.7h0M461.3 92.1h0M442.4 102.1h0M423.8 132.6h0M442.2 105.3h0M485.0 84.5h0M494.8 84.3h0M458.0 99.5h0M490.8 84.0h0M424.8 129.9h0M480.0 83.8h0M419.7 148.8h0M483.5 82.7h0M456.3 102.3h0M455.6 93.9h0M464.6 90.1h0M430.5 123.1h0M437.8 114.7h0"/><path stroke="#465efb" d="M451.5 96.8h0M475.8 88.4h0M460.9 92.6h0M433.6 128.5h0M471.5 91.5h0M420.7 142.8h0M456.0 106.5h0M461.9 90.7h0M437.9 111.7h0M488.6 85.3h0M494.9 85.1h0M483.7 85.6h0M457.8 97.6h0M426.0 126.2h0M479.5 87.3h0M422.0 148.9h0M433.2 111.3h0M438.3 104.4h0M473.7 85.5h0M425.3 135.1h0M422.8 138.0h0"/><path stroke="#4563fd" d="M460.6 101.1h0M465.5 88.4h0M446.3 104.0h0M429.2 144.1h0M486.3 83.4h0M430.0 150.0h0M433.7 115.3h0M468.8 87.7h0M496.8 82.4h0M422.1 148.1h0M429.3 123.1h0M424.2 134.0h0M484.2 90.9h0M476.0 88.1h0M436.5 117.8h0M424.8 151.6h0M461.2 93.6h0M420.9 151.2h0M463.5 89.7h0M430.1 126.9h0M435.0 109.8h0M425.5 139.4h0M459.8 92.1h0"/><path stroke="#4269fe" d="M478.5 85.6h0M463.6 95.3h0M446.9 99.9h0M448.8 100.0h0M475.5 92.0h0M496.3 86.7h0M461.1 90.6h0M493.5 81.4h0M428.9 137.8h0M439.2 111.2h0M420.2 149.6h0M427.5 123.3h0M440.9 103.1h0M460.3 99.0h0M457.5 91.5h0M423.2 142.7h0M453.2 103.9h0M442.5 118.5h0M448.1 101.2h0M435.7 120.7h0M425.2 135.3h0M441.8 109.9h0M454.8 101.5h0M424.9 137.2h0M424.7 149.9h0M425.3 137.2h0M435.6 113.7h0M464.5 96.6h0M436.5 119.2h0"/><path stroke="#3e6fff" d="M439.1 109.1h0M498.0 89.1h0M422.5 134.9h0M480.7 85.8h0M430.7 127.6h0M422.8 134.0h0M447.2 104.3h0M466.3 87.6h0M462.7 91.7h0M469.1 86.6h0M421.0 148.5h0M496.2 82.5h0M477.7 88.3h0M419.5 144.0h0M436.1 117.7h0M450.5 107.1h0M445.1 109.9h0M426.9 121.1h0M429.2 126.6h0M489.3 89.3h0M479.3 83.6h0M455.5 95.3h0M432.1 120.3h0M452.1 101.8h0M442.0 116.3h0M488.4 84.6h0M495.3 86.3h0M431.7 117.8h0M465.5 93.6h0M480.5 94.4h0M427.9 141.4h0M461.3 101.0h0M428.1 138.8h0"/><path stroke="#3875fe" d="M425.0 142.2h0M473.7 92.0h0M424.0 142.8h0M452.9 109.8h0M422.9 146.5h0M439.0 111.5h0M443.7 103.1h0M422.6 133.2h0M435.1 111.0h0M439.5 103.9h0M458.4 97.1h0M426.3 134.5h0M426.4 149.0h0M458.0 100.7h0M468.3 98.5h0M445.5 98.2h0M434.4 110.2h0M440.4 106.3h0M429.9 132.5h0M478.8 91.5h0M453.5 100.1h0M422.8 132.4h0M432.3 120.8h0M457.9 102.0h0M432.9 116.7h0M425.3 134.7h0M425.4 139.6h0M449.5 95.2h0M457.5 92.3h0"/><path stroke="#327cfc" d="M467.6 87.9h0M461.7 94.4h0M460.6 91.7h0M430.1 125.7h0M438.7 129.3h0M427.0 125.2h0M451.1 103.5h0M450.3 105.0h0M460.4 104.2h0M424.8 140.5h0M433.9 129.1h0M477.1 94.0h0M450.1 99.4h0M439.0 126.5h0M438.3 110.4h0M421.3 140.6h0M472.8 99.0h0M434.3 138.3h0M429.1 136.4h0M467.8 98.5h0M450.7 97.8h0M467.5 97.2h0M441.8 108.8h0M432.6 115.5h0M441.1 121.4h0M444.4 112.8h0M470.6 97.6h0M472.4 93.2h0M423.6 132.6h0M487.3 86.6h0M460.3 96.6h0M424.5 136.3h0M425.2 146.5h0M475.9 90.2h0M438.1 120.4h0M427.5 145.7h0M453.7 101.6h0M434.9 110.7h0M434.5 127.1h0M453.2 93.0h0M476.7 96.9h0M473.0 93.4h0M430.1 140.1h0M467.8 90.1h0"/><path stroke="#2f81fa" d="M476.7 93.4h0M448.9 102.4h0M476.6 84.6h0M448.2 98.9h0M430.4 134.8h0M450.7 120.7h0M453.9 96.0h0M487.5 88.6h0M432.0 124.6h0M431.1 134.0h0M486.0 84.3h0M432.9 129.6h0M421.5 150.7h0M457.3 97.2h0M435.0 116.2h0M445.8 114.8h0M433.5 125.7h0M430.6 126.8h0M481.8 88.7h0M467.8 96.6h0M428.7 122.5h0M434.2 135.7h0M419.6 146.0h0M457.7 96.5h0M474.0 92.2h0M438.9 106.9h0M497.4 87.3h0M457.7 101.3h0M445.9 109.9h0M430.4 148.3h0M462.7 99.9h0M439.6 108.2h0M495.2 82.4h0M436.5 123.3h0M473.7 87.9h0M426.9 133.5h0M435.5 121.1h0M423.3 151.1h0M439.6 111.2h0M498.2 91.0h0M494.5 82.8h0M445.5 113.7h0M461.3 103.3h0M439.2 119.0h0M421.7 149.8h0"/><path stroke="#2e87f7" d="M427.1 134.6h0M425.5 144.3h0M484.3 83.8h0M430.3 128.5h0M434.7 116.3h0M476.5 88.7h0M452.9 97.7h0M427.4 132.8h0M428.5 140.2h0M454.6 113.7h0M432.0 121.1h0M438.5 115.9h0M474.1 98.5h0M422.9 148.6h0M433.1 120.7h0M463.4 108.0h0M427.2 132.1h0M449.8 106.9h0M473.3 88.9h0M451.4 110.5h0M490.2 85.2h0M440.0 139.5h0M445.9 106.9h0M443.6 110.5h0M435.4 117.7h0M456.8 120.4h0M419.8 149.8h0M429.8 130.0h0M426.3 141.7h0M465.9 101.3h0M455.0 98.7h0M456.4 96.7h0M428.8 150.0h0M426.7 143.2h0M432.2 136.2h0M479.8 94.9h0M448.3 113.2h0M425.1 130.7h0M433.8 127.7h0M428.2 136.6h0M452.9 106.4h0M444.1 110.0h0M434.1 126.3h0M492.1 91.9h0M457.9 101.4h0M431.7 115.7h0M421.2 150.0h0M479.9 96.8h0M454.2 99.7h0M465.9 101.4h0M448.4 104.4h0M452.0 97.6h0M436.9 110.1h0"/><path stroke="#2d8cf3" d="M449.0 110.8h0M440.2 114.6h0M450.4 115.1h0M445.8 118.1h0M495.7 90.7h0M431.4 135.6h0M445.4 105.6h0M436.4 125.0h0M496.1 85.4h0M425.8 135.0h0M435.8 118.7h0M478.8 95.1h0M427.7 146.1h0M436.0 120.0h0M441.6 125.8h0M461.5 97.8h0M448.0 101.6h0M462.4 97.9h0M494.3 86.8h0M464.1 93.8h0M437.8 123.1h0M434.7 133.0h0M465.3 96.2h0M455.4 104.2h0M426.1 140.3h0M462.6 99.2h0M453.9 102.7h0M429.1 142.5h0M495.8 86.1h0M432.2 127.1h0M438.0 122.4h0M456.6 103.3h0M458.1 109.7h0M441.3 122.9h0M461.2 101.9h0M441.0 104.8h0M442.9 112.6h0M467.2 94.0h0M470.3 96.7h0M443.4 122.0h0M450.1 107.6h0M459.1 109.6h0M432.7 130.3h0M483.8 95.1h0M454.7 112.0h0M421.9 138.1h0M462.1 96.0h0M424.8 138.3h0M428.4 138.3h0M463.9 93.7h0"/><path stroke="#2b91ef" d="M436.4 126.3h0M431.2 139.1h0M423.7 150.8h0M460.0 96.8h0M445.9 112.5h0M458.7 96.9h0M440.6 127.4h0M464.0 103.4h0M471.7 93.0h0M450.6 100.4h0M443.2 117.8h0M475.5 97.2h0M439.3 134.4h0M432.6 139.2h0M435.6 129.3h0M429.7 141.9h0M446.1 116.1h0M445.1 117.9h0M496.5 95.1h0M462.6 104.1h0M473.7 92.1h0M438.6 131.8h0M449.6 95.4h0M443.5 113.7h0M471.3 96.2h0M444.3 116.5h0M486.6 83.4h0M439.8 134.6h0M462.6 96.0h0M432.6 133.3h0M454.1 102.5h0M427.5 139.4h0M423.5 147.5h0M453.3 116.4h0M454.5 100.3h0M442.0 132.9h0M443.2 119.3h0M441.6 116.9h0M449.6 114.2h0M429.3 143.0h0M450.8 105.7h0M495.9 90.7h0M460.2 106.9h0M458.1 93.7h0"/><path stroke="#2797eb" d="M434.7 132.8h0M449.0 116.6h0M435.1 136.9h0M488.8 88.4h0M468.4 105.6h0M465.5 104.3h0M431.6 149.5h0M463.9 109.0h0M426.1 140.5h0M430.2 146.6h0M459.5 105.3h0M450.0 124.6h0M458.7 115.7h0M495.1 95.7h0M434.0 139.0h0M440.1 117.0h0M476.1 94.0h0M456.2 114.2h0M477.8 98.4h0M460.4 115.5h0M430.0 133.6h0M427.8 143.9h0M488.6 84.4h0M493.3 87.7h0M475.1 101.6h0M483.2 97.6h0M489.7 86.2h0M462.2 110.6h0M454.1 96.8h0M480.5 94.1h0M489.0 98.7h0M453.6 114.8h0M496.0 81.5h0M474.5 104.5h0M432.3 140.4h0M460.9 112.4h0M485.0 98.1h0M461.6 112.4h0M476.4 97.8h0M489.2 95.2h0M438.5 126.7h0M466.9 114.9h0M461.7 98.9h0M429.2 146.2h0M456.8 99.8h0M441.1 121.2h0M431.9 125.0h0M432.2 132.2h0M463.8 98.0h0M440.1 136.0h0M489.7 87.6h0"/><path stroke="#259be8" d="M440.2 141.0h0M435.3 129.8h0M477.2 95.4h0M450.8 141.2h0M460.9 104.6h0M436.9 139.2h0M448.4 112.0h0M450.4 111.8h0M463.1 101.7h0M484.6 89.8h0M453.5 119.2h0M463.2 123.3h0M462.3 106.5h0M453.1 121.7h0M437.8 130.3h0M452.7 103.2h0M444.1 121.2h0M451.5 103.8h0M450.3 113.7h0M495.8 91.7h0M434.1 141.8h0M445.2 123.3h0M476.9 98.5h0M438.2 115.4h0M439.9 128.7h0M458.1 106.5h0M439.5 139.5h0M447.2 132.0h0M438.1 124.2h0M431.8 149.6h0M430.7 148.0h0M489.8 86.3h0M448.8 108.2h0M426.9 143.7h0M437.3 147.4h0M443.9 115.8h0M438.1 131.9h0M435.0 129.3h0M448.6 117.5h0M459.7 98.8h0M455.3 106.9h0M433.0 146.1h0M427.3 136.0h0M456.9 105.8h0M490.3 97.4h0M444.4 118.7h0M461.6 96.9h0M442.0 139.0h0M427.0 141.5h0M429.9 138.9h0"/><path stroke="#23a0e5" d="M439.6 146.7h0M447.9 126.9h0M479.2 100.9h0M455.2 100.4h0M482.0 96.1h0M452.2 125.9h0M436.1 128.8h0M470.5 98.0h0M435.5 116.3h0M433.9 146.9h0M457.4 122.6h0M478.6 101.4h0M455.2 109.7h0M437.7 137.1h0M478.5 107.2h0M436.6 114.9h0M458.8 111.0h0M452.6 106.1h0M441.0 147.4h0M495.8 97.7h0M484.6 89.8h0M434.7 117.3h0M445.6 125.8h0M428.8 148.7h0M429.6 137.9h0M469.0 101.6h0M434.3 149.6h0M489.9 93.7h0M438.5 128.8h0M450.9 105.0h0M477.5 91.4h0M435.1 139.7h0M459.8 106.7h0M433.7 136.3h0M465.2 101.3h0M428.1 149.1h0M463.5 101.0h0M478.7 94.7h0M493.9 93.0h0M451.3 137.3h0M465.2 113.8h0M437.9 130.8h0M472.3 115.4h0M471.7 101.7h0M459.9 127.7h0M469.4 106.6h0M480.7 108.2h0M458.2 105.7h0M441.1 133.9h0M440.5 134.7h0M426.5 148.5h0M465.0 108.0h0M455.7 119.6h0M424.4 147.9h0"/><path stroke="#20a5e3" d="M484.8 94.5h0M481.0 97.3h0M491.7 99.4h0M442.4 129.1h0M459.4 127.7h0M451.0 118.9h0M447.0 118.2h0M440.5 130.6h0M475.8 99.0h0M470.3 96.6h0M449.7 114.8h0M442.6 129.2h0M433.2 141.6h0M439.6 118.6h0M454.7 113.6h0M456.8 113.8h0M485.1 100.9h0M471.0 121.6h0M438.5 134.8h0M478.8 94.5h0M475.5 104.1h0M438.2 121.7h0M465.7 104.7h0M429.3 127.6h0M460.1 104.3h0M486.3 88.5h0M488.4 101.1h0M444.2 132.0h0M496.7 86.5h0M473.1 96.8h0M495.3 92.6h0M468.0 105.8h0M453.3 109.4h0M427.4 150.0h0M443.4 123.0h0M486.3 95.6h0M471.2 92.7h0M465.9 113.7h0M458.2 103.1h0M442.7 145.6h0M451.6 106.3h0M461.7 104.6h0M445.7 150.0h0M432.0 141.1h0M430.1 145.5h0M492.1 98.6h0M437.7 141.0h0M455.5 122.7h0M481.1 102.9h0M451.4 122.1h0M436.0 136.2h0M454.9 113.3h0M458.3 104.4h0M474.8 97.6h0M486.8 101.6h0M493.6 92.5h0M454.2 127.1h0M475.4 99.6h0M456.0 122.6h0M498.0 93.6h0M433.0 140.7h0M482.4 100.2h0M444.4 107.7h0"/><path stroke="#1ca9df" d="M443.8 150.8h0M494.1 106.6h0M486.9 96.4h0M438.7 139.4h0M463.1 98.3h0M445.4 129.8h0M472.1 89.8h0M436.6 130.5h0M494.8 98.5h0M483.6 113.3h0M454.0 121.0h0M441.1 134.1h0M460.3 126.3h0M461.1 103.7h0M487.9 96.6h0M458.0 114.7h0M445.3 124.8h0M440.9 132.8h0M481.9 92.3h0M451.2 119.1h0M446.4 145.6h0M449.0 108.6h0M458.2 106.2h0M450.6 116.8h0M438.2 116.8h0M427.6 151.9h0M451.9 114.6h0M479.8 105.2h0M447.6 129.3h0M477.8 107.2h0M447.7 125.6h0M450.4 120.1h0M438.2 150.8h0M433.0 129.7h0M466.5 119.0h0M437.8 139.0h0M454.7 110.1h0M477.6 107.7h0M462.6 113.4h0M460.2 106.1h0M439.0 132.4h0M480.6 99.7h0M437.5 141.2h0M439.9 144.9h0M435.5 124.8h0M451.3 124.5h0M463.5 103.6h0M429.1 147.4h0M491.0 97.2h0M471.9 99.1h0M441.5 125.2h0M488.8 101.7h0M454.8 114.2h0M488.5 97.2h0M451.6 110.5h0"/><path stroke="#18addb" d="M436.7 139.6h0M479.7 97.3h0M469.7 105.1h0M443.0 122.2h0M453.7 110.5h0M450.3 100.4h0M453.2 117.8h0M459.7 110.3h0M439.0 147.5h0M453.4 131.9h0M471.9 112.4h0M470.3 121.4h0M459.5 110.2h0M486.6 99.0h0M440.1 149.5h0M471.5 102.5h0M436.1 143.0h0M477.4 96.2h0M481.6 95.6h0M467.2 114.9h0M435.3 145.8h0M447.0 134.0h0M474.5 88.5h0M478.5 103.8h0M457.0 112.5h0M479.2 115.6h0M463.0 103.2h0M482.1 96.6h0M473.6 101.8h0M437.1 137.3h0M493.2 98.9h0M495.2 99.0h0M443.8 127.0h0M496.7 92.9h0M459.4 129.3h0M452.4 128.2h0M452.3 133.7h0M493.7 96.4h0"/><path stroke="#12b1d6" d="M471.3 96.4h0M443.3 134.9h0M438.2 148.6h0M459.2 128.6h0M483.3 108.0h0M437.8 151.8h0M428.7 145.5h0M468.8 109.9h0M486.2 99.6h0M451.1 117.0h0M452.7 130.6h0M481.6 93.7h0M439.5 135.3h0M460.7 128.4h0M439.0 144.5h0M495.7 88.5h0M489.0 95.9h0M467.6 103.4h0M490.8 91.2h0M449.5 130.3h0M451.7 128.7h0M485.7 102.9h0M446.9 142.2h0M460.3 112.3h0M467.0 116.4h0M476.5 103.5h0M439.8 130.2h0M496.5 99.6h0M472.9 119.2h0M486.6 94.8h0M481.5 97.8h0M489.3 108.9h0M462.4 104.3h0M446.0 124.7h0M476.3 97.9h0M450.6 124.1h0M445.9 139.1h0M452.1 132.3h0M477.1 98.5h0M439.6 130.0h0M455.9 124.5h0M444.6 148.8h0M446.7 140.1h0M488.2 91.8h0M441.9 139.8h0M492.7 99.5h0M435.4 135.3h0M472.8 99.9h0M468.9 109.5h0M492.6 91.6h0M434.1 146.9h0M455.4 123.0h0M482.6 106.3h0M492.1 112.7h0M458.1 102.5h0M433.1 141.0h0M464.2 120.3h0M452.1 116.5h0M459.9 116.3h0"/><path stroke="#08b5d0" d="M480.4 112.8h0M443.4 132.1h0M444.7 146.0h0M450.3 124.1h0M445.9 138.2h0M473.8 112.7h0M446.1 123.8h0M489.4 115.5h0M468.6 116.6h0M436.9 144.1h0M477.9 95.3h0M446.3 148.6h0M455.6 132.5h0M473.6 114.2h0M483.5 100.6h0M450.2 136.4h0M449.9 121.0h0M492.9 89.2h0M447.0 140.8h0M477.5 112.2h0M498.2 92.0h0M445.6 116.7h0M446.1 141.7h0M448.1 137.1h0M451.7 140.4h0M481.1 114.8h0M459.4 130.6h0M485.4 104.1h0M479.3 115.1h0M493.3 93.9h0M429.4 144.6h0M436.4 140.6h0M461.7 118.6h0M444.2 146.8h0M480.4 116.0h0M440.6 140.4h0M435.1 149.9h0M467.2 111.7h0M469.0 102.4h0M434.9 147.2h0M446.3 141.5h0M482.1 102.5h0M450.0 128.8h0M474.7 114.8h0M430.8 143.6h0M464.4 121.9h0M458.5 121.3h0M455.3 132.5h0M436.9 149.0h0M450.7 133.1h0"/><path stroke="#01b8ca" d="M447.5 147.6h0M469.5 116.9h0M437.9 140.1h0M476.7 110.1h0M446.3 144.0h0M495.9 103.2h0M445.7 120.3h0M445.1 151.4h0M452.0 100.1h0M468.5 117.4h0M446.9 137.6h0M458.1 126.4h0M448.3 142.3h0M461.4 115.3h0M486.2 102.2h0M474.7 109.1h0M456.4 125.9h0M427.9 144.4h0M481.1 105.6h0M438.4 148.2h0M482.7 94.7h0M454.2 117.7h0M431.6 140.0h0M459.8 108.8h0M447.9 147.4h0M449.9 129.2h0M449.7 139.7h0M437.8 144.6h0M446.7 150.8h0M442.5 151.5h0M477.6 97.4h0M451.7 126.9h0M493.7 101.1h0M495.6 100.5h0M457.2 119.5h0M435.3 137.3h0M488.7 110.4h0M475.6 120.0h0M491.5 111.3h0M442.0 134.9h0M453.2 135.4h0M470.9 112.0h0M447.1 144.9h0M448.0 127.2h0M452.5 114.2h0"/><path stroke="#02bac3" d="M481.6 118.7h0M485.3 109.1h0M464.3 117.3h0M490.8 117.3h0M457.5 118.8h0M474.4 103.3h0M490.8 104.7h0M477.0 110.8h0M478.3 110.2h0M443.4 126.8h0M458.0 116.0h0M464.4 137.7h0M454.8 136.9h0M469.5 114.2h0M464.5 117.5h0M446.5 112.2h0M479.4 121.9h0M473.4 113.4h0M454.8 126.3h0M476.6 119.0h0M435.9 141.8h0M445.5 135.8h0M438.2 145.1h0M463.7 120.0h0M449.3 148.8h0M476.2 97.0h0M449.0 147.2h0M455.5 116.4h0M456.4 128.4h0M482.5 103.2h0M463.7 126.0h0M459.9 128.6h0M439.0 149.6h0M482.9 102.1h0M468.9 100.5h0M476.8 119.4h0M495.8 99.4h0M441.0 138.1h0M449.0 144.1h0M480.2 99.9h0M444.1 122.3h0M461.1 123.6h0M473.6 100.5h0M474.0 101.6h0M442.4 151.8h0M472.9 119.9h0M442.3 150.8h0M449.2 129.2h0M478.5 113.7h0M458.4 122.8h0M454.6 139.6h0M492.0 98.1h0"/><path stroke="#0bbdbc" d="M457.6 134.0h0M453.7 150.3h0M463.9 125.2h0M497.1 102.0h0M492.6 103.1h0M474.0 126.9h0M487.3 104.8h0M454.6 136.5h0M439.9 149.5h0M496.1 103.6h0M465.2 111.0h0M471.5 114.4h0M445.2 133.0h0M453.8 137.7h0M490.6 108.4h0M492.0 97.8h0M442.7 145.1h0M458.0 130.6h0M467.7 125.3h0M496.3 107.8h0M435.8 140.2h0M475.6 112.5h0M445.9 144.2h0M482.7 124.4h0M492.1 98.8h0M440.9 146.1h0M469.5 105.8h0M475.5 121.6h0M456.7 146.6h0M461.4 122.4h0M473.1 121.7h0M463.7 118.4h0M450.3 129.8h0M436.1 151.3h0M473.4 102.7h0M472.1 115.2h0M483.7 112.9h0M477.9 105.5h0M489.6 103.4h0M487.1 120.1h0M453.8 138.5h0M456.1 115.4h0M456.1 129.3h0M454.9 134.9h0M478.2 108.4h0"/><path stroke="#19bfb5" d="M479.2 106.7h0M456.6 129.5h0M469.0 116.0h0M443.9 140.5h0M474.2 118.0h0M493.3 105.9h0M459.3 144.5h0M476.6 131.0h0M454.3 148.8h0M445.3 144.3h0M463.5 133.2h0M474.3 120.1h0M449.2 150.7h0M455.0 126.8h0M464.1 118.3h0M485.6 109.0h0M457.3 143.8h0M459.2 146.3h0M495.6 107.2h0M462.7 127.0h0M446.7 142.8h0M464.2 120.7h0M460.0 132.3h0M482.5 109.6h0M495.0 102.6h0M436.4 149.7h0M454.0 133.4h0M446.0 149.4h0M466.3 117.6h0M482.2 122.7h0M438.8 148.2h0M446.6 139.5h0M484.9 120.4h0M479.6 120.4h0M480.6 113.2h0M443.6 139.7h0M473.0 133.5h0M456.5 122.9h0M451.5 149.9h0M497.2 108.0h0M448.3 146.4h0M495.0 96.5h0M473.0 119.6h0M454.0 126.0h0M479.6 109.8h0M473.6 127.4h0M439.8 150.3h0M468.6 132.7h0M455.0 127.8h0M436.8 136.5h0M466.6 115.5h0M463.3 129.0h0M451.7 128.2h0M458.7 118.4h0M467.0 112.1h0M485.5 112.8h0"/><path stroke="#24c1ae" d="M497.1 112.1h0M448.7 142.7h0M454.0 140.5h0M470.8 123.3h0M487.1 101.4h0M462.4 128.3h0M489.1 117.9h0M450.1 140.8h0M483.9 112.5h0M483.9 120.5h0M473.8 118.8h0M494.7 107.0h0M445.1 137.1h0M473.2 116.2h0M492.1 104.8h0M454.2 136.6h0M469.3 126.6h0M462.8 144.7h0M449.9 117.7h0M467.4 117.8h0M459.1 149.4h0M497.7 100.1h0M451.2 141.9h0M485.2 108.1h0M489.5 96.9h0M474.0 121.4h0M467.3 113.0h0M490.7 105.1h0"/><path stroke="#2cc4a6" d="M470.3 135.2h0M479.0 121.1h0M447.1 135.5h0M470.5 127.5h0M470.2 136.4h0M485.5 114.7h0M445.7 150.6h0M462.8 114.7h0M453.0 151.2h0M454.2 136.8h0M468.0 111.0h0M456.7 146.8h0M473.6 124.8h0M485.0 112.0h0M472.1 132.5h0M449.5 147.1h0M491.4 110.3h0M464.2 137.6h0M457.1 139.4h0M484.3 111.3h0M447.1 145.8h0M452.8 127.1h0M440.1 123.8h0M464.6 127.5h0M471.2 112.4h0M463.4 126.2h0M455.8 133.4h0M491.4 118.5h0M473.4 119.8h0M447.9 145.9h0M475.1 129.0h0M493.2 104.9h0M445.2 140.5h0M476.9 109.5h0M455.7 145.6h0M461.4 136.2h0M461.0 128.7h0M459.1 134.4h0M458.2 132.8h0M457.3 139.4h0M446.7 139.3h0M454.8 144.1h0M495.5 106.9h0M454.0 130.4h0M482.6 101.6h0M498.2 102.9h0M490.3 96.7h0M484.1 123.9h0M477.4 119.1h0M493.0 111.3h0M490.6 124.7h0M463.3 135.5h0M465.3 129.3h0"/><path stroke="#31c69f" d="M466.0 137.4h0M488.3 101.6h0M459.7 129.8h0M476.2 140.1h0M442.6 143.7h0M460.9 141.0h0M475.9 113.4h0M461.6 118.7h0M451.8 144.1h0M456.4 125.7h0M449.7 149.2h0M482.7 115.0h0M454.5 144.4h0M457.4 138.4h0M474.3 119.4h0M450.1 141.7h0M474.3 126.4h0M473.3 125.6h0M468.9 133.1h0M486.5 114.3h0M478.3 133.1h0M467.3 113.9h0M479.4 114.7h0M467.1 134.4h0M465.4 122.6h0M468.3 135.0h0M463.5 111.6h0"/><path stroke="#37c897" d="M489.9 121.6h0M480.8 122.4h0M477.0 134.6h0M461.2 130.9h0M460.0 130.0h0M454.4 131.9h0M485.0 122.5h0M494.4 111.8h0M491.9 125.9h0M439.2 145.9h0M481.0 124.1h0M478.0 122.1h0M476.3 122.8h0M448.1 149.7h0M449.6 144.8h0M453.1 151.2h0M475.3 122.1h0M458.1 148.6h0M450.7 136.4h0M455.9 139.3h0M492.1 103.4h0M493.8 106.2h0M465.3 136.4h0M449.2 149.9h0M480.0 117.6h0M471.9 114.7h0M471.6 117.2h0M465.7 129.7h0M487.1 117.1h0M472.2 99.9h0M481.9 120.0h0M488.6 115.1h0M492.5 104.9h0M473.6 127.0h0M490.2 121.0h0M447.0 148.2h0M497.0 114.1h0M497.0 106.1h0M468.9 145.4h0M468.0 145.3h0M493.7 100.0h0M473.2 129.7h0M493.5 116.3h0M457.1 143.1h0M467.3 142.5h0M466.8 135.8h0M472.6 143.3h0M465.6 146.6h0M482.9 112.7h0M456.3 133.8h0"/><path stroke="#3fca8e" d="M456.3 146.7h0M451.9 151.5h0M485.5 117.8h0M477.6 124.9h0M497.1 114.6h0M490.5 115.2h0M465.3 150.8h0M459.8 128.7h0M459.7 141.1h0M481.5 132.2h0M469.2 139.8h0M467.9 128.5h0M492.8 117.3h0M492.2 118.9h0M480.5 122.8h0M478.1 137.1h0M489.7 130.1h0M469.6 145.7h0M462.2 133.6h0M489.0 114.4h0M455.1 147.6h0M466.2 129.6h0M458.6 125.0h0M478.0 116.0h0M460.4 139.4h0M451.1 139.4h0M492.0 109.0h0M475.0 114.7h0M466.5 145.4h0M493.7 123.8h0M453.9 125.8h0M481.4 127.8h0M487.7 116.7h0M483.3 111.3h0M467.6 124.4h0"/><path stroke="#4acb84" d="M489.6 120.7h0M466.5 123.5h0M490.1 115.4h0M462.0 139.9h0M476.5 125.5h0M492.9 111.2h0M486.4 130.5h0M479.2 132.5h0M487.0 112.7h0M467.7 126.7h0M475.5 129.5h0M495.3 108.7h0M454.4 149.3h0M472.1 118.2h0M453.5 128.0h0M469.8 116.3h0M456.5 128.9h0M459.2 150.7h0M456.3 140.4h0M472.8 143.4h0M490.4 129.8h0M475.1 132.5h0M483.3 126.5h0M465.8 146.8h0M467.5 133.9h0M481.4 125.8h0M477.0 126.6h0M452.4 133.2h0M476.4 139.1h0M457.7 141.1h0M470.1 125.6h0M478.5 117.8h0M467.0 132.7h0M461.2 147.8h0M457.3 129.6h0M487.0 124.0h0M496.1 117.4h0"/><path stroke="#57cc7a" d="M461.9 130.3h0M488.6 112.7h0M457.7 135.8h0M498.4 112.7h0M454.6 137.1h0M459.5 135.9h0M475.0 137.1h0M462.9 147.3h0M483.2 130.3h0M479.4 136.4h0M486.3 125.5h0M480.7 126.5h0M468.4 135.9h0M487.5 121.1h0M487.1 127.3h0M472.8 131.5h0M470.7 145.9h0M473.8 140.3h0M474.1 121.7h0M478.3 135.9h0M450.0 145.0h0M483.4 131.7h0M482.0 128.3h0M458.5 132.3h0M497.8 123.1h0M484.2 123.7h0M466.8 140.4h0M460.1 151.6h0M491.9 121.5h0"/><path stroke="#64cd6f" d="M480.0 127.4h0M455.8 143.9h0M497.4 103.1h0M465.1 128.8h0M482.3 128.1h0M487.8 113.9h0M491.5 113.8h0M478.5 140.8h0M489.3 122.2h0M461.2 151.6h0M473.0 129.7h0M473.6 149.0h0M493.5 116.5h0M462.3 148.5h0M479.7 129.4h0M460.5 146.9h0M480.0 141.1h0M475.8 148.9h0M468.6 127.7h0M487.8 121.6h0M477.8 133.1h0M480.6 123.7h0M461.9 127.8h0M478.9 140.3h0M493.5 115.9h0M473.8 145.7h0M479.0 127.7h0M459.9 126.8h0"/><path stroke="#72cd64" d="M486.3 132.3h0M464.6 136.3h0M467.3 143.6h0M489.6 120.6h0M492.7 129.1h0M487.7 131.8h0M459.6 145.0h0M490.9 109.7h0M468.2 147.8h0M495.9 132.3h0M488.0 123.8h0M468.6 141.4h0M478.2 137.2h0M491.5 120.4h0M473.3 138.3h0M477.1 134.2h0M479.4 139.7h0M457.3 151.7h0M479.8 138.3h0M467.1 134.7h0M495.6 127.2h0M469.9 127.8h0M497.6 113.0h0M456.6 150.9h0M492.6 129.2h0M463.5 146.8h0M494.2 120.6h0M477.0 135.9h0M460.6 121.3h0M473.9 137.4h0M469.5 134.1h0M488.2 114.7h0M474.2 134.0h0M497.7 121.3h0"/><path stroke="#81cc59" d="M479.6 138.4h0M488.0 139.2h0M464.1 148.1h0M484.7 128.4h0M493.4 125.6h0M481.7 141.5h0M473.7 128.6h0M491.5 131.7h0M495.1 111.7h0M471.6 136.1h0M474.1 119.6h0M478.8 122.4h0M481.3 128.0h0M491.4 130.9h0M470.9 130.9h0M486.3 127.4h0M492.8 139.9h0M489.5 135.3h0M470.1 144.2h0M495.8 113.6h0M451.8 143.1h0M489.6 127.9h0M465.5 141.1h0M479.6 119.0h0M479.8 129.3h0M462.8 151.8h0M451.3 151.6h0M490.2 124.3h0M490.9 127.3h0"/><path stroke="#8fcb4e" d="M469.2 126.2h0M482.2 124.5h0M473.2 123.4h0M484.4 139.2h0M481.4 141.1h0M486.5 127.8h0M464.7 149.2h0M461.9 151.8h0M484.1 130.3h0M465.0 144.1h0M487.0 136.7h0M468.5 130.4h0M478.3 145.6h0M489.5 118.7h0M483.7 140.0h0M494.1 134.0h0M458.4 144.3h0M466.4 143.8h0M478.7 145.0h0M489.7 133.0h0M492.4 125.6h0M493.7 132.5h0M471.1 131.9h0M476.1 128.9h0M473.6 137.3h0M478.9 142.8h0"/><path stroke="#9dc943" d="M470.4 146.7h0M469.4 151.9h0M484.7 117.8h0M488.6 131.9h0M485.5 133.1h0M476.5 148.8h0M486.4 129.4h0M468.4 140.0h0M463.0 149.6h0M491.3 134.2h0M460.3 148.0h0M481.7 135.6h0M468.6 148.8h0M494.2 119.9h0M475.7 142.2h0M492.9 129.3h0M488.5 125.3h0M494.6 120.4h0M488.2 136.2h0M477.8 126.9h0M475.0 145.5h0M492.1 135.1h0M489.9 109.4h0M494.3 115.6h0M483.2 135.7h0M479.9 129.2h0M468.2 135.7h0M479.6 120.8h0"/><path stroke="#abc739" d="M480.4 130.2h0M485.5 120.8h0M496.9 123.2h0M487.7 142.1h0M480.6 128.6h0M485.4 132.5h0M496.7 117.7h0M496.0 125.6h0M489.0 139.3h0M482.8 136.8h0M468.3 149.6h0M479.0 140.2h0M465.1 129.6h0M482.9 121.4h0M482.2 145.1h0M471.3 149.5h0M493.7 128.0h0M486.9 122.7h0M493.6 128.8h0"/><path stroke="#b9c431" d="M482.1 149.0h0M480.4 134.8h0M494.3 133.1h0M488.0 135.6h0M469.2 130.9h0M483.8 130.9h0M492.6 125.1h0M484.9 143.3h0M488.2 144.4h0M474.7 135.7h0M464.6 137.8h0M495.1 129.8h0M474.6 145.6h0M479.6 145.2h0M476.2 140.3h0M472.5 134.1h0M477.6 144.5h0M475.2 147.4h0M497.5 123.9h0"/><path stroke="#c5c22a" d="M494.2 136.4h0M497.5 127.2h0M493.7 137.4h0M482.9 150.8h0M495.7 136.7h0M488.7 149.5h0M469.1 150.9h0M484.0 146.7h0M474.4 136.9h0M488.7 148.5h0M474.4 134.2h0M484.9 136.8h0M477.2 151.3h0M479.7 144.5h0M492.8 138.0h0M493.1 123.1h0M478.9 136.4h0M485.4 142.1h0M478.6 147.2h0M470.1 141.9h0M477.2 139.8h0M474.8 138.7h0M493.1 126.8h0M494.7 138.7h0M476.0 143.7h0M472.3 150.6h0M490.3 137.9h0M462.7 148.6h0M495.2 128.9h0M475.8 143.0h0M494.4 135.6h0M489.5 136.9h0"/><path stroke="#d1bf27" d="M487.1 139.6h0M488.8 136.3h0M470.9 150.6h0M484.9 137.4h0M482.7 141.1h0M491.3 147.1h0M492.9 136.1h0M485.9 132.9h0M486.0 141.1h0M473.5 134.2h0M496.3 119.2h0M497.5 140.8h0M473.0 147.0h0M481.5 128.3h0M473.5 137.0h0M485.7 132.6h0M480.9 148.8h0M476.3 147.9h0M477.7 145.2h0M480.7 133.5h0M476.9 145.6h0M480.0 151.7h0"/><path stroke="#dcbd29" d="M496.7 133.6h0M475.1 149.0h0M488.8 143.4h0M491.7 137.3h0M492.2 134.8h0M491.9 135.1h0M488.6 135.9h0M488.9 136.5h0M486.2 145.8h0M494.1 146.7h0M494.8 141.6h0M486.7 137.6h0M490.7 134.0h0M497.2 136.7h0M493.7 140.0h0"/><path stroke="#e6bb2d" d="M494.2 142.3h0M489.9 128.9h0M495.9 137.3h0M483.9 141.5h0M486.0 134.5h0M496.7 141.3h0M492.8 135.5h0M485.8 146.3h0M480.4 145.0h0M487.9 147.7h0M488.1 132.8h0M475.4 148.6h0M497.4 133.8h0M490.6 136.7h0M483.1 135.2h0M487.8 147.2h0M496.8 142.2h0M489.8 135.2h0M472.0 149.4h0M496.2 123.1h0M490.4 140.7h0M478.9 147.5h0M486.6 137.8h0"/><path stroke="#f0ba36" d="M493.7 143.6h0M484.8 146.8h0M486.8 146.2h0M491.3 144.1h0M485.3 142.3h0M490.0 145.8h0M489.8 145.1h0M493.4 144.4h0M498.0 139.2h0M475.4 151.3h0M486.3 140.0h0M488.5 147.3h0"/><path stroke="#f8ba3d" d="M491.2 140.9h0M497.5 139.9h0M486.9 149.3h0M491.8 138.8h0M474.8 148.5h0M485.8 141.5h0M481.6 137.1h0M490.0 136.7h0M480.2 151.0h0"/><path stroke="#febe3c" d="M497.9 143.2h0M484.0 146.9h0M497.7 133.4h0M496.0 133.4h0M487.6 143.1h0M497.5 144.4h0M495.3 138.5h0M498.4 148.1h0M490.8 149.4h0M490.4 146.6h0M491.1 148.3h0M489.5 144.1h0M497.6 147.2h0M492.5 139.7h0"/><path stroke="#fec338" d="M486.5 143.2h0M494.8 141.1h0M490.4 147.7h0M493.0 151.2h0"/><path stroke="#fec934" d="M498.3 148.6h0M494.6 143.0h0M495.6 150.5h0M498.5 147.1h0M489.6 150.0h0"/><path stroke="#fccf30" d="M494.4 139.2h0M492.3 151.8h0M496.2 143.2h0M484.8 151.5h0M489.6 151.2h0"/><path stroke="#fad62d" d="M481.6 145.0h0"/><path stroke="#f7dc2a" d="M481.8 150.2h0M487.9 149.0h0M492.8 140.3h0"/><path stroke="#f5e327" d="M498.1 149.6h0"/><path stroke="#f5e924" d="M495.7 141.9h0"/><path stroke="#f6ef20" d="M498.4 138.9h0"/><path stroke="#f7f51b" d="M497.3 149.0h0"/></g><g font-family="'Liberation Sans', Arial, Helvetica, sans-serif" font-size="8.4" fill="#262626" stroke="#262626" stroke-width="0.2"><text transform="translate(42.90 104.90) scale(0.952 1.066)" text-anchor="end">0</text><text transform="translate(42.90 86.70) scale(0.952 1.066)" text-anchor="end">0.2</text><text transform="translate(42.90 68.50) scale(0.952 1.066)" text-anchor="end">0.4</text><text transform="translate(42.90 50.30) scale(0.952 1.066)" text-anchor="end">0.6</text><text transform="translate(42.90 32.10) scale(0.952 1.066)" text-anchor="end">0.8</text><text transform="translate(42.90 13.90) scale(0.952 1.066)" text-anchor="end">1</text><text transform="translate(45.50 112.40) scale(0.952 1.066)" text-anchor="middle">0</text><text transform="translate(95.00 112.40) scale(0.952 1.066)" text-anchor="middle">20</text><text transform="translate(144.50 112.40) scale(0.952 1.066)" text-anchor="middle">40</text><text x="95.00" y="125.80" text-anchor="middle" font-size="9">SMA (in 10<tspan font-size="6.5" dy="-3.9">3</tspan><tspan dy="3.9"> km)</tspan></text><text transform="translate(29.00 56.20) rotate(-90)" text-anchor="middle" font-size="9">e</text></g><g font-family="'Liberation Sans', Arial, Helvetica, sans-serif" font-size="8.4" fill="#262626" stroke="#262626" stroke-width="0.2"><text transform="translate(220.90 104.90) scale(0.952 1.066)" text-anchor="end">0</text><text transform="translate(220.90 86.70) scale(0.952 1.066)" text-anchor="end">0.2</text><text transform="translate(220.90 68.50) scale(0.952 1.066)" text-anchor="end">0.4</text><text transform="translate(220.90 50.30) scale(0.952 1.066)" text-anchor="end">0.6</text><text transform="translate(220.90 32.10) scale(0.952 1.066)" text-anchor="end">0.8</text><text transform="translate(220.90 13.90) scale(0.952 1.066)" text-anchor="end">1</text><text transform="translate(223.50 112.40) scale(0.952 1.066)" text-anchor="middle">0</text><text transform="translate(273.00 112.40) scale(0.952 1.066)" text-anchor="middle">20</text><text transform="translate(322.50 112.40) scale(0.952 1.066)" text-anchor="middle">40</text><text x="273.00" y="125.80" text-anchor="middle" font-size="9">SMA (in 10<tspan font-size="6.5" dy="-3.9">3</tspan><tspan dy="3.9"> km)</tspan></text><text transform="translate(207.00 56.20) rotate(-90)" text-anchor="middle" font-size="9">e</text></g><g font-family="'Liberation Sans', Arial, Helvetica, sans-serif" font-size="8.4" fill="#262626" stroke="#262626" stroke-width="0.2"><text transform="translate(42.90 235.90) scale(0.952 1.066)" text-anchor="end">0</text><text transform="translate(42.90 217.70) scale(0.952 1.066)" text-anchor="end">0.2</text><text transform="translate(42.90 199.50) scale(0.952 1.066)" text-anchor="end">0.4</text><text transform="translate(42.90 181.30) scale(0.952 1.066)" text-anchor="end">0.6</text><text transform="translate(42.90 163.10) scale(0.952 1.066)" text-anchor="end">0.8</text><text transform="translate(42.90 144.90) scale(0.952 1.066)" text-anchor="end">1</text><text transform="translate(45.50 243.40) scale(0.952 1.066)" text-anchor="middle">0</text><text transform="translate(95.00 243.40) scale(0.952 1.066)" text-anchor="middle">20</text><text transform="translate(144.50 243.40) scale(0.952 1.066)" text-anchor="middle">40</text><text x="95.00" y="256.80" text-anchor="middle" font-size="9">SMA (in 10<tspan font-size="6.5" dy="-3.9">3</tspan><tspan dy="3.9"> km)</tspan></text><text transform="translate(29.00 187.20) rotate(-90)" text-anchor="middle" font-size="9">e</text></g><g font-family="'Liberation Sans', Arial, Helvetica, sans-serif" font-size="8.4" fill="#262626" stroke="#262626" stroke-width="0.2"><text transform="translate(220.90 235.90) scale(0.952 1.066)" text-anchor="end">0</text><text transform="translate(220.90 217.70) scale(0.952 1.066)" text-anchor="end">0.2</text><text transform="translate(220.90 199.50) scale(0.952 1.066)" text-anchor="end">0.4</text><text transform="translate(220.90 181.30) scale(0.952 1.066)" text-anchor="end">0.6</text><text transform="translate(220.90 163.10) scale(0.952 1.066)" text-anchor="end">0.8</text><text transform="translate(220.90 144.90) scale(0.952 1.066)" text-anchor="end">1</text><text transform="translate(223.50 243.40) scale(0.952 1.066)" text-anchor="middle">0</text><text transform="translate(273.00 243.40) scale(0.952 1.066)" text-anchor="middle">20</text><text transform="translate(322.50 243.40) scale(0.952 1.066)" text-anchor="middle">40</text><text x="273.00" y="256.80" text-anchor="middle" font-size="9">SMA (in 10<tspan font-size="6.5" dy="-3.9">3</tspan><tspan dy="3.9"> km)</tspan></text><text transform="translate(207.00 187.20) rotate(-90)" text-anchor="middle" font-size="9">e</text></g><g font-family="'Liberation Sans', Arial, Helvetica, sans-serif" font-size="8.4" fill="#262626" stroke="#262626" stroke-width="0.2"><text transform="translate(398.90 159.90) scale(0.952 1.066)" text-anchor="end">0</text><text transform="translate(398.90 141.70) scale(0.952 1.066)" text-anchor="end">0.2</text><text transform="translate(398.90 123.50) scale(0.952 1.066)" text-anchor="end">0.4</text><text transform="translate(398.90 105.30) scale(0.952 1.066)" text-anchor="end">0.6</text><text transform="translate(398.90 87.10) scale(0.952 1.066)" text-anchor="end">0.8</text><text transform="translate(398.90 68.90) scale(0.952 1.066)" text-anchor="end">1</text><text transform="translate(401.50 167.40) scale(0.952 1.066)" text-anchor="middle">0</text><text transform="translate(450.00 167.40) scale(0.952 1.066)" text-anchor="middle">20</text><text transform="translate(498.50 167.40) scale(0.952 1.066)" text-anchor="middle">40</text><text x="450.00" y="180.80" text-anchor="middle" font-size="9">SMA (in 10<tspan font-size="6.5" dy="-3.9">3</tspan><tspan dy="3.9"> km)</tspan></text><text transform="translate(385.00 111.20) rotate(-90)" text-anchor="middle" font-size="9">e</text></g><rect x="152.50" y="10.50" width="6.50" height="91.00" fill="url(#gN)" stroke="#b8b8b8" stroke-width="0.5"/><g font-family="'Liberation Sans', Arial, Helvetica, sans-serif" font-size="8" fill="#262626"><text x="161.60" y="22.30">10<tspan font-size="5.5" dy="-3.3">0.5</tspan></text><text x="161.60" y="43.05">10<tspan font-size="5.5" dy="-3.3">0.0</tspan></text><text x="161.60" y="63.80">10<tspan font-size="5.5" dy="-3.3">-0.5</tspan></text><text x="161.60" y="84.55">10<tspan font-size="5.5" dy="-3.3">-1.0</tspan></text><text x="161.60" y="105.30">10<tspan font-size="5.5" dy="-3.3">-1.5</tspan></text></g><text transform="translate(186.60 94.60) rotate(-90)" text-anchor="start" font-family="'Liberation Serif', 'Times New Roman', serif" font-size="8.20" fill="#3a3a3a">Mean of Cartesian APE</text><rect x="152.50" y="141.50" width="6.50" height="91.00" fill="url(#gN)" stroke="#b8b8b8" stroke-width="0.5"/><g font-family="'Liberation Sans', Arial, Helvetica, sans-serif" font-size="8" fill="#262626"><text x="161.60" y="153.30">10<tspan font-size="5.5" dy="-3.3">0.5</tspan></text><text x="161.60" y="174.05">10<tspan font-size="5.5" dy="-3.3">0.0</tspan></text><text x="161.60" y="194.80">10<tspan font-size="5.5" dy="-3.3">-0.5</tspan></text><text x="161.60" y="215.55">10<tspan font-size="5.5" dy="-3.3">-1.0</tspan></text><text x="161.60" y="236.30">10<tspan font-size="5.5" dy="-3.3">-1.5</tspan></text></g><text transform="translate(186.60 225.80) rotate(-90)" text-anchor="start" font-family="'Liberation Serif', 'Times New Roman', serif" font-size="8.20" fill="#3a3a3a">Mean of Cartesian APE</text><rect x="330.50" y="10.50" width="6.50" height="91.00" fill="url(#gN)" stroke="#b8b8b8" stroke-width="0.5"/><g font-family="'Liberation Sans', Arial, Helvetica, sans-serif" font-size="8" fill="#262626"><text x="339.60" y="26.70">10<tspan font-size="5.5" dy="-3.3">1.0</tspan></text><text x="339.60" y="57.00">10<tspan font-size="5.5" dy="-3.3">0.5</tspan></text><text x="339.60" y="87.30">10<tspan font-size="5.5" dy="-3.3">0.0</tspan></text></g><text transform="translate(362.60 101.10) rotate(-90)" text-anchor="start" font-family="'Liberation Serif', 'Times New Roman', serif" font-size="7.95" fill="#3a3a3a">Mean of Cartesian MdAPE<tspan font-size="5" font-style="italic" dy="1.6">r</tspan></text><rect x="330.50" y="141.50" width="6.50" height="91.00" fill="url(#gN)" stroke="#b8b8b8" stroke-width="0.5"/><g font-family="'Liberation Sans', Arial, Helvetica, sans-serif" font-size="8" fill="#262626"><text x="339.60" y="157.70">10<tspan font-size="5.5" dy="-3.3">1.0</tspan></text><text x="339.60" y="188.00">10<tspan font-size="5.5" dy="-3.3">0.5</tspan></text><text x="339.60" y="218.30">10<tspan font-size="5.5" dy="-3.3">0.0</tspan></text></g><text transform="translate(362.60 232.10) rotate(-90)" text-anchor="start" font-family="'Liberation Serif', 'Times New Roman', serif" font-size="7.95" fill="#3a3a3a">Mean of Cartesian MdAPE<tspan font-size="5" font-style="italic" dy="1.6">r</tspan></text><rect x="506.50" y="65.50" width="6.00" height="91.00" fill="url(#gR)" stroke="#b8b8b8" stroke-width="0.5"/><g font-family="'Liberation Sans', Arial, Helvetica, sans-serif" font-size="8" fill="#262626"><text x="515.10" y="85.50">10<tspan font-size="5.5" dy="-3.3">-2.0</tspan></text><text x="515.10" y="105.43">10<tspan font-size="5.5" dy="-3.3">-2.5</tspan></text><text x="515.10" y="125.36">10<tspan font-size="5.5" dy="-3.3">-3.0</tspan></text><text x="515.10" y="145.29">10<tspan font-size="5.5" dy="-3.3">-3.5</tspan></text></g><text transform="translate(541.80 110.50) rotate(-90)" text-anchor="middle" font-family="'Liberation Serif', 'Times New Roman', serif" font-size="8.00" fill="#3a3a3a"><tspan font-weight="bold">L</tspan><tspan font-size="5" dy="1.8">1</tspan><tspan font-size="5" dx="-2.5" dy="-5">T</tspan><tspan dy="3.2"> (</tspan><tspan font-weight="bold">L</tspan><tspan font-size="5" dy="1.8">2</tspan><tspan dy="-1.8"> × </tspan><tspan font-weight="bold">L</tspan><tspan font-size="5" dy="1.8">3</tspan><tspan dy="-1.8">)</tspan></text><g font-family="'Liberation Serif', 'Times New Roman', serif" font-size="11" fill="#000"><text transform="translate(12.1 76) rotate(-90)" text-anchor="middle" font-size="11.6" textLength="61" lengthAdjust="spacingAndGlyphs">Gauss–Gibbs</text><text transform="translate(12.1 201.9) rotate(-90)" text-anchor="middle">MV-GPR</text><text x="108.2" y="272.3" text-anchor="middle">(a)</text><text x="286.7" y="272.3" text-anchor="middle">(b)</text><text x="462" y="272.3" text-anchor="middle">(c)</text></g></svg></body></html>
